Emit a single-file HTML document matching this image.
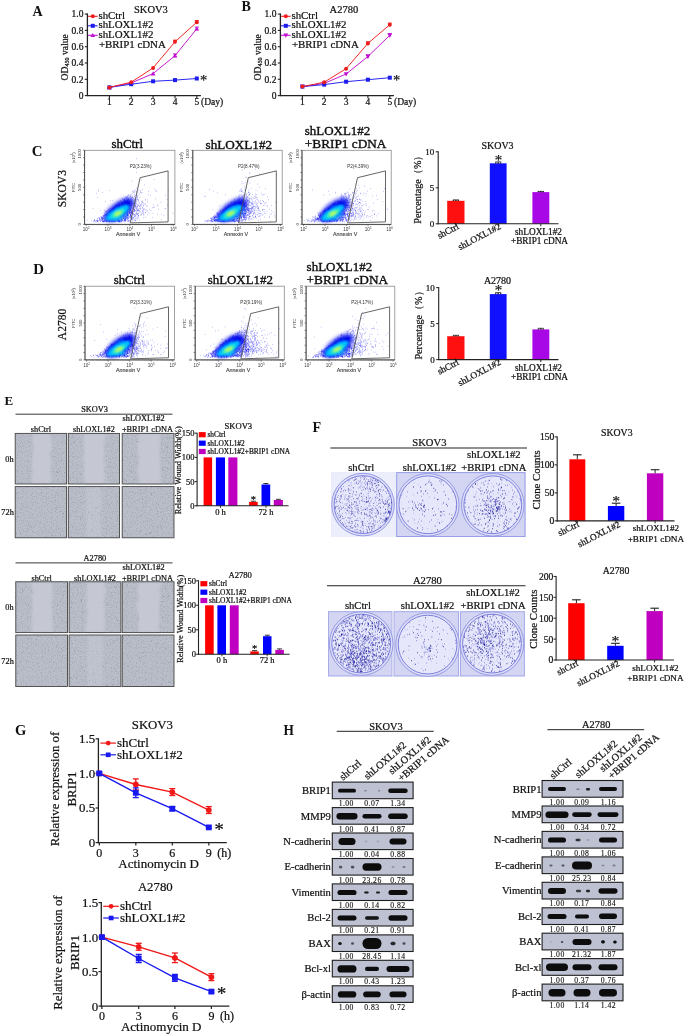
<!DOCTYPE html>
<html><head><meta charset="utf-8"><style>
html,body{margin:0;padding:0;background:#fff;}
svg{display:block;}
text{font-family:'Liberation Serif','Times New Roman',serif;}
</style></head><body>
<svg width="685" height="1035" viewBox="0 0 685 1035">
<defs><filter id="fblur" x="-50%" y="-50%" width="200%" height="200%"><feGaussianBlur stdDeviation="2"/></filter><filter id="fblur2" x="-50%" y="-50%" width="200%" height="200%"><feGaussianBlur stdDeviation="1.2"/></filter><filter id="bblur" x="-20%" y="-50%" width="140%" height="200%"><feGaussianBlur stdDeviation="0.7"/></filter><filter id="wnoise" x="0" y="0" width="100%" height="100%"><feTurbulence type="fractalNoise" baseFrequency="0.8" numOctaves="3" seed="7"/><feColorMatrix type="matrix" values="0 0 0 0 0.32  0 0 0 0 0.34  0 0 0 0 0.40  2.1 0 0 0 -0.98"/></filter><filter id="soft" x="-10%" y="-10%" width="120%" height="120%"><feGaussianBlur stdDeviation="1.1"/></filter></defs>
<text x="32.4" y="15.8" font-size="14" font-weight="bold" fill="#111">A</text>
<text x="150.9" y="12.8" font-size="10.5" text-anchor="middle" fill="#111" stroke="#111" stroke-width="0.22">SKOV3</text>
<line x1="87.4" y1="13.4" x2="87.4" y2="96.1" stroke="#222" stroke-width="1.3"/>
<line x1="86.8" y1="95.6" x2="200.9" y2="95.6" stroke="#222" stroke-width="1.3"/>
<line x1="84.8" y1="95.6" x2="87.4" y2="95.6" stroke="#222" stroke-width="1.1"/>
<text x="83.4" y="98.8" font-size="9.5" text-anchor="end" fill="#111" stroke="#111" stroke-width="0.22">0</text>
<line x1="84.8" y1="79.3" x2="87.4" y2="79.3" stroke="#222" stroke-width="1.1"/>
<text x="83.4" y="82.5" font-size="9.5" text-anchor="end" fill="#111" stroke="#111" stroke-width="0.22">0.2</text>
<line x1="84.8" y1="63" x2="87.4" y2="63" stroke="#222" stroke-width="1.1"/>
<text x="83.4" y="66.2" font-size="9.5" text-anchor="end" fill="#111" stroke="#111" stroke-width="0.22">0.4</text>
<line x1="84.8" y1="46.7" x2="87.4" y2="46.7" stroke="#222" stroke-width="1.1"/>
<text x="83.4" y="49.9" font-size="9.5" text-anchor="end" fill="#111" stroke="#111" stroke-width="0.22">0.6</text>
<line x1="84.8" y1="30.4" x2="87.4" y2="30.4" stroke="#222" stroke-width="1.1"/>
<text x="83.4" y="33.6" font-size="9.5" text-anchor="end" fill="#111" stroke="#111" stroke-width="0.22">0.8</text>
<line x1="84.8" y1="14.1" x2="87.4" y2="14.1" stroke="#222" stroke-width="1.1"/>
<text x="83.4" y="17.3" font-size="9.5" text-anchor="end" fill="#111" stroke="#111" stroke-width="0.22">1.0</text>
<line x1="109.4" y1="95.6" x2="109.4" y2="98.2" stroke="#222" stroke-width="1.1"/>
<text x="109.4" y="104.9" font-size="9.5" text-anchor="middle" fill="#111" stroke="#111" stroke-width="0.22">1</text>
<line x1="131.2" y1="95.6" x2="131.2" y2="98.2" stroke="#222" stroke-width="1.1"/>
<text x="131.2" y="104.9" font-size="9.5" text-anchor="middle" fill="#111" stroke="#111" stroke-width="0.22">2</text>
<line x1="153.1" y1="95.6" x2="153.1" y2="98.2" stroke="#222" stroke-width="1.1"/>
<text x="153.1" y="104.9" font-size="9.5" text-anchor="middle" fill="#111" stroke="#111" stroke-width="0.22">3</text>
<line x1="175" y1="95.6" x2="175" y2="98.2" stroke="#222" stroke-width="1.1"/>
<text x="175" y="104.9" font-size="9.5" text-anchor="middle" fill="#111" stroke="#111" stroke-width="0.22">4</text>
<line x1="196.8" y1="95.6" x2="196.8" y2="98.2" stroke="#222" stroke-width="1.1"/>
<text x="196.8" y="104.9" font-size="9.5" text-anchor="middle" fill="#111" stroke="#111" stroke-width="0.22">5</text>
<text x="201" y="104.9" font-size="9.5" fill="#111" stroke="#111" stroke-width="0.22">(Day)</text>
<text x="67.9" y="57.3" font-size="9.6" text-anchor="middle" fill="#111" stroke="#111" stroke-width="0.22" transform="rotate(-90 67.9 57.3)">OD<tspan font-size="6.2" dy="1.5">450</tspan><tspan dy="-1.5"> value</tspan></text>
<polyline points="109.4,87.4 131.2,83 153.1,73.6 175,55.7 196.8,28.8" fill="none" stroke="#c010d0" stroke-width="0.95"/>
<polygon points="109.4,85 107,89.2 111.8,89.2" fill="#c010d0"/>
<polygon points="131.2,80.6 128.8,84.8 133.7,84.8" fill="#c010d0"/>
<polygon points="153.1,71.2 150.7,75.4 155.5,75.4" fill="#c010d0"/>
<polygon points="175,53.3 172.6,57.5 177.4,57.5" fill="#c010d0"/>
<polygon points="196.8,26.4 194.4,30.6 199.2,30.6" fill="#c010d0"/>
<polyline points="109.4,87.4 131.2,84.2 153.1,81.3 175,80.1 196.8,78.5" fill="none" stroke="#1c1cee" stroke-width="0.95"/>
<rect x="107.4" y="85.4" width="4" height="4" fill="#1c1cee"/>
<rect x="129.2" y="82.2" width="4" height="4" fill="#1c1cee"/>
<rect x="151.1" y="79.3" width="4" height="4" fill="#1c1cee"/>
<rect x="173" y="78.1" width="4" height="4" fill="#1c1cee"/>
<rect x="194.8" y="76.5" width="4" height="4" fill="#1c1cee"/>
<polyline points="109.4,87.4 131.2,82.2 153.1,67.9 175,41.8 196.8,22.2" fill="none" stroke="#ee1c1c" stroke-width="0.95"/>
<circle cx="109.4" cy="87.4" r="2" fill="#ee1c1c"/>
<circle cx="131.2" cy="82.2" r="2" fill="#ee1c1c"/>
<circle cx="153.1" cy="67.9" r="2" fill="#ee1c1c"/>
<circle cx="175" cy="41.8" r="2" fill="#ee1c1c"/>
<circle cx="196.8" cy="22.2" r="2" fill="#ee1c1c"/>
<line x1="196.8" y1="20.6" x2="196.8" y2="23.9" stroke="#ee1c1c" stroke-width="1"/>
<line x1="194.8" y1="20.6" x2="198.8" y2="20.6" stroke="#ee1c1c" stroke-width="1"/>
<line x1="196.8" y1="27.1" x2="196.8" y2="30.4" stroke="#c010d0" stroke-width="1"/>
<line x1="194.8" y1="27.1" x2="198.8" y2="27.1" stroke="#c010d0" stroke-width="1"/>
<line x1="175" y1="40.2" x2="175" y2="43.4" stroke="#ee1c1c" stroke-width="1"/>
<line x1="173" y1="40.2" x2="177" y2="40.2" stroke="#ee1c1c" stroke-width="1"/>
<line x1="175" y1="54" x2="175" y2="57.3" stroke="#c010d0" stroke-width="1"/>
<line x1="173" y1="54" x2="177" y2="54" stroke="#c010d0" stroke-width="1"/>
<text x="203.5" y="84.8" font-size="14.5" text-anchor="middle" fill="#111" stroke="#111" stroke-width="0.22">*</text>
<line x1="88.1" y1="16.3" x2="97.6" y2="16.3" stroke="#ee1c1c" stroke-width="1.1"/>
<circle cx="92.8" cy="16.3" r="2" fill="#ee1c1c"/>
<line x1="88.1" y1="25.8" x2="97.6" y2="25.8" stroke="#1c1cee" stroke-width="1.1"/>
<rect x="90.8" y="23.8" width="4" height="4" fill="#1c1cee"/>
<line x1="88.1" y1="35.3" x2="97.6" y2="35.3" stroke="#c010d0" stroke-width="1.1"/>
<polygon points="92.8,32.9 90.4,37.1 95.2,37.1" fill="#c010d0"/>
<text x="98.4" y="18.8" font-size="10.9" fill="#111" stroke="#111" stroke-width="0.22">shCtrl</text>
<text x="98.4" y="28.3" font-size="10.9" fill="#111" stroke="#111" stroke-width="0.22">shLOXL1#2</text>
<text x="98.4" y="37.8" font-size="10.9" fill="#111" stroke="#111" stroke-width="0.22">shLOXL1#2</text>
<text x="98.9" y="48.2" font-size="10.9" fill="#111" stroke="#111" stroke-width="0.22">+BRIP1 cDNA</text>
<text x="241.4" y="11.4" font-size="14" font-weight="bold" fill="#111">B</text>
<text x="343.9" y="12.8" font-size="10.5" text-anchor="middle" fill="#111" stroke="#111" stroke-width="0.22">A2780</text>
<line x1="280.4" y1="13.4" x2="280.4" y2="96.1" stroke="#222" stroke-width="1.3"/>
<line x1="279.8" y1="95.6" x2="393.9" y2="95.6" stroke="#222" stroke-width="1.3"/>
<line x1="277.8" y1="95.6" x2="280.4" y2="95.6" stroke="#222" stroke-width="1.1"/>
<text x="276.4" y="98.8" font-size="9.5" text-anchor="end" fill="#111" stroke="#111" stroke-width="0.22">0</text>
<line x1="277.8" y1="79.3" x2="280.4" y2="79.3" stroke="#222" stroke-width="1.1"/>
<text x="276.4" y="82.5" font-size="9.5" text-anchor="end" fill="#111" stroke="#111" stroke-width="0.22">0.2</text>
<line x1="277.8" y1="63" x2="280.4" y2="63" stroke="#222" stroke-width="1.1"/>
<text x="276.4" y="66.2" font-size="9.5" text-anchor="end" fill="#111" stroke="#111" stroke-width="0.22">0.4</text>
<line x1="277.8" y1="46.7" x2="280.4" y2="46.7" stroke="#222" stroke-width="1.1"/>
<text x="276.4" y="49.9" font-size="9.5" text-anchor="end" fill="#111" stroke="#111" stroke-width="0.22">0.6</text>
<line x1="277.8" y1="30.4" x2="280.4" y2="30.4" stroke="#222" stroke-width="1.1"/>
<text x="276.4" y="33.6" font-size="9.5" text-anchor="end" fill="#111" stroke="#111" stroke-width="0.22">0.8</text>
<line x1="277.8" y1="14.1" x2="280.4" y2="14.1" stroke="#222" stroke-width="1.1"/>
<text x="276.4" y="17.3" font-size="9.5" text-anchor="end" fill="#111" stroke="#111" stroke-width="0.22">1.0</text>
<line x1="302.4" y1="95.6" x2="302.4" y2="98.2" stroke="#222" stroke-width="1.1"/>
<text x="302.4" y="104.9" font-size="9.5" text-anchor="middle" fill="#111" stroke="#111" stroke-width="0.22">1</text>
<line x1="324.2" y1="95.6" x2="324.2" y2="98.2" stroke="#222" stroke-width="1.1"/>
<text x="324.2" y="104.9" font-size="9.5" text-anchor="middle" fill="#111" stroke="#111" stroke-width="0.22">2</text>
<line x1="346.1" y1="95.6" x2="346.1" y2="98.2" stroke="#222" stroke-width="1.1"/>
<text x="346.1" y="104.9" font-size="9.5" text-anchor="middle" fill="#111" stroke="#111" stroke-width="0.22">3</text>
<line x1="367.9" y1="95.6" x2="367.9" y2="98.2" stroke="#222" stroke-width="1.1"/>
<text x="367.9" y="104.9" font-size="9.5" text-anchor="middle" fill="#111" stroke="#111" stroke-width="0.22">4</text>
<line x1="389.8" y1="95.6" x2="389.8" y2="98.2" stroke="#222" stroke-width="1.1"/>
<text x="389.8" y="104.9" font-size="9.5" text-anchor="middle" fill="#111" stroke="#111" stroke-width="0.22">5</text>
<text x="394" y="104.9" font-size="9.5" fill="#111" stroke="#111" stroke-width="0.22">(Day)</text>
<text x="260.9" y="57.3" font-size="9.6" text-anchor="middle" fill="#111" stroke="#111" stroke-width="0.22" transform="rotate(-90 260.9 57.3)">OD<tspan font-size="6.2" dy="1.5">450</tspan><tspan dy="-1.5"> value</tspan></text>
<polyline points="302.4,86.6 324.2,83.4 346.1,74 367.9,56.5 389.8,35.3" fill="none" stroke="#c010d0" stroke-width="0.95"/>
<polygon points="302.4,89 300,84.8 304.8,84.8" fill="#c010d0"/>
<polygon points="324.2,85.8 321.9,81.6 326.6,81.6" fill="#c010d0"/>
<polygon points="346.1,76.4 343.7,72.2 348.5,72.2" fill="#c010d0"/>
<polygon points="367.9,58.9 365.6,54.7 370.3,54.7" fill="#c010d0"/>
<polygon points="389.8,37.7 387.4,33.5 392.2,33.5" fill="#c010d0"/>
<polyline points="302.4,86.6 324.2,84.6 346.1,81.7 367.9,79.7 389.8,77.7" fill="none" stroke="#1c1cee" stroke-width="0.95"/>
<rect x="300.4" y="84.6" width="4" height="4" fill="#1c1cee"/>
<rect x="322.2" y="82.6" width="4" height="4" fill="#1c1cee"/>
<rect x="344.1" y="79.7" width="4" height="4" fill="#1c1cee"/>
<rect x="365.9" y="77.7" width="4" height="4" fill="#1c1cee"/>
<rect x="387.8" y="75.7" width="4" height="4" fill="#1c1cee"/>
<polyline points="302.4,86.6 324.2,82.2 346.1,68.7 367.9,43.4 389.8,24.7" fill="none" stroke="#ee1c1c" stroke-width="0.95"/>
<circle cx="302.4" cy="86.6" r="2" fill="#ee1c1c"/>
<circle cx="324.2" cy="82.2" r="2" fill="#ee1c1c"/>
<circle cx="346.1" cy="68.7" r="2" fill="#ee1c1c"/>
<circle cx="367.9" cy="43.4" r="2" fill="#ee1c1c"/>
<circle cx="389.8" cy="24.7" r="2" fill="#ee1c1c"/>
<line x1="389.8" y1="23.1" x2="389.8" y2="26.3" stroke="#ee1c1c" stroke-width="1"/>
<line x1="387.8" y1="23.1" x2="391.8" y2="23.1" stroke="#ee1c1c" stroke-width="1"/>
<line x1="389.8" y1="33.7" x2="389.8" y2="36.9" stroke="#c010d0" stroke-width="1"/>
<line x1="387.8" y1="33.7" x2="391.8" y2="33.7" stroke="#c010d0" stroke-width="1"/>
<line x1="367.9" y1="41.8" x2="367.9" y2="45.1" stroke="#ee1c1c" stroke-width="1"/>
<line x1="365.9" y1="41.8" x2="369.9" y2="41.8" stroke="#ee1c1c" stroke-width="1"/>
<line x1="367.9" y1="54.8" x2="367.9" y2="58.1" stroke="#c010d0" stroke-width="1"/>
<line x1="365.9" y1="54.8" x2="369.9" y2="54.8" stroke="#c010d0" stroke-width="1"/>
<text x="396.5" y="84.8" font-size="14.5" text-anchor="middle" fill="#111" stroke="#111" stroke-width="0.22">*</text>
<line x1="281.1" y1="16.3" x2="290.6" y2="16.3" stroke="#ee1c1c" stroke-width="1.1"/>
<circle cx="285.8" cy="16.3" r="2" fill="#ee1c1c"/>
<line x1="281.1" y1="25.8" x2="290.6" y2="25.8" stroke="#1c1cee" stroke-width="1.1"/>
<rect x="283.8" y="23.8" width="4" height="4" fill="#1c1cee"/>
<line x1="281.1" y1="35.3" x2="290.6" y2="35.3" stroke="#c010d0" stroke-width="1.1"/>
<polygon points="285.8,37.7 283.4,33.5 288.2,33.5" fill="#c010d0"/>
<text x="291.4" y="18.8" font-size="10.9" fill="#111" stroke="#111" stroke-width="0.22">shCtrl</text>
<text x="291.4" y="28.3" font-size="10.9" fill="#111" stroke="#111" stroke-width="0.22">shLOXL1#2</text>
<text x="291.4" y="37.8" font-size="10.9" fill="#111" stroke="#111" stroke-width="0.22">shLOXL1#2</text>
<text x="291.9" y="48.2" font-size="10.9" fill="#111" stroke="#111" stroke-width="0.22">+BRIP1 cDNA</text>
<text x="31.8" y="155.5" font-size="14.8" font-weight="bold" fill="#111">C</text>
<text x="66.4" y="188.6" font-size="11.5" text-anchor="middle" fill="#111" stroke="#111" stroke-width="0.22" transform="rotate(-90 66.4 188.6)">SKOV3</text>
<rect x="84.6" y="150.3" width="90.3" height="74.1" fill="#fff" stroke="#8a8a8a" stroke-width="0.8"/>
<g filter="url(#fblur)">
<ellipse cx="119.6" cy="209.8" rx="17" ry="7.5" fill="#0410e8" transform="rotate(-36 119.6 209.8)"/>
</g>
<path transform="translate(84.6 150.3) scale(0.2)" d="M259 42h2m-4 69h2m25 38h2m60-3h2m-112 7h2m60 20h2m-41 16h2m28 7h2m60-1h2m-283 4h2m53 2h2m124 2h2m-2-5h2m15 2h2m8 1h2m75 2h2m61-2h2m-353 3h2m168 5h2m1-5h2m0 1h2m6 0h2m5 2h2m-1 2h2m18-1h2m39-2h2m38-1h2m-301 10h2m27-5h2m151 2h2m4-1h2m16 3h2m12-4h2m1 2h2m3 1h2m-73 8h2m17-2h2m10 2h2m7-5h2m14 2h2m-56 8h2m6-2h2m26 1h2m1 1h2m1 0h2m4-1h2m47-3h2m9 5h2m74-2h2m-198 8h2m3-4h2m-1 3h2m11-4h2m1 5h2m-1-3h2m16 1h2m-1-1h2m9 3h2m-1-4h2m-201 7h2m133 3h2m4-2h2m-1-3h2m4 3h2m1-2h2m19 3h2m-1-2h2m1-2h2m0 2h2m20-1h2m-2 4h2m0-5h2m10 2h2m-88 6h2m-2 1h2m1 2h2m0 0h2m9-5h2m-1 2h2m-2 3h2m1-4h2m0 1h2m1 0h2m0-2h2m-1 5h2m-2-5h2m4 4h2m3-2h2m4-1h2m2 4h2m4-4h2m1 4h2m5 0h2m-1-4h2m-1 2h2m43 2h2m51-2h2m-229 7h2m69-4h2m-1 1h2m7 0h2m6 0h2m-2 1h2m7-1h2m1-1h2m0 4h2m2-2h2m0 2h2m8-1h2m-1 1h2m3-3h2m1 4h2m3-5h2m0 1h2m1 0h2m2 1h2m-2 2h2m30-1h2m8-1h2m97-2h2m-311 11h2m34-5h2m36 1h2m0 3h2m-1-3h2m-1 3h2m7-1h2m34-1h2m0 2h2m0 1h2m3-3h2m7 2h2m1-2h2m4 0h2m0 0h2m-2 0h2m3 2h2m8 1h2m13 0h2m0 0h2m-1-5h2m-123 6h2m-1 5h2m-1-4h2m0 4h2m9-4h2m-1 4h2m41-4h2m2 2h2m-1 1h2m-2-4h2m3 2h2m5 2h2m7 0h2m2-2h2m16 2h2m15-1h2m-1 2h2m21-4h2m65 0h2m-222 8h2m1-1h2m2-2h2m56 0h2m-1 0h2m-1 5h2m-2-5h2m4 3h2m5-2h2m-1 3h2m-2-3h2m0 1h2m0-1h2m5 0h2m0 1h2m3 1h2m9 1h2m11-2h2m5-2h2m8 3h2m-146 3h2m0 0h2m1 0h2m2 2h2m58 1h2m-1-3h2m-1 1h2m0 2h2m-2-3h2m1 2h2m1-2h2m-1 0h2m3 1h2m1 4h2m2-1h2m1-1h2m10-1h2m2 3h2m1 0h2m5-4h2m6 2h2m8-3h2m4 1h2m39 1h2m18 2h2m49 0h2m-192 6h2m3-2h2m0 1h2m1-1h2m-1 3h2m6-5h2m2 5h2m0-5h2m0 4h2m-1 1h2m-2-2h2m1-3h2m-2 1h2m0 4h2m4-3h2m-1 2h2m6-1h2m1 1h2m0-2h2m1-1h2m3 1h2m5-2h2m-2 2h2m15 2h2m2-2h2m51-1h2m-228 6h2m0 0h2m-1 4h2m85-4h2m2 2h2m0 2h2m3-4h2m7 1h2m1 3h2m4-1h2m1-4h2m12 2h2m10 2h2m49 1h2m2-1h2m3-3h2m-309 8h2m79 2h2m0-1h2m1 1h2m12-5h2m93 0h2m-1 4h2m-2-2h2m0 3h2m7 0h2m6-4h2m0 2h2m-2 2h2m2-5h2m11 3h2m0 1h2m1 1h2m4-4h2m-1-1h2m6 4h2m0 1h2m71 0h2m29 0h2m1-2h2m-288 6h2m0 0h2m111-3h2m7 2h2m4 2h2m-1 0h2m-2-2h2m-1 3h2m7-2h2m2-2h2m1 2h2m-1 2h2m1-4h2m21 1h2m6 2h2m3-2h2m16-1h2m-249 7h2m19-1h2m11 0h2m1 0h2m0 0h2m0 2h2m126 2h2m0-2h2m0-3h2m-2 3h2m-1 1h2m0-2h2m1 3h2m3-3h2m0 0h2m0-1h2m-2 1h2m1-2h2m0 3h2m2-2h2m10 3h2m1 1h2m0-5h2m-2 1h2m16 3h2m1-3h2m17 0h2m-229 9h2m138-4h2m12 3h2m15-2h2m-1 3h2m13 0h2m2-1h2m6 2h2m-208 3h2m-2 3h2m145-3h2m-1 2h2m10-3h2m1 3h2m-1-1h2m4-1h2m-1 3h2m13-3h2m6 2h2m3-1h2m5-3h2m16 1h2m18 3h2m98-1h2m-202 7h2m1 0h2m4 0h2m-2-1h2m3-3h2m-1 2h2m-1-1h2m3 1h2m-1 0h2m0-1h2m18 4h2m-2-3h2m7 2h2m16 1h2m50-3h2m17 1h2m-293 7h2m-1-2h2m-2 0h2m140 2h2m4-4h2m8 3h2m0 0h2m-1 1h2m5-4h2m4 5h2m0-4h2m-1 1h2m-2 2h2m6-4h2m16 0h2m98 3h2m-319 5h2m1-1h2m3 4h2m-2-1h2m146-3h2m-1 1h2m2 2h2m7-4h2m-1 0h2m-1 0h2m4 5h2m5-1h2m1 1h2m36 0h2m-237 2h2m-1 0h2m0 3h2m-2 0h2m0 0h2m150-2h2m0 0h2m0 1h2m-1 1h2m0 0h2m0-2h2m-1-1h2m0 2h2m2-1h2m0-2h2m-1 0h2m5 3h2m39-1h2m42-2h2m-291 10h2m-1-1h2m10-3h2m11 3h2m-2 0h2m-1-2h2m-1 3h2m135 1h2m-1-1h2m16-4h2m-1 4h2m-2 0h2m-2-1h2m1-2h2m0 2h2m1-2h2m4 3h2m6-3h2m5-1h2m1 0h2m115 4h2m-372 4h2m19 3h2m6-1h2m6 1h2m-2-1h2m-2 0h2m5-2h2m-2 2h2m3-1h2m-2-2h2m-2 4h2m0-4h2m3 3h2m4-1h2m-1-1h2m-2-1h2m0-1h2m125 4h2m4-3h2m3 3h2m0-1h2m0 2h2m2-3h2m0 3h2m2-3h2m7-1h2m8 1h2m1 1h2m-1 1h2m1-2h2m16-1h2m-232 8h2m8-3h2m-1 2h2m0 1h2m3-3h2m-1 1h2m-2 0h2m0 1h2m3 2h2m6-3h2m-1 1h2m7-2h2m109 3h2m4-2h2m8 1h2m1 0h2m2-2h2m16 4h2" stroke="#3434f4" stroke-width="3.5" fill="none"/>
<path transform="translate(84.6 150.3) scale(0.2)" d="M198 249h2m-1-1h2m-1 2h2m8-1h2m-1-1h2m0 2h2m3-1h2m-26 4h2m2 2h2m-2 0h2m0 0h2m0-2h2m-1 3h2m-2-4h2m0 4h2m-2-2h2m3 2h2m0-1h2m-1-2h2m0 0h2m-2 2h2m-1-1h2m4 1h2m-39 7h2m-1 0h2m0-2h2m3-2h2m1 2h2m-2 1h2m0-2h2m0 1h2m0 0h2m-2-1h2m-1-1h2m-1 2h2m-2 2h2m-2-1h2m0 2h2m-2 0h2m0-3h2m2 0h2m-1 3h2m2-5h2m0 2h2m2-2h2m-54 7h2m-2 0h2m2 0h2m-2 2h2m5 1h2m0 1h2m-2-2h2m7-2h2m-1 4h2m1 0h2m5-5h2m0 0h2m0 3h2m1 1h2m0-4h2m-1 5h2m1-5h2m-1 3h2m-67 5h2m0 2h2m2-1h2m1 1h2m-1 1h2m6-1h2m1 0h2m-2-2h2m-2 1h2m4-1h2m1-1h2m-1-1h2m0 0h2m-1 0h2m-2 1h2m2-1h2m3 0h2m14 0h2m3 3h2m0 1h2m-75 6h2m5-3h2m-1 0h2m3 3h2m0-2h2m6 0h2m0-1h2m0 2h2m-2-3h2m-1 4h2m-1-2h2m-1 2h2m31-4h2m-2 0h2m1 1h2m-2 0h2m-1 0h2m0 3h2m4-2h2m-1-2h2m-78 8h2m0 2h2m-1-3h2m0 1h2m66 0h2m-1-1h2m2 2h2m-91 7h2m1-2h2m-2 2h2m1 1h2m-1-4h2m-1 3h2m0-4h2m72 0h2m1 1h2m-2 2h2m5 0h2m-1 2h2m-109 4h2m2 2h2m3-3h2m2-1h2m81 0h2m2 1h2m-1-2h2m1 4h2m0-4h2m-2 3h2m-2 2h2m-107 5h2m0-1h2m-2-1h2m96-1h2m0 3h2m0-3h2m1 1h2m1 1h2m-2 0h2m2-1h2m0-1h2m-137 8h2m-1-3h2m-1 1h2m0 0h2m106 4h2m3-4h2m-2 4h2m-1-4h2m-1 4h2m-1 0h2m1 0h2m1-1h2m-2 0h2m-2-2h2m-2 0h2m-1 2h2m-1-1h2m-2-1h2m3 0h2m-1-1h2m-1-1h2m-134 8h2m-2 3h2m111-2h2m-1-3h2m-1 4h2m0 0h2m-2-2h2m4 0h2m1-1h2m-2 2h2m-1 2h2m1-2h2m-139 6h2m0 2h2m0-4h2m-1 0h2m2 0h2m106 2h2m7 2h2m-1-5h2m-1 4h2m-1-1h2m-1-3h2m0 0h2m2 1h2m-139 8h2m-2-2h2m-2-1h2m-1 2h2m0 1h2m112 1h2m-1 1h2m-2-5h2m6 0h2m0 5h2m-1-3h2m-1-1h2m-1-1h2m-2 2h2m-140 6h2m0-1h2m-2 4h2m121 0h2m3-3h2m-1 2h2m1-3h2m-1 2h2m-2 1h2m-148 5h2m-1-2h2m-2 0h2m0 4h2m-2-2h2m-1 0h2m-2 0h2m-1-1h2m-1-1h2m5 2h2m113 0h2m-1 2h2m-1-5h2m0 4h2m-2-1h2m4 0h2m-135 5h2m-1 2h2m-2-2h2m0-2h2m-1 1h2m-1 0h2m0-1h2m102 5h2m-1 0h2m-1-2h2m1 0h2m-1 0h2m-2-1h2m-1 1h2m10-3h2m-1 0h2m-137 9h2m-1-3h2m0 3h2m-2-3h2m1 1h2m1 3h2m2 1h2m3 0h2m18 0h2m2 0h2m-2 0h2m1-1h2m-1 1h2m2-1h2m47 1h2m12-2h2m-1 1h2m-2-3h2m-1 1h2m2-2h2m-2 4h2m-1-3h2m-1 3h2m0-3h2m-119 7h2m-1-2h2m-1 4h2m-2-3h2m-1 2h2m-1 0h2m-2-2h2m-1 1h2m2 0h2m-1 0h2m-2-1h2m1 0h2m-1 1h2m2-2h2m0 3h2m-2-2h2m-1 0h2m-1 0h2m0-1h2m-1 2h2m3-1h2m-1 0h2m1 2h2m-1-2h2m-1 1h2m6-1h2m-2 0h2m-2 0h2m41-1h2m0 4h2m-2-1h2m2-1h2m-2-1h2m-1 2h2m6-3h2m-2 1h2" stroke="#0c0cf0" stroke-width="3.5" fill="none"/>
<path transform="translate(84.6 150.3) scale(0.2)" d="M202 265h2m2 4h2m-26 6h2m3-1h2m-1 0h2m1-1h2m-1 0h2m-1 2h2m3-1h2m-1-1h2m-1 2h2m0 0h2m1-3h2m-1-1h2m-2 2h2m-1 0h2m-1-2h2m-53 10h2m0 0h2m16-5h2m-2 2h2m-1 3h2m0 0h2m-2 0h2m1-1h2m-2 1h2m-1 0h2m-2-1h2m-1-4h2m-2 1h2m-2 2h2m1 1h2m-1-2h2m1 2h2m1-2h2m-2 1h2m-1-3h2m-1 4h2m-2-4h2m-1 2h2m-1 0h2m-1 2h2m-1-1h2m-1-1h2m-2 1h2m-2-1h2m-2 1h2m-1-3h2m-1 5h2m1-4h2m-2 0h2m2 4h2m-61 4h2m-2 0h2m-1-1h2m0-2h2m1 5h2m-2-2h2m1 0h2m-2 0h2m0 2h2m0-3h2m0 2h2m1-4h2m0 4h2m2 1h2m1-1h2m1-2h2m1 0h2m-2-2h2m-2 4h2m0 0h2m-2 0h2m1-2h2m-1 3h2m-2-4h2m4-1h2m0 1h2m0-1h2m-1 0h2m-1 4h2m0-1h2m-2-3h2m-2 3h2m-1-3h2m-1 0h2m0 5h2m0-4h2m-2-1h2m-2 0h2m-1 1h2m2 4h2m-73 4h2m1 0h2m-2 1h2m-1 0h2m-2-2h2m0 2h2m4-4h2m8 0h2m12 0h2m3 0h2m12 0h2m9 0h2m-2 2h2m-2 0h2m1 0h2m-2 3h2m-2-2h2m-1-2h2m-78 9h2m8-4h2m-1 0h2m-1 1h2m56 1h2m-2 0h2m-1 1h2m-2-2h2m-2 1h2m-1 1h2m-2-3h2m-2 4h2m-1-1h2m0-2h2m-1 0h2m1 1h2m2 1h2m-96 8h2m0-4h2m-2 1h2m-1-1h2m0-1h2m-1 3h2m-2-3h2m-2 3h2m0-2h2m4 3h2m-2-3h2m-2 1h2m-1 1h2m-1 0h2m-2-2h2m62 4h2m2-3h2m-2-1h2m-1-1h2m0 1h2m-2 1h2m3 1h2m-2 1h2m0-1h2m-112 6h2m0 0h2m-2-1h2m0 3h2m1-2h2m-2-1h2m-2 1h2m1-1h2m-1 3h2m-1-4h2m-1 2h2m-1 2h2m-1-1h2m-1 0h2m80 1h2m0-2h2m-1 2h2m0 0h2m-2-3h2m-7 5h2m-1 2h2m-1-3h2m-1 4h2m-1-2h2m0 2h2m-112 6h2m2 0h2m-2-1h2m-1 1h2m98-1h2m-1 0h2m-1 1h2m-1-3h2m-1 3h2m-2-1h2m-112 5h2m-2-1h2m0 2h2m-2 0h2m-1-3h2m0 4h2m-1-3h2m-1 0h2m94 2h2m-1-3h2m1 1h2m-2 3h2m-2 0h2m-2-4h2m-1 5h2m-2-3h2m-2 2h2m0-3h2m-2 1h2m-1-2h2m-121 11h2m-1 0h2m0-4h2m-2 1h2m0 3h2m98-4h2m-2 1h2m-1 3h2m-1-1h2m-1-3h2m-2 1h2m0-2h2m0 5h2m-1-3h2m-2 2h2m0 0h2m-2 1h2m-117 5h2m-1-4h2m1 1h2m0 3h2m88-3h2m-2 1h2m-1 1h2m-1 1h2m-2-2h2m0-2h2m-2 4h2m0 0h2m-2-3h2m-1 0h2m1 3h2m0 0h2m-2-1h2m0 2h2m1-5h2m-116 7h2m-2 4h2m-1-3h2m-1 2h2m-2-2h2m1 1h2m-1-2h2m-1 1h2m3 0h2m-1 3h2m73-2h2m0 0h2m-1 1h2m5-3h2m4 1h2m1-1h2m1 0h2m-109 6h2m-2 2h2m-1-1h2m-1 1h2m0-3h2m-1 2h2m1-1h2m-2-1h2m0 3h2m-2 0h2m-2-1h2m-2 0h2m0-2h2m-2 3h2m24 2h2m-2 0h2m0 0h2m0 0h2m4 0h2m1 0h2m-1 0h2m-2 0h2m11 0h2m1 0h2m2-1h2m1 0h2m8-4h2m-1 1h2m-2-1h2m1 2h2m-1-2h2m-1 1h2m-1 0h2m-53 5h2m-1 3h2m2-2h2m-2 1h2m-2 0h2m-1 0h2m-1 0h2m1-2h2m-2 0h2m-1 1h2m0-1h2m-1 4h2m3-3h2m0 1h2m-1-1h2m-1-1h2m0 0h2m-1 0h2m-1 0h2m-1 3h2m-1-3h2m-2 0h2m-2 0h2m-2 0h2m0 3h2m0-1h2m-1-1h2m-2 0h2m-2 3h2m-2 0h2m-2 0h2m-2-4h2m-1 0h2" stroke="#0040ff" stroke-width="3.5" fill="none"/>
<path transform="translate(84.6 150.3) scale(0.2)" d="M153 291h2m-1-2h2m0 0h2m1 0h2m-1 4h2m-2-1h2m-2-3h2m-1 0h2m-1 2h2m-1-3h2m-2 4h2m-2 1h2m-1-4h2m0 3h2m-1 1h2m-1-1h2m-1-2h2m0-1h2m-1 1h2m0-2h2m-2 2h2m-1 1h2m0 2h2m-2 0h2m-1-1h2m-1-4h2m-1 4h2m-2-2h2m-2 1h2m-1 2h2m-2-2h2m-2-3h2m-2 4h2m-1 1h2m0-4h2m-1 2h2m0 1h2m-2 0h2m0 0h2m-2-2h2m3 0h2m0 2h2m-1-3h2m-1 4h2m-1-2h2m-2-3h2m-1 1h2m-1 1h2m0 3h2m2 0h2m-62 4h2m-1-1h2m-1 3h2m1-4h2m2 1h2m-2-1h2m4-1h2m3 1h2m1-1h2m-1 1h2m-2 1h2m1-2h2m1 2h2m-2-2h2m2 2h2m1 3h2m0-5h2m0 3h2m-2 2h2m0-4h2m1 3h2m-1 0h2m-2-4h2m0 1h2m0 2h2m-1-1h2m2 2h2m-1 1h2m-2-2h2m-1 2h2m-1-1h2m-2-2h2m-1 0h2m-2 2h2m-2-2h2m-1 2h2m-2 1h2m-77 6h2m10-3h2m-2-1h2m-1-1h2m-1 0h2m0 2h2m-1-1h2m-1 0h2m-1 2h2m30 0h2m-2 0h2m-1 1h2m1-4h2m-1 2h2m0-1h2m0 0h2m1 2h2m-1 0h2m-1-3h2m-1 2h2m0-1h2m1 0h2m-1 4h2m-2-5h2m1 4h2m-79 4h2m-1 1h2m-1 1h2m-1 1h2m0 0h2m63-4h2m-2 3h2m-2-2h2m-1-1h2m-2-1h2m-2 5h2m2-5h2m-2 1h2m-2 4h2m-1-2h2m-97 5h2m-1 1h2m-1 0h2m-2-1h2m-2 2h2m-1-2h2m-1 1h2m-2 2h2m1-2h2m-2 0h2m-1 0h2m-2-3h2m0 0h2m-2 4h2m-2-3h2m-1 2h2m2-2h2m-2 3h2m-2-2h2m2-2h2m60 3h2m-2 0h2m-2 0h2m0-3h2m-1 5h2m-1-4h2m-1 3h2m-1-1h2m-1-2h2m-1 3h2m-2-4h2m-2 5h2m-1-1h2m-1-4h2m-1 1h2m-2 4h2m2-2h2m-96 5h2m-2 1h2m0 0h2m-1-3h2m-1 4h2m0-3h2m0-1h2m0 1h2m1-1h2m64 5h2m-2 0h2m0-3h2m-1 2h2m-1 0h2m0 1h2m1 0h2m-1 0h2m1-5h2m-1 1h2m-2 4h2m-1-4h2m-2 4h2m-103 5h2m2 0h2m-1 1h2m0-1h2m-1-2h2m1-1h2m-1 1h2m-2-2h2m72 0h2m0 3h2m-2-1h2m0 3h2m-1-2h2m-1 0h2m-1 0h2m-2-3h2m0 1h2m4 2h2m-106 8h2m-1 0h2m-2-4h2m3 4h2m-2-4h2m-2 3h2m-1-3h2m79-1h2m-1 3h2m-2-2h2m-1 4h2m-2-1h2m-2-4h2m0 0h2m1 1h2m-97 10h2m2-2h2m-1-3h2m-2 1h2m1-1h2m71 3h2m-2 1h2m-1-3h2m2 2h2m-87 3h2m4 1h2m1 3h2m0-2h2m-1 2h2m-1-2h2m-1 3h2m-2-3h2m-2 0h2m-1 3h2m1 0h2m-2-2h2m-1-1h2m-1 2h2m-1 1h2m0-3h2m-2 1h2m0 0h2m-1 0h2m1-1h2m-1 1h2m-2 1h2m31 1h2m-2-2h2m0 2h2m-1-2h2m-2 2h2m-1-2h2m-1 0h2m4 0h2m0 2h2m0-1h2m-1-1h2m-1-3h2m1 1h2m-78 5h2m0 0h2m0 3h2m-2 0h2m-2 0h2m-1 0h2m-2-1h2m-1 2h2m0 0h2m0-2h2m4 1h2m-1-1h2m1 0h2m-1-2h2m0 0h2m-2 1h2m-2 0h2m31 0h2m-1 1h2m-2-1h2m-2 0h2m3 2h2m-1-1h2m-1 0h2m-1 1h2m0 0h2m-2-3h2m3 2h2" stroke="#006dff" stroke-width="3.5" fill="none"/>
<path transform="translate(84.6 150.3) scale(0.2)" d="M153 298h2m-1-1h2m-1 1h2m-2 1h2m-1 0h2m-2 0h2m-1-1h2m-1 1h2m-2-1h2m0 1h2m1-1h2m0 0h2m-2 1h2m0 0h2m1 0h2m1-3h2m-1 1h2m-2 0h2m0 2h2m-2 0h2m-1-2h2m2 1h2m-1-1h2m-1 0h2m-49 8h2m2 0h2m2 0h2m0 0h2m1 0h2m4-4h2m0 0h2m-1 0h2m-2-1h2m-1 1h2m-2 2h2m-2-3h2m-2 2h2m1-2h2m-1 3h2m-1-3h2m-1 3h2m1-2h2m0 1h2m-2-1h2m-1 0h2m-2 1h2m-1-1h2m-2-1h2m-1 3h2m-1-3h2m-2 3h2m-1 0h2m-1 0h2m-1 2h2m0-5h2m-2 1h2m-1 2h2m-2-3h2m-1 0h2m-2 4h2m0-4h2m-2 4h2m-1-2h2m-2 0h2m1 3h2m5 0h2m0-1h2m1 0h2m-63 6h2m-1-3h2m-1 4h2m-1-3h2m-2-2h2m-1 3h2m-2-1h2m-2 0h2m-1-1h2m-1 1h2m-2-1h2m-1 3h2m1 1h2m-1-5h2m-1 3h2m-1 0h2m-2-3h2m23 5h2m-1-1h2m-1 1h2m-1 0h2m2-3h2m-2 2h2m0-3h2m-2 2h2m-1 1h2m-2-4h2m-1 5h2m-2-2h2m0 1h2m-1 1h2m-1-1h2m0 1h2m-2-4h2m-1-1h2m-2 0h2m-1 0h2m-1 2h2m0-1h2m-2-1h2m-1 0h2m-2 5h2m-73 6h2m-1 0h2m-2 0h2m-1-2h2m-2-1h2m-1-2h2m-1 3h2m-2 2h2m-2-4h2m0 1h2m-2 2h2m-2 1h2m-2 0h2m-2-1h2m-1-2h2m0 0h2m0 0h2m0 1h2m-2 1h2m-1-2h2m-1-2h2m34 5h2m-2-4h2m-1-1h2m-2 3h2m-1 2h2m-2-2h2m1-3h2m-2 2h2m-2 3h2m-1-3h2m-1 0h2m-2-2h2m2 2h2m-1-1h2m-1 4h2m-69 5h2m3-1h2m-1-2h2m2 4h2m1-5h2m2 0h2m-2 0h2m-2 0h2m33 1h2m-2 0h2m-2 2h2m-1 1h2m-1 1h2m-2-2h2m-1-1h2m-2 1h2m-2-2h2m-1 4h2m0-2h2m-2-2h2m-2-1h2m-1 3h2m-2-3h2m-1 3h2m2-3h2m-1 2h2m-2 0h2m-2 2h2m-1 0h2m-1-2h2m-76 9h2m-1 0h2m0-3h2m-2 3h2m0-5h2m-1 5h2m0 0h2m-2-1h2m-2-1h2m-2-2h2m-2 0h2m-1 2h2m-2-2h2m-2 2h2m0 1h2m-1-1h2m0 0h2m-1-1h2m-2 1h2m-2-3h2m0 0h2m-2 1h2m39 4h2m-2 0h2m-1-1h2m-1 1h2m-1-1h2m-1 1h2m-2 0h2m-1 0h2m-1-1h2m-1-4h2m-1 4h2m-2 1h2m-1-3h2m-2-2h2m-1 2h2m-1-2h2m-2 1h2m-2 1h2m0 2h2m-2-2h2m-2 3h2m-2-2h2m-1 2h2m0-2h2m-82 4h2m2 0h2m-1 1h2m-2-1h2m-1 0h2m-2 2h2m1-3h2m-2 4h2m0 1h2m-1-4h2m-2 0h2m-1-1h2m-2 3h2m0 0h2m-2-1h2m-1 1h2m50 0h2m-2 0h2m-1-2h2m-2 1h2m0 2h2m-1 0h2m-1-3h2m-2 3h2m-1-2h2m0 1h2m-1 1h2m-1-4h2m-80 8h2m-1 3h2m-2-5h2m0 2h2m-1-2h2m-1 5h2m-1-5h2m-1 0h2m-1 0h2m-1 5h2m-2-4h2m-2 3h2m-1 0h2m-2 1h2m-1-4h2m-2 2h2m-1 0h2m-2 2h2m-2-3h2m-2 1h2m-1-2h2m-2 4h2m-2-3h2m-1-1h2m-1 4h2m48-4h2m-1-1h2m0 2h2m-2-2h2m-1 4h2m-1-4h2m-2 2h2m-1 1h2m-69 4h2m-1 1h2m-1-1h2m1-1h2m-2 1h2m0 0h2m0-1h2m10 4h2m2-1h2m-2 2h2m-1-1h2m-1 1h2m-2-1h2m-1 1h2m0-3h2m-2 1h2m1 0h2m-2 0h2m1 2h2m-2-1h2m0-1h2m0 0h2m0 0h2m-1 1h2m0-1h2m-1 1h2m0-2h2m-1 2h2m10-4h2m1 0h2m0 1h2m-1-1h2m-48 9h2m-1-2h2m2-1h2m-1 0h2m0 1h2m1-1h2m-2 2h2m-2-2h2m0 1h2m-2-1h2m-1 3h2m0 0h2m-2-2h2m0-1h2m0 0h2m-2 4h2m0 0h2m-2-2h2m-1 1h2m-2-2h2m-1 0h2m2 2h2" stroke="#009aff" stroke-width="3.5" fill="none"/>
<path transform="translate(84.6 150.3) scale(0.2)" d="M155 305h2m1 0h2m-2 0h2m-1 0h2m2 0h2m-1 0h2m1 0h2m-1 0h2m3 0h2m-1-1h2m-23 2h2m-1 0h2m1 3h2m-2-2h2m-2 4h2m-1 0h2m-1-1h2m-2-3h2m-1 0h2m-2 2h2m-1 2h2m-1-2h2m-2-2h2m2 3h2m-1-3h2m-1 0h2m-2 1h2m-2-2h2m-1 2h2m-2 2h2m-1-3h2m-2 3h2m-2-4h2m-1 1h2m-2 0h2m-1 4h2m-1-2h2m0 2h2m-31 3h2m-2 0h2m0 0h2m-2 3h2m-2-3h2m-1 0h2m-1 3h2m-1-3h2m-1-1h2m-2 1h2m0-1h2m-2 0h2m0 2h2m-1-2h2m-1 2h2m-2-3h2m-1 3h2m-1-2h2m-1 2h2m-1 2h2m-2-2h2m-1-2h2m-2-1h2m-1 0h2m-1 5h2m-1-3h2m-2 0h2m-2 2h2m-1-3h2m0 2h2m0 0h2m-1 2h2m-1-2h2m-2-1h2m-1 3h2m-2-3h2m0-1h2m-40 10h2m-2-3h2m-1 2h2m-2-1h2m-1 2h2m-1-2h2m-1 0h2m1 0h2m-1 0h2m-2-1h2m-2 2h2m-2-4h2m-1 2h2m-1 2h2m-1-1h2m-2-1h2m-1 0h2m-1 0h2m-2-2h2m-2 1h2m-1 1h2m-1 3h2m-1-4h2m-2 0h2m-2 3h2m-1 0h2m-1-2h2m-1 0h2m0 1h2m-1-3h2m2 1h2m-1 3h2m-2-3h2m-1 4h2m-2 0h2m-1-3h2m-1 2h2m-1-3h2m-1-1h2m-2 2h2m-2 3h2m-1 0h2m-1 0h2m-1-4h2m-2 4h2m-1-3h2m-2 3h2m-2-2h2m-1 0h2m-2-3h2m-2 0h2m-45 11h2m2-3h2m-1-2h2m0 3h2m-2-2h2m-2 4h2m-1-2h2m-2-2h2m-1 4h2m1-2h2m-2 0h2m-2-1h2m-2 0h2m0-2h2m-1 3h2m-2-1h2m1-1h2m-1 0h2m-2 4h2m-1-3h2m-1 1h2m0-2h2m-2 0h2m-2-1h2m-1 1h2m-1 3h2m-2 1h2m-2-4h2m-1 1h2m-2-1h2m-2 0h2m-1 1h2m0-2h2m-1 3h2m-1-3h2m-1 3h2m-2-1h2m-1 3h2m-2 0h2m-1-5h2m-2 0h2m-2 1h2m-1 3h2m0-4h2m0 3h2m-1 2h2m-2-1h2m-1-1h2m-2 2h2m-1-4h2m-46 5h2m-1 1h2m0 2h2m-2-2h2m1-1h2m-2 4h2m-1 1h2m-2-2h2m-2 2h2m-1 0h2m-1-3h2m-2 0h2m-1 0h2m-2 3h2m-1-4h2m2 1h2m-2-2h2m-1 5h2m-2-1h2m0-2h2m-2 3h2m-2-4h2m-1 3h2m-1-4h2m-2 4h2m-2-1h2m-1 0h2m1-2h2m-1 2h2m-2-1h2m-2 0h2m0 2h2m-2-2h2m-1-2h2m-1 5h2m0-2h2m-2-2h2m-1 2h2m-2-3h2m-2 5h2m-1-2h2m-2-3h2m-2 1h2m0 1h2m-2 0h2m-1 2h2m-2-4h2m-2 1h2m-1 0h2m-1-1h2m-2 4h2m-1-3h2m-2-1h2m-1 3h2m-1 0h2m-2 0h2m-1 2h2m-1-5h2m-2 2h2m0 3h2m-49 1h2m-1 4h2m-2-2h2m0-1h2m-1 4h2m-1-4h2m-1 2h2m-1 2h2m-2-4h2m-2 0h2m-2 3h2m-1-1h2m-1-1h2m-1 3h2m-2-5h2m-1 1h2m-1 3h2m0 0h2m-2 1h2m-2-2h2m-1 2h2m-2-5h2m-1 4h2m0-3h2m-2 1h2m-1 0h2m-2-2h2m-1 3h2m-1-3h2m-2 1h2m-1-1h2m-2 0h2m0 5h2m-2 0h2m0-4h2m-2 0h2m-1 3h2m-1-1h2m-2-2h2m-1 3h2m-2 0h2m-1-1h2m-2 2h2m-2-1h2m-1-2h2m-2 0h2m-2-2h2m-1 0h2m-2 2h2m-1-1h2m-2 0h2m-1 4h2m0-4h2m-2 2h2m-2 0h2m-1-1h2m-2 2h2m-2 0h2m-1-1h2m-1 2h2m1-2h2m0-2h2m-2 0h2m0 2h2m-1-3h2m-47 7h2m-1-1h2m-2 1h2m1 1h2m-2-1h2m-1-1h2m-2 2h2m-1-1h2m-1-1h2m-1 0h2m0 0h2m-1 2h2m2 0h2m0-1h2m-2-1h2m2 1h2m-2-1h2m-1 2h2m0-2h2m-2 1h2m0 0h2m-2 1h2m-2-1h2m1-1h2m0 0h2m-1 0h2m0 1h2m0 0h2m0 0h2m1 0h2m-2 1h2m-1-1h2m-1-1h2m-1 0h2m-2 0h2m0 0h2m-2 2h2" stroke="#00c6ff" stroke-width="3.5" fill="none"/>
<g filter="url(#fblur2)">
<ellipse cx="118.1" cy="212.6" rx="13" ry="4.3" fill="#00c0ff" transform="rotate(-31 118.1 212.6)"/>
<ellipse cx="118.1" cy="213.5" rx="7.5" ry="2.8" fill="#30f0b0" transform="rotate(-29 118.1 213.5)"/>
<ellipse cx="118.1" cy="213.5" rx="3.8" ry="1.6" fill="#b8ff40" transform="rotate(-26 118.1 213.5)"/>
</g>
<path d="M130.3 222.9 L140.1 177.7 L168.1 170.9 L168.1 221.9 L130.3 222.9" fill="none" stroke="#555" stroke-width="0.9"/>
<text x="140.6" y="168.3" font-size="4.6" text-anchor="middle" fill="#333" style="font-family:'Liberation Sans',Arial,sans-serif">P2(3.23%)</text>
<path d="M84.6 150.3V224.4H174.9" fill="none" stroke="#444" stroke-width="0.9"/>
<line x1="83" y1="224.4" x2="84.6" y2="224.4" stroke="#444" stroke-width="0.6"/>
<line x1="83" y1="217" x2="84.6" y2="217" stroke="#444" stroke-width="0.6"/>
<line x1="83" y1="209.6" x2="84.6" y2="209.6" stroke="#444" stroke-width="0.6"/>
<line x1="83" y1="202.2" x2="84.6" y2="202.2" stroke="#444" stroke-width="0.6"/>
<line x1="83" y1="194.8" x2="84.6" y2="194.8" stroke="#444" stroke-width="0.6"/>
<line x1="83" y1="187.4" x2="84.6" y2="187.4" stroke="#444" stroke-width="0.6"/>
<line x1="83" y1="179.9" x2="84.6" y2="179.9" stroke="#444" stroke-width="0.6"/>
<line x1="83" y1="172.5" x2="84.6" y2="172.5" stroke="#444" stroke-width="0.6"/>
<line x1="83" y1="165.1" x2="84.6" y2="165.1" stroke="#444" stroke-width="0.6"/>
<line x1="83" y1="157.7" x2="84.6" y2="157.7" stroke="#444" stroke-width="0.6"/>
<line x1="83" y1="150.3" x2="84.6" y2="150.3" stroke="#444" stroke-width="0.6"/>
<line x1="86.2" y1="224.4" x2="86.2" y2="226.2" stroke="#444" stroke-width="0.6"/>
<line x1="92.8" y1="224.4" x2="92.8" y2="225.4" stroke="#666" stroke-width="0.4"/>
<line x1="96.6" y1="224.4" x2="96.6" y2="225.4" stroke="#666" stroke-width="0.4"/>
<line x1="99.3" y1="224.4" x2="99.3" y2="225.4" stroke="#666" stroke-width="0.4"/>
<line x1="101.4" y1="224.4" x2="101.4" y2="225.4" stroke="#666" stroke-width="0.4"/>
<line x1="103.1" y1="224.4" x2="103.1" y2="225.4" stroke="#666" stroke-width="0.4"/>
<line x1="104.6" y1="224.4" x2="104.6" y2="225.4" stroke="#666" stroke-width="0.4"/>
<line x1="105.9" y1="224.4" x2="105.9" y2="225.4" stroke="#666" stroke-width="0.4"/>
<line x1="107" y1="224.4" x2="107" y2="225.4" stroke="#666" stroke-width="0.4"/>
<text x="86.2" y="231" font-size="4.6" text-anchor="middle" fill="#3a3a3a" style="font-family:'Liberation Sans',Arial,sans-serif">10<tspan font-size="3" dy="-1.8">2</tspan></text>
<line x1="108" y1="224.4" x2="108" y2="226.2" stroke="#444" stroke-width="0.6"/>
<line x1="114.5" y1="224.4" x2="114.5" y2="225.4" stroke="#666" stroke-width="0.4"/>
<line x1="118.4" y1="224.4" x2="118.4" y2="225.4" stroke="#666" stroke-width="0.4"/>
<line x1="121.1" y1="224.4" x2="121.1" y2="225.4" stroke="#666" stroke-width="0.4"/>
<line x1="123.2" y1="224.4" x2="123.2" y2="225.4" stroke="#666" stroke-width="0.4"/>
<line x1="124.9" y1="224.4" x2="124.9" y2="225.4" stroke="#666" stroke-width="0.4"/>
<line x1="126.4" y1="224.4" x2="126.4" y2="225.4" stroke="#666" stroke-width="0.4"/>
<line x1="127.6" y1="224.4" x2="127.6" y2="225.4" stroke="#666" stroke-width="0.4"/>
<line x1="128.8" y1="224.4" x2="128.8" y2="225.4" stroke="#666" stroke-width="0.4"/>
<text x="108" y="231" font-size="4.6" text-anchor="middle" fill="#3a3a3a" style="font-family:'Liberation Sans',Arial,sans-serif">10<tspan font-size="3" dy="-1.8">3</tspan></text>
<line x1="129.8" y1="224.4" x2="129.8" y2="226.2" stroke="#444" stroke-width="0.6"/>
<line x1="136.3" y1="224.4" x2="136.3" y2="225.4" stroke="#666" stroke-width="0.4"/>
<line x1="140.1" y1="224.4" x2="140.1" y2="225.4" stroke="#666" stroke-width="0.4"/>
<line x1="142.9" y1="224.4" x2="142.9" y2="225.4" stroke="#666" stroke-width="0.4"/>
<line x1="145" y1="224.4" x2="145" y2="225.4" stroke="#666" stroke-width="0.4"/>
<line x1="146.7" y1="224.4" x2="146.7" y2="225.4" stroke="#666" stroke-width="0.4"/>
<line x1="148.2" y1="224.4" x2="148.2" y2="225.4" stroke="#666" stroke-width="0.4"/>
<line x1="149.4" y1="224.4" x2="149.4" y2="225.4" stroke="#666" stroke-width="0.4"/>
<line x1="150.5" y1="224.4" x2="150.5" y2="225.4" stroke="#666" stroke-width="0.4"/>
<text x="129.8" y="231" font-size="4.6" text-anchor="middle" fill="#3a3a3a" style="font-family:'Liberation Sans',Arial,sans-serif">10<tspan font-size="3" dy="-1.8">4</tspan></text>
<line x1="151.5" y1="224.4" x2="151.5" y2="226.2" stroke="#444" stroke-width="0.6"/>
<line x1="158.1" y1="224.4" x2="158.1" y2="225.4" stroke="#666" stroke-width="0.4"/>
<line x1="161.9" y1="224.4" x2="161.9" y2="225.4" stroke="#666" stroke-width="0.4"/>
<line x1="164.6" y1="224.4" x2="164.6" y2="225.4" stroke="#666" stroke-width="0.4"/>
<line x1="166.7" y1="224.4" x2="166.7" y2="225.4" stroke="#666" stroke-width="0.4"/>
<line x1="168.5" y1="224.4" x2="168.5" y2="225.4" stroke="#666" stroke-width="0.4"/>
<line x1="169.9" y1="224.4" x2="169.9" y2="225.4" stroke="#666" stroke-width="0.4"/>
<line x1="171.2" y1="224.4" x2="171.2" y2="225.4" stroke="#666" stroke-width="0.4"/>
<line x1="172.3" y1="224.4" x2="172.3" y2="225.4" stroke="#666" stroke-width="0.4"/>
<text x="151.5" y="231" font-size="4.6" text-anchor="middle" fill="#3a3a3a" style="font-family:'Liberation Sans',Arial,sans-serif">10<tspan font-size="3" dy="-1.8">5</tspan></text>
<line x1="173.3" y1="224.4" x2="173.3" y2="226.2" stroke="#444" stroke-width="0.6"/>
<text x="173.3" y="231" font-size="4.6" text-anchor="middle" fill="#3a3a3a" style="font-family:'Liberation Sans',Arial,sans-serif">10<tspan font-size="3" dy="-1.8">6</tspan></text>
<text x="128.2" y="236.4" font-size="5" fill="#3a3a3a" stroke="#3a3a3a" stroke-width="0.1" text-anchor="middle" textLength="24.4" lengthAdjust="spacingAndGlyphs" style="font-family:'Liberation Sans',Arial,sans-serif">Annexin V</text>
<text x="81.2" y="153.8" font-size="4.2" text-anchor="middle" fill="#3a3a3a" style="font-family:'Liberation Sans',Arial,sans-serif" transform="rotate(-90 81.2 153.8)">1000</text>
<text x="81.2" y="187.4" font-size="4.2" text-anchor="middle" fill="#3a3a3a" style="font-family:'Liberation Sans',Arial,sans-serif" transform="rotate(-90 81.2 187.4)">500</text>
<text x="81.2" y="224.4" font-size="4.2" text-anchor="middle" fill="#3a3a3a" style="font-family:'Liberation Sans',Arial,sans-serif" transform="rotate(-90 81.2 224.4)">0</text>
<text x="75" y="157.8" font-size="4.2" text-anchor="middle" fill="#3a3a3a" style="font-family:'Liberation Sans',Arial,sans-serif" transform="rotate(-90 75 157.8)">(x10<tspan font-size="2.8" dy="-1.5">3</tspan><tspan dy="1.5">)</tspan></text>
<text x="75" y="187.4" font-size="4.2" text-anchor="middle" fill="#3a3a3a" style="font-family:'Liberation Sans',Arial,sans-serif" transform="rotate(-90 75 187.4)">FITC</text>
<rect x="192.8" y="150.3" width="89.4" height="74.1" fill="#fff" stroke="#8a8a8a" stroke-width="0.8"/>
<g filter="url(#fblur)">
<ellipse cx="232.3" cy="209.8" rx="17" ry="7.5" fill="#0410e8" transform="rotate(-36 232.3 209.8)"/>
</g>
<path transform="translate(192.8 150.3) scale(0.2)" d="M313 95h2m-68 4h2m32 13h2m-1 4h2m48 2h2m82 4h2m-157 13h2m3 1h2m-23 21h2m16 3h2m15-1h2m-37 6h2m8 0h2m28 2h2m34 2h2m-67 14h2m74 2h2m-90 6h2m20-3h2m-184 8h2m172 1h2m30-4h2m70-1h2m-128 6h2m2 5h2m-1-5h2m3 4h2m28-3h2m37 1h2m-213 4h2m127 0h2m6 3h2m-1-1h2m1 0h2m34 3h2m-159 4h2m124-2h2m25-1h2m0 1h2m7 4h2m-29 3h2m4 2h2m1-3h2m12 2h2m-2 2h2m12 0h2m12-3h2m30-1h2m-183 6h2m67 0h2m2 2h2m4-3h2m8 5h2m0-5h2m4 0h2m17 2h2m1-1h2m0 1h2m30-2h2m30 2h2m3-2h2m5 0h2m-304 8h2m1 1h2m163-1h2m-2 1h2m5 1h2m8 0h2m1 0h2m-2-4h2m1 1h2m5 0h2m1 4h2m-1-5h2m5 1h2m-1-1h2m3 2h2m34 0h2m1-2h2m59 5h2m-148 6h2m5-3h2m0 2h2m-2 0h2m6-1h2m0 1h2m-1-1h2m1-1h2m14 2h2m-2-2h2m3 0h2m2 2h2m-2-4h2m18 0h2m4 5h2m11-1h2m-1-3h2m3 4h2m-2-4h2m-114 9h2m2-3h2m7-1h2m-1 3h2m4-1h2m2 2h2m-1 0h2m-2 0h2m0-1h2m1 2h2m-1-1h2m3-2h2m2-1h2m2 4h2m12-4h2m-2 2h2m12-2h2m1 1h2m3-2h2m2 0h2m11 1h2m-100 8h2m0-1h2m7 2h2m0 0h2m1-2h2m0-2h2m1 0h2m-2 5h2m-2 0h2m-2-5h2m11 1h2m0 0h2m1-1h2m4 1h2m0-1h2m6 2h2m0 3h2m1-4h2m2-1h2m-2 4h2m6 0h2m-1 0h2m1-3h2m6 0h2m4 2h2m12 1h2m7-4h2m1 2h2m14 3h2m36-4h2m-179 10h2m3-1h2m6-1h2m0-2h2m-2 0h2m6-1h2m-1 0h2m1 0h2m3 3h2m26 0h2m0-2h2m0-1h2m1 5h2m2 0h2m-1-4h2m-1 0h2m-2-1h2m-1 0h2m0 0h2m1 5h2m0-2h2m2 0h2m13 2h2m27-3h2m18-2h2m2 5h2m-2-1h2m-168 6h2m3 1h2m-1-3h2m-1 0h2m-1-1h2m0 0h2m5 1h2m1 1h2m-1 0h2m56-2h2m0 0h2m-1 4h2m-2-1h2m8-1h2m1-1h2m-1 0h2m4 2h2m1 0h2m2-1h2m10-2h2m1-1h2m5 5h2m10-3h2m3 0h2m25 1h2m3 2h2m44-3h2m-253 9h2m15 0h2m1 0h2m2-5h2m2 5h2m73-5h2m8 5h2m1-1h2m0-3h2m9-1h2m1 2h2m0 0h2m1 3h2m1-4h2m9 3h2m9-2h2m12-2h2m0 2h2m-2 3h2m1-4h2m13 1h2m-176 5h2m5 0h2m83 3h2m-2-4h2m-2 5h2m12-3h2m3 0h2m1-2h2m2 3h2m12 0h2m-2 0h2m4 2h2m36 0h2m29 0h2m-261 3h2m36 2h2m0-3h2m2 1h2m96 2h2m0 1h2m4-5h2m2 0h2m13 3h2m1 2h2m1-2h2m42-3h2m17 0h2m-215 8h2m1 1h2m1-2h2m109 4h2m16-4h2m0 1h2m0 3h2m0-3h2m-1 0h2m-1 0h2m5-2h2m4 0h2m-1 3h2m2-1h2m1-2h2m-1 2h2m5-1h2m-2 3h2m41-4h2m-220 10h2m0 0h2m0 0h2m123 0h2m-2-2h2m1 2h2m0-1h2m0 1h2m1-1h2m-1-3h2m0 4h2m0-2h2m0 2h2m1-4h2m4 5h2m2 0h2m7-2h2m4 1h2m-2-1h2m-230 7h2m41-2h2m10 0h2m126-1h2m0 0h2m5 1h2m-1-2h2m0 5h2m7-2h2m23-3h2m15 2h2m-2 2h2m4-3h2m4 1h2m24-1h2m-254 9h2m1 1h2m0-5h2m0 0h2m145 5h2m6-4h2m1 4h2m-1-1h2m6-2h2m-2-1h2m7 0h2m3 2h2m7-1h2m1-1h2m15 0h2m19 3h2m19-3h2m-266 8h2m1-2h2m4 3h2m-2-3h2m143 3h2m1-4h2m2 1h2m1 3h2m-1-4h2m-2 2h2m8 0h2m5 0h2m27-2h2m15 0h2m43 3h2m-285 8h2m1-3h2m-2-2h2m10 0h2m143 1h2m1 4h2m0-2h2m2-3h2m-1 1h2m-1-1h2m-1 1h2m-2 4h2m0-3h2m7 0h2m0 1h2m2-2h2m0 0h2m3 4h2m10-5h2m1 5h2m4 0h2m-1 0h2m1-1h2m1 0h2m14-1h2m5 0h2m25 2h2m-121 5h2m5-4h2m0 2h2m-1-2h2m-1 3h2m18 1h2m-1-3h2m14 3h2m1 0h2m25-2h2m33-1h2m-279 6h2m-1-1h2m1 4h2m158-1h2m-1-2h2m3-1h2m-2 2h2m5 3h2m3 0h2m5-1h2m-2-2h2m14-2h2m18 4h2m2-1h2m10-1h2m56-2h2m-313 11h2m1-1h2m1-4h2m-2 2h2m-1 3h2m160-1h2m0-1h2m-2 0h2m12-1h2m-1-1h2m-2 1h2m0 1h2m2-2h2m14 2h2m4 2h2m-1-4h2m-1 0h2m-2 0h2m15 1h2m0-2h2m25 5h2m22 0h2m-1-5h2m25 3h2m-326 8h2m1-2h2m1 2h2m-2-2h2m162 1h2m4-4h2m1 3h2m0 0h2m1-2h2m7 0h2m-2 4h2m1-1h2m7 0h2m9-3h2m10-1h2m3 3h2m-228 3h2m-1 3h2m146 2h2m5 0h2m0 0h2m2-1h2m-1-2h2m-2 0h2m-1 1h2m5 2h2m-2-4h2m-1 2h2m-1 1h2m11 0h2m5-2h2m5-1h2m5 2h2m37-1h2m-276 8h2m5 0h2m0-1h2m2-2h2m-1 3h2m4 0h2m-2 0h2m-1-1h2m3-1h2m-2-2h2m0 1h2m-1 2h2m-2-2h2m126 4h2m1-1h2m-1 1h2m1 0h2m-2 0h2m3 0h2m3 0h2m2 0h2m-1-5h2m-2 2h2m0-2h2m1 3h2m2-1h2m8 0h2m-2 3h2m19-2h2m42-1h2m-274 4h2m3 3h2m6-3h2m2 3h2m0 0h2m8-3h2m3 3h2m-2 0h2m-1 0h2m1-1h2m0 0h2m-1-1h2m-2-1h2m0 0h2m119 1h2m2 2h2m-2-3h2m-1 2h2m3-1h2m1 1h2m0 0h2m8 0h2m2 2h2m9-1h2m127-1h2" stroke="#3434f4" stroke-width="3.5" fill="none"/>
<path transform="translate(192.8 150.3) scale(0.2)" d="M234 248h2m-2 1h2m8-1h2m2 1h2m-2-1h2m-2 2h2m-1-1h2m-1 0h2m-1-1h2m2 2h2m-27 7h2m7-4h2m0 1h2m-2-1h2m-1 3h2m2 1h2m-1-3h2m-2 2h2m2 1h2m-2-3h2m-1 0h2m-46 4h2m-1 2h2m-1 1h2m0 2h2m-2-1h2m6-3h2m0 4h2m3-2h2m1 2h2m-2-4h2m-1 3h2m0-4h2m7 2h2m0-1h2m0 0h2m-1 0h2m1 2h2m6-1h2m4 3h2m-2 0h2m-73 5h2m0-2h2m4 2h2m0 1h2m0-2h2m2 2h2m-2-1h2m-2-2h2m-2 3h2m-1-3h2m0-1h2m-1 3h2m-2-4h2m5 1h2m-2 3h2m4-1h2m1 2h2m2-5h2m0 0h2m0 3h2m0 0h2m-1-3h2m-2 3h2m1 0h2m-2-3h2m-2 2h2m1-2h2m-1 5h2m-2-2h2m1 1h2m-1-4h2m-1 2h2m-1 2h2m2-3h2m4 2h2m0-2h2m2 2h2m0 2h2m-95 6h2m0 0h2m5-3h2m0 1h2m-2 2h2m7-4h2m-1 1h2m2-2h2m-1 0h2m2 1h2m1 0h2m14 1h2m-1-1h2m-1 0h2m1 4h2m7 0h2m1-3h2m2-2h2m-1 4h2m-1-3h2m3 2h2m-1-3h2m-2 2h2m-1 2h2m2-2h2m-1-1h2m4 3h2m-1-3h2m-1 4h2m-1-4h2m-94 8h2m-2-2h2m4-1h2m-1 3h2m1-2h2m42 1h2m-2 2h2m0-1h2m-2-1h2m1 0h2m-1 1h2m0 0h2m0-3h2m-1 1h2m-1 2h2m2 0h2m0 0h2m-1 1h2m-2 0h2m1-3h2m-2-1h2m-1 0h2m1 3h2m2 0h2m-1 1h2m-2 0h2m-1-3h2m-2-1h2m-1 1h2m-2 3h2m2 1h2m-103 1h2m-1 1h2m1-1h2m-1 5h2m-1-3h2m-1 0h2m89-2h2m-2 1h2m-2 4h2m2 0h2m-110 4h2m-2 1h2m-1-3h2m1 2h2m-1-2h2m97 3h2m0 0h2m-1-3h2m-1 1h2m2-1h2m0 1h2m0 0h2m-1-1h2m-131 9h2m-2 1h2m-1-1h2m3-1h2m0-1h2m5-1h2m-2 0h2m97 2h2m-1 1h2m-1 0h2m1-3h2m-1 1h2m1-1h2m-2 4h2m-1-5h2m-1 5h2m-1 0h2m0-1h2m-2 1h2m-133 4h2m-2-1h2m-1-2h2m-1 4h2m1 0h2m1-3h2m107 3h2m2 1h2m0-5h2m2 0h2m-2 3h2m1-1h2m2 2h2m-1-4h2m0 2h2m-150 7h2m-1-1h2m4 0h2m0 3h2m-1-1h2m117 0h2m-1-2h2m-1 0h2m2 2h2m2-4h2m1 5h2m-160 1h2m-2 5h2m1-1h2m0-1h2m-1 1h2m2 1h2m-2-2h2m10-3h2m111 4h2m1 0h2m-2-2h2m-2 2h2m-1 1h2m-1-3h2m0 2h2m-2 0h2m-2 0h2m-1-2h2m3-1h2m-156 10h2m2 0h2m0-2h2m1-3h2m-1 5h2m-2 0h2m-1-2h2m1-2h2m4 1h2m120 3h2m2-5h2m0 1h2m-1 2h2m4-1h2m-1 0h2m-153 7h2m-1 0h2m-1-2h2m2 2h2m-2-1h2m119 2h2m3 1h2m3-1h2m-1-1h2m-1 2h2m2-4h2m-2 0h2m1 1h2m-2-2h2m-163 11h2m-1 0h2m0-4h2m-1 4h2m2-3h2m-2 2h2m-1-3h2m-2 2h2m-1 2h2m-1-1h2m-1 1h2m0-4h2m120 3h2m1 0h2m-2-4h2m-2 4h2m-2 1h2m2-5h2m1 0h2m0 3h2m-1 1h2m-1-4h2m-2 3h2m0 2h2m-1-1h2m1-1h2m0 1h2m-168 7h2m7-3h2m-2 0h2m-2 1h2m0-2h2m-2 1h2m-2 2h2m-1-3h2m1 0h2m5-1h2m112 1h2m0 0h2m3 2h2m-2 0h2m-1-1h2m-2 3h2m1-5h2m5 0h2m1 0h2m-1 2h2m-1-2h2m-160 11h2m0 0h2m-2-2h2m2-3h2m-2 5h2m-2-3h2m0-2h2m-1 5h2m0-1h2m0-2h2m-2 0h2m104 2h2m-1 0h2m0 0h2m0 0h2m3 1h2m3-2h2m0-2h2m3 0h2m14 0h2m-154 9h2m1-1h2m1-1h2m-2 2h2m-1-2h2m-2 1h2m-2 0h2m-1 1h2m-2-1h2m2 1h2m1 1h2m7 0h2m1 0h2m-1 0h2m9 0h2m3 0h2m1 0h2m25-1h2m-1 0h2m3 1h2m0 0h2m3-1h2m5 1h2m-2 0h2m0 0h2m5 0h2m8-1h2m-1 0h2m-1 0h2m4-1h2m3 0h2m2 0h2m-130 4h2m-2 0h2m3 0h2m-1 2h2m2-3h2m2 1h2m0-1h2m-1 2h2m-2 1h2m4 0h2m-1-1h2m-1 0h2m3-1h2m-1 2h2m0-1h2m0-2h2m-2 2h2m0-1h2m0 0h2m-1-1h2m-2 0h2m-2 1h2m1 1h2m1 1h2m-1-3h2m-1 0h2m-1 1h2m-2 0h2m-1-1h2m-1 0h2m-1 0h2m-1 0h2m16 3h2m-1-3h2m2 0h2m-1 1h2m1 2h2m1 1h2m1-4h2m0 0h2m-1 1h2m-1 2h2m2-3h2m0 0h2m-1 3h2m-2-2h2m2 3h2m-2-4h2m-1 2h2m-2 2h2m1-1h2m-1-1h2m0-1h2" stroke="#0c0cf0" stroke-width="3.5" fill="none"/>
<path transform="translate(192.8 150.3) scale(0.2)" d="M193 274h2m2 0h2m-1-2h2m-1 2h2m4 1h2m1-3h2m0 3h2m3-2h2m0-1h2m-2 2h2m0-2h2m-1 2h2m0-1h2m-1 2h2m0 0h2m0-2h2m1-1h2m0 1h2m-53 8h2m2 0h2m-1 0h2m2 0h2m0-3h2m0 1h2m-2 0h2m-1-2h2m-2 0h2m4 1h2m-1-1h2m1 1h2m0-1h2m-1-1h2m-1 3h2m0 0h2m-2 0h2m-2 0h2m-2 1h2m-1-1h2m-1-2h2m-2 1h2m-1 1h2m2 1h2m0-1h2m-2 2h2m-1-4h2m2-1h2m1 4h2m-2 0h2m-2-4h2m-1 2h2m-1 1h2m14 2h2m15-1h2m-87 7h2m-1-5h2m-2 0h2m0 4h2m-1-4h2m0 5h2m-2-5h2m-1 4h2m-1-3h2m-1 3h2m2 0h2m24-3h2m-1-1h2m4 5h2m-2-4h2m-2 1h2m0 2h2m-2 1h2m-2 0h2m-2-4h2m1 1h2m1 3h2m-2-5h2m0 5h2m-2-1h2m0 0h2m-1 0h2m-1-4h2m2 4h2m-1-4h2m-1 0h2m0 1h2m0-1h2m-1 4h2m-1-1h2m0-3h2m-2 0h2m0 2h2m-1 1h2m-2-1h2m-2-2h2m-1 0h2m-2 1h2m-2 2h2m-1 2h2m0-1h2m-1 1h2m-2-2h2m-2-1h2m1-2h2m-95 6h2m-2 1h2m-2 0h2m0 0h2m0 3h2m-1-3h2m-2 1h2m-2 3h2m-2 0h2m-2-1h2m-1-2h2m13-2h2m24 0h2m21 0h2m-1 2h2m1 1h2m1 0h2m-1 1h2m-1-1h2m0 1h2m-2 0h2m-1-1h2m0 0h2m2 2h2m-2 0h2m-1-4h2m3-1h2m-105 10h2m1 1h2m-2-2h2m10-3h2m64 4h2m-2 0h2m-1-1h2m-2 1h2m3 0h2m-1-1h2m-2-2h2m-2 3h2m-1 0h2m1-2h2m-2-2h2m0 2h2m-2 0h2m0-1h2m-2 0h2m1 1h2m-1 3h2m0-4h2m-1 0h2m-106 7h2m-1 1h2m-2-1h2m-2 0h2m3-1h2m-1 1h2m73 1h2m-2 1h2m-1-2h2m-2-2h2m-1 3h2m0-2h2m0 4h2m-1-4h2m0 4h2m0-4h2m-1 0h2m-1 1h2m-1-2h2m-1 3h2m-2 0h2m-2-1h2m-1 1h2m-2 1h2m0 1h2m-2-5h2m-2 0h2m-1 1h2m-1-1h2m-1 0h2m-112 7h2m0-1h2m-2 1h2m-1 0h2m-2-1h2m-2 4h2m-1-4h2m-2 1h2m0 3h2m-1 0h2m82-1h2m-2-1h2m-1 1h2m-1-3h2m0 5h2m-1-3h2m1 3h2m5 0h2m1-4h2m-1 4h2m-1-4h2m-129 8h2m2-3h2m-1 4h2m-1-1h2m0 0h2m-1 1h2m-1-3h2m-2 1h2m-2 0h2m-1 3h2m-2-1h2m-1 0h2m-2 1h2m-2-3h2m0 1h2m88 0h2m-1 1h2m1 0h2m-2 0h2m-1-2h2m-2 2h2m-2-3h2m-1 4h2m-2-3h2m0 3h2m-2 0h2m0-3h2m0 0h2m-2-1h2m1 4h2m-128 5h2m-1 1h2m-1-3h2m5-1h2m-2 1h2m2-1h2m-1-1h2m-1 1h2m3 1h2m81 1h2m-2 2h2m-1 0h2m4-2h2m0-1h2m0 0h2m-2-2h2m-1 0h2m0 4h2m0-3h2m-1-1h2m-1 4h2m-2-2h2m1-1h2m-2 2h2m-1 1h2m-2-4h2m-1 5h2m-134 6h2m0-1h2m1-1h2m0-2h2m1 4h2m-2-5h2m-2 4h2m-1-2h2m95 0h2m-1-1h2m-1-1h2m-1 0h2m-1 4h2m-2 0h2m-1-1h2m-1 2h2m0-4h2m1 0h2m4 2h2m1-1h2m-2 1h2m0-2h2m-1 1h2m-136 7h2m1 0h2m-1-2h2m-1 2h2m0 0h2m-2-3h2m-2 3h2m0 1h2m-1-3h2m-2 2h2m-1-3h2m0 0h2m-2 2h2m-1 2h2m-2-1h2m-1 1h2m96-4h2m-2 2h2m-1 0h2m0 0h2m0 0h2m-122 5h2m1 3h2m-2-4h2m0 0h2m1 2h2m-1 2h2m0-1h2m0 2h2m-2-2h2m-1-3h2m-1 3h2m83 2h2m-1-4h2m-1 4h2m-1-2h2m-1 2h2m-2-2h2m0 1h2m-2 1h2m-2-5h2m-2 4h2m0-2h2m0 2h2m-1 0h2m0-1h2m-2 2h2m4-5h2m-127 10h2m-1 0h2m0 1h2m-2-1h2m-1 1h2m-1-3h2m-1 3h2m1 0h2m-1-1h2m-1-1h2m-2 2h2m0-2h2m-1 1h2m-2-4h2m-1 1h2m0 4h2m-1 0h2m-1 0h2m0-1h2m-1 1h2m0 0h2m0 0h2m-1-1h2m1-2h2m-1 1h2m48 0h2m-1 0h2m0 2h2m1-1h2m-2 0h2m-1-1h2m-1 1h2m-1 1h2m-1 0h2m-1-1h2m2 1h2m-2-3h2m-2 1h2m1 0h2m4-3h2m0 1h2m2-1h2m0 0h2m3 1h2m-1 0h2m-120 8h2m2-3h2m-2 2h2m-1 1h2m-1-1h2m-1 1h2m-2-1h2m-1 1h2m-2 0h2m-2-2h2m0 0h2m3 3h2m-2-2h2m-1 0h2m-1 1h2m0-3h2m-1 3h2m-2-1h2m3 1h2m-1 0h2m0-2h2m-2 0h2m16 4h2m-1 0h2m-1 0h2m9 0h2m-1 0h2m16-4h2m-1 1h2m3-2h2m-1 2h2m-1 2h2m0-2h2m-2-1h2m-1 1h2m-2 1h2m-1 1h2m-2-4h2m2 1h2m-2 2h2m1-1h2m-2-1h2m0 0h2m-55 8h2m0-3h2m-1 2h2m-1 2h2m-1-3h2m-2 0h2m-1-1h2m0 2h2m1-1h2m-2 3h2m-2-4h2" stroke="#0040ff" stroke-width="3.5" fill="none"/>
<path transform="translate(192.8 150.3) scale(0.2)" d="M199 281h2m0-1h2m1 1h2m-1 0h2m1 0h2m-1 0h2m-2 0h2m5 0h2m-26 3h2m-2 2h2m-1 0h2m1 0h2m-2 0h2m-2 1h2m-1-4h2m1 4h2m-1-3h2m0 0h2m-2-2h2m0 2h2m-1 1h2m1 2h2m-2-2h2m5-3h2m-41 8h2m-1 3h2m0-3h2m0-2h2m-2 3h2m0 1h2m0-3h2m-2 0h2m0 3h2m-2-2h2m0 3h2m-1-4h2m-2 1h2m-1 1h2m-1 1h2m-2 0h2m0-2h2m-2-2h2m0 1h2m0 2h2m-1-3h2m-2 2h2m-1 1h2m-1 1h2m-2-1h2m-1 0h2m-2-3h2m-1 0h2m-1 2h2m-1 1h2m-1 1h2m-2-2h2m-2 3h2m-1-3h2m-1 3h2m-2-4h2m0 4h2m-1-3h2m-1 3h2m0-2h2m-2-3h2m-2 0h2m-2 2h2m-2-1h2m1 2h2m0-1h2m-1 0h2m-1 0h2m0-1h2m-2 1h2m-1 2h2m-2-3h2m-1 3h2m0 1h2m-2-2h2m-2 1h2m-2-4h2m0 1h2m-1 2h2m-2 1h2m0 1h2m-2-3h2m-2 0h2m-1 1h2m-1 2h2m-2-4h2m-2 1h2m-1 0h2m0 0h2m-1 1h2m-1 2h2m-73 6h2m-1-2h2m1 0h2m0-1h2m-1 0h2m-1 2h2m-1-1h2m-2-3h2m-1 1h2m-1 0h2m-1 2h2m0-1h2m1-2h2m0 1h2m-2 0h2m-1-1h2m3 0h2m-2 1h2m-1 0h2m1 0h2m-1 0h2m-1 0h2m-1-1h2m-2 2h2m-1-2h2m0 0h2m1 1h2m0 3h2m-2-2h2m-1 0h2m-1-1h2m-1 4h2m-2-3h2m-2 0h2m-1 0h2m0 2h2m2-3h2m0 3h2m-1-2h2m-1 2h2m2 0h2m-2 1h2m-2-1h2m-1 1h2m-1 0h2m-1-4h2m-2 1h2m-2-2h2m0 2h2m-1-2h2m-2 3h2m-1-3h2m0 5h2m-1 0h2m-2-1h2m-1-3h2m-78 9h2m5-2h2m0 1h2m0 0h2m-2 1h2m-1-4h2m-1 4h2m-2-2h2m-1-1h2m-1 3h2m1-4h2m1 2h2m25-2h2m1 2h2m-2 2h2m1-4h2m0 4h2m-2-2h2m0 0h2m-1 1h2m0-2h2m-2 2h2m-1 1h2m-1-3h2m-1-1h2m2 5h2m-2-2h2m0 0h2m-1 2h2m-2-3h2m-1 3h2m-2-1h2m-1 1h2m-2-5h2m-1 2h2m-2 0h2m0 1h2m-80 7h2m-1 1h2m-1-2h2m-2 1h2m-1-3h2m-2-1h2m-1 5h2m-2-1h2m-2 1h2m-1-4h2m-1-1h2m-2 1h2m-1 4h2m55-4h2m-2-1h2m0 5h2m-2-3h2m-2-1h2m-1 2h2m-1 2h2m-2-4h2m-2 1h2m-1 1h2m2-1h2m0 2h2m0-1h2m-2-2h2m0 3h2m-2-4h2m-87 11h2m-1-4h2m-2 3h2m0-2h2m0 3h2m-2-1h2m-2-3h2m5-1h2m58 3h2m1-2h2m-1 3h2m0-4h2m0 5h2m0-3h2m-1 1h2m-2-3h2m-1 2h2m-1-2h2m-104 9h2m-2-1h2m0 3h2m3-2h2m-2 2h2m6-3h2m6-1h2m63 0h2m-2 1h2m-1 3h2m-2-2h2m0-2h2m-1 2h2m-1 1h2m-2 1h2m-2-4h2m-1 0h2m1-1h2m-2 0h2m0 0h2m-2 1h2m-102 8h2m-1-3h2m0 0h2m-2 2h2m-2-2h2m-1 5h2m0 0h2m0-3h2m63 3h2m4 0h2m2-1h2m0 1h2m-2 0h2m0 0h2m1-2h2m-2-2h2m-1 2h2m-2-3h2m-1 4h2m-2-4h2m1 0h2m-97 6h2m-1 4h2m-2-4h2m0 4h2m-2-4h2m-2 4h2m-2-1h2m68 0h2m-2-1h2m1 3h2m-1 0h2m-2-4h2m-1 0h2m-2 2h2m0-3h2m-1 2h2m-2 1h2m-2 0h2m-2 2h2m-1-2h2m-2-2h2m-1 0h2m-1 1h2m-1-1h2m-2 1h2m-1-1h2m-1-1h2m1 5h2m-2-5h2m0 1h2m-1-1h2m-1 2h2m-2 2h2m-1 1h2m-97 2h2m-1 1h2m-2 3h2m-2-4h2m-1 2h2m1-2h2m58 1h2m0 1h2m-1-3h2m1 3h2m-2-2h2m-1 2h2m-2 1h2m2-2h2m-1 3h2m8-5h2m3 0h2m0 0h2m-95 6h2m0 1h2m4 2h2m2 1h2m-1-2h2m0 3h2m0-2h2m-1 2h2m-1-2h2m-2 0h2m-1 1h2m18 1h2m-1 0h2m1-1h2m1 1h2m3-1h2m1-1h2m7-1h2m4-1h2m-1-1h2m1 1h2m-68 7h2m0-1h2m-1 0h2m0 2h2m-1-2h2m-2-1h2m-2 1h2m1 3h2m0-4h2m-1 2h2m0 0h2m15-2h2m-1 3h2m-1 0h2m-2-1h2m-1-1h2m-2-1h2m-1 4h2m1-1h2m-1-2h2m-1 0h2m-2 1h2m0 2h2m1-2h2m0 2h2" stroke="#006dff" stroke-width="3.5" fill="none"/>
<path transform="translate(192.8 150.3) scale(0.2)" d="M184 298h2m2-1h2m3 0h2m-1 1h2m-2-1h2m1 2h2m-1 0h2m0-3h2m-1 2h2m-1-1h2m-2 1h2m-36 7h2m1-1h2m0 1h2m-1 0h2m10-3h2m-1 0h2m-1 1h2m0-1h2m0 0h2m2 1h2m-1 1h2m0-4h2m-2 0h2m0 4h2m2-3h2m-2 0h2m-1 1h2m-1 2h2m0 1h2m4-1h2m0 1h2m0-1h2m-1 1h2m0 0h2m0-1h2m-57 6h2m-1-4h2m-2 2h2m0 0h2m-2 2h2m1-2h2m-2 1h2m-2 2h2m-2-3h2m-2 3h2m23 0h2m-2-4h2m0 0h2m-1 3h2m-2-1h2m-1-1h2m-2-1h2m-2 0h2m-1 1h2m0 2h2m-2-1h2m0-1h2m0-2h2m-2 3h2m-1 2h2m-2-2h2m-1 1h2m0-1h2m-2-1h2m-1-1h2m-2 2h2m0-3h2m-2 0h2m-2 4h2m-2 0h2m-1 0h2m-2-3h2m-2 4h2m0-4h2m0 4h2m-64 6h2m-2-3h2m-1 1h2m1-3h2m6 0h2m31 0h2m2 3h2m-1-1h2m-2 0h2m-1 0h2m0-1h2m-1 1h2m-2 0h2m-2 2h2m-1-2h2m-1 2h2m-1-4h2m-2 2h2m-2 0h2m0 2h2m-2-3h2m-1 4h2m-2-1h2m-1-2h2m-78 8h2m3 0h2m8-4h2m2 1h2m-2 0h2m42-1h2m-1 4h2m-2 0h2m-1-3h2m-1 3h2m-2-1h2m-1 2h2m-2-2h2m1 0h2m-2-2h2m0-1h2m-1 2h2m-2 3h2m3-3h2m-82 9h2m-1-1h2m-1 0h2m0 1h2m0-2h2m-1-3h2m-2 2h2m57 1h2m-1 1h2m-1-1h2m-2 1h2m2 0h2m0-1h2m-2-3h2m-1 3h2m-2-1h2m-1 0h2m-77 4h2m-1 2h2m-1-1h2m-2-1h2m-1 3h2m-2-2h2m-2 1h2m0-2h2m-2 4h2m-2-3h2m-2 4h2m-2-5h2m-1 4h2m-2-4h2m47 2h2m-2 3h2m-1-2h2m-2-2h2m-2 4h2m-1 0h2m-2-4h2m-2-1h2m0 1h2m-1 4h2m0-1h2m-1-3h2m-66 9h2m-2-1h2m-2 1h2m0-4h2m-2 2h2m-1 3h2m-2-2h2m-1 1h2m-2-3h2m-2 2h2m0 0h2m0 2h2m30-4h2m-1 3h2m-1-2h2m-1 1h2m-1-1h2m-2 1h2m1-3h2m-1 4h2m0 1h2m-1-1h2m0 1h2m-2-3h2m-1 0h2m-1-2h2m-2 4h2m-2-3h2m-56 6h2m0-1h2m-1 0h2m1 0h2m7 5h2m0-2h2m-1 1h2m-2 0h2m-2 0h2m0-1h2m-1 1h2m-2 1h2m-1-2h2m-1 0h2m-2 0h2m-1-1h2m-1 3h2m-2-3h2m-2 1h2m1-1h2m-2 0h2m10 0h2m1-2h2m-1 1h2m-2-1h2m8 1h2m-2-1h2m-1 1h2m-2-1h2m-38 9h2m-1-1h2m-2 1h2m0 1h2m-2-4h2m-1 4h2m-1-4h2m-1 1h2m-1-1h2m-1 0h2m-1 4h2m-1-1h2m-1-1h2" stroke="#009aff" stroke-width="3.5" fill="none"/>
<path transform="translate(192.8 150.3) scale(0.2)" d="M185 305h2m-1 0h2m2 0h2m-2-1h2m-16 7h2m-1-5h2m-2 4h2m-2-1h2m-1 1h2m-1 0h2m-2 0h2m1 0h2m-2 0h2m-1-3h2m-2 1h2m-2 2h2m-1-1h2m-1 2h2m-2 0h2m-2-2h2m-1 0h2m-2 2h2m-2-1h2m-1-1h2m-2-3h2m-1 0h2m-2 4h2m0 1h2m-2-5h2m-1 4h2m-1-3h2m-2 1h2m0 2h2m-2 0h2m-1-1h2m-1 0h2m-2 2h2m-2-1h2m-1 1h2m-2-1h2m-1 0h2m-2-1h2m-2 1h2m-1-4h2m-2 2h2m-2-1h2m-1 4h2m-33 2h2m-1 4h2m1-3h2m-2 2h2m-2-3h2m-2 4h2m-1-3h2m-1 2h2m-2-3h2m-2 1h2m-1-1h2m-2 0h2m-1 0h2m-1 0h2m-2 4h2m-2-3h2m-1 2h2m-1 1h2m-1-1h2m-2 1h2m-2-2h2m-2-2h2m-1 1h2m-1-1h2m-1 4h2m-2-4h2m-2-1h2m0 4h2m-2 0h2m-2-3h2m-2 2h2m-1 0h2m1 2h2m-2-4h2m-2 3h2m-1-3h2m-1 0h2m-1 3h2m-1-4h2m-2 0h2m-1 4h2m0-4h2m-2 0h2m-1 0h2m-2 3h2m-1-2h2m-2 1h2m-1-1h2m-1 3h2m-2 0h2m0-1h2m-2-1h2m-1 2h2m-1-1h2m0 0h2m-2 1h2m-1-3h2m-57 9h2m-2-1h2m0 0h2m1 2h2m-2-3h2m-2 3h2m-1-3h2m0 1h2m-2 2h2m1-1h2m-1-2h2m-1 2h2m-1 0h2m-1 0h2m-2-1h2m1-3h2m-1 2h2m-2 0h2m-1 0h2m-1 2h2m-2-1h2m-1-3h2m-2 5h2m-2-2h2m-1 0h2m0 0h2m0 0h2m0-3h2m0 4h2m-2 1h2m-2-2h2m-1-3h2m-2 2h2m-2 0h2m-1-1h2m-1 2h2m-1-2h2m-1 3h2m-2 0h2m-1 0h2m-1-4h2m-1 2h2m-1-1h2m-2 2h2m0-1h2m-2 3h2m0-2h2m-1 1h2m0-4h2m0 2h2m-2 3h2m-2-4h2m-1 0h2m-1-1h2m-2 2h2m0 0h2m-1 3h2m-1 0h2m-2-5h2m-58 6h2m-1 2h2m-2 2h2m0 1h2m-2-2h2m0-2h2m-2 3h2m-2 1h2m-1-4h2m-1 3h2m-2-1h2m-2 1h2m-2 1h2m0-2h2m-1-2h2m-1 1h2m-1 2h2m-2-2h2m-2 3h2m-1-1h2m-2-2h2m-2 0h2m-1 3h2m-2-4h2m-2 2h2m0 2h2m-2-2h2m-2 0h2m-1-2h2m-2 0h2m0-1h2m-2 1h2m0 4h2m0-3h2m-2 1h2m-2 1h2m-1-2h2m-2 1h2m-1-3h2m-2 0h2m-1 1h2m-1 3h2m-2-2h2m-2 0h2m0 2h2m-2 0h2m-2 1h2m-1-1h2m-1-2h2m-2-1h2m-1 2h2m-1-2h2m-1 3h2m-1-1h2m-2 2h2m-2 0h2m-2-1h2m-1 0h2m-2-1h2m-2-3h2m-1 5h2m-2 0h2m-2-4h2m-1 0h2m0 1h2m-1 1h2m-1 2h2m-2-4h2m-2 0h2m-2 0h2m-1 0h2m-2 2h2m0-2h2m-1 4h2m-2-5h2m0 2h2m-2 2h2m-1-3h2m-2 1h2m-2-1h2m-2 1h2m-1-1h2m-2 0h2m-1-1h2m-2 0h2m-1 0h2m-2 2h2m-1-2h2m-2 3h2m0-1h2m-2 1h2m-2-1h2m-2 0h2m-1-1h2m-58 7h2m-1 2h2m-1-4h2m-2 2h2m-1 1h2m-2-1h2m-2 0h2m-2 2h2m-1 0h2m-1 1h2m-2 0h2m-2-1h2m-1-4h2m-1 0h2m-2 2h2m-1 1h2m-1-1h2m-2 1h2m-2-3h2m-2 1h2m-2 2h2m0-3h2m-2 3h2m-1-2h2m-1 1h2m-2 2h2m-1 0h2m-1-4h2m-1 0h2m0 4h2m-2 0h2m-1-4h2m-2 3h2m-1 2h2m-1-2h2m-2-2h2m-2 2h2m-1-2h2m-2-1h2m-2 1h2m-2 1h2m-2 1h2m-2-2h2m2 0h2m-1 4h2m0-1h2m-1 0h2m-1-4h2m-1 5h2m-2-3h2m-2 0h2m-1-2h2m-1 4h2m-2 1h2m-1-3h2m-2 2h2m1-3h2m-2 3h2m-1 1h2m-2 0h2m-1-3h2m-2 1h2m-1 2h2m-1-1h2m-2 0h2m0-2h2m-2-2h2m-2 2h2m-2 2h2m1 1h2m-47 5h2m-1-2h2m-2 0h2m-1 0h2m-2 1h2m2 0h2m-1-2h2m-2 3h2m-2 1h2m0-4h2m-2 4h2m-1 0h2m-1-2h2m-2 0h2m-1 0h2m-2-3h2m-1 2h2m-1 0h2m-2 2h2m-2-3h2m-2 1h2m0 0h2m-2-1h2m-2 1h2m0-1h2m-1 4h2m0-1h2m-2 1h2m-1-1h2m-2-1h2m-2-1h2m-2-1h2m-2 1h2m0 2h2m-1 0h2m-2-4h2m0 4h2m-2-4h2m-2 1h2m-1 2h2m-2-3h2m-1 3h2m-2 0h2m-1 1h2m2-4h2m-38 8h2m0-1h2m-2 0h2m-1 1h2m-1 0h2m-2 0h2m3 0h2m-1 0h2m5 0h2m-2-2h2m-2 0h2m5 0h2m-2 1h2m0 1h2m-2-1h2m0-1h2m-1 0h2m-1 1h2" stroke="#00c6ff" stroke-width="3.5" fill="none"/>
<g filter="url(#fblur2)">
<ellipse cx="230.8" cy="212.6" rx="13" ry="4.3" fill="#00c0ff" transform="rotate(-31 230.8 212.6)"/>
<ellipse cx="230.8" cy="213.5" rx="7.5" ry="2.8" fill="#30f0b0" transform="rotate(-29 230.8 213.5)"/>
<ellipse cx="230.8" cy="213.5" rx="3.8" ry="1.6" fill="#b8ff40" transform="rotate(-26 230.8 213.5)"/>
</g>
<path d="M238.5 222.9 L248.3 177.7 L276.3 170.9 L276.3 221.9 L238.5 222.9" fill="none" stroke="#555" stroke-width="0.9"/>
<text x="248.8" y="168.3" font-size="4.6" text-anchor="middle" fill="#333" style="font-family:'Liberation Sans',Arial,sans-serif">P2(8.47%)</text>
<path d="M192.8 150.3V224.4H282.2" fill="none" stroke="#444" stroke-width="0.9"/>
<line x1="191.2" y1="224.4" x2="192.8" y2="224.4" stroke="#444" stroke-width="0.6"/>
<line x1="191.2" y1="217" x2="192.8" y2="217" stroke="#444" stroke-width="0.6"/>
<line x1="191.2" y1="209.6" x2="192.8" y2="209.6" stroke="#444" stroke-width="0.6"/>
<line x1="191.2" y1="202.2" x2="192.8" y2="202.2" stroke="#444" stroke-width="0.6"/>
<line x1="191.2" y1="194.8" x2="192.8" y2="194.8" stroke="#444" stroke-width="0.6"/>
<line x1="191.2" y1="187.4" x2="192.8" y2="187.4" stroke="#444" stroke-width="0.6"/>
<line x1="191.2" y1="179.9" x2="192.8" y2="179.9" stroke="#444" stroke-width="0.6"/>
<line x1="191.2" y1="172.5" x2="192.8" y2="172.5" stroke="#444" stroke-width="0.6"/>
<line x1="191.2" y1="165.1" x2="192.8" y2="165.1" stroke="#444" stroke-width="0.6"/>
<line x1="191.2" y1="157.7" x2="192.8" y2="157.7" stroke="#444" stroke-width="0.6"/>
<line x1="191.2" y1="150.3" x2="192.8" y2="150.3" stroke="#444" stroke-width="0.6"/>
<line x1="194.4" y1="224.4" x2="194.4" y2="226.2" stroke="#444" stroke-width="0.6"/>
<line x1="200.9" y1="224.4" x2="200.9" y2="225.4" stroke="#666" stroke-width="0.4"/>
<line x1="204.7" y1="224.4" x2="204.7" y2="225.4" stroke="#666" stroke-width="0.4"/>
<line x1="207.4" y1="224.4" x2="207.4" y2="225.4" stroke="#666" stroke-width="0.4"/>
<line x1="209.5" y1="224.4" x2="209.5" y2="225.4" stroke="#666" stroke-width="0.4"/>
<line x1="211.2" y1="224.4" x2="211.2" y2="225.4" stroke="#666" stroke-width="0.4"/>
<line x1="212.6" y1="224.4" x2="212.6" y2="225.4" stroke="#666" stroke-width="0.4"/>
<line x1="213.9" y1="224.4" x2="213.9" y2="225.4" stroke="#666" stroke-width="0.4"/>
<line x1="215" y1="224.4" x2="215" y2="225.4" stroke="#666" stroke-width="0.4"/>
<text x="194.4" y="231" font-size="4.6" text-anchor="middle" fill="#3a3a3a" style="font-family:'Liberation Sans',Arial,sans-serif">10<tspan font-size="3" dy="-1.8">2</tspan></text>
<line x1="215.9" y1="224.4" x2="215.9" y2="226.2" stroke="#444" stroke-width="0.6"/>
<line x1="222.4" y1="224.4" x2="222.4" y2="225.4" stroke="#666" stroke-width="0.4"/>
<line x1="226.2" y1="224.4" x2="226.2" y2="225.4" stroke="#666" stroke-width="0.4"/>
<line x1="228.9" y1="224.4" x2="228.9" y2="225.4" stroke="#666" stroke-width="0.4"/>
<line x1="231" y1="224.4" x2="231" y2="225.4" stroke="#666" stroke-width="0.4"/>
<line x1="232.7" y1="224.4" x2="232.7" y2="225.4" stroke="#666" stroke-width="0.4"/>
<line x1="234.2" y1="224.4" x2="234.2" y2="225.4" stroke="#666" stroke-width="0.4"/>
<line x1="235.4" y1="224.4" x2="235.4" y2="225.4" stroke="#666" stroke-width="0.4"/>
<line x1="236.5" y1="224.4" x2="236.5" y2="225.4" stroke="#666" stroke-width="0.4"/>
<text x="215.9" y="231" font-size="4.6" text-anchor="middle" fill="#3a3a3a" style="font-family:'Liberation Sans',Arial,sans-serif">10<tspan font-size="3" dy="-1.8">3</tspan></text>
<line x1="237.5" y1="224.4" x2="237.5" y2="226.2" stroke="#444" stroke-width="0.6"/>
<line x1="244" y1="224.4" x2="244" y2="225.4" stroke="#666" stroke-width="0.4"/>
<line x1="247.8" y1="224.4" x2="247.8" y2="225.4" stroke="#666" stroke-width="0.4"/>
<line x1="250.5" y1="224.4" x2="250.5" y2="225.4" stroke="#666" stroke-width="0.4"/>
<line x1="252.6" y1="224.4" x2="252.6" y2="225.4" stroke="#666" stroke-width="0.4"/>
<line x1="254.3" y1="224.4" x2="254.3" y2="225.4" stroke="#666" stroke-width="0.4"/>
<line x1="255.7" y1="224.4" x2="255.7" y2="225.4" stroke="#666" stroke-width="0.4"/>
<line x1="257" y1="224.4" x2="257" y2="225.4" stroke="#666" stroke-width="0.4"/>
<line x1="258.1" y1="224.4" x2="258.1" y2="225.4" stroke="#666" stroke-width="0.4"/>
<text x="237.5" y="231" font-size="4.6" text-anchor="middle" fill="#3a3a3a" style="font-family:'Liberation Sans',Arial,sans-serif">10<tspan font-size="3" dy="-1.8">4</tspan></text>
<line x1="259" y1="224.4" x2="259" y2="226.2" stroke="#444" stroke-width="0.6"/>
<line x1="265.5" y1="224.4" x2="265.5" y2="225.4" stroke="#666" stroke-width="0.4"/>
<line x1="269.3" y1="224.4" x2="269.3" y2="225.4" stroke="#666" stroke-width="0.4"/>
<line x1="272" y1="224.4" x2="272" y2="225.4" stroke="#666" stroke-width="0.4"/>
<line x1="274.1" y1="224.4" x2="274.1" y2="225.4" stroke="#666" stroke-width="0.4"/>
<line x1="275.8" y1="224.4" x2="275.8" y2="225.4" stroke="#666" stroke-width="0.4"/>
<line x1="277.3" y1="224.4" x2="277.3" y2="225.4" stroke="#666" stroke-width="0.4"/>
<line x1="278.5" y1="224.4" x2="278.5" y2="225.4" stroke="#666" stroke-width="0.4"/>
<line x1="279.6" y1="224.4" x2="279.6" y2="225.4" stroke="#666" stroke-width="0.4"/>
<text x="259" y="231" font-size="4.6" text-anchor="middle" fill="#3a3a3a" style="font-family:'Liberation Sans',Arial,sans-serif">10<tspan font-size="3" dy="-1.8">5</tspan></text>
<line x1="280.6" y1="224.4" x2="280.6" y2="226.2" stroke="#444" stroke-width="0.6"/>
<text x="280.6" y="231" font-size="4.6" text-anchor="middle" fill="#3a3a3a" style="font-family:'Liberation Sans',Arial,sans-serif">10<tspan font-size="3" dy="-1.8">6</tspan></text>
<text x="236" y="236.4" font-size="5" fill="#3a3a3a" stroke="#3a3a3a" stroke-width="0.1" text-anchor="middle" textLength="24.4" lengthAdjust="spacingAndGlyphs" style="font-family:'Liberation Sans',Arial,sans-serif">Annexin V</text>
<text x="189.4" y="153.8" font-size="4.2" text-anchor="middle" fill="#3a3a3a" style="font-family:'Liberation Sans',Arial,sans-serif" transform="rotate(-90 189.4 153.8)">1000</text>
<text x="189.4" y="187.4" font-size="4.2" text-anchor="middle" fill="#3a3a3a" style="font-family:'Liberation Sans',Arial,sans-serif" transform="rotate(-90 189.4 187.4)">500</text>
<text x="189.4" y="224.4" font-size="4.2" text-anchor="middle" fill="#3a3a3a" style="font-family:'Liberation Sans',Arial,sans-serif" transform="rotate(-90 189.4 224.4)">0</text>
<text x="183.2" y="157.8" font-size="4.2" text-anchor="middle" fill="#3a3a3a" style="font-family:'Liberation Sans',Arial,sans-serif" transform="rotate(-90 183.2 157.8)">(x10<tspan font-size="2.8" dy="-1.5">3</tspan><tspan dy="1.5">)</tspan></text>
<text x="183.2" y="187.4" font-size="4.2" text-anchor="middle" fill="#3a3a3a" style="font-family:'Liberation Sans',Arial,sans-serif" transform="rotate(-90 183.2 187.4)">FITC</text>
<rect x="302" y="150.3" width="89.2" height="74.1" fill="#fff" stroke="#8a8a8a" stroke-width="0.8"/>
<g filter="url(#fblur)">
<ellipse cx="334.5" cy="209.8" rx="17" ry="7.5" fill="#0410e8" transform="rotate(-36 334.5 209.8)"/>
</g>
<path transform="translate(302 150.3) scale(0.2)" d="M310 132h2m-41 23h2m7 20h2m29 5h2m-26 7h2m54 4h2m68 0h2m-176 2h2m30-1h2m-220 7h2m222 1h2m-147 5h2m93 4h2m42-4h2m54-1h2m76 2h2m-241 8h2m-1-4h2m49 5h2m3 0h2m7-3h2m16 0h2m-1 2h2m4-2h2m4 0h2m1 2h2m2 0h2m19 1h2m20-1h2m-119 4h2m12-2h2m0 4h2m1-3h2m-2 4h2m16 0h2m-2-1h2m8 0h2m47-3h2m11 2h2m16-1h2m-217 7h2m27-2h2m57 4h2m1-2h2m18 2h2m10 0h2m2-2h2m-1 2h2m8-3h2m17-2h2m103 4h2m-182 7h2m6-4h2m2 3h2m2-4h2m-1 5h2m3-3h2m2 3h2m16 0h2m-2-4h2m1 3h2m24 0h2m11 0h2m2-3h2m37 0h2m29 1h2m-154 8h2m4-2h2m2-1h2m11 0h2m1-1h2m5 2h2m5 1h2m12-3h2m15 0h2m0 1h2m-80 5h2m0 1h2m0-1h2m-1 2h2m3-1h2m2 3h2m-1 1h2m3-3h2m2 3h2m2-5h2m4 4h2m-2-3h2m4 1h2m8 3h2m5-1h2m5-3h2m7 0h2m18 3h2m0 1h2m-102 6h2m1-3h2m3-1h2m5 2h2m-1-2h2m9 1h2m2-2h2m-1 4h2m0-4h2m-1 5h2m-2-2h2m3 1h2m-2 1h2m6-4h2m2-1h2m-1 1h2m6 0h2m21-1h2m1 1h2m0-1h2m14 2h2m-1 0h2m79-2h2m-213 6h2m4 5h2m1-2h2m1 0h2m-1 0h2m1-1h2m-2 1h2m2-3h2m4 3h2m2 0h2m0-3h2m-1 0h2m1 1h2m0 0h2m0 1h2m0 1h2m-1 0h2m-1-3h2m0 2h2m-2-1h2m-2-1h2m-1 5h2m13-3h2m-1-1h2m5 0h2m9 4h2m13-2h2m-1 0h2m4-1h2m-2-2h2m7 4h2m22-1h2m16 1h2m84 1h2m-247 4h2m1 1h2m0-1h2m-2-1h2m1 1h2m-2 2h2m-1-5h2m-2 0h2m33 1h2m3-1h2m-2 1h2m4 2h2m3 2h2m0-2h2m-1 0h2m0-1h2m3 0h2m-1 1h2m1 2h2m-2 0h2m-1-2h2m-1-3h2m-1 3h2m4-2h2m5 4h2m0-4h2m-1 2h2m26-3h2m4 4h2m0 0h2m-1 0h2m-2 0h2m-125 2h2m42 1h2m2 4h2m-1-5h2m1 1h2m-1 1h2m-1-1h2m2 4h2m5-4h2m14 2h2m0-3h2m1 4h2m0 0h2m-1-2h2m-1 1h2m0-2h2m9 2h2m11-3h2m7 2h2m26 0h2m37-2h2m-216 8h2m0-1h2m3-1h2m-1 0h2m60 1h2m8 1h2m9 3h2m3-3h2m0 3h2m10-5h2m9 4h2m6-4h2m1 1h2m28 1h2m11 0h2m-186 8h2m5-4h2m-2 1h2m89 0h2m-1 2h2m0 1h2m-2-3h2m0 3h2m1-3h2m-1 1h2m5 1h2m-2 1h2m1-3h2m3 0h2m20 0h2m6 0h2m7 0h2m4 0h2m19 0h2m-206 10h2m6 0h2m3-2h2m1 1h2m97-1h2m-1 2h2m-1 0h2m1-3h2m4 0h2m1 0h2m14 3h2m2 0h2m1-2h2m2 2h2m12-1h2m43-2h2m-226 9h2m104-4h2m-1 0h2m-1 2h2m2 2h2m0 0h2m2-1h2m2 0h2m3-2h2m-1-1h2m0 2h2m1-1h2m2-2h2m1 1h2m-2 2h2m-2 0h2m-1-1h2m3 2h2m13-2h2m14 0h2m9-2h2m124 1h2m-315 8h2m2-3h2m3 1h2m89 1h2m4 3h2m1-2h2m-1 2h2m1 0h2m3-2h2m-1-1h2m-1 2h2m0-3h2m1 4h2m-2 0h2m2-3h2m0 1h2m0 2h2m3-1h2m-1 0h2m4 0h2m3-4h2m-1 5h2m4-2h2m10 0h2m5 1h2m0-4h2m0 1h2m7 0h2m26 1h2m1 0h2m93 0h2m-325 6h2m-1 3h2m1-1h2m-1-4h2m0 3h2m-1 0h2m104 2h2m-2-2h2m3 0h2m-1 2h2m-2-4h2m8 1h2m-1 0h2m0 1h2m2 0h2m-1 2h2m2-5h2m0 0h2m5 3h2m11 0h2m-2-1h2m-1-1h2m6 1h2m6 3h2m6-1h2m0 1h2m-1-1h2m8-3h2m10 2h2m33 1h2m5-3h2m-267 9h2m-2-1h2m7-1h2m120-2h2m4 1h2m17 4h2m-1-2h2m5 1h2m5-2h2m2 1h2m2 2h2m18-5h2m-217 7h2m1 4h2m4-5h2m135 5h2m0-3h2m-1 2h2m-2-4h2m4 3h2m-1-3h2m4 2h2m-1 2h2m-1-3h2m1 2h2m0 2h2m-1 0h2m-1-1h2m4-1h2m-1-1h2m9 3h2m2-1h2m4-1h2m7 0h2m10-1h2m1-1h2m8 0h2m70 4h2m-305 5h2m143-3h2m-1 4h2m-1-4h2m-2 3h2m0 1h2m0-5h2m0 0h2m8 0h2m4 0h2m1 3h2m1 0h2m1 1h2m-2-4h2m-1 5h2m6-4h2m10-1h2m2 3h2m-2-3h2m18 3h2m5 2h2m-1-5h2m49 3h2m-1-2h2m-2 1h2m-299 7h2m157-3h2m-1 1h2m-2-1h2m0 4h2m0-2h2m2 2h2m2 1h2m0-3h2m4 0h2m-2 2h2m-2 1h2m0-1h2m0-2h2m-1 1h2m4 0h2m9 0h2m17-2h2m1 0h2m7-1h2m-2 1h2m3-1h2m14 5h2m6-2h2m19-2h2m21 3h2m-323 5h2m4 1h2m4-1h2m3-2h2m-2 3h2m147-3h2m8 0h2m-1-1h2m0 3h2m0-1h2m-1-2h2m-1 3h2m2-1h2m1 0h2m1-2h2m7 2h2m0-2h2m6 5h2m1-5h2m-1 3h2m-1 0h2m9 1h2m0 1h2m4-2h2m5-1h2m-1-1h2m9 3h2m26-3h2m4-1h2m-288 9h2m8-1h2m1 3h2m148-2h2m1-2h2m0 1h2m5 0h2m6 2h2m-1-2h2m8 0h2m44-2h2m24 1h2m28 0h2m-330 8h2m8-1h2m18 3h2m3-1h2m2-1h2m1-3h2m0 0h2m-2 5h2m0-2h2m-1 0h2m0 1h2m-2-4h2m135 2h2m5 1h2m1-1h2m0 2h2m1-1h2m-1 0h2m3 0h2m0 0h2m-2-2h2m0 1h2m0-2h2m0 4h2m-1-4h2m9 5h2m9-5h2m2 3h2m-2-3h2m5 1h2m11 4h2m6-5h2m-284 10h2m13-3h2m2 2h2m2 1h2m10-4h2m-1 2h2m3 1h2m-1 2h2m3-5h2m0 3h2m2-1h2m0 1h2m1 1h2m10 1h2m109 0h2m0 0h2m6 0h2m2 0h2m11-3h2m0-2h2m-2 3h2m-1 2h2m0-2h2m0-2h2m17 1h2m10 0h2m46-2h2m37 3h2m-319 6h2m8-3h2m4 3h2m1-2h2m1 2h2m6-2h2m2-1h2m0 0h2m-2 3h2m-1 1h2m3-3h2m3-1h2m2 3h2m4-2h2m2-1h2m0 1h2m4 0h2m-2-1h2m89 3h2m3 0h2m9 0h2m-1-1h2m7 1h2m8-3h2m0 1h2m9 0h2m6-1h2" stroke="#3434f4" stroke-width="3.5" fill="none"/>
<path transform="translate(302 150.3) scale(0.2)" d="M176 257h2m2-1h2m-5 2h2m4 2h2m0-2h2m-2 5h2m2-4h2m2 3h2m-2-4h2m-1 2h2m-1 0h2m0 2h2m-46 4h2m1-1h2m0 4h2m-1-1h2m1 1h2m0 0h2m-1-3h2m-1 0h2m7 0h2m1 0h2m0 3h2m0-4h2m-1 1h2m0 0h2m-1-2h2m-2 0h2m1 4h2m-1-1h2m-2-2h2m0-1h2m-2 4h2m0-1h2m-1 2h2m-1-5h2m-1 2h2m7 0h2m-1 0h2m-55 6h2m-1-1h2m-2 0h2m0-1h2m-2 1h2m2 0h2m-2-1h2m3 1h2m-1 0h2m0-1h2m3 1h2m2 0h2m-1-1h2m-2 2h2m0-2h2m-1 0h2m3 0h2m5 2h2m1-1h2m-2 0h2m-1 1h2m2-2h2m0 1h2m3 2h2m1-1h2m3 3h2m2-2h2m1 2h2m-1-2h2m2 1h2m1 0h2m-83 2h2m41 4h2m0 1h2m3-2h2m0-1h2m0 3h2m3-5h2m7 2h2m-1-2h2m0 4h2m-2 0h2m-1 0h2m1-3h2m-1-1h2m-1 0h2m-92 8h2m0 1h2m-2 0h2m-1-2h2m51 0h2m-1 0h2m2 0h2m-1 4h2m-2-1h2m0-2h2m-2 2h2m4-4h2m-1 1h2m-2 3h2m-2-1h2m-2 0h2m0-2h2m-1 0h2m2 4h2m-2-3h2m4 2h2m1-4h2m0 4h2m0 1h2m-1-2h2m0-1h2m-112 7h2m2-2h2m2 0h2m-2 3h2m-2-1h2m0-2h2m-1 1h2m-2-2h2m-1 5h2m66-5h2m1 4h2m-2 1h2m9-5h2m-102 9h2m0 0h2m-2 1h2m7-4h2m3 1h2m-1-1h2m-1 0h2m-2 2h2m66 1h2m3 2h2m4 0h2m-2-1h2m-108 6h2m-2 0h2m3 0h2m-1-2h2m-1-2h2m1 3h2m82-1h2m-1-1h2m4-1h2m6 0h2m-113 6h2m-2 3h2m-1-2h2m3 1h2m-1 1h2m-2-2h2m94 2h2m0 1h2m1-4h2m-2 3h2m-126 6h2m-2 0h2m0 0h2m0 2h2m4-4h2m-1 0h2m-2 3h2m0-2h2m106-2h2m-1 4h2m-1 0h2m-1 1h2m-1-2h2m-2-1h2m3 3h2m-139 4h2m5 0h2m2 2h2m-1-4h2m-1 0h2m-2 4h2m3-4h2m106 1h2m1-1h2m-1 1h2m-2-2h2m-1 3h2m0 2h2m0-3h2m2 2h2m0-1h2m-144 5h2m0-1h2m1 0h2m-2 0h2m1 3h2m-2 0h2m0-2h2m-2 1h2m-1-3h2m-2 4h2m-2-2h2m118 2h2m-1-3h2m-1 1h2m-1 2h2m1-4h2m-136 10h2m-1-3h2m-2 3h2m-1-2h2m-2 3h2m-1-4h2m120 1h2m2 3h2m-1 0h2m-1-1h2m-144 4h2m-1 0h2m1 2h2m-1-1h2m-2 1h2m3 1h2m-1-3h2m-1 0h2m1 0h2m111 1h2m-1-2h2m-1 3h2m-1-3h2m-1 0h2m0 0h2m-1 1h2m-1-1h2m0 1h2m2 2h2m-1-1h2m-145 7h2m-1 0h2m-1-2h2m-2 0h2m-2 1h2m1 2h2m-2-2h2m-1-2h2m-2 1h2m-1-1h2m0 2h2m-1-3h2m-1 0h2m-1 1h2m1 2h2m1-1h2m-2 0h2m2 0h2m87 3h2m-1-1h2m3 1h2m1 0h2m-1 0h2m2-1h2m0-1h2m-2-1h2m2 3h2m0 0h2m-1-1h2m-137 2h2m8 0h2m-1 3h2m-1-3h2m6 0h2m-2 3h2m-1-2h2m-1 1h2m0-1h2m-1 4h2m7 0h2m1 0h2m-2 0h2m4 0h2m0 0h2m-2-1h2m9 1h2m5 0h2m-2-1h2m2 1h2m4 0h2m3-1h2m3 1h2m1 0h2m10-1h2m1 0h2m1 0h2m-1 0h2m2 1h2m2-2h2m2-2h2m0 2h2m3-2h2m-1 1h2m0-2h2m0 2h2m-2 2h2m-106 4h2m2 2h2m-1-4h2m-1 3h2m0-3h2m-1 1h2m-1 2h2m-1-2h2m0-1h2m-2 1h2m0 0h2m-1 1h2m-1-2h2m4 1h2m0 1h2m-1 1h2m0 1h2m-1-3h2m0 1h2m3-2h2m-2 4h2m2-4h2m-2 2h2m-1 1h2m-2-1h2m-1 0h2m-2-2h2m-2 0h2m0 3h2m-2-3h2m0 0h2m2 2h2m-1-1h2m1 3h2m-1-3h2m-2 0h2m1 0h2m2 0h2m-1-1h2m-2 0h2m-1 1h2m0-1h2m2 3h2m0 0h2m0-1h2m0 2h2m1-4h2m-2 0h2" stroke="#0c0cf0" stroke-width="3.5" fill="none"/>
<path transform="translate(302 150.3) scale(0.2)" d="M153 275h2m0 0h2m-1-2h2m1-1h2m-1 1h2m5-1h2m1 1h2m2 1h2m4 1h2m-1-1h2m-1 1h2m0-3h2m-1 2h2m-2 0h2m-1 1h2m-1-2h2m-2-1h2m5 1h2m-1 1h2m-1-1h2m-2 1h2m-1 1h2m0-2h2m-54 8h2m0 0h2m4-3h2m-2-2h2m-2 5h2m1-1h2m-2 1h2m-2-2h2m0-3h2m-2 1h2m-2 3h2m-1-4h2m-1 2h2m-1-1h2m1 3h2m-2-2h2m-1 2h2m0-4h2m-2 2h2m0-1h2m-1 3h2m2-4h2m1 0h2m-1 3h2m0 2h2m-1-4h2m0 0h2m-1 3h2m-1 1h2m-1-1h2m0-4h2m-2 1h2m0 2h2m-2 1h2m-1-3h2m0 0h2m-1 0h2m-2-1h2m-1 1h2m1 1h2m-57 4h2m-1 1h2m-2 1h2m0 3h2m-2-3h2m-1 0h2m-1 1h2m-1 1h2m1-4h2m-2 0h2m-2 0h2m0 0h2m-2 4h2m0-4h2m0 2h2m1 3h2m0-5h2m-2 1h2m-2 3h2m0-4h2m0 2h2m-2-1h2m-1-1h2m-2 0h2m-2 3h2m0 0h2m-1-2h2m-2 2h2m-2 2h2m-1 0h2m-2-4h2m4 0h2m-1 2h2m-1 1h2m-1 0h2m-1-3h2m-2 0h2m4 4h2m-50 5h2m-1-1h2m-2-2h2m-2-1h2m-1 0h2m-1 1h2m-1 3h2m1-2h2m-1 2h2m-1-4h2m-2 3h2m-1 2h2m6-5h2m3 0h2m5 0h2m1 0h2m2 0h2m0 5h2m-2-1h2m-2 1h2m-1-4h2m0 1h2m-1-1h2m-2 3h2m-1-2h2m-2 2h2m-2 1h2m0 0h2m1-3h2m-1 0h2m0-2h2m-2 4h2m-1 1h2m-1-1h2m-1 0h2m1-3h2m-77 9h2m-2 1h2m0-1h2m-1-2h2m4 1h2m0-1h2m0-1h2m-1-1h2m0 1h2m3 0h2m2-1h2m27 2h2m-2-1h2m2-1h2m-1 5h2m-1-3h2m0 1h2m-2 1h2m-2 1h2m4 0h2m-1-4h2m-1 1h2m0-2h2m-1 3h2m-2 2h2m-84 5h2m4-2h2m2 0h2m-2-1h2m-1 0h2m-1 1h2m1 0h2m1-2h2m-2 1h2m-1 0h2m-2 2h2m-1-3h2m46 0h2m-1 2h2m-1-1h2m-2 1h2m1 0h2m-1 0h2m0 0h2m-1 1h2m-1 2h2m-1 0h2m-2-2h2m1 0h2m-2-3h2m-1 0h2m1 5h2m0 0h2m-92 6h2m0 0h2m-2-1h2m-2 1h2m0-2h2m-2 0h2m-2-3h2m0 0h2m-2 2h2m70 0h2m-1-2h2m0 0h2m-2 3h2m-1-1h2m-2 2h2m0 1h2m-1-2h2m4-1h2m0-1h2m-1 2h2m-105 5h2m1 3h2m-2-1h2m1-2h2m-2 3h2m87-2h2m-1-2h2m0 2h2m1 2h2m-2-1h2m-2-3h2m-1 2h2m-1-3h2m-112 10h2m9-4h2m90 5h2m-1-3h2m-1-1h2m-1 3h2m-2 1h2m-1-4h2m-1 2h2m-2 0h2m-2 2h2m-111 5h2m-2-1h2m1-2h2m-2 4h2m1-1h2m-2 0h2m89 1h2m-2 0h2m5 0h2m-1-3h2m-2-1h2m3 1h2m-2-2h2m-120 9h2m-1-2h2m-2 1h2m-2-1h2m-1 4h2m-1 0h2m-2-3h2m-1-2h2m-2 3h2m-1-3h2m0 1h2m-1 2h2m-1-2h2m0 3h2m0 0h2m88 1h2m0-2h2m1 0h2m-2-1h2m-2 2h2m0 1h2m-1-1h2m-1-2h2m-1 0h2m1-1h2m-116 8h2m-1-1h2m-2 2h2m3 1h2m-1-5h2m0 2h2m-1 2h2m-2 1h2m-2-5h2m-1 0h2m0 3h2m78 1h2m-1-3h2m-2 3h2m-1 0h2m-2-3h2m0 0h2m0 4h2m0-1h2m-1-3h2m-2-1h2m-1 1h2m1 3h2m-1-4h2m-2 4h2m2-4h2m-110 8h2m1 0h2m1 3h2m-1-2h2m-1-3h2m64 5h2m-1-1h2m-2-1h2m-2 1h2m-1 1h2m-2 0h2m2-2h2m3-1h2m-2 1h2m-1 2h2m4-5h2m4 1h2m-1 1h2m4-1h2m-105 7h2m-2 0h2m1-2h2m-2 3h2m-2-1h2m1 1h2m65 0h2m-2 1h2m1-2h2m-2 0h2m3-2h2m-2 3h2m-2-3h2m-1 0h2m-1 4h2" stroke="#0040ff" stroke-width="3.5" fill="none"/>
<path transform="translate(302 150.3) scale(0.2)" d="M153 293h2m-2-3h2m0 1h2m-1-2h2m0 4h2m-1-2h2m-2-2h2m-2 1h2m0 0h2m-2-1h2m-1 2h2m0 1h2m0-1h2m-1 0h2m-2 2h2m-1-2h2m-1 2h2m-1-4h2m1 0h2m-2 2h2m-38 6h2m7 0h2m-1-1h2m4 1h2m-1 1h2m-2-1h2m1 0h2m-1-1h2m-1-2h2m-1 5h2m-1-5h2m-1 2h2m-2 0h2m-2 1h2m-1 0h2m-2 1h2m0-2h2m-1 3h2m-2-4h2m-1 4h2m-1 0h2m-1 0h2m0-2h2m-2 1h2m-2 0h2m1 0h2m-1-1h2m-1-3h2m-1 3h2m-2 2h2m0-2h2m3 0h2m-2 1h2m-66 7h2m0-1h2m-1 1h2m1 0h2m1-1h2m1 1h2m2 0h2m-1-5h2m-1 3h2m0 0h2m-1-1h2m1-1h2m-2 0h2m8 0h2m-1-1h2m0 3h2m0-3h2m-1 4h2m-1-1h2m-1-2h2m-2 1h2m1-2h2m-2 2h2m0-1h2m-1-1h2m0 2h2m-2 1h2m-2-1h2m0 1h2m0-3h2m-2 2h2m0-1h2m0 1h2m-1 0h2m-1 2h2m-2 1h2m-1-2h2m1 2h2m-2-5h2m0 5h2m-68 3h2m-1 2h2m-2-2h2m0 3h2m0 0h2m-2-3h2m-2 2h2m-1-1h2m0 0h2m-2 1h2m-1-4h2m0 5h2m-2-3h2m-1-1h2m-1 4h2m-2-1h2m-1 1h2m-1-4h2m-2 1h2m-1 2h2m-2-2h2m43 1h2m-1-2h2m-2 2h2m-1 0h2m-1-3h2m-1 4h2m0-1h2m-2 2h2m-1-1h2m-1 0h2m-2 1h2m-1-2h2m-2 2h2m-79 1h2m0 5h2m-2-4h2m0 3h2m-2-3h2m0 4h2m3-5h2m58 0h2m-1 3h2m-2 0h2m-1 1h2m-2-1h2m-1-2h2m-1-1h2m-1 5h2m-2-5h2m1 0h2m-2 5h2m-2-2h2m-1 2h2m-2-4h2m-2 3h2m-1-3h2m-2 1h2m-1 3h2m-91 3h2m-2 3h2m-1 0h2m2-1h2m0-3h2m-1 1h2m-2-1h2m0 0h2m0-1h2m65 0h2m4 0h2m-1 2h2m-2 0h2m-2-1h2m0 4h2m-2-5h2m-2 5h2m-2-3h2m-1 3h2m-2-4h2m-1 1h2m0 3h2m-1 0h2m-1-1h2m-98 3h2m-1 3h2m0-2h2m-1 2h2m-1 1h2m0 0h2m80-4h2m-1-1h2m-2 3h2m-1 0h2m-1-3h2m1 3h2m-97 7h2m-2-4h2m-1 2h2m-2 0h2m2 0h2m-2 2h2m-2 0h2m-1 1h2m-2-5h2m-2 5h2m-1-3h2m-1-1h2m71 4h2m-1 0h2m-2-3h2m-2-2h2m-1 5h2m0-5h2m-1 4h2m-80 2h2m64 1h2m0 4h2m-2-3h2m0 2h2m-2 1h2m-74 6h2m-1-3h2m-1 2h2m-2-2h2m-1 2h2m1-1h2m-2 0h2m-1 0h2m-1 2h2m-1-2h2m0-1h2m-1 2h2m-1-1h2m-1 2h2m-2 0h2m-2 0h2m-1-1h2m-1-1h2m-1 0h2m0 2h2m-1-2h2m5 2h2m-1-2h2m1 2h2m-1-2h2m-1-1h2m0 2h2m-2-1h2m0-1h2m-1 1h2m-1 0h2m-1 2h2m0-1h2m-1-1h2m0-1h2m-1 3h2m-1-2h2m0-1h2m1 2h2m-1 0h2m1 0h2m-2 0h2m-1 1h2m-1-1h2m7-3h2m-1 0h2m2 1h2m0-2h2m-82 9h2m-1-1h2m-2-2h2m-1 2h2m-1 1h2m-2-1h2m-2-1h2m2-1h2m5 3h2m0-2h2m-2 0h2m-2 1h2m-1 2h2m2 0h2m2-2h2m-1 0h2m-1 1h2m1 0h2m-2-3h2m-1 3h2m0-2h2m-1 2h2m-2 0h2m-2 1h2m-1-3h2m0 3h2m-1-2h2m1 1h2m-2-3h2m-1 4h2m2-1h2m-1-2h2m-1 1h2m1-1h2m1 2h2m-1-1h2m-2-1h2m-2 0h2m-2 1h2m0 1h2m-2-3h2m-1 0h2m0 0h2m0 2h2m-2-2h2m-1 2h2m-1-2h2" stroke="#006dff" stroke-width="3.5" fill="none"/>
<path transform="translate(302 150.3) scale(0.2)" d="M136 305h2m2 0h2m3 0h2m0 0h2m-1 0h2m1 0h2m1-1h2m1 0h2m-1 1h2m0-1h2m2 0h2m3 0h2m-2 1h2m0 0h2m-1 0h2m-1 0h2m-2 0h2m-39 2h2m-1 0h2m-2 1h2m-1 2h2m-2 1h2m-2-1h2m-2 1h2m0-5h2m-2 4h2m-2 1h2m-2-3h2m-2-2h2m0 5h2m-2 0h2m1-3h2m-1 3h2m-2 0h2m-1-4h2m-1 0h2m-2 3h2m-2-4h2m-1 4h2m-2-3h2m-1 3h2m-2-4h2m-1 2h2m0 0h2m0 3h2m-2 0h2m-1-5h2m-2 0h2m-2 4h2m-2-4h2m-1 3h2m2 2h2m-1-3h2m-2-2h2m-1 1h2m-1-1h2m-2 1h2m-1 2h2m1-1h2m-2 3h2m-2-5h2m0 3h2m4 2h2m-54 6h2m-1-4h2m1 4h2m-1-1h2m0-1h2m-1 0h2m-2-2h2m0 4h2m-2-4h2m-1 2h2m-1-2h2m-2-1h2m0 2h2m-1 1h2m-1-2h2m0 1h2m-2 3h2m4-5h2m11 5h2m-2-5h2m-2 5h2m-1-5h2m-2 2h2m-1 2h2m-1 0h2m-2 0h2m-2-2h2m1 0h2m-1 2h2m-2 1h2m-2-5h2m-2 4h2m-2 1h2m-1-2h2m-1-3h2m-1 0h2m-1 2h2m-2 3h2m-1 0h2m1-5h2m-2 4h2m-1 1h2m0-2h2m-2-2h2m1-1h2m0 3h2m-73 8h2m-2 0h2m0-2h2m0-1h2m-2 1h2m1 2h2m-2-2h2m-1 1h2m-1-3h2m0 4h2m-2-1h2m-1-3h2m-2 3h2m-1-1h2m-2-2h2m-1 0h2m-2-1h2m-1 0h2m6 0h2m-2 1h2m1-1h2m-1 0h2m-1 2h2m19-2h2m-1 1h2m2-1h2m-2 0h2m0 2h2m-2 1h2m4-1h2m-2 0h2m0-1h2m-2-1h2m-2 3h2m-1 0h2m-2-2h2m-2 1h2m-1-1h2m-2 4h2m-1-3h2m-1 1h2m-1 0h2m-1 0h2m-1 0h2m-2 1h2m-1 1h2m-1-2h2m-1 1h2m-2 1h2m0-2h2m-78 4h2m-1 2h2m0-1h2m0-2h2m-1 3h2m1-3h2m0 1h2m-1-1h2m-2 3h2m-1 0h2m0-1h2m39-1h2m-2 0h2m-1 1h2m-2 0h2m-2-2h2m-1 5h2m-1-3h2m-1-1h2m-1 0h2m-2 3h2m-1-3h2m-2 1h2m-2 0h2m-1 1h2m-2 0h2m-2-2h2m-1 2h2m-1-3h2m-1 1h2m-1 4h2m-2-5h2m-1 3h2m-2-1h2m0 3h2m-1-2h2m-2-2h2m1 0h2m-2 0h2m-1 0h2m-1 0h2m-2-1h2m-1 0h2m-1 1h2m-24 6h2m-2 4h2m0-1h2m-2 1h2m-2-4h2m0 4h2m-2-2h2m-2-1h2m-1-2h2m-2 4h2m-2-3h2m2 3h2m0-3h2m-2 1h2m-2-1h2m-2 2h2m0-2h2m0 0h2m-2 1h2m-2 1h2m-82 4h2m0 4h2m0-3h2m-1 3h2m-1 0h2m-2-3h2m-1 2h2m-2-4h2m-2 2h2m-1 3h2m-2 0h2m25-3h2m-2 3h2m-1-3h2m-2 2h2m-2-1h2m-2 1h2m0-4h2m-1 0h2m-1 3h2m-1-2h2m-2 3h2m-1 0h2m-2-2h2m0 0h2m0 1h2m-2 0h2m-1-1h2m-2 1h2m-1 0h2m0-2h2m0 0h2m-2-1h2m0 2h2m0 3h2m-2-4h2m0 1h2m-2 3h2m-1-4h2m-1 2h2m-2-1h2m-2 0h2m0-2h2m-2 3h2m-2 2h2m-1-1h2m-1-3h2m0 3h2m-2-4h2m-1 0h2m-2 5h2m-1-4h2m1 3h2m-1 1h2m-2-3h2m-73 5h2m1-1h2m1 0h2m-2 2h2m23-2h2m3 2h2m-2 0h2m0-2h2m1 0h2m-1 1h2m-1 0h2m-2-1h2m1 0h2m3 0h2m-1 0h2m-2 0h2m0 0h2m-1 0h2m-1 2h2m3 0h2m-2 0h2m-2-2h2m-1 0h2m-1 2h2m-1 0h2m-1-1h2m1 0h2" stroke="#009aff" stroke-width="3.5" fill="none"/>
<path transform="translate(302 150.3) scale(0.2)" d="M145 315h2m-1 0h2m-2 0h2m1 1h2m-2-3h2m0 0h2m-2 3h2m0-3h2m0 1h2m-1 1h2m-2-3h2m-1 5h2m-2-1h2m-1-2h2m-1 0h2m-2 3h2m-2-2h2m-31 8h2m-2-3h2m0 1h2m-1 1h2m1 0h2m-1-2h2m-2 0h2m3 2h2m-2 0h2m0 1h2m-1-4h2m-2 4h2m-1-5h2m0 3h2m-2-3h2m-1 1h2m-2 2h2m0-2h2m-1 1h2m-1 2h2m-2-1h2m-2-2h2m-1 3h2m-2-3h2m-1 4h2m-2-2h2m-1-1h2m-1 0h2m-1 2h2m-2-4h2m-1 2h2m-2-1h2m-1 4h2m-1 0h2m1 0h2m-1-2h2m-1-1h2m0 1h2m-52 8h2m2-1h2m-1 1h2m0 0h2m0 0h2m-1-1h2m-2 0h2m-1-1h2m-1 1h2m-2 0h2m-2 0h2m-1-3h2m-2 1h2m-1-1h2m-2 1h2m-2 1h2m-2 2h2m-1-2h2m-2-2h2m-1-1h2m-1 0h2m0 0h2m0 2h2m-2 0h2m1-1h2m-2 0h2m-2 2h2m0-1h2m-2 0h2m0-2h2m-2 3h2m-1 1h2m-1-3h2m-2-1h2m-2 0h2m-1 2h2m-1 0h2m-2-2h2m-1 3h2m-1 0h2m-2-1h2m0 0h2m-2-2h2m-1 2h2m-1 3h2m-1-2h2m-2 0h2m-1-3h2m-2 1h2m-1-1h2m-2 1h2m-1-1h2m1 1h2m-1-1h2m0 4h2m-1-3h2m-1 1h2m-57 9h2m-2 0h2m-2 0h2m-2 0h2m-2-3h2m-1-2h2m-2 3h2m-2-1h2m3 0h2m-2 0h2m-1 3h2m-2-2h2m-2-3h2m-1 2h2m-2 0h2m0 1h2m-2-2h2m-1 0h2m-2 1h2m-2 3h2m-1-4h2m0 2h2m-2-2h2m-2 4h2m-2-2h2m-1 2h2m-2 0h2m-2-5h2m-2 1h2m-2 3h2m-1 0h2m-2 1h2m-2-4h2m-1 0h2m-2 1h2m0-2h2m-1 2h2m1 3h2m-1-3h2m-1 2h2m-2-2h2m-2 2h2m-1 0h2m0-4h2m-1 4h2m-1 1h2m-1-3h2m-2 2h2m-2 0h2m-2-3h2m-1 0h2m0 3h2m-1-4h2m-1 3h2m-2-3h2m-1 1h2m-1-1h2m-1 5h2m-1-4h2m-2 4h2m-2-2h2m-2 1h2m-2 1h2m-2-2h2m-2 0h2m-1-2h2m-2 3h2m-1-4h2m-2 1h2m-2 2h2m-2-2h2m-1 2h2m-1-2h2m-2 3h2m-1 0h2m-2-3h2m-2-1h2m0 4h2m-2 0h2m-1-1h2m-2-2h2m-1 3h2m-2-1h2m-1-1h2m-2 3h2m-1 0h2m-1-3h2m0 2h2m-2 0h2m-1 0h2m-57 6h2m-2-1h2m-1-1h2m-2 3h2m-2 0h2m-1-1h2m-2-1h2m0 1h2m-1-1h2m-2-1h2m0 1h2m-2-2h2m-2 0h2m-1-1h2m-2 2h2m-2 0h2m-2-2h2m-1 0h2m-1 4h2m-2-4h2m-2 1h2m-1 0h2m-2-1h2m-2 5h2m-1 0h2m-2-1h2m-2-1h2m-2 0h2m-1 2h2m-1-3h2m-1 3h2m-1-3h2m-2 1h2m-2 2h2m-1-2h2m-1 2h2m-2-1h2m2 0h2m-2-2h2m-1-2h2m-2 5h2m-2-2h2m-1-3h2m5 0h2m-1 0h2m20 0h2m-53 7h2m-2 1h2m-1-2h2m-1 1h2m2-1h2m0 2h2m-2 0h2m0 0h2m2-2h2m-1 0h2m-2 0h2m0 0h2m0 0h2" stroke="#00c6ff" stroke-width="3.5" fill="none"/>
<g filter="url(#fblur2)">
<ellipse cx="333" cy="212.6" rx="13" ry="4.3" fill="#00c0ff" transform="rotate(-31 333 212.6)"/>
<ellipse cx="333" cy="213.5" rx="7.5" ry="2.8" fill="#30f0b0" transform="rotate(-29 333 213.5)"/>
<ellipse cx="333" cy="213.5" rx="3.8" ry="1.6" fill="#b8ff40" transform="rotate(-26 333 213.5)"/>
</g>
<path d="M347.7 222.9 L357.5 177.7 L385.5 170.9 L385.5 221.9 L347.7 222.9" fill="none" stroke="#555" stroke-width="0.9"/>
<text x="358" y="168.3" font-size="4.6" text-anchor="middle" fill="#333" style="font-family:'Liberation Sans',Arial,sans-serif">P2(4.39%)</text>
<path d="M302 150.3V224.4H391.2" fill="none" stroke="#444" stroke-width="0.9"/>
<line x1="300.4" y1="224.4" x2="302" y2="224.4" stroke="#444" stroke-width="0.6"/>
<line x1="300.4" y1="217" x2="302" y2="217" stroke="#444" stroke-width="0.6"/>
<line x1="300.4" y1="209.6" x2="302" y2="209.6" stroke="#444" stroke-width="0.6"/>
<line x1="300.4" y1="202.2" x2="302" y2="202.2" stroke="#444" stroke-width="0.6"/>
<line x1="300.4" y1="194.8" x2="302" y2="194.8" stroke="#444" stroke-width="0.6"/>
<line x1="300.4" y1="187.4" x2="302" y2="187.4" stroke="#444" stroke-width="0.6"/>
<line x1="300.4" y1="179.9" x2="302" y2="179.9" stroke="#444" stroke-width="0.6"/>
<line x1="300.4" y1="172.5" x2="302" y2="172.5" stroke="#444" stroke-width="0.6"/>
<line x1="300.4" y1="165.1" x2="302" y2="165.1" stroke="#444" stroke-width="0.6"/>
<line x1="300.4" y1="157.7" x2="302" y2="157.7" stroke="#444" stroke-width="0.6"/>
<line x1="300.4" y1="150.3" x2="302" y2="150.3" stroke="#444" stroke-width="0.6"/>
<line x1="303.6" y1="224.4" x2="303.6" y2="226.2" stroke="#444" stroke-width="0.6"/>
<line x1="310.1" y1="224.4" x2="310.1" y2="225.4" stroke="#666" stroke-width="0.4"/>
<line x1="313.9" y1="224.4" x2="313.9" y2="225.4" stroke="#666" stroke-width="0.4"/>
<line x1="316.5" y1="224.4" x2="316.5" y2="225.4" stroke="#666" stroke-width="0.4"/>
<line x1="318.6" y1="224.4" x2="318.6" y2="225.4" stroke="#666" stroke-width="0.4"/>
<line x1="320.3" y1="224.4" x2="320.3" y2="225.4" stroke="#666" stroke-width="0.4"/>
<line x1="321.8" y1="224.4" x2="321.8" y2="225.4" stroke="#666" stroke-width="0.4"/>
<line x1="323" y1="224.4" x2="323" y2="225.4" stroke="#666" stroke-width="0.4"/>
<line x1="324.1" y1="224.4" x2="324.1" y2="225.4" stroke="#666" stroke-width="0.4"/>
<text x="303.6" y="231" font-size="4.6" text-anchor="middle" fill="#3a3a3a" style="font-family:'Liberation Sans',Arial,sans-serif">10<tspan font-size="3" dy="-1.8">2</tspan></text>
<line x1="325.1" y1="224.4" x2="325.1" y2="226.2" stroke="#444" stroke-width="0.6"/>
<line x1="331.6" y1="224.4" x2="331.6" y2="225.4" stroke="#666" stroke-width="0.4"/>
<line x1="335.4" y1="224.4" x2="335.4" y2="225.4" stroke="#666" stroke-width="0.4"/>
<line x1="338" y1="224.4" x2="338" y2="225.4" stroke="#666" stroke-width="0.4"/>
<line x1="340.1" y1="224.4" x2="340.1" y2="225.4" stroke="#666" stroke-width="0.4"/>
<line x1="341.8" y1="224.4" x2="341.8" y2="225.4" stroke="#666" stroke-width="0.4"/>
<line x1="343.3" y1="224.4" x2="343.3" y2="225.4" stroke="#666" stroke-width="0.4"/>
<line x1="344.5" y1="224.4" x2="344.5" y2="225.4" stroke="#666" stroke-width="0.4"/>
<line x1="345.6" y1="224.4" x2="345.6" y2="225.4" stroke="#666" stroke-width="0.4"/>
<text x="325.1" y="231" font-size="4.6" text-anchor="middle" fill="#3a3a3a" style="font-family:'Liberation Sans',Arial,sans-serif">10<tspan font-size="3" dy="-1.8">3</tspan></text>
<line x1="346.6" y1="224.4" x2="346.6" y2="226.2" stroke="#444" stroke-width="0.6"/>
<line x1="353.1" y1="224.4" x2="353.1" y2="225.4" stroke="#666" stroke-width="0.4"/>
<line x1="356.9" y1="224.4" x2="356.9" y2="225.4" stroke="#666" stroke-width="0.4"/>
<line x1="359.5" y1="224.4" x2="359.5" y2="225.4" stroke="#666" stroke-width="0.4"/>
<line x1="361.6" y1="224.4" x2="361.6" y2="225.4" stroke="#666" stroke-width="0.4"/>
<line x1="363.3" y1="224.4" x2="363.3" y2="225.4" stroke="#666" stroke-width="0.4"/>
<line x1="364.8" y1="224.4" x2="364.8" y2="225.4" stroke="#666" stroke-width="0.4"/>
<line x1="366" y1="224.4" x2="366" y2="225.4" stroke="#666" stroke-width="0.4"/>
<line x1="367.1" y1="224.4" x2="367.1" y2="225.4" stroke="#666" stroke-width="0.4"/>
<text x="346.6" y="231" font-size="4.6" text-anchor="middle" fill="#3a3a3a" style="font-family:'Liberation Sans',Arial,sans-serif">10<tspan font-size="3" dy="-1.8">4</tspan></text>
<line x1="368.1" y1="224.4" x2="368.1" y2="226.2" stroke="#444" stroke-width="0.6"/>
<line x1="374.6" y1="224.4" x2="374.6" y2="225.4" stroke="#666" stroke-width="0.4"/>
<line x1="378.4" y1="224.4" x2="378.4" y2="225.4" stroke="#666" stroke-width="0.4"/>
<line x1="381" y1="224.4" x2="381" y2="225.4" stroke="#666" stroke-width="0.4"/>
<line x1="383.1" y1="224.4" x2="383.1" y2="225.4" stroke="#666" stroke-width="0.4"/>
<line x1="384.8" y1="224.4" x2="384.8" y2="225.4" stroke="#666" stroke-width="0.4"/>
<line x1="386.3" y1="224.4" x2="386.3" y2="225.4" stroke="#666" stroke-width="0.4"/>
<line x1="387.5" y1="224.4" x2="387.5" y2="225.4" stroke="#666" stroke-width="0.4"/>
<line x1="388.6" y1="224.4" x2="388.6" y2="225.4" stroke="#666" stroke-width="0.4"/>
<text x="368.1" y="231" font-size="4.6" text-anchor="middle" fill="#3a3a3a" style="font-family:'Liberation Sans',Arial,sans-serif">10<tspan font-size="3" dy="-1.8">5</tspan></text>
<line x1="389.6" y1="224.4" x2="389.6" y2="226.2" stroke="#444" stroke-width="0.6"/>
<text x="389.6" y="231" font-size="4.6" text-anchor="middle" fill="#3a3a3a" style="font-family:'Liberation Sans',Arial,sans-serif">10<tspan font-size="3" dy="-1.8">6</tspan></text>
<text x="345.1" y="236.4" font-size="5" fill="#3a3a3a" stroke="#3a3a3a" stroke-width="0.1" text-anchor="middle" textLength="24.4" lengthAdjust="spacingAndGlyphs" style="font-family:'Liberation Sans',Arial,sans-serif">Annexin V</text>
<text x="298.6" y="153.8" font-size="4.2" text-anchor="middle" fill="#3a3a3a" style="font-family:'Liberation Sans',Arial,sans-serif" transform="rotate(-90 298.6 153.8)">1000</text>
<text x="298.6" y="187.4" font-size="4.2" text-anchor="middle" fill="#3a3a3a" style="font-family:'Liberation Sans',Arial,sans-serif" transform="rotate(-90 298.6 187.4)">500</text>
<text x="298.6" y="224.4" font-size="4.2" text-anchor="middle" fill="#3a3a3a" style="font-family:'Liberation Sans',Arial,sans-serif" transform="rotate(-90 298.6 224.4)">0</text>
<text x="292.4" y="157.8" font-size="4.2" text-anchor="middle" fill="#3a3a3a" style="font-family:'Liberation Sans',Arial,sans-serif" transform="rotate(-90 292.4 157.8)">(x10<tspan font-size="2.8" dy="-1.5">3</tspan><tspan dy="1.5">)</tspan></text>
<text x="292.4" y="187.4" font-size="4.2" text-anchor="middle" fill="#3a3a3a" style="font-family:'Liberation Sans',Arial,sans-serif" transform="rotate(-90 292.4 187.4)">FITC</text>
<text x="111.5" y="148.4" font-size="12.6" fill="#111" stroke="#111" stroke-width="0.38" textLength="31.5" lengthAdjust="spacingAndGlyphs">shCtrl</text>
<text x="205.6" y="148.5" font-size="12.6" fill="#111" stroke="#111" stroke-width="0.38" textLength="66.5" lengthAdjust="spacingAndGlyphs">shLOXL1#2</text>
<text x="304.8" y="134.8" font-size="12.6" fill="#111" stroke="#111" stroke-width="0.38" textLength="65.5" lengthAdjust="spacingAndGlyphs">shLOXL1#2</text>
<text x="304.8" y="148.4" font-size="12.6" fill="#111" stroke="#111" stroke-width="0.38" textLength="81.6" lengthAdjust="spacingAndGlyphs">+BRIP1 cDNA</text>
<text x="33.3" y="273.5" font-size="14.8" font-weight="bold" fill="#111">D</text>
<text x="66.4" y="324.5" font-size="11.5" text-anchor="middle" fill="#111" stroke="#111" stroke-width="0.22" transform="rotate(-90 66.4 324.5)">A2780</text>
<rect x="85" y="286.2" width="89.4" height="73.7" fill="#fff" stroke="#8a8a8a" stroke-width="0.8"/>
<g filter="url(#fblur)">
<ellipse cx="120.5" cy="345.7" rx="17" ry="7.5" fill="#0410e8" transform="rotate(-36 120.5 345.7)"/>
</g>
<path transform="translate(85 286.2) scale(0.2)" d="M249 110h2m28 44h2m28 6h2m-65 25h2m47-5h2m-6 8h2m-215 4h2m173 0h2m-2 1h2m22 0h2m14 0h2m5 2h2m-63 3h2m10 5h2m1-2h2m11 1h2m2-4h2m1 3h2m17 2h2m-12 5h2m76-1h2m-144 4h2m20 2h2m1-3h2m12 2h2m79 2h2m-181 3h2m75-1h2m5 4h2m1-2h2m60 2h2m-91 2h2m14 2h2m0 3h2m10-3h2m5-1h2m5-1h2m7 3h2m7 2h2m8-1h2m106-1h2m-309 3h2m85 2h2m30 1h2m11 0h2m4-1h2m-1 2h2m2 1h2m-2-1h2m9 0h2m2 0h2m1 1h2m14-4h2m-112 8h2m39-1h2m7 0h2m7 3h2m-1-1h2m2 1h2m21-3h2m5 0h2m9 3h2m6-5h2m2 4h2m-127 7h2m37-2h2m8 1h2m1-1h2m3 1h2m0-1h2m0-1h2m1 2h2m5-3h2m2 0h2m0 3h2m0 1h2m1-3h2m12 3h2m5-5h2m2 4h2m8 1h2m9 0h2m19-2h2m11-1h2m-127 9h2m-2-1h2m-2-3h2m3-1h2m1 4h2m1-2h2m3-1h2m0 2h2m4 2h2m2-4h2m10 1h2m-2 0h2m0 1h2m-1-3h2m1 1h2m10 3h2m17-2h2m-92 7h2m1 2h2m0-1h2m-1-1h2m7 1h2m10-4h2m-1 3h2m4 1h2m-1-4h2m0 3h2m11-3h2m-2 2h2m5 1h2m-1-1h2m-1 0h2m0 2h2m6-2h2m-1-2h2m-2 3h2m2-1h2m5-2h2m1 4h2m5-2h2m-1 0h2m1 3h2m-1-4h2m10 0h2m7 1h2m-2 0h2m104-1h2m-235 9h2m8-4h2m1 5h2m-1 0h2m-1-2h2m51-1h2m-1 1h2m4 2h2m0-3h2m0 0h2m-2-1h2m1 4h2m2 0h2m5-2h2m-1 0h2m7-3h2m-165 8h2m56 0h2m-1 1h2m0 0h2m7-3h2m59 2h2m6-2h2m-2 3h2m1-1h2m-1 1h2m-2-2h2m3-1h2m-1 2h2m8 2h2m0-4h2m-1 0h2m14 4h2m39 1h2m8 0h2m-291 2h2m117 1h2m68-1h2m10 3h2m-1-1h2m1 0h2m2-3h2m1 4h2m3 0h2m14-2h2m3 2h2m1-1h2m8 1h2m12-1h2m-172 5h2m6-1h2m-1 2h2m-1-1h2m89 1h2m2-3h2m2 4h2m0-3h2m-2 3h2m1 1h2m1-1h2m2-4h2m8 1h2m13-1h2m0 1h2m3 3h2m11-1h2m7 1h2m-184 7h2m6 0h2m105-3h2m-1 3h2m0-4h2m1 3h2m2 1h2m1 0h2m1 0h2m7-4h2m0 1h2m8 0h2m1 2h2m4-1h2m19 2h2m26-5h2m-98 7h2m3 3h2m13 1h2m6-3h2m-1 0h2m8 1h2m3-1h2m4 3h2m3-2h2m5-3h2m3 4h2m44-2h2m48-1h2m-160 9h2m-1 1h2m3-2h2m5 2h2m3-1h2m5 0h2m11 1h2m2-5h2m5 5h2m5-1h2m19-2h2m-1-1h2m42 0h2m38 4h2m-309 5h2m2 1h2m141-1h2m-2 0h2m0-2h2m7 1h2m4-2h2m2 4h2m13-5h2m11 1h2m41 0h2m-243 7h2m-1 3h2m2-3h2m136 1h2m-1-2h2m-2 3h2m3-4h2m1 5h2m-1 0h2m0-1h2m-2-1h2m0-1h2m-2 1h2m6 0h2m3 2h2m16-5h2m12 3h2m20 0h2m3-2h2m38 4h2m25-1h2m1 0h2m6-2h2m-319 7h2m0 2h2m2 0h2m135-3h2m-1 0h2m2 3h2m0-4h2m0 3h2m0 0h2m0 1h2m0-4h2m0 4h2m-2-5h2m-2 2h2m-1 2h2m0-2h2m-1 2h2m5-3h2m0 0h2m10 3h2m47-1h2m-1 2h2m-234 1h2m134 5h2m10-5h2m-1 3h2m-1 0h2m0 1h2m6-3h2m0 3h2m3 0h2m12-1h2m11-2h2m22 4h2m12-2h2m18-2h2m8 4h2m-277 1h2m1 4h2m0 0h2m1 0h2m-1 1h2m131 0h2m3-5h2m1 1h2m9 1h2m0 3h2m-1-4h2m0 4h2m0-4h2m1 2h2m5 2h2m2-5h2m2 1h2m3-1h2m0 3h2m5 1h2m1-1h2m77 2h2m26-2h2m-323 6h2m-2 0h2m2-2h2m0 1h2m4 2h2m2 0h2m0-3h2m132 3h2m0-2h2m4 0h2m-2 3h2m-2-4h2m-1 1h2m0-2h2m-2 3h2m-1 2h2m-1-3h2m-2 3h2m6 0h2m-1-1h2m3 1h2m0-5h2m3 5h2m-1-1h2m19-4h2m8 0h2m22 4h2m49-2h2m23 0h2m-322 9h2m-1-2h2m-1-1h2m1 3h2m-2-1h2m-1 1h2m6-5h2m131 4h2m2-2h2m-1-2h2m12 4h2m-2-4h2m1 1h2m1 0h2m11 2h2m-2-3h2m1 1h2m4-1h2m0 0h2m17 4h2m24-2h2m65 2h2m-355 7h2m11-2h2m-2 2h2m0-1h2m6-3h2m3 3h2m0 1h2m1 0h2m1-4h2m6-1h2m0 3h2m-1 0h2m-2-3h2m0 5h2m-1-1h2m0-1h2m-2 1h2m2-3h2m-1 4h2m-2-4h2m-1-1h2m-1 0h2m5 5h2m-1-1h2m123 1h2m2-1h2m0-4h2m8 5h2m2-5h2m0 1h2m-1 1h2m2-2h2m6 3h2m2-1h2m-1 1h2m26-2h2m10 2h2m36-3h2m0 0h2m36 1h2m-347 9h2m25-3h2m-1-1h2m0 0h2m0 3h2m0 0h2m1-2h2m-2 2h2m9 1h2m-2 0h2m0-3h2m-2 0h2m4 0h2m2 3h2m-2-3h2m0 2h2m-1 1h2m4 1h2m11 0h2m5 0h2m10-1h2m3 1h2m4 0h2m3-1h2m36 0h2m4 1h2m1 0h2m-1-1h2m3 1h2m-1 0h2m-2-1h2m5 0h2m4-1h2m0-2h2m10 0h2m0 4h2m-1-2h2m-1 0h2m3-1h2m2 2h2m-199 3h2m18-1h2m-2 0h2m9 1h2m5-1h2m0 1h2m1 0h2m8-1h2m0 0h2m6 0h2m1 0h2m1 1h2m-1 1h2m0-1h2m2-1h2m5 0h2m1 0h2m-1 2h2m14-1h2m31-1h2m-2 0h2m5 2h2m2-2h2m5 1h2m2-1h2m-2 2h2m22-1h2m4-1h2m7 1h2m15 1h2" stroke="#3434f4" stroke-width="3.5" fill="none"/>
<path transform="translate(85 286.2) scale(0.2)" d="M222 250h2m-2-1h2m-2 1h2m-1-1h2m-2 0h2m-2 1h2m-38 7h2m6-1h2m0 1h2m-2 0h2m2-1h2m15-3h2m-1 0h2m1 0h2m-1 2h2m-1 2h2m1 0h2m2-1h2m-43 6h2m-1-3h2m2 1h2m1-1h2m-2 4h2m-1 0h2m-1-4h2m-1 0h2m3 4h2m-1 0h2m2 0h2m-1-4h2m2 0h2m-2 1h2m4 1h2m1-1h2m-1 0h2m0-1h2m-61 5h2m1 3h2m-2 0h2m-1 0h2m-1 2h2m0-4h2m14 4h2m2-3h2m0 2h2m-1-1h2m2-1h2m-2 1h2m-1 2h2m0-1h2m1-3h2m-1 1h2m-2 3h2m-2-5h2m-1 5h2m1-1h2m-2-4h2m-1 1h2m-1 1h2m-1-2h2m2 3h2m3 1h2m1-2h2m-1 0h2m-61 4h2m24 1h2m2 0h2m-2-1h2m-1 0h2m0 0h2m3 3h2m-2-3h2m-1 2h2m-1-2h2m-1 3h2m-2 0h2m-1-2h2m-2 2h2m-2 0h2m6-1h2m-2-1h2m-1 1h2m-1-2h2m0 0h2m-1 4h2m-1-3h2m0 2h2m-2 1h2m1 0h2m0 0h2m-2-2h2m3 2h2m-87 3h2m0-1h2m52 3h2m-1 1h2m-1-1h2m1 1h2m-1 0h2m-2-2h2m1 3h2m4-3h2m0-2h2m0 5h2m0-5h2m0 3h2m-2 0h2m-1-2h2m9 4h2m-2 0h2m-2-1h2m-101 4h2m-2 3h2m60-1h2m-1 0h2m1 1h2m-2-1h2m-1-3h2m-1 3h2m2-1h2m-2 1h2m0 1h2m-1 0h2m0-3h2m4 2h2m0-4h2m0 5h2m0-1h2m3-4h2m0 2h2m0 3h2m-1-5h2m-118 7h2m-1 4h2m-2-1h2m-2 0h2m3-2h2m-2 1h2m-1-2h2m1 0h2m0 3h2m0-1h2m5-3h2m65 0h2m-1 3h2m1 1h2m0-1h2m-1 2h2m2-1h2m0-3h2m-1 0h2m1 4h2m-2-1h2m-1-3h2m-1 4h2m-1-1h2m-1 1h2m-1-5h2m3 5h2m2-2h2m-126 8h2m0 0h2m-1-1h2m3-4h2m-2 0h2m0 0h2m1 1h2m2 1h2m81-1h2m-1 4h2m3-4h2m-2 0h2m1-1h2m-1 1h2m-1 1h2m-1 0h2m-1-1h2m-2 0h2m2 0h2m-1 3h2m-2-1h2m1-3h2m-1 4h2m-2-2h2m-134 9h2m2-1h2m0-1h2m2 1h2m-2-4h2m0 1h2m96 3h2m0-3h2m-2 1h2m-2 0h2m-1-1h2m4 0h2m-2 1h2m-1 1h2m1 0h2m-2-1h2m-1 0h2m-1 1h2m-2-2h2m-1 3h2m1-3h2m-1 2h2m-132 5h2m-1 3h2m1-5h2m0 2h2m104 2h2m4-1h2m0-3h2m-1 3h2m2-3h2m-2 5h2m1 0h2m0-3h2m0 1h2m-1 0h2m-142 5h2m107-1h2m-2 0h2m-2 3h2m-1-1h2m-2 2h2m3-1h2m2-4h2m-1 4h2m1-2h2m-2 2h2m-1-3h2m6-1h2m-140 10h2m-2 0h2m0 0h2m2 1h2m-1-5h2m-1 1h2m-2 4h2m-1-4h2m-2-1h2m0 1h2m96 4h2m0-2h2m2-1h2m0 0h2m3-1h2m-2-1h2m-2 0h2m-1 5h2m-1-1h2m0 1h2m1-3h2m-1 2h2m-137 7h2m2-5h2m-1 4h2m-1-4h2m-2 2h2m-1 2h2m1-2h2m1 0h2m-2-2h2m98 2h2m0 0h2m-2 1h2m1 0h2m1 2h2m-1 0h2m2-5h2m-1 4h2m-2-4h2m-1 3h2m4 0h2m-136 5h2m3 2h2m-1-3h2m-2 2h2m-2 1h2m0-2h2m102 1h2m-1-3h2m-1 5h2m-2-2h2m-1 0h2m0 2h2m-2-1h2m-1 0h2m5-2h2m0 1h2m-136 6h2m1 0h2m-2 0h2m2 0h2m-1-1h2m-1-1h2m-2 3h2m3-3h2m105-1h2m0 2h2m0-1h2m-2 0h2m-1 1h2m-128 4h2m1 0h2m10 0h2m1 2h2m0 2h2m2-1h2m-1 2h2m-2-2h2m1 1h2m-2 1h2m-1-1h2m2 0h2m-1 0h2m3-1h2m0-1h2m-1 1h2m-1 2h2m-2-1h2m1 0h2m55 0h2m-1-1h2m0 1h2m-2-1h2m-2 1h2m0 0h2m-2 1h2m-1-1h2m12 1h2m-1-1h2m-115 3h2m5 1h2m-1-2h2m-2 3h2m-2 1h2m-1-2h2m-2 0h2m0 1h2m-1 0h2m5 0h2m-2-1h2m-1-1h2m-2 1h2m0-2h2m1 0h2m0 1h2m5 2h2m23 2h2m2 0h2m4 0h2m-1 0h2m-2 0h2m-1 0h2m-1 0h2m20-2h2m1-1h2m2 0h2m-1-2h2m1 1h2m0-1h2m-2 3h2m0-2h2m-1 1h2m-1 0h2m1-1h2m-2 2h2m-1-2h2m-58 7h2m13-2h2" stroke="#0c0cf0" stroke-width="3.5" fill="none"/>
<path transform="translate(85 286.2) scale(0.2)" d="M176 265h2m-1 4h2m-1-4h2m1 2h2m-2-2h2m0 3h2m0-4h2m3 1h2m-1 1h2m-2-2h2m-2 1h2m-30 9h2m-1 0h2m17-3h2m3-1h2m-2 1h2m5 2h2m-1 2h2m-2 0h2m2-1h2m-2 0h2m1 0h2m0 1h2m0 0h2m-50 6h2m-2 0h2m0-3h2m-2 2h2m-1-2h2m2 0h2m-2-2h2m-2 3h2m26-2h2m-2 0h2m-1-1h2m1 2h2m2 3h2m-2 0h2m-1-3h2m-2 1h2m-1 0h2m-1 0h2m0-2h2m-1 2h2m-55 8h2m0-3h2m0 3h2m-1 0h2m42-1h2m-2-3h2m-1-1h2m0 1h2m-64 8h2m-2-2h2m-1 3h2m-2 1h2m0-4h2m0 4h2m-1-4h2m-2 1h2m47-2h2m0 3h2m0 1h2m-2 0h2m-1-2h2m-2 0h2m-1-1h2m3 3h2m-84 5h2m0-1h2m-2 1h2m-1 1h2m-1 1h2m0-1h2m8-4h2m-1 2h2m-1-2h2m0 1h2m-1-1h2m33 2h2m-1 0h2m1 3h2m-2 0h2m-1-2h2m8-2h2m-2-1h2m3 1h2m-1-1h2m-2 2h2m-1-2h2m2 0h2m0 0h2m-1 1h2m-1 2h2m0 1h2m-2 0h2m0-1h2m-2 2h2m-1-1h2m0-1h2m-1 1h2m-1 0h2m-99 7h2m0-3h2m-1 2h2m-2-3h2m0-1h2m1 2h2m48 3h2m-1-4h2m-1 4h2m-1-1h2m-2-3h2m-1-1h2m1 1h2m-2 0h2m2 3h2m12-3h2m-1 4h2m-2 0h2m-2-2h2m2 0h2m-2 2h2m-1-3h2m-1 2h2m-2 1h2m-1-3h2m-2-2h2m0 2h2m-1-1h2m-1 1h2m-2-2h2m-104 11h2m0-5h2m-2 1h2m-2-1h2m-2 5h2m-1-5h2m1 2h2m-1 1h2m-1 1h2m55-4h2m-2 0h2m3 3h2m0 0h2m-1-2h2m-1 1h2m-1 0h2m0 3h2m-1-5h2m0 4h2m7-2h2m-2 2h2m-1 0h2m-2-3h2m1 2h2m-2 2h2m-2-3h2m-1 1h2m-2 1h2m2-1h2m-2 2h2m-106 6h2m0-1h2m-2-2h2m-1-1h2m-1 1h2m-2 1h2m-1 2h2m-1-1h2m72-1h2m-2 0h2m1-2h2m0 2h2m-2 1h2m-2 1h2m1 0h2m-1-4h2m1-1h2m-1 1h2m0 0h2m-1 0h2m-1 1h2m-2 1h2m-1 1h2m0-2h2m-1-2h2m-2 2h2m-105 6h2m-1 3h2m-1-4h2m0 2h2m-1 1h2m-1-3h2m0-1h2m71 0h2m0 4h2m-2 1h2m0-3h2m3 3h2m-2-5h2m-1 4h2m-2-3h2m-2 1h2m-1 0h2m-2 0h2m5-1h2m-102 9h2m-1 1h2m-1-1h2m0-1h2m0-1h2m-1 0h2m74-1h2m0 1h2m-1 1h2m-1 0h2m-1 1h2m1 1h2m-1 0h2m-1-1h2m0 0h2m-1-3h2m-1 1h2m-105 6h2m-1 2h2m-1-2h2m0 2h2m-1-1h2m1 0h2m1-2h2m-1 3h2m-2-4h2m-1 5h2m0-2h2m-2 0h2m0-1h2m-2-1h2m-1 1h2m-2 2h2m-1-3h2m-1 4h2m-1-4h2m-2 4h2m-1-5h2m-2 0h2m-1 0h2m71 5h2m0-1h2m1 0h2m-102 4h2m-1 2h2m-1 1h2m-2-5h2m-2 1h2m-2 0h2m-1 1h2m0-2h2m1 4h2m-2 0h2m0-1h2m-2 1h2m-1-4h2m0 0h2m-2 3h2m0 1h2m-1-4h2m4 0h2m-1 1h2m1 4h2m-2-2h2m-1 0h2m-1 2h2m-2-4h2m-2 2h2m-1 0h2m55 2h2m-1-4h2m-1 4h2m-1 0h2m0 0h2m-2-5h2m-2 2h2m0 3h2m2-2h2m-1-3h2m-1 4h2m-1 1h2m-1-2h2m-1 1h2m-2-3h2m-105 7h2m-2 0h2m0-1h2m-1-1h2m-2 2h2m7-1h2m0 0h2m5-1h2m3 1h2m4 4h2m2 0h2m-2-1h2m0 1h2m-1-2h2m-1-1h2m-1 3h2m3-2h2m-1 0h2m-2-1h2m-1 1h2m0 2h2m-2-2h2m0-1h2m0 1h2m8 0h2m-1 2h2m-1-2h2m-1 2h2m0-1h2m-2 0h2m-2-2h2m-1 2h2m-1 0h2m0 0h2m-1-2h2m-1 1h2m5 1h2m3-2h2m-1-1h2m1-1h2m-1 2h2m-1-1h2m0 1h2m0 0h2m-68 6h2m-1-2h2m-2 4h2m-1-3h2m0 0h2m0 1h2m-1 0h2m-2 1h2m0-1h2m-2 1h2m3-3h2m-1 4h2m-1-4h2m-1 0h2m1 3h2m0-1h2m-2-1h2m9 2h2m-2 0h2m-2 0h2m-1-1h2m-2-1h2m5-1h2m4 2h2m0-1h2m-1 2h2m0-2h2m-1 0h2" stroke="#0040ff" stroke-width="3.5" fill="none"/>
<path transform="translate(85 286.2) scale(0.2)" d="M169 273h2m-2-1h2m-2 3h2m2-1h2m-2 1h2m3 0h2m-2-3h2m0 2h2m0-1h2m-2 0h2m-1 2h2m-1-3h2m-2 0h2m-1 2h2m2 0h2m0-2h2m-1 2h2m-2-1h2m-34 8h2m5 0h2m0-5h2m-1 3h2m-1 2h2m-2-2h2m-2-1h2m-1 2h2m-2-3h2m-1 1h2m0 3h2m-2-2h2m0-1h2m2 0h2m-1 2h2m-2-4h2m0 1h2m-2 3h2m-1 0h2m1 0h2m-2 0h2m-1 1h2m-1-5h2m-1 3h2m-2-3h2m-1 4h2m-34 6h2m-1-2h2m-1 3h2m-1 0h2m-2 0h2m-1-4h2m-2 4h2m1-5h2m-1 3h2m-2-3h2m-1 0h2m-1 3h2m-2-3h2m-2 4h2m-1 1h2m-1 0h2m-2-3h2m-2 3h2m-1 0h2m-2-2h2m-1-3h2m-2 3h2m-1-3h2m-2 5h2m-1-4h2m-2 1h2m-2 1h2m-1-1h2m0 3h2m-2-4h2m-1 0h2m-2 1h2m1 2h2m-2-4h2m-2 5h2m-1-3h2m-1 3h2m-2-2h2m-1 0h2m-2 2h2m-2-1h2m-2 1h2m-2-1h2m-1 0h2m-1-2h2m-1 3h2m0-4h2m-2 4h2m-2-4h2m-1 3h2m-2-3h2m-1-1h2m-2 5h2m1-3h2m-1 3h2m-1-1h2m-47 3h2m-2-1h2m-1 5h2m-1-4h2m-2 2h2m-1 2h2m-1-4h2m1 1h2m-1 3h2m0 0h2m-1-3h2m0 3h2m0-3h2m-2-1h2m0 4h2m-2-1h2m2-4h2m-1 0h2m1 4h2m-2-4h2m0 0h2m0 4h2m-2 1h2m-1-5h2m-2 5h2m0-2h2m-1 2h2m1 0h2m-1-4h2m0 4h2m-1 0h2m1 0h2m-1-4h2m-2 3h2m-1-3h2m0 1h2m-62 9h2m1-2h2m-1-1h2m-2 2h2m-2 0h2m-1 0h2m1-1h2m-1 1h2m-2 0h2m-2-2h2m0 0h2m-1 3h2m-1-5h2m0 0h2m-2 1h2m0 1h2m-2-1h2m-1-1h2m-2 1h2m0 1h2m-1-1h2m-2 0h2m0 0h2m-2 1h2m-2-1h2m-2-1h2m-2 2h2m1-2h2m-2 1h2m1 4h2m-2-3h2m0 0h2m-2 3h2m0 0h2m-2-1h2m-2-1h2m1-1h2m-1 3h2m0-1h2m-1 0h2m-1-4h2m-1 5h2m-2 0h2m-1-2h2m0-3h2m-1 1h2m6 0h2m-1-1h2m-2 0h2m0 0h2m-1 4h2m-1-2h2m-1 1h2m-2 0h2m0-1h2m-2 0h2m-2 1h2m0 2h2m-1-2h2m-2-1h2m-1 1h2m-80 7h2m6-4h2m1 3h2m0-3h2m-2 5h2m-1-2h2m0 0h2m-1-1h2m2-1h2m0 2h2m20-1h2m-1 0h2m-2 1h2m-2 0h2m-2-3h2m-2 2h2m-1 1h2m-1-1h2m1 0h2m-1 3h2m-1-2h2m-2-3h2m-1 0h2m-2 4h2m9-4h2m-1 1h2m-2 0h2m3 2h2m0 1h2m-1 1h2m1-1h2m-1-3h2m-2 0h2m0-1h2m-2 3h2m-81 7h2m-1-3h2m-1 4h2m-2-1h2m-2 1h2m-1 0h2m0 0h2m-1-4h2m-2 3h2m-1-1h2m-2 2h2m1-4h2m0 2h2m-2 0h2m-2 2h2m-1-1h2m-1-2h2m37-1h2m-2 2h2m-2 0h2m0-3h2m-2 2h2m-2 3h2m15-2h2m-2-1h2m0 3h2m-2-2h2m-1-2h2m-2 1h2m-2 2h2m-1-3h2m-1 0h2m-2 1h2m-1 0h2m-2 1h2m-2 2h2m-2-4h2m-1-1h2m-2 3h2m-2 1h2m-90 3h2m0 1h2m0 3h2m-1-1h2m-2 1h2m-1 0h2m0-3h2m-1 0h2m-1 2h2m-2-3h2m-2-1h2m-1 2h2m-2-2h2m-1 5h2m-2-3h2m2 1h2m1-3h2m-1 0h2m43 0h2m-2 2h2m1 0h2m1-1h2m-73 5h2m-1 4h2m-2 0h2m-1-4h2m1 5h2m-1-2h2m-1-3h2m-2 3h2m-1 0h2m-1 0h2m-2 1h2m1-2h2m-1 0h2m-2-2h2m51 1h2m-67 7h2m-1 2h2m-2-4h2m0 1h2m-2 2h2m-2 0h2m-1-3h2m-2 0h2m-2 1h2m1 3h2m0-2h2m-1 2h2m-1-3h2m0 3h2m-1-1h2m56 2h2m0-1h2m-68 5h2m-2 1h2m-2-3h2m-1 1h2m-2 0h2m-1-2h2m-2 1h2m-1-1h2m-1 1h2m0 4h2m56-3h2m-1 0h2m0 1h2m1-2h2m-1 4h2m-2-4h2m-72 5h2m4 4h2m-1-3h2m-2 4h2m-1-4h2m-2 4h2m-2-5h2m-2 5h2m-1-5h2m-1 0h2m0 4h2m41 1h2m-1-3h2m-1 2h2m-2 1h2m-1-5h2m-1 1h2m7-1h2m-63 8h2m1-1h2m1 1h2m17 3h2m-2-3h2m-1 0h2m-1 1h2m0 1h2m-1 0h2m-1 1h2m16-3h2m-2-1h2m3-1h2m-31 8h2m-1-1h2m1 0h2m-1-1h2" stroke="#006dff" stroke-width="3.5" fill="none"/>
<path transform="translate(85 286.2) scale(0.2)" d="M153 296h2m-2 3h2m-1-1h2m-1-1h2m-1 2h2m-1-2h2m-2 0h2m-1 2h2m0-3h2m0 1h2m3-1h2m-17 6h2m-1 0h2m0 1h2m-2-1h2m-1-2h2m-2 2h2m-1 2h2m-2 1h2m0 0h2m-2-5h2m-1 2h2m-1-1h2m-1-1h2m0 0h2m-2 3h2m-1 2h2m-1-4h2m-1 0h2m3 3h2m-2 0h2m0 0h2m-32 7h2m0-1h2m-2 1h2m-2-2h2m-1 0h2m-1-3h2m-1 3h2m-1-2h2m1 3h2m-2 0h2m-2-4h2m0 0h2m-2 3h2m-1-1h2m2 3h2m0-4h2m-2 0h2m-2 1h2m-1 0h2m-1-2h2m-2 1h2m-2 3h2m-1 1h2m-1-5h2m-2 4h2m-1-4h2m-1 3h2m-2 2h2m-2-2h2m-1-2h2m-2 1h2m0 0h2m0-1h2m-1 0h2m-2 3h2m-1-1h2m-2 0h2m-40 8h2m-1-3h2m-2 0h2m-2 2h2m-1 0h2m-2-2h2m0 0h2m-2 1h2m-1-2h2m-1 0h2m-2 4h2m-1-5h2m-2 4h2m0-4h2m-1 3h2m-1-1h2m-2 1h2m-2 1h2m-1-3h2m-2 0h2m-1 1h2m-1-1h2m-2 4h2m-2 0h2m2-5h2m-2 3h2m-2 0h2m-2-3h2m-1 5h2m-2 0h2m1-5h2m7 0h2m7 5h2m-1-4h2m-1 4h2m-1-1h2m-1-1h2m-2-1h2m-1 1h2m-2 2h2m-1-1h2m-2-1h2m-2-1h2m-49 4h2m1 0h2m-2 4h2m-2-2h2m-1-2h2m-2 5h2m0-4h2m-1 2h2m-2-2h2m-1 4h2m-1-5h2m1 0h2m-2 0h2m-1 2h2m1-2h2m-1 1h2m-1 0h2m-1 1h2m0-1h2m-1-1h2m20 1h2m-2 0h2m2-1h2m-1 4h2m-1 0h2m-2 0h2m-2-1h2m1-1h2m-2 0h2m-1 1h2m-2 2h2m-2 0h2m-1 0h2m-57 3h2m1 2h2m-2 1h2m-1 0h2m-2-2h2m0 2h2m-2-4h2m-2-1h2m-2 3h2m-1-2h2m-2 4h2m39-2h2m-1 2h2m-2 0h2m-2 0h2m-1 0h2m-1-5h2m-2 3h2m1-2h2m-2 3h2m-1-3h2m-56 5h2m-1 2h2m-1 0h2m-1-1h2m-2 4h2m-2-3h2m-1-2h2m41 0h2m-2 5h2m-2-3h2m0 3h2m-1 0h2m-1-4h2m-1 2h2m-2-3h2m-2 1h2m-1 1h2m0 2h2m-56 2h2m4 1h2m-1 4h2m-2-3h2m-1-1h2m-2 3h2m-2-3h2m-1 2h2m0 1h2m-2-1h2m-2-3h2m-1 1h2m-1 0h2m-1 1h2m14-1h2m-1 4h2m-1-2h2m-1-1h2m-2 1h2m0 0h2m0 2h2m-2-2h2m-1 1h2m1-3h2m-2 4h2m-2-3h2m-1-1h2m-1-1h2m-1 2h2m-2-1h2m-1 4h2m-2-1h2m-1 1h2m-1-5h2m2 0h2m1 0h2m-2 0h2m-49 6h2m0 0h2m-1 1h2m18 0h2m0 0h2m2-1h2m2 2h2m-1-2h2m-2 1h2m-2 1h2m1-2h2m-1 1h2" stroke="#009aff" stroke-width="3.5" fill="none"/>
<path transform="translate(85 286.2) scale(0.2)" d="M161 313h2m-2 1h2m1 1h2m-2-1h2m-2-1h2m-1 0h2m-2 1h2m-1 2h2m-1-3h2m-1 3h2m-1-2h2m-1 0h2m-2 0h2m-2 3h2m-2-3h2m-1 1h2m-2 2h2m0-2h2m-2 1h2m-1 1h2m-2-5h2m-2 0h2m-2 2h2m-2 3h2m-1-4h2m-2 0h2m-2 4h2m-2 0h2m-32 3h2m-1 3h2m-2 0h2m1-1h2m-1-1h2m2 1h2m-2-1h2m-1 1h2m-2 0h2m-1-2h2m-1 2h2m-1 1h2m-2 0h2m-1-1h2m-1-1h2m-1 0h2m1 1h2m-1 0h2m-1-1h2m-2 2h2m-2-5h2m-1 5h2m-2-5h2m-2 3h2m-2 1h2m-1-3h2m-2-1h2m-1 5h2m-1-3h2m0-1h2m-2 4h2m0-1h2m-2-3h2m-1 2h2m-2 1h2m-1-1h2m1 1h2m-1-2h2m-2 0h2m-1 2h2m0-1h2m-40 4h2m-1 3h2m-2 1h2m-2-3h2m-1 0h2m-2-1h2m-1-1h2m0 2h2m-2-2h2m-1 1h2m-1 4h2m-2-4h2m-2 2h2m0-1h2m0-1h2m-2-1h2m-2 4h2m-1 0h2m-1-4h2m1 1h2m-2 3h2m-1-1h2m-2 1h2m-1-2h2m-1 3h2m-1-5h2m-2 4h2m-1-4h2m-1 5h2m-1-2h2m-2-1h2m-2 2h2m-2-1h2m-1-2h2m-2 0h2m0-1h2m-2 5h2m-1-3h2m-2-1h2m-1 2h2m-2-1h2m-1 3h2m-2-3h2m-1 3h2m-1-4h2m-2-1h2m-1 1h2m-2 1h2m-2-1h2m-1 1h2m0-1h2m-2 2h2m-1 0h2m-2 0h2m-1 0h2m-1 1h2m-40 2h2m-2 4h2m-1-3h2m-2-1h2m-2 1h2m-2-1h2m-1 3h2m0 0h2m-2-3h2m0 1h2m-1 1h2m-2-1h2m-2-1h2m-1 2h2m-2 1h2m-1 2h2m-2-1h2m-1 1h2m-2 0h2m-2-4h2m-1 1h2m-2 2h2m-1-4h2m-1 1h2m-2 1h2m-2 1h2m-2 2h2m-2-5h2m-1 0h2m-1 1h2m-2 3h2m-2-1h2m-2-1h2m-1 0h2m-1-2h2m-2 2h2m-1-1h2m-1 4h2m0-1h2m-2-2h2m0 1h2m-1-1h2m-2 3h2m1-4h2m-2 1h2m-1-1h2m-2 2h2m-2-1h2m-1 2h2m-2-4h2m-1 3h2m-1 2h2m-2-2h2m-1-2h2m-1 2h2m-1-1h2m-1 1h2m-2 2h2m-1-2h2m-1-2h2m-1 2h2m-2 1h2m-2-1h2m-2 2h2m-2 0h2m-2-2h2m-37 3h2m3 5h2m0 0h2m-2-5h2m-2 4h2m0-1h2m-1 2h2m-1-3h2m-1 3h2m-2-1h2m-1-2h2m-2 2h2m-2-2h2m-1 0h2m-2 0h2m-2-2h2m-1 3h2m-2 0h2m-1-3h2m-1 4h2m-1 0h2m-2-1h2m-2 2h2m-1-4h2m-1 2h2m-2-3h2m-1 0h2m7 0h2m-2 0h2m-27 7h2m0 1h2m-2-1h2m1 1h2m-1-2h2m1 0h2m0 0h2m1 2h2m-1-2h2" stroke="#00c6ff" stroke-width="3.5" fill="none"/>
<g filter="url(#fblur2)">
<ellipse cx="119" cy="348.5" rx="13" ry="4.3" fill="#00c0ff" transform="rotate(-31 119 348.5)"/>
<ellipse cx="119" cy="349.4" rx="7.5" ry="2.8" fill="#30f0b0" transform="rotate(-29 119 349.4)"/>
<ellipse cx="119" cy="349.4" rx="3.8" ry="1.6" fill="#b8ff40" transform="rotate(-26 119 349.4)"/>
</g>
<path d="M130.7 358.8 L140.5 313.6 L168.5 306.8 L168.5 357.8 L130.7 358.8" fill="none" stroke="#555" stroke-width="0.9"/>
<text x="141" y="304.2" font-size="4.6" text-anchor="middle" fill="#333" style="font-family:'Liberation Sans',Arial,sans-serif">P2(3.31%)</text>
<path d="M85 286.2V359.9H174.4" fill="none" stroke="#444" stroke-width="0.9"/>
<line x1="83.4" y1="359.9" x2="85" y2="359.9" stroke="#444" stroke-width="0.6"/>
<line x1="83.4" y1="352.5" x2="85" y2="352.5" stroke="#444" stroke-width="0.6"/>
<line x1="83.4" y1="345.2" x2="85" y2="345.2" stroke="#444" stroke-width="0.6"/>
<line x1="83.4" y1="337.8" x2="85" y2="337.8" stroke="#444" stroke-width="0.6"/>
<line x1="83.4" y1="330.4" x2="85" y2="330.4" stroke="#444" stroke-width="0.6"/>
<line x1="83.4" y1="323" x2="85" y2="323" stroke="#444" stroke-width="0.6"/>
<line x1="83.4" y1="315.7" x2="85" y2="315.7" stroke="#444" stroke-width="0.6"/>
<line x1="83.4" y1="308.3" x2="85" y2="308.3" stroke="#444" stroke-width="0.6"/>
<line x1="83.4" y1="300.9" x2="85" y2="300.9" stroke="#444" stroke-width="0.6"/>
<line x1="83.4" y1="293.6" x2="85" y2="293.6" stroke="#444" stroke-width="0.6"/>
<line x1="83.4" y1="286.2" x2="85" y2="286.2" stroke="#444" stroke-width="0.6"/>
<line x1="86.6" y1="359.9" x2="86.6" y2="361.7" stroke="#444" stroke-width="0.6"/>
<line x1="93.1" y1="359.9" x2="93.1" y2="360.9" stroke="#666" stroke-width="0.4"/>
<line x1="96.9" y1="359.9" x2="96.9" y2="360.9" stroke="#666" stroke-width="0.4"/>
<line x1="99.6" y1="359.9" x2="99.6" y2="360.9" stroke="#666" stroke-width="0.4"/>
<line x1="101.7" y1="359.9" x2="101.7" y2="360.9" stroke="#666" stroke-width="0.4"/>
<line x1="103.4" y1="359.9" x2="103.4" y2="360.9" stroke="#666" stroke-width="0.4"/>
<line x1="104.8" y1="359.9" x2="104.8" y2="360.9" stroke="#666" stroke-width="0.4"/>
<line x1="106.1" y1="359.9" x2="106.1" y2="360.9" stroke="#666" stroke-width="0.4"/>
<line x1="107.2" y1="359.9" x2="107.2" y2="360.9" stroke="#666" stroke-width="0.4"/>
<text x="86.6" y="366.5" font-size="4.6" text-anchor="middle" fill="#3a3a3a" style="font-family:'Liberation Sans',Arial,sans-serif">10<tspan font-size="3" dy="-1.8">2</tspan></text>
<line x1="108.1" y1="359.9" x2="108.1" y2="361.7" stroke="#444" stroke-width="0.6"/>
<line x1="114.6" y1="359.9" x2="114.6" y2="360.9" stroke="#666" stroke-width="0.4"/>
<line x1="118.4" y1="359.9" x2="118.4" y2="360.9" stroke="#666" stroke-width="0.4"/>
<line x1="121.1" y1="359.9" x2="121.1" y2="360.9" stroke="#666" stroke-width="0.4"/>
<line x1="123.2" y1="359.9" x2="123.2" y2="360.9" stroke="#666" stroke-width="0.4"/>
<line x1="124.9" y1="359.9" x2="124.9" y2="360.9" stroke="#666" stroke-width="0.4"/>
<line x1="126.4" y1="359.9" x2="126.4" y2="360.9" stroke="#666" stroke-width="0.4"/>
<line x1="127.6" y1="359.9" x2="127.6" y2="360.9" stroke="#666" stroke-width="0.4"/>
<line x1="128.7" y1="359.9" x2="128.7" y2="360.9" stroke="#666" stroke-width="0.4"/>
<text x="108.1" y="366.5" font-size="4.6" text-anchor="middle" fill="#3a3a3a" style="font-family:'Liberation Sans',Arial,sans-serif">10<tspan font-size="3" dy="-1.8">3</tspan></text>
<line x1="129.7" y1="359.9" x2="129.7" y2="361.7" stroke="#444" stroke-width="0.6"/>
<line x1="136.2" y1="359.9" x2="136.2" y2="360.9" stroke="#666" stroke-width="0.4"/>
<line x1="140" y1="359.9" x2="140" y2="360.9" stroke="#666" stroke-width="0.4"/>
<line x1="142.7" y1="359.9" x2="142.7" y2="360.9" stroke="#666" stroke-width="0.4"/>
<line x1="144.8" y1="359.9" x2="144.8" y2="360.9" stroke="#666" stroke-width="0.4"/>
<line x1="146.5" y1="359.9" x2="146.5" y2="360.9" stroke="#666" stroke-width="0.4"/>
<line x1="147.9" y1="359.9" x2="147.9" y2="360.9" stroke="#666" stroke-width="0.4"/>
<line x1="149.2" y1="359.9" x2="149.2" y2="360.9" stroke="#666" stroke-width="0.4"/>
<line x1="150.3" y1="359.9" x2="150.3" y2="360.9" stroke="#666" stroke-width="0.4"/>
<text x="129.7" y="366.5" font-size="4.6" text-anchor="middle" fill="#3a3a3a" style="font-family:'Liberation Sans',Arial,sans-serif">10<tspan font-size="3" dy="-1.8">4</tspan></text>
<line x1="151.2" y1="359.9" x2="151.2" y2="361.7" stroke="#444" stroke-width="0.6"/>
<line x1="157.7" y1="359.9" x2="157.7" y2="360.9" stroke="#666" stroke-width="0.4"/>
<line x1="161.5" y1="359.9" x2="161.5" y2="360.9" stroke="#666" stroke-width="0.4"/>
<line x1="164.2" y1="359.9" x2="164.2" y2="360.9" stroke="#666" stroke-width="0.4"/>
<line x1="166.3" y1="359.9" x2="166.3" y2="360.9" stroke="#666" stroke-width="0.4"/>
<line x1="168" y1="359.9" x2="168" y2="360.9" stroke="#666" stroke-width="0.4"/>
<line x1="169.5" y1="359.9" x2="169.5" y2="360.9" stroke="#666" stroke-width="0.4"/>
<line x1="170.7" y1="359.9" x2="170.7" y2="360.9" stroke="#666" stroke-width="0.4"/>
<line x1="171.8" y1="359.9" x2="171.8" y2="360.9" stroke="#666" stroke-width="0.4"/>
<text x="151.2" y="366.5" font-size="4.6" text-anchor="middle" fill="#3a3a3a" style="font-family:'Liberation Sans',Arial,sans-serif">10<tspan font-size="3" dy="-1.8">5</tspan></text>
<line x1="172.8" y1="359.9" x2="172.8" y2="361.7" stroke="#444" stroke-width="0.6"/>
<text x="172.8" y="366.5" font-size="4.6" text-anchor="middle" fill="#3a3a3a" style="font-family:'Liberation Sans',Arial,sans-serif">10<tspan font-size="3" dy="-1.8">6</tspan></text>
<text x="128.2" y="371.9" font-size="5" fill="#3a3a3a" stroke="#3a3a3a" stroke-width="0.1" text-anchor="middle" textLength="24.4" lengthAdjust="spacingAndGlyphs" style="font-family:'Liberation Sans',Arial,sans-serif">Annexin V</text>
<text x="81.6" y="289.7" font-size="4.2" text-anchor="middle" fill="#3a3a3a" style="font-family:'Liberation Sans',Arial,sans-serif" transform="rotate(-90 81.6 289.7)">1000</text>
<text x="81.6" y="323.1" font-size="4.2" text-anchor="middle" fill="#3a3a3a" style="font-family:'Liberation Sans',Arial,sans-serif" transform="rotate(-90 81.6 323.1)">500</text>
<text x="81.6" y="359.9" font-size="4.2" text-anchor="middle" fill="#3a3a3a" style="font-family:'Liberation Sans',Arial,sans-serif" transform="rotate(-90 81.6 359.9)">0</text>
<text x="75.4" y="293.7" font-size="4.2" text-anchor="middle" fill="#3a3a3a" style="font-family:'Liberation Sans',Arial,sans-serif" transform="rotate(-90 75.4 293.7)">(x10<tspan font-size="2.8" dy="-1.5">3</tspan><tspan dy="1.5">)</tspan></text>
<text x="75.4" y="323.1" font-size="4.2" text-anchor="middle" fill="#3a3a3a" style="font-family:'Liberation Sans',Arial,sans-serif" transform="rotate(-90 75.4 323.1)">FITC</text>
<rect x="195.2" y="286.2" width="89.1" height="73.7" fill="#fff" stroke="#8a8a8a" stroke-width="0.8"/>
<g filter="url(#fblur)">
<ellipse cx="230.2" cy="345.7" rx="17" ry="7.5" fill="#0410e8" transform="rotate(-36 230.2 345.7)"/>
</g>
<path transform="translate(195.2 286.2) scale(0.2)" d="M246 110h2m2 6h2m-11 39h2m74 3h2m-37 11h2m-53 6h2m5 5h2m21 5h2m-11 1h2m33 5h2m9-5h2m-52 10h2m13-1h2m0-3h2m38 3h2m-53 4h2m6-1h2m6 4h2m-186 3h2m60-1h2m79 1h2m-1 2h2m13-1h2m9 2h2m2 0h2m-23 4h2m-2 2h2m48-3h2m36 0h2m93 1h2m-195 7h2m13 2h2m2-5h2m2 3h2m2-2h2m11-1h2m19 2h2m8 3h2m36-2h2m8 0h2m-249 5h2m14-2h2m100 0h2m-1 2h2m0 3h2m0 0h2m5-1h2m4-3h2m-1 1h2m6-2h2m1 2h2m-1 1h2m0 2h2m-1-4h2m0-1h2m0 4h2m4-1h2m12 2h2m2 0h2m0-1h2m-2-3h2m-1 1h2m45 2h2m-124 3h2m5 1h2m3 1h2m-1 0h2m-1 0h2m-2 2h2m7-1h2m-1 1h2m-2-2h2m0 1h2m5-3h2m2 1h2m-1 2h2m-1-1h2m0 1h2m2-3h2m7 3h2m9 0h2m7-4h2m10 4h2m14-1h2m67 1h2m-181 5h2m-2 1h2m2-3h2m2-1h2m0 3h2m-2 1h2m-1 1h2m-1-1h2m-2-4h2m2 5h2m-2-5h2m21 1h2m3 4h2m-2-2h2m2-3h2m7 1h2m3-1h2m12 2h2m4 2h2m4-2h2m5-2h2m9 1h2m2 0h2m58 1h2m-325 5h2m149-1h2m0 5h2m6-5h2m4 4h2m2-1h2m-1 2h2m-2 0h2m4-2h2m0-3h2m-1 4h2m-1-1h2m7 2h2m-1-1h2m4-2h2m34-2h2m12 4h2m0 1h2m-2-2h2m6 2h2m40-2h2m10 0h2m36 2h2m-218 3h2m2 0h2m2 0h2m4 0h2m8 0h2m0-2h2m0 1h2m9 0h2m9 1h2m1 2h2m3-1h2m4 0h2m-2 2h2m-2-5h2m1 1h2m0 1h2m0-2h2m-2 2h2m2 3h2m-1-5h2m0 4h2m-2-2h2m-1-1h2m4 3h2m-2 1h2m9-2h2m5-1h2m2 2h2m-1 0h2m5-1h2m-2 2h2m1-4h2m30 0h2m0 0h2m-168 8h2m4 0h2m1-3h2m2 3h2m-1-3h2m37 3h2m-1-3h2m2 3h2m5-2h2m16 3h2m-1-1h2m-2-2h2m1 3h2m27-4h2m15 5h2m7-5h2m-144 6h2m71 3h2m-1 1h2m6-4h2m5 4h2m-1-2h2m5 0h2m6 3h2m2-1h2m5-3h2m1 0h2m5-1h2m0 5h2m0-2h2m2-3h2m35 0h2m15 3h2m-228 5h2m2 0h2m24 3h2m80-5h2m-1 0h2m0 0h2m-1 0h2m11 0h2m0 1h2m-2 2h2m0 2h2m0-3h2m10 2h2m-2-1h2m17-1h2m4 0h2m-2 0h2m34-2h2m-188 7h2m-2-1h2m0 1h2m98-1h2m-1 1h2m-1-1h2m6 5h2m0-4h2m-1 3h2m10 1h2m-1-4h2m12 3h2m-2-1h2m5-2h2m9 0h2m-2 1h2m13 2h2m3-1h2m-190 3h2m114 4h2m2-3h2m-1 4h2m3-3h2m3-2h2m3 3h2m-1 2h2m0-5h2m-1 4h2m0 0h2m1-2h2m-1 1h2m12-3h2m11 3h2m26-1h2m-2 0h2m3-2h2m-220 6h2m-1 5h2m125 0h2m0-2h2m5-1h2m1-2h2m-1 0h2m0 0h2m6 5h2m0-1h2m-1 1h2m5-4h2m8 3h2m-1 0h2m-1-4h2m-2 0h2m6 4h2m-1-3h2m2-1h2m2 2h2m12-2h2m24 2h2m54-2h2m-331 7h2m32 2h2m2 2h2m134-5h2m0 0h2m0 3h2m3 2h2m14 0h2m0-1h2m-1-2h2m2-1h2m9 4h2m2-1h2m-1 0h2m13-3h2m58 3h2m-314 6h2m45-2h2m2-2h2m-1 2h2m-2-2h2m137 1h2m-1 2h2m-1 0h2m-1-2h2m4 4h2m4-1h2m0 1h2m1-5h2m5 5h2m-1-5h2m8 1h2m-1 1h2m-1-1h2m12 4h2m32-2h2m-1-3h2m5 0h2m5 2h2m-262 8h2m10 0h2m144-1h2m3-1h2m-2 0h2m-2 2h2m-2-2h2m2 3h2m7 0h2m-2-4h2m5 1h2m-2 0h2m-1 1h2m0 0h2m14 1h2m14 1h2m2 0h2m15 0h2m4-4h2m3 3h2m-259 4h2m1 3h2m2-2h2m1-1h2m-1 2h2m158-2h2m0-2h2m5 4h2m3-1h2m9 0h2m1 2h2m-1-5h2m-2 5h2m1-3h2m6 0h2m1 3h2m2 0h2m11-3h2m17-1h2m6 3h2m16-1h2m-1 1h2m-279 7h2m170-2h2m-1 0h2m-2-2h2m3 1h2m-2-1h2m2 3h2m-1-2h2m-1-1h2m1 4h2m3 0h2m2 0h2m-1-3h2m16 0h2m4 1h2m2-2h2m7-1h2m10 5h2m5 0h2m25-3h2m31 0h2m-359 5h2m29 4h2m3-1h2m0 1h2m6-5h2m-2 0h2m168 5h2m3-1h2m1-2h2m7 0h2m-2 2h2m0 1h2m-2-5h2m6 4h2m2-1h2m-1-1h2m6 3h2m-2 0h2m-1 0h2m3-4h2m9-1h2m-1 5h2m1-2h2m5-3h2m13 3h2m29 1h2m-305 4h2m3 2h2m169 0h2m4 1h2m6 0h2m-2-3h2m8-1h2m-1 2h2m-1 2h2m-1-5h2m1 4h2m1-3h2m-1 3h2m2-4h2m4 3h2m18-3h2m3 1h2m0 3h2m15-1h2m6-2h2m50 3h2m-339 7h2m0-1h2m3-1h2m176 2h2m0-5h2m5 3h2m-2-2h2m-1-1h2m17 1h2m19 0h2m-2-1h2m0 2h2m29 0h2m-2 2h2m14-3h2m2 2h2m19-1h2m24 2h2m-343 5h2m0-3h2m5 2h2m-2 3h2m-1-4h2m1 2h2m153 0h2m0-2h2m-1 3h2m-1-2h2m8 0h2m1-1h2m6 4h2m0-1h2m-2-3h2m2 3h2m2-1h2m0 1h2m-1-4h2m7 4h2m3-1h2m0-3h2m1 0h2m32 3h2m10-1h2m26 1h2m24 0h2m-367 7h2m13 0h2m11 0h2m-1-4h2m-1 2h2m3-1h2m3 3h2m-1-3h2m157 2h2m-1-1h2m0 0h2m0 0h2m3-2h2m7 0h2m3 3h2m-2 2h2m0-4h2m1-1h2m-2 4h2m2-1h2m0 2h2m1-5h2m0 1h2m48 0h2m-272 9h2m2-2h2m0 3h2m4-5h2m5 2h2m0-1h2m-2-1h2m12 0h2m0 4h2m0 0h2m3 0h2m4 0h2m0 1h2m11-1h2m-2 0h2m-1 1h2m2 0h2m-2 0h2m-1 0h2m67-1h2m2 1h2m30-1h2m3 0h2m0-2h2m-2 1h2m4-3h2m4 0h2m0 0h2m6 4h2m3-1h2m3-2h2m4-1h2m2 5h2m10-3h2m114 3h2m8-4h2m-350 6h2m-1 0h2m5-1h2m4 2h2m-1-1h2m6 0h2m2 0h2m6 0h2m6-1h2m9 1h2m92-1h2m3 0h2m2 0h2m7 0h2m22 1h2m8-1h2m46 4h2" stroke="#3434f4" stroke-width="3.5" fill="none"/>
<path transform="translate(195.2 286.2) scale(0.2)" d="M187 250h2m0 0h2m0-2h2m-1 0h2m2 2h2m4 1h2m1-1h2m-2 1h2m2-3h2m5 2h2m-45 6h2m9 0h2m-2 1h2m-1-3h2m-2 0h2m0 1h2m4-3h2m0 2h2m-1 1h2m-1 1h2m1-4h2m0 4h2m-1 1h2m-1-2h2m-2 1h2m0 1h2m1-5h2m0 2h2m-1 1h2m-1 0h2m-2-2h2m-1 4h2m0-3h2m4 3h2m0-1h2m-1 1h2m1 0h2m-2-1h2m3 0h2m-65 7h2m-1 0h2m-1 0h2m-1-1h2m-1 0h2m3 0h2m-1 0h2m-2-1h2m-1-2h2m-2 4h2m0 0h2m-1-4h2m-2 1h2m-1-1h2m-2 1h2m1-2h2m0 0h2m-1 0h2m-1 2h2m-2 0h2m-1 3h2m-1-2h2m0 1h2m0-3h2m-1 0h2m4 2h2m1 1h2m0 1h2m-1 0h2m2-3h2m-1 2h2m2-2h2m-1 3h2m3-2h2m-2-3h2m0 0h2m-1 4h2m-2-2h2m2 0h2m1 1h2m2 0h2m-79 5h2m-2 3h2m-1 0h2m-1 0h2m-1-1h2m2-1h2m-1 1h2m2 1h2m-1-3h2m0-2h2m14 0h2m-1 1h2m-1-1h2m-2 3h2m-1 1h2m-2 1h2m-1-4h2m-1 4h2m-1-5h2m-1 2h2m0 1h2m0-2h2m-1 0h2m-2 4h2m-1-1h2m-1-1h2m-1 1h2m0-4h2m-1 5h2m1 0h2m0-4h2m0 2h2m0 0h2m-2 2h2m2-1h2m-1 1h2m4-3h2m2 1h2m-1 1h2m-2 0h2m-1-2h2m2 1h2m1-3h2m-2 3h2m-97 6h2m-1 1h2m0 0h2m0 0h2m0 0h2m-1 0h2m4-3h2m3 0h2m26 4h2m0-2h2m0 1h2m-1-4h2m0 2h2m-1 0h2m2-1h2m-1 4h2m-2-3h2m-1 1h2m0 2h2m0-5h2m1 1h2m-2 3h2m3-3h2m-1 3h2m-1 0h2m-1-3h2m5 2h2m-1 2h2m0-4h2m0 2h2m-1 1h2m-1-2h2m-2-2h2m-1 1h2m-2 3h2m1 1h2m5-1h2m-2-1h2m-1 1h2m-1 0h2m-115 7h2m4-1h2m2-1h2m-1-3h2m3 1h2m37 0h2m5-1h2m1 2h2m3 3h2m0-1h2m0-1h2m6 0h2m-2 0h2m1-2h2m-1-1h2m-2 5h2m-1-5h2m1 3h2m0 1h2m-1-3h2m-1 4h2m-1-3h2m0 1h2m-2-2h2m-2 3h2m3-2h2m-2-1h2m-1 1h2m1 3h2m-2-1h2m0-4h2m1 2h2m-1 1h2m-115 4h2m-1 2h2m1 1h2m-2 0h2m-2 1h2m63-4h2m-2 3h2m3 0h2m1-2h2m-2 1h2m-1 0h2m0-2h2m-1 3h2m-1-2h2m1 3h2m2-4h2m-1 4h2m-1-4h2m-2 3h2m-2-2h2m1 2h2m-2-2h2m-1 1h2m-1 2h2m-2-4h2m1-1h2m-1 0h2m6 2h2m3 3h2m-1-5h2m-2 2h2m-2-1h2m-2 2h2m-1-1h2m-126 8h2m-2 0h2m2 1h2m-1-2h2m-2 1h2m-1-4h2m-2 0h2m71 0h2m10 3h2m-1 0h2m0 0h2m-2-2h2m-1 3h2m-2 0h2m3 1h2m0-2h2m5-1h2m1 1h2m0 1h2m-1 0h2m-2-4h2m0 5h2m-1-1h2m0-3h2m-1 2h2m2-2h2m-1 4h2m-1 0h2m2-4h2m0 0h2m-142 10h2m1-3h2m0 0h2m87-2h2m-1 2h2m0-2h2m2 2h2m4 1h2m1 0h2m3-2h2m-1 0h2m-1 0h2m-2 0h2m6-1h2m-1 1h2m-1 0h2m0-1h2m2 5h2m-2-1h2m0-3h2m-2 3h2m-136 2h2m-1 4h2m0-1h2m89-3h2m1 3h2m-2-3h2m-2 1h2m5 1h2m-2 1h2m-2-3h2m0 2h2m3 3h2m3-1h2m1 1h2m-1-2h2m0 1h2m-1 0h2m-1-2h2m0-1h2m-1 0h2m-2 4h2m-1-5h2m-1 3h2m2 1h2m-2 1h2m1-5h2m7 4h2m-159 5h2m0 1h2m-1-3h2m0-1h2m98 3h2m0 2h2m-1-4h2m2 2h2m0-1h2m-2 3h2m-2-3h2m3 1h2m0-3h2m-2 4h2m2-4h2m-2 3h2m0-3h2m-2 3h2m2 0h2m6-3h2m2 0h2m-1 2h2m-1 0h2m3 3h2m-1 0h2m1 0h2m-163 5h2m-1 0h2m0-2h2m108-1h2m-2 1h2m0 3h2m-2-1h2m-2 1h2m-1-4h2m6 3h2m-2 0h2m-1-1h2m0-2h2m0-1h2m2 2h2m-2 1h2m0 2h2m-2-4h2m-1 2h2m3 0h2m1 0h2m0-2h2m-2 3h2m-2 0h2m-1-4h2m-1 5h2m5 0h2m-1-2h2m0 2h2m-2-3h2m0 2h2m-1 0h2m-1-1h2m-2 1h2m-1 0h2m-2 1h2m-172 4h2m2 0h2m-2 0h2m-1-1h2m2-1h2m110-1h2m-2 1h2m2 0h2m0 1h2m-1 3h2m-1-5h2m-1 4h2m0 0h2m-2 0h2m-1 1h2m0-5h2m-1 4h2m-1-4h2m0 1h2m4 0h2m-1 2h2m5-3h2m-1 0h2m-1 2h2m-2 3h2m-2-4h2m-1 0h2m-1 2h2m-1 1h2m-2-1h2m0-3h2m-2 2h2m-2-1h2m4 0h2m2 0h2m-2 1h2m-184 8h2m1 0h2m0 1h2m-1 0h2m0 0h2m0-3h2m-1 0h2m-2 2h2m0-2h2m1 2h2m-2-4h2m112 5h2m2 0h2m1 0h2m-2 0h2m1 0h2m-2-1h2m0 0h2m-2-2h2m1-1h2m-1 1h2m-2 3h2m-1-5h2m0 4h2m-1-4h2m2 3h2m-1-2h2m3 2h2m-2-1h2m1 2h2m-1 0h2m1-3h2m-1 1h2m-1-1h2m-1 0h2m1 1h2m3 0h2m-2-2h2m-1 0h2m-2 1h2m-184 9h2m-2 0h2m-1 0h2m1-4h2m0 5h2m-2-4h2m1-1h2m-2 3h2m4 1h2m2-4h2m-2 0h2m0 5h2m113 0h2m-1-1h2m-1-4h2m-2 3h2m0 0h2m1 2h2m-1-5h2m2 5h2m-1-4h2m-2 4h2m1-3h2m1-1h2m6 0h2m-2-1h2m1 4h2m1-2h2m-1 0h2m0 3h2m-176 5h2m0-2h2m-2 2h2m-2-1h2m0-1h2m-1-1h2m2 1h2m-2 2h2m1-3h2m0 3h2m-2-4h2m2 0h2m109 5h2m-2-1h2m0 1h2m-2-4h2m1 4h2m5-2h2m5-2h2m0 2h2m-152 3h2m3 4h2m0-2h2m3-1h2m0 4h2m1-1h2m-1-2h2m2 1h2m0 0h2m2 0h2m2 2h2m4-1h2m-2 1h2m-2 0h2m-2-2h2m-1 0h2m71 1h2m-2-1h2m-2 0h2m1-1h2m-1 3h2m1-2h2m-1 0h2m-2 0h2m4 0h2m1-2h2m-2 4h2m1-4h2m-1 0h2m-2 1h2m-1 0h2m2 2h2m-1-2h2m-1 2h2m0-1h2m-1-2h2m-2 1h2m2-2h2m-149 6h2m1 1h2m-2 0h2m-1 1h2m-1-2h2m0 2h2m-1-2h2m-2 0h2m3 0h2m2 4h2m0-4h2m-2 4h2m0-1h2m-1-1h2m1 0h2m1-1h2m-1 2h2m1-2h2m-1 3h2m-2-1h2m0-2h2m0 1h2m-1-2h2m6 5h2m1 0h2m7-1h2m0 1h2m12-1h2m-1 1h2m0 0h2m12 0h2m4 0h2m-1 0h2m2 0h2m8-2h2m-2 0h2m4 0h2m1-3h2m-1 1h2m-1 0h2m-1-1h2m-2 0h2m-1 1h2m2 1h2m-2-2h2m-2 3h2m1-3h2m-2 1h2m-1 2h2m3-3h2m3 2h2m-106 4h2m2 0h2m3 0h2m0 1h2m-1 0h2m-2-1h2m6 0h2m3 2h2m0 0h2m-1-2h2m4 2h2m-2-2h2m-1 0h2m0 1h2m-1-1h2m0 0h2m5 0h2m7 0h2m-2 0h2m2 1h2" stroke="#0c0cf0" stroke-width="3.5" fill="none"/>
<path transform="translate(195.2 286.2) scale(0.2)" d="M177 268h2m3-1h2m-2 1h2m-2-1h2m-2 2h2m-2-1h2m-2 0h2m-1-3h2m0 1h2m-2 0h2m3 1h2m-1-1h2m-32 7h2m-1 0h2m1 1h2m1-1h2m0 1h2m7 0h2m-1 1h2m-1-4h2m1 0h2m0 3h2m-1-1h2m1 1h2m-1-2h2m-48 9h2m1 0h2m0 0h2m4 0h2m0 0h2m0-3h2m-2-1h2m0 3h2m-2-3h2m0 4h2m0-4h2m4 2h2m-1 1h2m-1-2h2m-1-1h2m0 2h2m-2-2h2m1 3h2m-2-1h2m-1-3h2m-1 2h2m4-1h2m-1 3h2m-2-2h2m2 2h2m0 1h2m3-1h2m2 1h2m-61 3h2m-1 0h2m0 2h2m-1-1h2m-2-1h2m0-2h2m-1 5h2m-1-2h2m-2 0h2m0 1h2m-2-4h2m0 1h2m-2 2h2m1-3h2m-2 4h2m-2 0h2m0 1h2m-2-2h2m1 2h2m-2-5h2m-1 4h2m-1 0h2m24-3h2m-1-1h2m-1 0h2m-1 1h2m0 1h2m2 2h2m-1-2h2m2 1h2m-2-1h2m-2 2h2m-71 7h2m-1-1h2m0-1h2m1 2h2m-1-2h2m-2 1h2m-2-2h2m-2-1h2m-2 4h2m-1-3h2m1 1h2m-1-3h2m-1 5h2m47-1h2m2 1h2m-1-1h2m-1-1h2m-2 0h2m-1 2h2m-1-5h2m0 2h2m-1 0h2m-1 1h2m-1-2h2m-1 0h2m-1 1h2m-2-2h2m-87 11h2m-1 0h2m-1-2h2m0 2h2m-1 0h2m0-2h2m-1 2h2m-1-2h2m0 1h2m-2-2h2m-2 2h2m0-4h2m-2 1h2m3 0h2m0 1h2m50 0h2m-1 0h2m-1 0h2m-1 3h2m-2-1h2m-2 1h2m-2-2h2m-1 0h2m-1-2h2m-1 3h2m-1-1h2m2-3h2m-2 4h2m-1 0h2m0-1h2m-95 8h2m-2 0h2m0 0h2m3-1h2m1-4h2m0 0h2m-2 1h2m0 0h2m3 0h2m0 2h2m58-1h2m-2 0h2m1-2h2m-1 1h2m-1 1h2m1-2h2m0 3h2m-1-2h2m-96 7h2m-1-1h2m1 2h2m-2-1h2m-2-1h2m74-1h2m-2 4h2m-1-2h2m-1 1h2m-1 2h2m-2-5h2m-1 4h2m0 0h2m1-1h2m3-2h2m-1 2h2m-106 8h2m-1-3h2m0 0h2m-2 3h2m1-5h2m0 1h2m0 1h2m-1 2h2m-2-4h2m-2 2h2m0-2h2m-2 5h2m76-5h2m-2 2h2m-2 1h2m-1 0h2m-1 2h2m-1 0h2m-2-2h2m-1-3h2m-1 2h2m-1 1h2m1-1h2m-2 1h2m-1-3h2m-2 0h2m-1 1h2m-1 1h2m-1 3h2m-112 4h2m0 0h2m3 2h2m-2-2h2m-2 2h2m-1 0h2m-2-1h2m-2-2h2m0-2h2m1 1h2m2 1h2m-1-1h2m74 2h2m-1-2h2m0 0h2m-2 4h2m0-4h2m-1 4h2m-2-4h2m1 4h2m2-1h2m-2 0h2m-1 0h2m-1 1h2m-1 0h2m-1 0h2m-1 0h2m-114 5h2m-2 0h2m-1-2h2m-2 3h2m-1-1h2m-2-1h2m1 0h2m0 0h2m-2-2h2m2-1h2m82 5h2m-2-2h2m-2-1h2m-1-2h2m-1 3h2m-1 1h2m0 1h2m1-3h2m-1-1h2m-1 2h2m-2-1h2m-1 0h2m-1-2h2m-1 2h2m3-1h2m-116 5h2m0 0h2m0 0h2m-1 2h2m0-1h2m87 0h2m-1-1h2m-1 4h2m0-1h2m-2-3h2m0 0h2m-2 3h2m1-1h2m-114 6h2m-2 2h2m0 0h2m-2-1h2m-2 2h2m-1-2h2m-2 0h2m1 1h2m1 0h2m-1-3h2m2-1h2m2 2h2m1 2h2m-1 0h2m71 0h2m-2-2h2m0 2h2m0-3h2m3 1h2m-2 1h2m0-3h2m5 0h2m-116 7h2m0 0h2m1 1h2m-1-1h2m2 1h2m0-1h2m2-1h2m-1 0h2m2 0h2m-1 0h2m-2 0h2m1 4h2m-1 1h2m-1 0h2m-1-1h2m1 1h2m0-1h2m-1 0h2m-1-1h2m-2-1h2m1 3h2m-1-1h2m0-1h2m-2 0h2m-1 1h2m-1 1h2m2-3h2m33 1h2m1 1h2m-2 0h2m-1-2h2m-2 1h2m-1 2h2m0-3h2m-2 2h2m-2 0h2m-1 0h2m-1-1h2m4-1h2m0 0h2m0-2h2m1 2h2m3-2h2m-1 1h2m-2-1h2m-84 9h2m3-2h2m0 0h2m-1-1h2m0 2h2m0 1h2m1-1h2m-2 1h2m-1 0h2m-2-3h2m33 1h2m-1 1h2m4 1h2m3-3h2m0 0h2m-2 3h2m0 0h2" stroke="#0040ff" stroke-width="3.5" fill="none"/>
<path transform="translate(195.2 286.2) scale(0.2)" d="M169 280h2m2 1h2m2 0h2m1-1h2m-2 1h2m-1 0h2m-2 0h2m-1 0h2m-15 6h2m0 0h2m-1-4h2m1 4h2m-2-1h2m-1 0h2m0-1h2m-1-1h2m-1-1h2m-2 3h2m0-1h2m0 2h2m-1-4h2m-2 2h2m-1 0h2m-1 1h2m-1-3h2m-1-1h2m0 2h2m-2-2h2m-2 4h2m-1-2h2m-40 5h2m-1 3h2m4-4h2m-2 5h2m-1-3h2m0 3h2m0 0h2m-2 0h2m0-1h2m12-4h2m1 3h2m-2 2h2m-2-2h2m-2 1h2m-2-3h2m-2 4h2m0 0h2m-2-1h2m-1-3h2m-1 1h2m0-1h2m0 4h2m-2-3h2m0 3h2m-1 0h2m-2-4h2m0 2h2m0 0h2m-56 6h2m-2 1h2m-1-2h2m-1 1h2m-1 1h2m-2-2h2m1 0h2m-1 2h2m0-4h2m-1 4h2m0-3h2m-2 2h2m1-3h2m1 2h2m-2 0h2m1-1h2m-1-1h2m19 0h2m5 5h2m-1-3h2m-2-1h2m1-1h2m-2 0h2m-68 11h2m-1-1h2m0 1h2m5-3h2m-2 2h2m1-4h2m-1 1h2m0 1h2m-1 2h2m-1-2h2m-2-2h2m-1 0h2m0 1h2m-1 2h2m0-1h2m-1-2h2m-2 0h2m31 0h2m-2 0h2m-1 3h2m-2 2h2m1-1h2m0-4h2m0 3h2m-74 7h2m-1-1h2m-2-2h2m-1 4h2m-2-5h2m-2 5h2m-2-4h2m0 4h2m-1-4h2m-2 0h2m0 4h2m0-4h2m0 3h2m-1-3h2m-1 1h2m-2 3h2m-1-2h2m0 2h2m0-2h2m-2-2h2m0 3h2m-2 1h2m0-5h2m-2 5h2m-1-1h2m-1-4h2m39 1h2m-2 2h2m-1-2h2m-2 0h2m-2 4h2m3-4h2m-72 8h2m-1-2h2m-1 4h2m-2-3h2m-1 3h2m-1-4h2m-2-1h2m-1 2h2m-2-1h2m1-1h2m-1 3h2m2 2h2m-2-4h2m0-1h2m48 3h2m-1 1h2m-2-3h2m-2 1h2m-1-1h2m-2 0h2m1-1h2m-81 8h2m-1 3h2m-2-2h2m4 2h2m0-1h2m-2-1h2m1 2h2m0-4h2m1-1h2m0 0h2m-1 0h2m-1 0h2m-1 1h2m-2 0h2m-1-1h2m-1 1h2m46-1h2m-1 5h2m-1-2h2m-1-3h2m0 0h2m-87 11h2m-1-1h2m3 1h2m0 0h2m-1-3h2m-2 2h2m-2-2h2m-2 0h2m-1 0h2m-2-2h2m-2 5h2m-1-3h2m0 0h2m1 2h2m0-2h2m-1 0h2m0-2h2m1 1h2m-2 2h2m57-1h2m-1-2h2m-1 0h2m-1 4h2m-1-2h2m-1 3h2m-90 3h2m-1-2h2m0 5h2m-1-1h2m-1-2h2m3 3h2m-2-3h2m1 0h2m-2-2h2m-2 1h2m-2 2h2m-2-3h2m-2 3h2m-1 0h2m-2-3h2m-2 4h2m-1-3h2m-2 4h2m-2-1h2m-1 0h2m62 0h2m0-1h2m-1 0h2m-1 1h2m-1-3h2m-2 4h2m-2-5h2m-1 4h2m-1-3h2m-2 1h2m-1-2h2m-90 6h2m1 0h2m4 1h2m-2 1h2m-1 0h2m0 2h2m0-1h2m-2-1h2m-1-1h2m-2 4h2m0 0h2m0-4h2m-2 4h2m-1-1h2m-1-1h2m-1 1h2m-2-2h2m-1 1h2m-1 0h2m-1-3h2m1 5h2m-1-5h2m-2 3h2m-2-3h2m-2 4h2m41 0h2m-2-4h2m0 0h2m-1 1h2m-2 3h2m-1-1h2m-2 1h2m-2-3h2m0 2h2m0-2h2m-73 5h2m-1 2h2m0-1h2m1-1h2m-1 2h2m-1-2h2m1 1h2m3-1h2m1 2h2m2-1h2m-1 2h2m2 1h2m-2 0h2m-2 1h2m2-3h2m-1 3h2m0-1h2m-1 0h2m0-2h2m-2 1h2m1 0h2m0 0h2m3 0h2m-1 0h2m-2 0h2m1 1h2m-2 0h2m-1 1h2m-1-3h2m8 0h2m-1 0h2m3-1h2m-49 7h2m-1-1h2m-1 2h2m-1-1h2m-1-2h2m-2 3h2m-1-1h2m0-2h2m-1 1h2m1-1h2m-1 4h2m-2-3h2m0 0h2m-1 1h2m-1 0h2m1 0h2m-2 0h2m-1-2h2m-2 2h2m-1 1h2m-1-1h2m0-2h2m0 0h2m-1 1h2m3 0h2" stroke="#006dff" stroke-width="3.5" fill="none"/>
<path transform="translate(195.2 286.2) scale(0.2)" d="M169 289h2m-1-1h2m-2 3h2m-1 0h2m-1-1h2m-1 0h2m-2-2h2m-2 4h2m-1-3h2m-1 0h2m-1-1h2m-1 4h2m0-3h2m-1 3h2m-2 1h2m-2-3h2m-1 0h2m-2 2h2m-1-1h2m-1 2h2m-24 5h2m-1 1h2m-2 0h2m3 0h2m0-1h2m-2 0h2m0-4h2m-2 0h2m2 1h2m0 2h2m-2-3h2m-1 4h2m0 1h2m-2-2h2m-1 2h2m-2-5h2m0 2h2m-2-1h2m-2 3h2m-2-1h2m-1 2h2m-2-3h2m-1 1h2m1-1h2m-1 1h2m0 2h2m-2 0h2m-39 5h2m0 1h2m2-4h2m-1 0h2m-2 1h2m-1-1h2m-2 4h2m-2 0h2m-1-3h2m-1 0h2m-1 3h2m-2-3h2m-2 1h2m-1 1h2m-1 1h2m-1-1h2m-2-1h2m-1-2h2m-2 0h2m-2 2h2m0 0h2m-1-3h2m-2 2h2m-1-2h2m-1 3h2m2 1h2m-2-1h2m-2 1h2m-1-4h2m-1 0h2m-1 2h2m-1 0h2m-2 0h2m-2 0h2m-1 2h2m-1-1h2m-2 2h2m-1-4h2m0 0h2m-1 0h2m0 0h2m-2 0h2m-1 1h2m-1 1h2m-41 3h2m-2 1h2m-2 2h2m0-2h2m-1-1h2m-2 5h2m-1-3h2m-2-2h2m-2 2h2m-2-2h2m-1 4h2m-1-4h2m-1 1h2m-1 1h2m-1 2h2m-1 1h2m-2-3h2m-2 1h2m0 1h2m-2-4h2m0 0h2m-1 4h2m-2-1h2m16-3h2m0 4h2m0-2h2m-2-1h2m0 1h2m-49 7h2m0 2h2m-1-2h2m-2 1h2m-1 0h2m4 1h2m-2-1h2m-1-1h2m-1-2h2m-2 2h2m-2 1h2m0-1h2m23 0h2m-1 1h2m-2-2h2m-2-1h2m1 2h2m-1-3h2m-1 3h2m-2-1h2m-2 3h2m0-1h2m-56 5h2m-1-1h2m-1 2h2m-2-1h2m-1 1h2m0-1h2m-1 2h2m-1 0h2m1-3h2m-2-1h2m-2 4h2m-1-3h2m-2 3h2m-1 0h2m0-3h2m-1-2h2m-2 1h2m0 0h2m-1-1h2m-2 1h2m0 0h2m25 0h2m-1-1h2m-2 0h2m-1 4h2m-1-1h2m-2 1h2m-2-2h2m-2 1h2m-2 2h2m-1-5h2m-2 3h2m-1-3h2m-2 0h2m-60 11h2m-1-1h2m1-4h2m-1 2h2m2-2h2m-1 5h2m-1-2h2m-1-3h2m-1 3h2m-2 2h2m-2-3h2m-1 0h2m1 1h2m-2 0h2m-1 2h2m-2-3h2m35 1h2m-2 0h2m2 0h2m-2-2h2m-1 0h2m-65 10h2m-1-1h2m-2-4h2m-2 0h2m1 1h2m-2 1h2m1-1h2m-1-1h2m-2 4h2m-2-4h2m0 3h2m-2-1h2m-1 1h2m0 1h2m-1-2h2m-1-1h2m-2 4h2m-2-3h2m-1 0h2m-2 0h2m-2 1h2m-1-2h2m-2 0h2m-2 4h2m1-4h2m-2-1h2m-1 3h2m-2 1h2m-1-1h2m-1-2h2m30 4h2m-1 0h2m-1-2h2m-1 0h2m0-1h2m-2 3h2m0-4h2m-2 1h2m-2-1h2m-64 5h2m2 0h2m9 1h2m-1 2h2m-2-1h2m-2 3h2m-1-1h2m-1-2h2m-2-1h2m-2 2h2m3 0h2m22 2h2m-1-1h2m0-2h2m-1 0h2m-2-1h2m-2 4h2m-2-2h2m-1 0h2m-1-2h2m0 4h2m4-5h2m-44 6h2m-1 1h2m-1 0h2m-1-1h2m25 1h2m-2-1h2m2 2h2m-2 0h2" stroke="#009aff" stroke-width="3.5" fill="none"/>
<path transform="translate(195.2 286.2) scale(0.2)" d="M178 304h2m2 1h2m0-1h2m-16 5h2m-1-3h2m-1 1h2m-1 4h2m-2-4h2m-2 1h2m-2 1h2m0 2h2m-2-4h2m-1-1h2m-1 1h2m-2 2h2m-1 0h2m-2-3h2m-2 5h2m-1-4h2m-2 1h2m-1 3h2m0-4h2m-2 4h2m-2-2h2m-2-3h2m-1 1h2m-2 3h2m-24 7h2m-2 0h2m-1 0h2m-1-2h2m1 1h2m-2-1h2m-2 1h2m-2-3h2m-1-1h2m-2 1h2m-2 2h2m1-1h2m0 0h2m-1 0h2m-2 2h2m0 0h2m-1-2h2m-2 2h2m-1 0h2m-2-3h2m-2 2h2m-1-2h2m-2 2h2m-1 2h2m-1-1h2m-2-3h2m0 4h2m-2-5h2m-1 3h2m-31 7h2m-2-2h2m1 1h2m-1 2h2m-2-2h2m-2 2h2m0-1h2m-2 1h2m-1 0h2m-2-2h2m-2-3h2m-1 2h2m0 1h2m0-1h2m-2-2h2m-1 2h2m-1 1h2m-2 2h2m0-4h2m-1 0h2m-2 0h2m-1 4h2m-2-3h2m-1 2h2m0-3h2m0 1h2m-2-1h2m-2 2h2m-2 0h2m-2 2h2m-1-2h2m-2 2h2m-2-2h2m-1-2h2m-1 2h2m-2 1h2m1-1h2m-2 1h2m-1 1h2m-33 1h2m-1 5h2m-1 0h2m-2-4h2m-2 2h2m-2-2h2m1 3h2m-2 1h2m-2-3h2m-2 2h2m-1-2h2m-2-2h2m-2 0h2m-2 2h2m-1 1h2m-1-3h2m-2 5h2m-1-5h2m-2 3h2m0-1h2m0-1h2m-1 3h2m-1-3h2m-1 2h2m-2 1h2m-1 0h2m-2-4h2m-2 5h2m-1-5h2m-2 0h2m-1 3h2m-1 2h2m-2-2h2m-1-3h2m-1 5h2m-2-3h2m-1-2h2m-1 4h2m-1-4h2m0 1h2m-2 2h2m-1-2h2m1 3h2m-2 1h2m-34 2h2m-2 1h2m-2 0h2m-1 3h2m-2-5h2m-2 1h2m-1 2h2m-1-3h2m0 2h2m-2 1h2m-2-3h2m-2 4h2m-1-4h2m-1 2h2m0-2h2m-1 2h2m-1 3h2m-1-3h2m-2 0h2m-1 2h2m-1-4h2m-1 1h2m0-1h2m-1 4h2m-2-1h2m-2-2h2m-2 1h2m-1 1h2m-2-3h2m-2 1h2m-2 0h2m0 0h2m-2 4h2m-2 0h2m-1-5h2m-2 5h2m-1-2h2m0 1h2m-2 1h2m-2-2h2m-2 0h2m0 0h2m-1 0h2m-2-2h2m-1 1h2m-2-2h2m-1 3h2m-2-2h2m0 2h2m-32 4h2m-1 1h2m-1 0h2m-2 1h2m-2 1h2m-2-3h2m-1-1h2m-2 3h2m0-1h2m-2 0h2m-1-1h2m-2 4h2m-1-3h2m-2-2h2m1 3h2m-2-2h2m-1 1h2m-2 1h2m0-2h2m-1-1h2m-2 4h2m-2-3h2m-2 1h2m-1 0h2m-2 0h2m0 3h2m-1-2h2m0 0h2m-1-2h2m-2 3h2m-2 0h2m-2-1h2m-2-1h2m-1-2h2m-19 6h2m-1 0h2m-1 2h2m-1-1h2m-2 1h2m-1 0h2m0-1h2m-1-1h2m-1 1h2m-2 1h2m-1-1h2m0 1h2m-2-1h2m-2 1h2m-1 0h2m2 0h2" stroke="#00c6ff" stroke-width="3.5" fill="none"/>
<g filter="url(#fblur2)">
<ellipse cx="228.7" cy="348.5" rx="13" ry="4.3" fill="#00c0ff" transform="rotate(-31 228.7 348.5)"/>
<ellipse cx="228.7" cy="349.4" rx="7.5" ry="2.8" fill="#30f0b0" transform="rotate(-29 228.7 349.4)"/>
<ellipse cx="228.7" cy="349.4" rx="3.8" ry="1.6" fill="#b8ff40" transform="rotate(-26 228.7 349.4)"/>
</g>
<path d="M240.9 358.8 L250.7 313.6 L278.7 306.8 L278.7 357.8 L240.9 358.8" fill="none" stroke="#555" stroke-width="0.9"/>
<text x="251.2" y="304.2" font-size="4.6" text-anchor="middle" fill="#333" style="font-family:'Liberation Sans',Arial,sans-serif">P2(9.19%)</text>
<path d="M195.2 286.2V359.9H284.3" fill="none" stroke="#444" stroke-width="0.9"/>
<line x1="193.6" y1="359.9" x2="195.2" y2="359.9" stroke="#444" stroke-width="0.6"/>
<line x1="193.6" y1="352.5" x2="195.2" y2="352.5" stroke="#444" stroke-width="0.6"/>
<line x1="193.6" y1="345.2" x2="195.2" y2="345.2" stroke="#444" stroke-width="0.6"/>
<line x1="193.6" y1="337.8" x2="195.2" y2="337.8" stroke="#444" stroke-width="0.6"/>
<line x1="193.6" y1="330.4" x2="195.2" y2="330.4" stroke="#444" stroke-width="0.6"/>
<line x1="193.6" y1="323" x2="195.2" y2="323" stroke="#444" stroke-width="0.6"/>
<line x1="193.6" y1="315.7" x2="195.2" y2="315.7" stroke="#444" stroke-width="0.6"/>
<line x1="193.6" y1="308.3" x2="195.2" y2="308.3" stroke="#444" stroke-width="0.6"/>
<line x1="193.6" y1="300.9" x2="195.2" y2="300.9" stroke="#444" stroke-width="0.6"/>
<line x1="193.6" y1="293.6" x2="195.2" y2="293.6" stroke="#444" stroke-width="0.6"/>
<line x1="193.6" y1="286.2" x2="195.2" y2="286.2" stroke="#444" stroke-width="0.6"/>
<line x1="196.8" y1="359.9" x2="196.8" y2="361.7" stroke="#444" stroke-width="0.6"/>
<line x1="203.3" y1="359.9" x2="203.3" y2="360.9" stroke="#666" stroke-width="0.4"/>
<line x1="207" y1="359.9" x2="207" y2="360.9" stroke="#666" stroke-width="0.4"/>
<line x1="209.7" y1="359.9" x2="209.7" y2="360.9" stroke="#666" stroke-width="0.4"/>
<line x1="211.8" y1="359.9" x2="211.8" y2="360.9" stroke="#666" stroke-width="0.4"/>
<line x1="213.5" y1="359.9" x2="213.5" y2="360.9" stroke="#666" stroke-width="0.4"/>
<line x1="214.9" y1="359.9" x2="214.9" y2="360.9" stroke="#666" stroke-width="0.4"/>
<line x1="216.2" y1="359.9" x2="216.2" y2="360.9" stroke="#666" stroke-width="0.4"/>
<line x1="217.3" y1="359.9" x2="217.3" y2="360.9" stroke="#666" stroke-width="0.4"/>
<text x="196.8" y="366.5" font-size="4.6" text-anchor="middle" fill="#3a3a3a" style="font-family:'Liberation Sans',Arial,sans-serif">10<tspan font-size="3" dy="-1.8">2</tspan></text>
<line x1="218.3" y1="359.9" x2="218.3" y2="361.7" stroke="#444" stroke-width="0.6"/>
<line x1="224.7" y1="359.9" x2="224.7" y2="360.9" stroke="#666" stroke-width="0.4"/>
<line x1="228.5" y1="359.9" x2="228.5" y2="360.9" stroke="#666" stroke-width="0.4"/>
<line x1="231.2" y1="359.9" x2="231.2" y2="360.9" stroke="#666" stroke-width="0.4"/>
<line x1="233.3" y1="359.9" x2="233.3" y2="360.9" stroke="#666" stroke-width="0.4"/>
<line x1="235" y1="359.9" x2="235" y2="360.9" stroke="#666" stroke-width="0.4"/>
<line x1="236.4" y1="359.9" x2="236.4" y2="360.9" stroke="#666" stroke-width="0.4"/>
<line x1="237.7" y1="359.9" x2="237.7" y2="360.9" stroke="#666" stroke-width="0.4"/>
<line x1="238.8" y1="359.9" x2="238.8" y2="360.9" stroke="#666" stroke-width="0.4"/>
<text x="218.3" y="366.5" font-size="4.6" text-anchor="middle" fill="#3a3a3a" style="font-family:'Liberation Sans',Arial,sans-serif">10<tspan font-size="3" dy="-1.8">3</tspan></text>
<line x1="239.8" y1="359.9" x2="239.8" y2="361.7" stroke="#444" stroke-width="0.6"/>
<line x1="246.2" y1="359.9" x2="246.2" y2="360.9" stroke="#666" stroke-width="0.4"/>
<line x1="250" y1="359.9" x2="250" y2="360.9" stroke="#666" stroke-width="0.4"/>
<line x1="252.7" y1="359.9" x2="252.7" y2="360.9" stroke="#666" stroke-width="0.4"/>
<line x1="254.8" y1="359.9" x2="254.8" y2="360.9" stroke="#666" stroke-width="0.4"/>
<line x1="256.5" y1="359.9" x2="256.5" y2="360.9" stroke="#666" stroke-width="0.4"/>
<line x1="257.9" y1="359.9" x2="257.9" y2="360.9" stroke="#666" stroke-width="0.4"/>
<line x1="259.1" y1="359.9" x2="259.1" y2="360.9" stroke="#666" stroke-width="0.4"/>
<line x1="260.2" y1="359.9" x2="260.2" y2="360.9" stroke="#666" stroke-width="0.4"/>
<text x="239.8" y="366.5" font-size="4.6" text-anchor="middle" fill="#3a3a3a" style="font-family:'Liberation Sans',Arial,sans-serif">10<tspan font-size="3" dy="-1.8">4</tspan></text>
<line x1="261.2" y1="359.9" x2="261.2" y2="361.7" stroke="#444" stroke-width="0.6"/>
<line x1="267.7" y1="359.9" x2="267.7" y2="360.9" stroke="#666" stroke-width="0.4"/>
<line x1="271.5" y1="359.9" x2="271.5" y2="360.9" stroke="#666" stroke-width="0.4"/>
<line x1="274.2" y1="359.9" x2="274.2" y2="360.9" stroke="#666" stroke-width="0.4"/>
<line x1="276.2" y1="359.9" x2="276.2" y2="360.9" stroke="#666" stroke-width="0.4"/>
<line x1="277.9" y1="359.9" x2="277.9" y2="360.9" stroke="#666" stroke-width="0.4"/>
<line x1="279.4" y1="359.9" x2="279.4" y2="360.9" stroke="#666" stroke-width="0.4"/>
<line x1="280.6" y1="359.9" x2="280.6" y2="360.9" stroke="#666" stroke-width="0.4"/>
<line x1="281.7" y1="359.9" x2="281.7" y2="360.9" stroke="#666" stroke-width="0.4"/>
<text x="261.2" y="366.5" font-size="4.6" text-anchor="middle" fill="#3a3a3a" style="font-family:'Liberation Sans',Arial,sans-serif">10<tspan font-size="3" dy="-1.8">5</tspan></text>
<line x1="282.7" y1="359.9" x2="282.7" y2="361.7" stroke="#444" stroke-width="0.6"/>
<text x="282.7" y="366.5" font-size="4.6" text-anchor="middle" fill="#3a3a3a" style="font-family:'Liberation Sans',Arial,sans-serif">10<tspan font-size="3" dy="-1.8">6</tspan></text>
<text x="238.2" y="371.9" font-size="5" fill="#3a3a3a" stroke="#3a3a3a" stroke-width="0.1" text-anchor="middle" textLength="24.4" lengthAdjust="spacingAndGlyphs" style="font-family:'Liberation Sans',Arial,sans-serif">Annexin V</text>
<text x="191.8" y="289.7" font-size="4.2" text-anchor="middle" fill="#3a3a3a" style="font-family:'Liberation Sans',Arial,sans-serif" transform="rotate(-90 191.8 289.7)">1000</text>
<text x="191.8" y="323.1" font-size="4.2" text-anchor="middle" fill="#3a3a3a" style="font-family:'Liberation Sans',Arial,sans-serif" transform="rotate(-90 191.8 323.1)">500</text>
<text x="191.8" y="359.9" font-size="4.2" text-anchor="middle" fill="#3a3a3a" style="font-family:'Liberation Sans',Arial,sans-serif" transform="rotate(-90 191.8 359.9)">0</text>
<text x="185.6" y="293.7" font-size="4.2" text-anchor="middle" fill="#3a3a3a" style="font-family:'Liberation Sans',Arial,sans-serif" transform="rotate(-90 185.6 293.7)">(x10<tspan font-size="2.8" dy="-1.5">3</tspan><tspan dy="1.5">)</tspan></text>
<text x="185.6" y="323.1" font-size="4.2" text-anchor="middle" fill="#3a3a3a" style="font-family:'Liberation Sans',Arial,sans-serif" transform="rotate(-90 185.6 323.1)">FITC</text>
<rect x="306.1" y="286.2" width="88.7" height="73.7" fill="#fff" stroke="#8a8a8a" stroke-width="0.8"/>
<g filter="url(#fblur)">
<ellipse cx="338.6" cy="345.7" rx="17" ry="7.5" fill="#0410e8" transform="rotate(-36 338.6 345.7)"/>
</g>
<path transform="translate(306.1 286.2) scale(0.2)" d="M298 113h2m-19 18h2m-50 20h2m58-1h2m-8 11h2m-42 4h2m26-3h2m-18 10h2m1 13h2m88-3h2m-68 8h2m-27 2h2m-31 7h2m40 4h2m-202 2h2m154 3h2m9-3h2m7 2h2m3 0h2m4 1h2m75-4h2m-118 11h2m12-3h2m27 3h2m15-4h2m0 3h2m12-4h2m25 2h2m4 0h2m3 0h2m3 0h2m-132 8h2m2-2h2m6-2h2m5 4h2m14 1h2m-2-2h2m8-2h2m16-1h2m11 2h2m15-2h2m51 1h2m-160 9h2m6-2h2m0 1h2m14 1h2m3-4h2m0 3h2m0-1h2m-1-1h2m-1 3h2m-33 2h2m1 3h2m10 2h2m2-5h2m8 4h2m3 0h2m27 0h2m25-3h2m-97 8h2m5-1h2m10-1h2m0 0h2m-2 4h2m-1 0h2m9-1h2m1-3h2m16 3h2m0-2h2m10 2h2m0-3h2m7 2h2m8 0h2m3-3h2m112 2h2m-238 9h2m1 0h2m-1-4h2m-1 2h2m-2-1h2m0 0h2m10 3h2m10-3h2m0 1h2m7 2h2m7-3h2m0 3h2m-2-3h2m5 0h2m6 3h2m-2-1h2m1 1h2m7-2h2m16-1h2m7 0h2m37 0h2m8-2h2m29 2h2m37 3h2m-227 4h2m3-1h2m5-1h2m-1-1h2m-1 5h2m12-4h2m-2 3h2m4-4h2m2 5h2m-1 0h2m0-3h2m7 0h2m4-1h2m-1 1h2m10-1h2m4 1h2m13 0h2m9 3h2m2-1h2m-2-4h2m35 5h2m-277 3h2m115 1h2m15 1h2m6-1h2m0-1h2m-2 0h2m0-2h2m3 1h2m9 1h2m0 1h2m2 1h2m-2-3h2m-1 0h2m-1 2h2m-2-1h2m-1-2h2m7 4h2m0-2h2m0 2h2m-1-3h2m2 4h2m4-3h2m-2 0h2m-2-2h2m4 2h2m4 3h2m-1-1h2m5-3h2m8 3h2m10-1h2m-124 3h2m0 2h2m-1-1h2m1 3h2m-1 1h2m-1-1h2m53-1h2m-1-3h2m6 0h2m-2 0h2m3 0h2m1 0h2m9 4h2m-1-2h2m-1 0h2m0-2h2m1 0h2m5 1h2m13 1h2m3 0h2m32 3h2m31 0h2m-205 3h2m-1 3h2m0-4h2m0 3h2m0 0h2m6-3h2m77 0h2m-1-1h2m2 4h2m0-4h2m7 1h2m5 4h2m5-1h2m1-2h2m21-1h2m2 3h2m13-2h2m-173 4h2m-2 2h2m0-2h2m7 0h2m-1 0h2m60 1h2m6 1h2m3 0h2m0-2h2m1 1h2m-2 1h2m9 1h2m-1-3h2m13 5h2m10-4h2m13-1h2m2 3h2m3 0h2m9-3h2m13 5h2m18 0h2m-1-1h2m36-1h2m-249 7h2m3-1h2m67-3h2m0 0h2m-2 2h2m1 0h2m4 0h2m2-2h2m5 5h2m0-3h2m1-2h2m-1 5h2m0 0h2m3-1h2m1-4h2m20 4h2m1-2h2m2 1h2m-1-3h2m5 2h2m-1-2h2m14 3h2m49 0h2m34 2h2m28-5h2m-294 11h2m6-3h2m-1-1h2m80 4h2m-1-4h2m4 4h2m10-2h2m2 2h2m-2-3h2m-2-1h2m-2 3h2m-1 1h2m1 0h2m2-2h2m-2-1h2m5 0h2m1-2h2m4 0h2m2 0h2m-2 5h2m3 0h2m3-5h2m14 3h2m11 0h2m55 0h2m-237 3h2m3 0h2m81 4h2m0-4h2m2 5h2m8-5h2m0 4h2m7-4h2m3 4h2m-2-3h2m2 3h2m2-3h2m1 0h2m-1-1h2m0 2h2m5-2h2m0 4h2m20-2h2m8-2h2m-2 0h2m13 1h2m3 0h2m20 2h2m-128 4h2m1 1h2m3 0h2m1-2h2m0 2h2m2 0h2m-1 2h2m0 1h2m-1-4h2m-1 1h2m-2 1h2m-2-3h2m15 2h2m4 1h2m1-1h2m-2 0h2m1 0h2m-1 1h2m0-1h2m3-2h2m-2 4h2m18-1h2m0-1h2m42-1h2m68 2h2m-191 5h2m1 1h2m3-1h2m-2-1h2m3 2h2m2 0h2m-1 2h2m2-1h2m2-2h2m1-2h2m0 1h2m11 0h2m-2 0h2m2 0h2m2 3h2m3-3h2m3 2h2m2-3h2m-1 1h2m-1 3h2m0-2h2m27-1h2m2 2h2m1 1h2m-1-2h2m12 0h2m-1-2h2m32 2h2m25-1h2m-316 9h2m137-1h2m-1 0h2m7-2h2m-1 2h2m4-2h2m1 2h2m7-2h2m0 2h2m7-2h2m5 2h2m14-3h2m35 2h2m1-2h2m-296 7h2m38 4h2m150-3h2m1-2h2m-2 2h2m0 0h2m7 2h2m0-3h2m4 4h2m-1-2h2m-2-2h2m4 2h2m14 0h2m0 2h2m12-2h2m-1 1h2m88-1h2m-311 3h2m-2 0h2m-2 5h2m-1-3h2m150 2h2m0-1h2m-1-2h2m0 3h2m-1-4h2m6 4h2m-1 1h2m0-3h2m-1 3h2m14 0h2m1-4h2m2 4h2m17-1h2m0-1h2m0-2h2m9-1h2m17 2h2m-264 8h2m1-2h2m2 3h2m-2-3h2m3-2h2m-2 1h2m-1 3h2m1-3h2m146 3h2m-1-3h2m3 4h2m-1-4h2m-1 4h2m-1-2h2m0-1h2m5 1h2m15-3h2m-2 2h2m2 0h2m1 2h2m3-4h2m5 1h2m2 1h2m-228 6h2m3 1h2m-2 2h2m161-4h2m-1 1h2m-1 2h2m-1-1h2m2-3h2m2 0h2m0 1h2m12 1h2m0-1h2m4 2h2m3-2h2m0 0h2m-1 0h2m6 2h2m1 0h2m53-3h2m7 0h2m-287 10h2m1 0h2m1-3h2m-2 3h2m157-3h2m2-1h2m0 3h2m9-3h2m1 4h2m0-1h2m2 2h2m12-4h2m1 3h2m4 1h2m6-2h2m28 1h2m2-3h2m36 3h2m-316 5h2m-1 1h2m2-1h2m1-2h2m-1 2h2m0-3h2m1 0h2m-2 2h2m2 0h2m4 0h2m5-2h2m-1 4h2m1 1h2m-2 0h2m2-3h2m145 1h2m-2 0h2m-2-1h2m1-1h2m-1 1h2m4-2h2m-2 4h2m35-2h2m76-2h2m-343 8h2m25 3h2m-1 0h2m5-3h2m1 1h2m-2 0h2m-1 1h2m-1 0h2m4-3h2m-1 4h2m-1 0h2m-1-4h2m-1-1h2m1 2h2m6 0h2m0 0h2m2-1h2m4 4h2m5 0h2m12-1h2m58 1h2m8 0h2m0-1h2m3 0h2m22 1h2m0 0h2m0-1h2m5-4h2m-1 1h2m4 3h2m-2-2h2m7 0h2m36-1h2m-240 7h2m0 0h2m-2-1h2m9-1h2m-2 0h2m13 1h2m0-1h2m-1 0h2m17 2h2m4-2h2m6 1h2m-2 0h2m-1 1h2m3-1h2m56 0h2m18 0h2m-1 0h2m-2 1h2m-2-1h2m0-1h2m-2 0h2m4 2h2m21-1h2m2 0h2" stroke="#3434f4" stroke-width="3.5" fill="none"/>
<path transform="translate(306.1 286.2) scale(0.2)" d="M204 257h2m0 0h2m4 0h2m-1 0h2m-45 6h2m-2 0h2m-1-3h2m-1 3h2m-1-1h2m-1 0h2m-1 1h2m0-5h2m0 0h2m-1 2h2m3 1h2m-1 1h2m0 0h2m0 1h2m0-1h2m-2 1h2m-1 0h2m-2 0h2m-2-1h2m1 1h2m1 0h2m4-2h2m-1 0h2m-1-3h2m-2 3h2m-1 1h2m-1-1h2m-1-3h2m-1 1h2m2 4h2m-1-3h2m-2-2h2m-52 11h2m0 0h2m-2-1h2m-2-2h2m0 0h2m-2 0h2m1 2h2m0-3h2m-1 2h2m9-3h2m4 2h2m-1 3h2m1 0h2m-1-5h2m3 0h2m-1 2h2m0 1h2m-1 1h2m-2-3h2m-1 4h2m0-5h2m-1 2h2m-69 9h2m5-1h2m5 0h2m3-4h2m7 1h2m0 0h2m18-1h2m-2 2h2m-2 3h2m-2-4h2m-1 2h2m-1-3h2m1 1h2m1 0h2m-1 4h2m0-3h2m-54 7h2m0-2h2m2 0h2m-1-1h2m32 3h2m2 0h2m-2 0h2m-1 0h2m-1 2h2m1-1h2m-1 0h2m-67 6h2m1 1h2m-1-5h2m-2 0h2m-1 3h2m-1-1h2m-1-2h2m-2 2h2m-1 1h2m-1 1h2m2-2h2m46-1h2m-1 3h2m-2-3h2m-1 1h2m0 3h2m-1-1h2m0 0h2m-1-1h2m-1-2h2m5-1h2m-94 8h2m0 2h2m1-1h2m3-2h2m2-1h2m63 2h2m-2 0h2m4 3h2m3-1h2m-107 7h2m5 0h2m-1-1h2m0 1h2m-2-2h2m80-3h2m3 0h2m2 5h2m-1 0h2m0-4h2m-1-1h2m-1 1h2m-2-1h2m-1 4h2m-1 1h2m2-1h2m-110 3h2m-2-1h2m0 1h2m0 1h2m-2-1h2m0 2h2m-1-3h2m85 5h2m-1-1h2m0 0h2m-1-3h2m1 1h2m-1 1h2m-1 0h2m1 1h2m0-4h2m-1 1h2m2 4h2m-128 2h2m-1-1h2m0 0h2m96 2h2m1 2h2m2-2h2m0-2h2m0 5h2m0-4h2m-2-1h2m-1 2h2m0-1h2m-1 0h2m-1 1h2m-1 1h2m2 2h2m-2 0h2m-1-5h2m0 3h2m-1 0h2m1 0h2m-1-1h2m-144 9h2m-2-1h2m0-1h2m0-1h2m0-2h2m4 0h2m99 1h2m-1 0h2m-2 3h2m2-4h2m1 3h2m0 2h2m1-3h2m-1-1h2m5 4h2m-2-1h2m-1-3h2m0 1h2m-146 9h2m2-3h2m0-1h2m109 0h2m5 0h2m-1-1h2m0 2h2m1 3h2m0 0h2m0-5h2m-2 5h2m-1-3h2m10 0h2m-157 9h2m-1 0h2m4-2h2m-2 0h2m-1-1h2m-1 1h2m-2-3h2m0 1h2m0 2h2m120 1h2m2-2h2m1 0h2m-1 0h2m-143 5h2m-1 2h2m1 2h2m0 0h2m-2-3h2m1 3h2m0-4h2m119 4h2m-1-4h2m-2 4h2m4 0h2m1 0h2m1-1h2m-151 5h2m-2-1h2m-1-1h2m-1 1h2m-2 3h2m8-1h2m0-3h2m103 1h2m-1 2h2m1-1h2m0 0h2m-1 0h2m0 2h2m-2-3h2m2-2h2m0 5h2m0-4h2m-2 3h2m-1-1h2m-2 2h2m2-2h2m-2-2h2m-2 0h2m-2 0h2m-1 1h2m-2 0h2m-1 2h2m-1-1h2m-1 1h2m-1-2h2m2-1h2m-144 6h2m-2 2h2m-2 2h2m0-2h2m0 0h2m-1-2h2m-1 4h2m-2-1h2m-1 0h2m2-1h2m0-1h2m81 1h2m-1 2h2m8-3h2m2-1h2m-1 3h2m2-3h2m-1 4h2m-1-3h2m-1 1h2m-1 2h2m-1-2h2m6-1h2m-2-2h2m7 1h2m-141 8h2m3 1h2m1-1h2m-2-1h2m-2-2h2m1 3h2m-2-3h2m-1 1h2m-1 2h2m-1-1h2m10 2h2m1 1h2m3 0h2m9 0h2m-2-1h2m-1 1h2m-1 0h2m1 0h2m2 0h2m-1-1h2m-1 0h2m-2 1h2m2-1h2m7 1h2m0 0h2m3-1h2m2 1h2m14-5h2m0 2h2m-1-1h2m-1 2h2m-2-2h2m3 0h2m5 3h2m0-1h2m2-2h2m3-1h2m0 4h2m-1-2h2m3 1h2m0-3h2m-1 4h2m-1-4h2m-2 2h2m-2-1h2m-103 6h2m-1 2h2m0-3h2m-1 1h2m1 0h2m0 1h2m-1-1h2m4 0h2m4-1h2m0 0h2m-1 0h2m2 0h2m-2 2h2m4-2h2m1 2h2m3 0h2m1-2h2" stroke="#0c0cf0" stroke-width="3.5" fill="none"/>
<path transform="translate(306.1 286.2) scale(0.2)" d="M177 264h2m-2 3h2m-1-1h2m0-2h2m-1 3h2m2 0h2m-1-3h2m-2 4h2m-2 1h2m2 0h2m-1-3h2m-32 8h2m3-2h2m-1 0h2m-2 2h2m-1 1h2m1-1h2m-2-2h2m0 1h2m-2 2h2m-2-1h2m-1 1h2m0-1h2m0-2h2m1 3h2m2-1h2m0-1h2m-2-2h2m0 4h2m-2-5h2m-1 5h2m-29 4h2m-1 0h2m-1 1h2m-1-3h2m-2 1h2m-2 2h2m-1-3h2m-1 2h2m0-1h2m2 1h2m-1-2h2m2 2h2m-1 0h2m0 0h2m0 1h2m-1-4h2m-1 3h2m-2 0h2m-1 0h2m1-2h2m-2 2h2m-1 0h2m4 2h2m-46 2h2m-2 1h2m-1 1h2m-1-1h2m0-2h2m-1 3h2m-2-2h2m-1 2h2m-2-1h2m-2 0h2m24-1h2m-2 2h2m0 0h2m0-1h2m0 2h2m-1-4h2m0 2h2m0-1h2m0 4h2m-63 2h2m2-1h2m-2 1h2m-1 3h2m1-1h2m-1-2h2m-2 0h2m0 4h2m-1-3h2m-1 3h2m-2 0h2m-1-4h2m-2 4h2m7-5h2m23 0h2m-1 4h2m-2 0h2m-1-3h2m-1 4h2m-2-4h2m-1-1h2m-1 4h2m0 1h2m0-5h2m-2 2h2m-1 2h2m-2-2h2m-2 2h2m-1-2h2m0 3h2m-76 5h2m1 0h2m-1 1h2m-1-2h2m0-1h2m2 1h2m10-2h2m3 0h2m30 1h2m-1 1h2m-2-3h2m0 5h2m-1-1h2m2-3h2m-2 4h2m-1-5h2m0 4h2m-1-2h2m-2 0h2m4 1h2m-2 2h2m0-2h2m0 1h2m0 0h2m-2-2h2m-105 8h2m4 0h2m8-1h2m-2 1h2m1-1h2m-1 0h2m-1 0h2m-2-2h2m0-1h2m-1 3h2m0 0h2m-1 0h2m-2-2h2m-1 2h2m-2-3h2m-1 3h2m48-1h2m-1-1h2m-1 0h2m0 1h2m-1 1h2m0 0h2m0-2h2m2-1h2m-1 0h2m-2 3h2m0-2h2m-2 3h2m4-2h2m-2-2h2m-2 0h2m-1 3h2m-2-3h2m-105 9h2m1-2h2m-2-1h2m-2 1h2m-1 2h2m-2-1h2m0 0h2m-1-1h2m-2 3h2m80-1h2m-2-1h2m-1 0h2m-2 1h2m0 1h2m-1 0h2m-103 2h2m0 0h2m-1 4h2m3-3h2m-2 0h2m86 4h2m0 0h2m0-4h2m0 4h2m-1-4h2m-2 3h2m-113 7h2m2-2h2m-1 2h2m0-2h2m0-1h2m2 0h2m-1-1h2m88 3h2m-1 1h2m0-3h2m-1 3h2m-2-1h2m1-4h2m-1 4h2m0-2h2m-2 2h2m-1-2h2m-1 1h2m-1 0h2m-2 0h2m-1 0h2m-2 2h2m-1 0h2m-120 5h2m-2-1h2m-2 2h2m-1-3h2m-1-2h2m0 0h2m97 0h2m3 0h2m0 1h2m-2 1h2m1 3h2m-1-1h2m-2-3h2m-1 3h2m0-2h2m-120 6h2m-1 0h2m-2 1h2m-1 0h2m-1 0h2m-1 2h2m0-1h2m0-1h2m-2 2h2m95-5h2m0 0h2m-2 2h2m-1 3h2m-2-5h2m0 4h2m-1-3h2m-2 0h2m-1-1h2m-1 4h2m-1 0h2m0 1h2m1-1h2m-118 4h2m-1 0h2m-1-1h2m1 4h2m-2-2h2m1-2h2m0 3h2m-2 0h2m0-2h2m-2-1h2m-2-1h2m-1 4h2m-2-3h2m79 3h2m-2-4h2m2 4h2m-2-3h2m8-1h2m6 0h2m-116 7h2m0 1h2m-2-2h2m1 3h2m-1-3h2m-1 4h2m-1-2h2m0 3h2m-2-2h2m2 1h2m0 0h2m-1 1h2m0-1h2m2-1h2m-1 2h2m-1-1h2m1-2h2m1 1h2m-2 0h2m-2 2h2m0-2h2m24 1h2m0 1h2m0 0h2m-2 0h2m1-1h2m-1-1h2m-1 2h2m-1-1h2m-2 1h2m1-1h2m-2 0h2m-1-1h2m3 0h2m-2-1h2m12-2h2m-91 9h2m2-3h2m3 3h2m1 0h2m-1 0h2m-1-1h2m-2-2h2m-2 2h2m0 0h2m-2-2h2m0 3h2m0 0h2m1-3h2m-2 1h2m-2-1h2m0 4h2m1-3h2m0 2h2m-1-2h2m26-1h2m1 3h2m-2-3h2m-1 3h2m0 0h2m3-1h2m0-2h2m-1 3h2m0 0h2m-1 0h2m0-1h2m-1 1h2m-1-1h2" stroke="#0040ff" stroke-width="3.5" fill="none"/>
<path transform="translate(306.1 286.2) scale(0.2)" d="M164 281h2m-2 0h2m4-1h2m-1 1h2m-1 0h2m-1 0h2m3 0h2m-20 6h2m0-5h2m-1 0h2m-2 4h2m-2 0h2m-1-1h2m-1 1h2m0-4h2m0 3h2m-1-1h2m0 1h2m-1 1h2m-2 0h2m-2-1h2m-1-1h2m1 0h2m1-2h2m-2 2h2m-2 2h2m-2-3h2m-1 1h2m0-1h2m-29 8h2m2-1h2m-2 3h2m0-5h2m6 0h2m2 0h2m0 2h2m0 0h2m-1 3h2m-2-5h2m1 5h2m-1-4h2m-1 2h2m-50 8h2m3-1h2m-2-1h2m4-1h2m-2 1h2m-1 2h2m0 0h2m0-4h2m3-1h2m-2 1h2m-2 0h2m17-1h2m0 2h2m-2 0h2m-1-2h2m0 3h2m-2 2h2m-1-5h2m-68 11h2m-2 0h2m10-1h2m-2 1h2m6-2h2m-1-1h2m-2 2h2m-1 1h2m-1-1h2m-2-2h2m-1 1h2m-1-3h2m-2 3h2m-1-3h2m-2 2h2m-1-1h2m0-1h2m0 3h2m1-2h2m-1-1h2m25 4h2m1-4h2m-2 3h2m0-3h2m0 5h2m-1 0h2m-75 1h2m0 3h2m-1-1h2m-1 2h2m-1-1h2m-2-3h2m-2 4h2m-2 0h2m-1-1h2m-2 0h2m-2-3h2m8 5h2m-2 0h2m-2-5h2m-2 3h2m-1 0h2m-2-3h2m-2 3h2m-1-1h2m3 3h2m1-2h2m-1 2h2m-1-3h2m34-1h2m-2 3h2m-2 1h2m-1 0h2m-2-5h2m-1 1h2m-2 1h2m0 1h2m-1-2h2m-2 4h2m-1-1h2m-1 0h2m-1-1h2m-1-2h2m-2 2h2m-1-1h2m-2 3h2m3-1h2m-90 4h2m-2 3h2m-1-3h2m-1 3h2m-1 0h2m-1 0h2m2 0h2m16-5h2m0 0h2m2 0h2m38 0h2m5 0h2m0 2h2m-1-2h2m0 3h2m-1 1h2m0 0h2m-2-2h2m-95 7h2m-2 0h2m-2 2h2m2 0h2m-2 0h2m-1-1h2m-2 1h2m-1-2h2m-1-3h2m1 2h2m-1-2h2m-1 2h2m0-2h2m71 2h2m-1-2h2m-2 3h2m-1 1h2m-1-4h2m-2 5h2m-1-1h2m-1-4h2m-2 3h2m-1 1h2m-2-4h2m-2 4h2m-1 0h2m-97 4h2m-2-1h2m-1 3h2m-2 0h2m-1-1h2m-1-3h2m-1 2h2m0-1h2m-2 4h2m81-3h2m1 0h2m0-1h2m-97 6h2m0 0h2m-1 1h2m1-2h2m81 5h2m0 0h2m-1-1h2m-2 0h2m-1-1h2m-1 0h2m-88 3h2m0 1h2m-2 1h2m-2 1h2m-1 1h2m3-1h2m-2 2h2m-1-3h2m-1 0h2m-1 3h2m-2-1h2m-1 1h2m-1-3h2m-1 1h2m-1-2h2m1 1h2m-1-1h2m1 3h2m-1 1h2m-2-1h2m40 1h2m-1 0h2m0 0h2m0-3h2m-2 2h2m-1-2h2m-2-1h2m-1 3h2m-1-4h2m-1 0h2m-2 5h2m0-4h2m-1 2h2m-2-2h2m-1 3h2m-1-4h2m-2 1h2m-2 3h2m-78 2h2m2 2h2m-1-1h2m0 1h2m0-2h2m-2 2h2m0-2h2m0 1h2m-1-1h2m1 0h2m-2 2h2m4 1h2m-1 2h2m-2 0h2m-2-3h2m-2 1h2m-1 1h2m-2-1h2m0 0h2m1 0h2m-2 2h2m1-3h2m-1 3h2m0 0h2m5-1h2m18-4h2m0 1h2m-2-1h2m-1 2h2m3 0h2m0-2h2m-2 1h2m1-1h2m-2 2h2m-56 7h2m-1-1h2m0 2h2m-2-2h2m-2 1h2m-1-1h2m-2 0h2m2 1h2m-2-1h2m-2-2h2m-2 0h2m0 2h2m-1 1h2m-2-3h2m-1 0h2m-1 3h2m-2-3h2m-1 3h2m-2-3h2m3 3h2m-2 0h2m0-2h2m-2 3h2" stroke="#006dff" stroke-width="3.5" fill="none"/>
<path transform="translate(306.1 286.2) scale(0.2)" d="M161 291h2m-2 0h2m0-2h2m3 3h2m-1-3h2m0 0h2m-2 1h2m-2-1h2m-2 1h2m0 3h2m-1 0h2m-2 0h2m-1-3h2m-25 8h2m2 0h2m-2-1h2m0 2h2m-2-1h2m0-4h2m-1 3h2m-2 2h2m-2-1h2m-1-3h2m-2 1h2m-1 3h2m-2-3h2m0 3h2m-2-3h2m-1 3h2m-2-3h2m-1 1h2m-2-2h2m-2 1h2m-2-2h2m0 3h2m-1-3h2m-2 0h2m-1 3h2m-2-3h2m0 1h2m-2 3h2m0-4h2m-56 11h2m-2 0h2m-1 0h2m-2 0h2m22 0h2m-1 0h2m0-1h2m1-1h2m-1-1h2m-1-2h2m-1 1h2m-1 0h2m-2 1h2m-1-1h2m-1 0h2m2 1h2m0 1h2m-2 0h2m-2-2h2m0 2h2m-2 0h2m-2-1h2m-1 0h2m-2 0h2m-2 2h2m-2-3h2m-1 2h2m1-2h2m-1 2h2m1-3h2m-2 1h2m-2 1h2m-57 9h2m0-3h2m0-1h2m-1 4h2m-1-2h2m0-2h2m14-1h2m-2 2h2m-2 0h2m0 1h2m-2-3h2m0 5h2m-2-1h2m-1-4h2m0 0h2m-2 5h2m15-5h2m-1 4h2m-2-3h2m0 0h2m1 4h2m-2-1h2m-1-4h2m-65 11h2m1-3h2m-2-1h2m-1 3h2m-1 1h2m-1-5h2m-2 3h2m-1 2h2m-1-5h2m-1 0h2m7 0h2m-2 4h2m0 0h2m-1-4h2m-1 3h2m0 1h2m-2-3h2m0 0h2m0 1h2m-1 3h2m-2-1h2m-2 1h2m-1-4h2m-2 1h2m-1 0h2m-1 2h2m28-4h2m0 4h2m-1-3h2m-1 2h2m-1-2h2m-2 0h2m-2 2h2m-2-1h2m-1 0h2m-2 2h2m-2-3h2m-1-1h2m-1 2h2m-1 3h2m-1 0h2m-81 5h2m0 0h2m-1-1h2m0 0h2m-2 1h2m-2 0h2m0-3h2m1-1h2m-2 2h2m0-1h2m-2-1h2m9 0h2m-1 2h2m5-1h2m1-1h2m0 2h2m-1-2h2m0 1h2m30 2h2m-1-3h2m-2 0h2m0 3h2m-2-1h2m-1 2h2m0-1h2m-1 1h2m-81 2h2m-2 0h2m-1 3h2m-1-2h2m-1 4h2m-1-4h2m-1-1h2m-1 0h2m-2 3h2m-1-2h2m-2 2h2m-1-1h2m-2 2h2m5 1h2m-2-1h2m2 0h2m-1 0h2m5 1h2m-1 0h2m-1 0h2m35 0h2m4-3h2m-1 3h2m-2-2h2m-1-3h2m-1 1h2m-2 0h2m-1 4h2m0-5h2m-2 5h2m-1-3h2m-2 3h2m-2-1h2m-81 7h2m-2-3h2m-1 0h2m0 3h2m-2-1h2m-1 1h2m-2-4h2m-2 0h2m-1 4h2m-1-5h2m-2 5h2m-2-1h2m-1-1h2m-1-3h2m0 2h2m-2 2h2m-2-2h2m-1 2h2m0 1h2m-1-3h2m0 2h2m-2-1h2m-1 2h2m-2-1h2m-2-1h2m-1 1h2m0-4h2m-1 0h2m0 0h2m-2 1h2m-1 4h2m-1 0h2m-2-4h2m-1 0h2m-2 0h2m0 4h2m-2-1h2m-1-3h2m-2 3h2m-2 1h2m-1 0h2m-2-4h2m-2 3h2m35-4h2m-2 1h2m-1 2h2m-2 2h2m-1-3h2m-2 1h2m0 2h2m0 0h2m-1-4h2m-1 2h2m-1 1h2m-1-1h2m-2 1h2m-2 1h2m-2-5h2m0 4h2m-80 2h2m1 0h2m18 0h2m-1 1h2m-2 4h2m-1-4h2m-2-1h2m-2 1h2m-1 3h2m-2 0h2m0-4h2m0 5h2m-1-3h2m-2 2h2m-2-2h2m-1 1h2m0-2h2m0 4h2m0-5h2m-1 1h2m-1 0h2m-2 3h2m-1-2h2m-2 0h2m-1-2h2m-2 5h2m-2-2h2m-2-1h2m0 2h2m-2-1h2m-1 0h2m-2 2h2m-1-1h2m-1-4h2m-2 0h2m-2 3h2m-1-1h2m-1 2h2m-1-1h2m-2 1h2m2 0h2m-2-2h2m-1 0h2m0 1h2m-1 0h2m0-1h2m0-1h2m-2 1h2m0-2h2m1 0h2m-2 0h2m8 0h2m-50 8h2m2-2h2m-2 0h2m3 0h2m0 0h2m0 1h2m-1-1h2m1 0h2m-2 1h2m0-1h2m-2 0h2m0 0h2m0 0h2m0 1h2m2-1h2m0 0h2m-1 2h2" stroke="#009aff" stroke-width="3.5" fill="none"/>
<path transform="translate(306.1 286.2) scale(0.2)" d="M153 305h2m6-1h2m-1 0h2m-1 0h2m0 1h2m1 0h2m-18 1h2m-2 5h2m-1-3h2m-2 3h2m1-1h2m-2 1h2m0-2h2m-2-3h2m-2 1h2m-2 2h2m-1 1h2m-1 1h2m-2-3h2m-1-2h2m-2 3h2m-1-2h2m-2 3h2m-2-2h2m0 1h2m-2-3h2m-2 5h2m-2-1h2m-45 4h2m-1 3h2m-1 0h2m-1-5h2m-2 2h2m-2-2h2m0 1h2m-2 1h2m-2 2h2m-2-2h2m-1 2h2m-2-1h2m-2 1h2m-1 1h2m14-5h2m-2 2h2m-1 1h2m0-1h2m-1-1h2m-1-1h2m-2 3h2m1 2h2m-2-5h2m-2 5h2m-2-2h2m-2 2h2m-1 0h2m-1-2h2m-2 0h2m-1 2h2m-2-3h2m-1-1h2m-2 3h2m-1 1h2m-1-5h2m-2 5h2m-1-5h2m-2 2h2m-1 3h2m-2-3h2m1 0h2m-1-2h2m-2 4h2m-1 0h2m-1-2h2m-1-1h2m-1 3h2m1-1h2m-2 1h2m-2-3h2m-2 3h2m0-3h2m-2 3h2m-1-4h2m-1 0h2m-2 2h2m-2-1h2m-64 9h2m0 0h2m-1 0h2m1 1h2m-2 0h2m-1-5h2m-1 3h2m-1-1h2m-2-1h2m0 0h2m-2 0h2m-2 2h2m-1-3h2m-2 4h2m-2 0h2m-1 0h2m-2 1h2m0-2h2m-2-1h2m-1 2h2m-2 0h2m-1-2h2m-1 1h2m-1 0h2m0 0h2m2 0h2m-2 0h2m-2 2h2m-1-1h2m0 1h2m0 0h2m-2-1h2m-1-1h2m-2 1h2m-1 1h2m-2 0h2m-1-1h2m-1-1h2m-2-1h2m-1-1h2m0 3h2m-1 0h2m-1-1h2m-1-3h2m-2 0h2m-2 3h2m-1-1h2m-1 0h2m0 2h2m-2-2h2m-2 0h2m-1-2h2m-1 3h2m-1 2h2m-1-5h2m-2 0h2m-2 1h2m1 0h2m-2 4h2m-2-4h2m-2 4h2m1-2h2m-2 1h2m0 0h2m-1 0h2m-2-3h2m-1 2h2m-1 0h2m-1-2h2m-1 4h2m-1-1h2m-2-4h2m-2 2h2m-2-1h2m-1 3h2m-2 1h2m-65 4h2m0-1h2m-2 2h2m-1-1h2m2 1h2m-2-1h2m-1-3h2m-1 0h2m-2 0h2m-1 2h2m-2 2h2m-1 0h2m-1-1h2m-2-1h2m0 0h2m0-2h2m-2 2h2m-2 2h2m-1-2h2m2 1h2m1-1h2m-2-2h2m-2 0h2m-2 4h2m0 1h2m-1-3h2m-2 3h2m-2-1h2m-1 0h2m-2 0h2m-1-2h2m-1 2h2m-1-4h2m-1 1h2m-2 2h2m-1-1h2m-1-1h2m-2 3h2m1-4h2m-1 4h2m-2-1h2m-1 0h2m-2-3h2m-1 0h2m-2 4h2m-2-1h2m0 2h2m-1-1h2m-2 1h2m0-5h2m-2 1h2m-1 3h2m-1 0h2m-2-2h2m-1-1h2m-2-1h2m-1 3h2m-1-1h2m-2 0h2m-1 0h2m-2 2h2m-1-1h2m-1 1h2m-2-3h2m-2 2h2m-1 2h2m-1-1h2m-2 0h2m-2-1h2m-1-3h2m-1 3h2m0-1h2m-1-1h2m-39 6h2m0 3h2m-2-2h2m-2 0h2m0 2h2m0-4h2m-2 3h2m0 2h2m-2-4h2m-2-1h2m-1 2h2m-2 2h2m-1 0h2m-2 1h2m-2 0h2m1 0h2m2-5h2m-2 5h2m-2-2h2m0 0h2m-1-1h2m-2-2h2m-1 1h2m0 2h2m-2-2h2m-2-1h2m-2 1h2m-1 3h2m-2-1h2m-2-2h2m-2 3h2m-1-4h2m-2 4h2m-1 0h2m-1-4h2m-2 1h2m1 1h2m-2 1h2m-2 0h2m-1 1h2m-2-4h2m-2 5h2m-2 0h2m-2-5h2m-1 5h2m-29 1h2m2 0h2m-2 0h2m1 0h2m3 0h2m2 0h2m1 0h2" stroke="#00c6ff" stroke-width="3.5" fill="none"/>
<g filter="url(#fblur2)">
<ellipse cx="337.1" cy="348.5" rx="13" ry="4.3" fill="#00c0ff" transform="rotate(-31 337.1 348.5)"/>
<ellipse cx="337.1" cy="349.4" rx="7.5" ry="2.8" fill="#30f0b0" transform="rotate(-29 337.1 349.4)"/>
<ellipse cx="337.1" cy="349.4" rx="3.8" ry="1.6" fill="#b8ff40" transform="rotate(-26 337.1 349.4)"/>
</g>
<path d="M351.8 358.8 L361.6 313.6 L389.6 306.8 L389.6 357.8 L351.8 358.8" fill="none" stroke="#555" stroke-width="0.9"/>
<text x="362.1" y="304.2" font-size="4.6" text-anchor="middle" fill="#333" style="font-family:'Liberation Sans',Arial,sans-serif">P2(4.17%)</text>
<path d="M306.1 286.2V359.9H394.8" fill="none" stroke="#444" stroke-width="0.9"/>
<line x1="304.5" y1="359.9" x2="306.1" y2="359.9" stroke="#444" stroke-width="0.6"/>
<line x1="304.5" y1="352.5" x2="306.1" y2="352.5" stroke="#444" stroke-width="0.6"/>
<line x1="304.5" y1="345.2" x2="306.1" y2="345.2" stroke="#444" stroke-width="0.6"/>
<line x1="304.5" y1="337.8" x2="306.1" y2="337.8" stroke="#444" stroke-width="0.6"/>
<line x1="304.5" y1="330.4" x2="306.1" y2="330.4" stroke="#444" stroke-width="0.6"/>
<line x1="304.5" y1="323" x2="306.1" y2="323" stroke="#444" stroke-width="0.6"/>
<line x1="304.5" y1="315.7" x2="306.1" y2="315.7" stroke="#444" stroke-width="0.6"/>
<line x1="304.5" y1="308.3" x2="306.1" y2="308.3" stroke="#444" stroke-width="0.6"/>
<line x1="304.5" y1="300.9" x2="306.1" y2="300.9" stroke="#444" stroke-width="0.6"/>
<line x1="304.5" y1="293.6" x2="306.1" y2="293.6" stroke="#444" stroke-width="0.6"/>
<line x1="304.5" y1="286.2" x2="306.1" y2="286.2" stroke="#444" stroke-width="0.6"/>
<line x1="307.7" y1="359.9" x2="307.7" y2="361.7" stroke="#444" stroke-width="0.6"/>
<line x1="314.1" y1="359.9" x2="314.1" y2="360.9" stroke="#666" stroke-width="0.4"/>
<line x1="317.9" y1="359.9" x2="317.9" y2="360.9" stroke="#666" stroke-width="0.4"/>
<line x1="320.6" y1="359.9" x2="320.6" y2="360.9" stroke="#666" stroke-width="0.4"/>
<line x1="322.6" y1="359.9" x2="322.6" y2="360.9" stroke="#666" stroke-width="0.4"/>
<line x1="324.3" y1="359.9" x2="324.3" y2="360.9" stroke="#666" stroke-width="0.4"/>
<line x1="325.8" y1="359.9" x2="325.8" y2="360.9" stroke="#666" stroke-width="0.4"/>
<line x1="327" y1="359.9" x2="327" y2="360.9" stroke="#666" stroke-width="0.4"/>
<line x1="328.1" y1="359.9" x2="328.1" y2="360.9" stroke="#666" stroke-width="0.4"/>
<text x="307.7" y="366.5" font-size="4.6" text-anchor="middle" fill="#3a3a3a" style="font-family:'Liberation Sans',Arial,sans-serif">10<tspan font-size="3" dy="-1.8">2</tspan></text>
<line x1="329.1" y1="359.9" x2="329.1" y2="361.7" stroke="#444" stroke-width="0.6"/>
<line x1="335.5" y1="359.9" x2="335.5" y2="360.9" stroke="#666" stroke-width="0.4"/>
<line x1="339.3" y1="359.9" x2="339.3" y2="360.9" stroke="#666" stroke-width="0.4"/>
<line x1="341.9" y1="359.9" x2="341.9" y2="360.9" stroke="#666" stroke-width="0.4"/>
<line x1="344" y1="359.9" x2="344" y2="360.9" stroke="#666" stroke-width="0.4"/>
<line x1="345.7" y1="359.9" x2="345.7" y2="360.9" stroke="#666" stroke-width="0.4"/>
<line x1="347.1" y1="359.9" x2="347.1" y2="360.9" stroke="#666" stroke-width="0.4"/>
<line x1="348.4" y1="359.9" x2="348.4" y2="360.9" stroke="#666" stroke-width="0.4"/>
<line x1="349.5" y1="359.9" x2="349.5" y2="360.9" stroke="#666" stroke-width="0.4"/>
<text x="329.1" y="366.5" font-size="4.6" text-anchor="middle" fill="#3a3a3a" style="font-family:'Liberation Sans',Arial,sans-serif">10<tspan font-size="3" dy="-1.8">3</tspan></text>
<line x1="350.5" y1="359.9" x2="350.5" y2="361.7" stroke="#444" stroke-width="0.6"/>
<line x1="356.9" y1="359.9" x2="356.9" y2="360.9" stroke="#666" stroke-width="0.4"/>
<line x1="360.6" y1="359.9" x2="360.6" y2="360.9" stroke="#666" stroke-width="0.4"/>
<line x1="363.3" y1="359.9" x2="363.3" y2="360.9" stroke="#666" stroke-width="0.4"/>
<line x1="365.4" y1="359.9" x2="365.4" y2="360.9" stroke="#666" stroke-width="0.4"/>
<line x1="367.1" y1="359.9" x2="367.1" y2="360.9" stroke="#666" stroke-width="0.4"/>
<line x1="368.5" y1="359.9" x2="368.5" y2="360.9" stroke="#666" stroke-width="0.4"/>
<line x1="369.8" y1="359.9" x2="369.8" y2="360.9" stroke="#666" stroke-width="0.4"/>
<line x1="370.8" y1="359.9" x2="370.8" y2="360.9" stroke="#666" stroke-width="0.4"/>
<text x="350.5" y="366.5" font-size="4.6" text-anchor="middle" fill="#3a3a3a" style="font-family:'Liberation Sans',Arial,sans-serif">10<tspan font-size="3" dy="-1.8">4</tspan></text>
<line x1="371.8" y1="359.9" x2="371.8" y2="361.7" stroke="#444" stroke-width="0.6"/>
<line x1="378.3" y1="359.9" x2="378.3" y2="360.9" stroke="#666" stroke-width="0.4"/>
<line x1="382" y1="359.9" x2="382" y2="360.9" stroke="#666" stroke-width="0.4"/>
<line x1="384.7" y1="359.9" x2="384.7" y2="360.9" stroke="#666" stroke-width="0.4"/>
<line x1="386.8" y1="359.9" x2="386.8" y2="360.9" stroke="#666" stroke-width="0.4"/>
<line x1="388.5" y1="359.9" x2="388.5" y2="360.9" stroke="#666" stroke-width="0.4"/>
<line x1="389.9" y1="359.9" x2="389.9" y2="360.9" stroke="#666" stroke-width="0.4"/>
<line x1="391.1" y1="359.9" x2="391.1" y2="360.9" stroke="#666" stroke-width="0.4"/>
<line x1="392.2" y1="359.9" x2="392.2" y2="360.9" stroke="#666" stroke-width="0.4"/>
<text x="371.8" y="366.5" font-size="4.6" text-anchor="middle" fill="#3a3a3a" style="font-family:'Liberation Sans',Arial,sans-serif">10<tspan font-size="3" dy="-1.8">5</tspan></text>
<line x1="393.2" y1="359.9" x2="393.2" y2="361.7" stroke="#444" stroke-width="0.6"/>
<text x="393.2" y="366.5" font-size="4.6" text-anchor="middle" fill="#3a3a3a" style="font-family:'Liberation Sans',Arial,sans-serif">10<tspan font-size="3" dy="-1.8">6</tspan></text>
<text x="349" y="371.9" font-size="5" fill="#3a3a3a" stroke="#3a3a3a" stroke-width="0.1" text-anchor="middle" textLength="24.4" lengthAdjust="spacingAndGlyphs" style="font-family:'Liberation Sans',Arial,sans-serif">Annexin V</text>
<text x="302.7" y="289.7" font-size="4.2" text-anchor="middle" fill="#3a3a3a" style="font-family:'Liberation Sans',Arial,sans-serif" transform="rotate(-90 302.7 289.7)">1000</text>
<text x="302.7" y="323.1" font-size="4.2" text-anchor="middle" fill="#3a3a3a" style="font-family:'Liberation Sans',Arial,sans-serif" transform="rotate(-90 302.7 323.1)">500</text>
<text x="302.7" y="359.9" font-size="4.2" text-anchor="middle" fill="#3a3a3a" style="font-family:'Liberation Sans',Arial,sans-serif" transform="rotate(-90 302.7 359.9)">0</text>
<text x="296.5" y="293.7" font-size="4.2" text-anchor="middle" fill="#3a3a3a" style="font-family:'Liberation Sans',Arial,sans-serif" transform="rotate(-90 296.5 293.7)">(x10<tspan font-size="2.8" dy="-1.5">3</tspan><tspan dy="1.5">)</tspan></text>
<text x="296.5" y="323.1" font-size="4.2" text-anchor="middle" fill="#3a3a3a" style="font-family:'Liberation Sans',Arial,sans-serif" transform="rotate(-90 296.5 323.1)">FITC</text>
<text x="113.7" y="284.3" font-size="12.6" fill="#111" stroke="#111" stroke-width="0.38" textLength="31.3" lengthAdjust="spacingAndGlyphs">shCtrl</text>
<text x="207.7" y="284.2" font-size="12.6" fill="#111" stroke="#111" stroke-width="0.38" textLength="65.2" lengthAdjust="spacingAndGlyphs">shLOXL1#2</text>
<text x="306.6" y="271" font-size="12.6" fill="#111" stroke="#111" stroke-width="0.38" textLength="65.7" lengthAdjust="spacingAndGlyphs">shLOXL1#2</text>
<text x="306.6" y="284.2" font-size="12.6" fill="#111" stroke="#111" stroke-width="0.38" textLength="81.5" lengthAdjust="spacingAndGlyphs">+BRIP1 cDNA</text>
<rect x="447.2" y="200.8" width="17.3" height="23" fill="#ff1010"/>
<line x1="455.9" y1="199.9" x2="455.9" y2="200.8" stroke="#222" stroke-width="0.8"/>
<line x1="452.9" y1="199.9" x2="458.9" y2="199.9" stroke="#222" stroke-width="0.8"/>
<circle cx="453.4" cy="200.5" r="0.7" fill="#222"/>
<circle cx="455.9" cy="200.5" r="0.7" fill="#222"/>
<circle cx="458.4" cy="200.5" r="0.7" fill="#222"/>
<rect x="489.8" y="163.3" width="16.8" height="60.5" fill="#1010ff"/>
<line x1="498.2" y1="161.9" x2="498.2" y2="163.3" stroke="#222" stroke-width="0.8"/>
<line x1="495.2" y1="161.9" x2="501.2" y2="161.9" stroke="#222" stroke-width="0.8"/>
<circle cx="495.7" cy="163" r="0.7" fill="#222"/>
<circle cx="498.2" cy="163" r="0.7" fill="#222"/>
<circle cx="500.7" cy="163" r="0.7" fill="#222"/>
<rect x="532.4" y="192.1" width="16.9" height="31.7" fill="#a808e6"/>
<line x1="540.8" y1="191.4" x2="540.8" y2="192.1" stroke="#222" stroke-width="0.8"/>
<line x1="537.8" y1="191.4" x2="543.8" y2="191.4" stroke="#222" stroke-width="0.8"/>
<circle cx="538.3" cy="191.8" r="0.7" fill="#222"/>
<circle cx="540.8" cy="191.8" r="0.7" fill="#222"/>
<circle cx="543.3" cy="191.8" r="0.7" fill="#222"/>
<line x1="438.2" y1="151.3" x2="438.2" y2="224.3" stroke="#222" stroke-width="1.1"/>
<line x1="437.7" y1="223.8" x2="558.5" y2="223.8" stroke="#222" stroke-width="1.1"/>
<line x1="435.7" y1="223.8" x2="438.2" y2="223.8" stroke="#222" stroke-width="1"/>
<text x="434.2" y="227" font-size="9" text-anchor="end" fill="#111" stroke="#111" stroke-width="0.22">0</text>
<line x1="435.7" y1="187.8" x2="438.2" y2="187.8" stroke="#222" stroke-width="1"/>
<text x="434.2" y="191" font-size="9" text-anchor="end" fill="#111" stroke="#111" stroke-width="0.22">5</text>
<line x1="435.7" y1="151.8" x2="438.2" y2="151.8" stroke="#222" stroke-width="1"/>
<text x="434.2" y="155" font-size="9" text-anchor="end" fill="#111" stroke="#111" stroke-width="0.22">10</text>
<line x1="455.9" y1="223.8" x2="455.9" y2="226.3" stroke="#222" stroke-width="1"/>
<line x1="498.2" y1="223.8" x2="498.2" y2="226.3" stroke="#222" stroke-width="1"/>
<line x1="540.8" y1="223.8" x2="540.8" y2="226.3" stroke="#222" stroke-width="1"/>
<text x="497.5" y="149.2" font-size="10" text-anchor="middle" fill="#111" stroke="#111" stroke-width="0.22">SKOV3</text>
<text x="498.5" y="164.6" font-size="15" text-anchor="middle" fill="#111" stroke="#111" stroke-width="0.22">*</text>
<text x="421.2" y="187.2" font-size="10.2" text-anchor="middle" fill="#111" stroke="#111" stroke-width="0.22" transform="rotate(-90 421.2 187.2)">Percentage（%）</text>
<text x="459.5" y="228.3" font-size="9.3" text-anchor="end" fill="#111" stroke="#111" stroke-width="0.22" transform="rotate(-28 459.5 228.3)">shCtrl</text>
<text x="501.5" y="228.3" font-size="9.3" text-anchor="end" fill="#111" stroke="#111" stroke-width="0.22" transform="rotate(-28 501.5 228.3)">shLOXL1#2</text>
<text x="538.5" y="234.8" font-size="9.3" text-anchor="middle" fill="#111" stroke="#111" stroke-width="0.22">shLOXL1#2</text>
<text x="539.5" y="244.2" font-size="9.3" text-anchor="middle" fill="#111" stroke="#111" stroke-width="0.22">+BRIP1 cDNA</text>
<rect x="447.2" y="336.2" width="17.3" height="23.4" fill="#ff1010"/>
<line x1="455.9" y1="335.3" x2="455.9" y2="336.2" stroke="#222" stroke-width="0.8"/>
<line x1="452.9" y1="335.3" x2="458.9" y2="335.3" stroke="#222" stroke-width="0.8"/>
<circle cx="453.4" cy="335.9" r="0.7" fill="#222"/>
<circle cx="455.9" cy="335.9" r="0.7" fill="#222"/>
<circle cx="458.4" cy="335.9" r="0.7" fill="#222"/>
<rect x="489.8" y="294.1" width="16.8" height="65.5" fill="#1010ff"/>
<line x1="498.2" y1="292.6" x2="498.2" y2="294.1" stroke="#222" stroke-width="0.8"/>
<line x1="495.2" y1="292.6" x2="501.2" y2="292.6" stroke="#222" stroke-width="0.8"/>
<circle cx="495.7" cy="293.8" r="0.7" fill="#222"/>
<circle cx="498.2" cy="293.8" r="0.7" fill="#222"/>
<circle cx="500.7" cy="293.8" r="0.7" fill="#222"/>
<rect x="532.4" y="329.4" width="16.9" height="30.2" fill="#a808e6"/>
<line x1="540.8" y1="328.3" x2="540.8" y2="329.4" stroke="#222" stroke-width="0.8"/>
<line x1="537.8" y1="328.3" x2="543.8" y2="328.3" stroke="#222" stroke-width="0.8"/>
<circle cx="538.3" cy="329.1" r="0.7" fill="#222"/>
<circle cx="540.8" cy="329.1" r="0.7" fill="#222"/>
<circle cx="543.3" cy="329.1" r="0.7" fill="#222"/>
<line x1="438.7" y1="287.1" x2="438.7" y2="360.1" stroke="#222" stroke-width="1.1"/>
<line x1="438.2" y1="359.6" x2="558.5" y2="359.6" stroke="#222" stroke-width="1.1"/>
<line x1="436.2" y1="359.6" x2="438.7" y2="359.6" stroke="#222" stroke-width="1"/>
<text x="434.7" y="362.8" font-size="9" text-anchor="end" fill="#111" stroke="#111" stroke-width="0.22">0</text>
<line x1="436.2" y1="323.6" x2="438.7" y2="323.6" stroke="#222" stroke-width="1"/>
<text x="434.7" y="326.8" font-size="9" text-anchor="end" fill="#111" stroke="#111" stroke-width="0.22">5</text>
<line x1="436.2" y1="287.6" x2="438.7" y2="287.6" stroke="#222" stroke-width="1"/>
<text x="434.7" y="290.8" font-size="9" text-anchor="end" fill="#111" stroke="#111" stroke-width="0.22">10</text>
<line x1="455.9" y1="359.6" x2="455.9" y2="362.1" stroke="#222" stroke-width="1"/>
<line x1="498.2" y1="359.6" x2="498.2" y2="362.1" stroke="#222" stroke-width="1"/>
<line x1="540.8" y1="359.6" x2="540.8" y2="362.1" stroke="#222" stroke-width="1"/>
<text x="497.5" y="284.2" font-size="10" text-anchor="middle" fill="#111" stroke="#111" stroke-width="0.22">A2780</text>
<text x="498.5" y="295.2" font-size="15" text-anchor="middle" fill="#111" stroke="#111" stroke-width="0.22">*</text>
<text x="421.7" y="323" font-size="10.2" text-anchor="middle" fill="#111" stroke="#111" stroke-width="0.22" transform="rotate(-90 421.7 323)">Percentage（%）</text>
<text x="459.5" y="364.1" font-size="9.3" text-anchor="end" fill="#111" stroke="#111" stroke-width="0.22" transform="rotate(-28 459.5 364.1)">shCtrl</text>
<text x="501.5" y="364.1" font-size="9.3" text-anchor="end" fill="#111" stroke="#111" stroke-width="0.22" transform="rotate(-28 501.5 364.1)">shLOXL1#2</text>
<text x="538.5" y="370.6" font-size="9.3" text-anchor="middle" fill="#111" stroke="#111" stroke-width="0.22">shLOXL1#2</text>
<text x="539.5" y="380" font-size="9.3" text-anchor="middle" fill="#111" stroke="#111" stroke-width="0.22">+BRIP1 cDNA</text>
<text x="4.4" y="405.2" font-size="13" font-weight="bold" fill="#111">E</text>
<text x="94.6" y="412.4" font-size="8.3" text-anchor="middle" fill="#111" stroke="#111" stroke-width="0.22">SKOV3</text>
<line x1="15.5" y1="414.2" x2="172.5" y2="414.2" stroke="#222" stroke-width="0.9"/>
<text x="40.9" y="431.8" font-size="8.3" text-anchor="middle" fill="#111" stroke="#111" stroke-width="0.22">shCtrl</text>
<text x="93.9" y="431.8" font-size="8.3" text-anchor="middle" fill="#111" stroke="#111" stroke-width="0.22">shLOXL1#2</text>
<text x="143.6" y="421.1" font-size="8.3" text-anchor="middle" fill="#111" stroke="#111" stroke-width="0.22">shLOXL1#2</text>
<text x="147.4" y="431.8" font-size="8.3" text-anchor="middle" fill="#111" stroke="#111" stroke-width="0.22">+BRIP1 cDNA</text>
<rect x="15.2" y="433.4" width="51.4" height="50.6" fill="#babfca"/>
<rect x="15.2" y="433.4" width="51.4" height="50.6" fill="#000" filter="url(#wnoise)"/>
<path d="M32.0 433.4 L32.8 437.0 L32.4 440.6 L32.7 444.2 L33.3 447.9 L33.3 451.5 L33.0 455.1 L32.2 458.7 L32.0 462.3 L31.9 465.9 L32.3 469.5 L32.5 473.2 L31.8 476.8 L31.7 480.4 L32.8 484.0 L49.7 484.0 L51.1 480.4 L51.5 476.8 L50.4 473.2 L50.3 469.5 L50.6 465.9 L51.7 462.3 L51.1 458.7 L49.7 455.1 L50.9 451.5 L52.0 447.9 L52.0 444.2 L51.7 440.6 L51.0 437.0 L49.7 433.4Z" fill="#c6cad4" fill-opacity="0.9" filter="url(#soft)"/>
<path transform="translate(15.2 433.4) scale(0.2)" d="M68 41h2m-32 23h2m21 124h2m145 2h2m-1 4h2m33 3h2m-175 14h2" stroke="#5d6373" stroke-width="4.5" fill="none"/>
<rect x="15.2" y="433.4" width="51.4" height="50.6" fill="none" stroke="#454545" stroke-width="0.9"/>
<rect x="68.3" y="433.4" width="51.2" height="50.6" fill="#babfca"/>
<rect x="68.3" y="433.4" width="51.2" height="50.6" fill="#000" filter="url(#wnoise)"/>
<path d="M84.9 433.4 L83.5 437.0 L83.7 440.6 L83.5 444.2 L84.4 447.9 L83.9 451.5 L84.5 455.1 L82.4 458.7 L85.2 462.3 L83.8 465.9 L84.5 469.5 L83.8 473.2 L83.6 476.8 L84.3 480.4 L84.6 484.0 L104.7 484.0 L104.8 480.4 L105.5 476.8 L104.2 473.2 L103.7 469.5 L105.2 465.9 L104.4 462.3 L103.4 458.7 L104.3 455.1 L104.5 451.5 L104.0 447.9 L103.7 444.2 L104.9 440.6 L105.6 437.0 L104.7 433.4Z" fill="#c6cad4" fill-opacity="0.9" filter="url(#soft)"/>
<path transform="translate(68.3 433.4) scale(0.2)" d="M18 13h2m7 33h2m-16 7h2m207 4h2m-15 88h2m12 26h2m-200 47h2m17 24h2" stroke="#5d6373" stroke-width="4.5" fill="none"/>
<rect x="68.3" y="433.4" width="51.2" height="50.6" fill="none" stroke="#454545" stroke-width="0.9"/>
<rect x="122.2" y="433.4" width="51.8" height="50.6" fill="#babfca"/>
<rect x="122.2" y="433.4" width="51.8" height="50.6" fill="#000" filter="url(#wnoise)"/>
<path d="M138.9 433.4 L138.8 437.0 L139.6 440.6 L137.3 444.2 L137.8 447.9 L137.2 451.5 L138.2 455.1 L139.1 458.7 L138.2 462.3 L138.7 465.9 L136.7 469.5 L138.4 473.2 L137.5 476.8 L139.7 480.4 L139.0 484.0 L161.2 484.0 L160.3 480.4 L160.9 476.8 L160.9 473.2 L160.1 469.5 L160.0 465.9 L160.3 462.3 L159.9 458.7 L159.9 455.1 L160.2 451.5 L159.8 447.9 L161.0 444.2 L159.1 440.6 L161.1 437.0 L159.9 433.4Z" fill="#c6cad4" fill-opacity="0.9" filter="url(#soft)"/>
<path transform="translate(122.2 433.4) scale(0.2)" d="M237 24h2m-44 29h2m29 19h2m7 46h2m-199 30h2m188 30h2m-30 4h2m-164 5h2m7 4h2m-39 39h2m47 0h2" stroke="#5d6373" stroke-width="4.5" fill="none"/>
<rect x="122.2" y="433.4" width="51.8" height="50.6" fill="none" stroke="#454545" stroke-width="0.9"/>
<rect x="15.2" y="486.6" width="51.4" height="51.2" fill="#babfca"/>
<rect x="15.2" y="486.6" width="51.4" height="51.2" fill="#000" filter="url(#wnoise)"/>
<path transform="translate(15.2 486.6) scale(0.2)" d="M154 6h2m-26 27h2m69 35h2m0 36h2m-180 7h2m175 14h2m38 10h2m-232 14h2m51 43h2m7 9h2m138 10h2m-192 22h2m157 11h2m40-2h2" stroke="#5d6373" stroke-width="4.5" fill="none"/>
<rect x="15.2" y="486.6" width="51.4" height="51.2" fill="none" stroke="#454545" stroke-width="0.9"/>
<rect x="68.3" y="486.6" width="51.2" height="51.2" fill="#babfca"/>
<rect x="68.3" y="486.6" width="51.2" height="51.2" fill="#000" filter="url(#wnoise)"/>
<rect x="86.2" y="486.6" width="15.4" height="51.2" fill="#c8ccd6" fill-opacity="0.45" filter="url(#soft)"/>
<path transform="translate(68.3 486.6) scale(0.2)" d="M166 12h2m17 8h2m52 57h2m-36 15h2m-69 15h2m-39 20h2m57 10h2m-44 6h2m-60 19h2m127 16h2m-30 4h2m-121 33h2m130-3h2m-59 8h2" stroke="#5d6373" stroke-width="4.5" fill="none"/>
<rect x="68.3" y="486.6" width="51.2" height="51.2" fill="none" stroke="#454545" stroke-width="0.9"/>
<rect x="122.2" y="486.6" width="51.8" height="51.2" fill="#babfca"/>
<rect x="122.2" y="486.6" width="51.8" height="51.2" fill="#000" filter="url(#wnoise)"/>
<path transform="translate(122.2 486.6) scale(0.2)" d="M89 16h2m53 24h2m-46 21h2m78 27h2m-89 59h2m96 47h2m-19 8h2m20 6h2m-189 11h2m75 5h2m47 9h2m3-1h2m-23 6h2m-4 2h2" stroke="#5d6373" stroke-width="4.5" fill="none"/>
<rect x="122.2" y="486.6" width="51.8" height="51.2" fill="none" stroke="#454545" stroke-width="0.9"/>
<text x="13.6" y="461.7" font-size="8.3" text-anchor="end" fill="#111" stroke="#111" stroke-width="0.22">0h</text>
<text x="13.8" y="515.2" font-size="8.3" text-anchor="end" fill="#111" stroke="#111" stroke-width="0.22">72h</text>
<text x="94.9" y="560.9" font-size="8.3" text-anchor="middle" fill="#111" stroke="#111" stroke-width="0.22">A2780</text>
<line x1="15.5" y1="562.9" x2="172.5" y2="562.9" stroke="#222" stroke-width="0.9"/>
<text x="41.6" y="580.8" font-size="8.3" text-anchor="middle" fill="#111" stroke="#111" stroke-width="0.22">shCtrl</text>
<text x="95" y="580.8" font-size="8.3" text-anchor="middle" fill="#111" stroke="#111" stroke-width="0.22">shLOXL1#2</text>
<text x="143.6" y="570.1" font-size="8.3" text-anchor="middle" fill="#111" stroke="#111" stroke-width="0.22">shLOXL1#2</text>
<text x="147.4" y="580.8" font-size="8.3" text-anchor="middle" fill="#111" stroke="#111" stroke-width="0.22">+BRIP1 cDNA</text>
<rect x="15.8" y="581.8" width="51.7" height="50.8" fill="#babfca"/>
<rect x="15.8" y="581.8" width="51.7" height="50.8" fill="#000" filter="url(#wnoise)"/>
<path d="M31.0 581.8 L31.6 585.4 L31.6 589.1 L33.7 592.7 L31.0 596.3 L32.9 599.9 L31.9 603.6 L32.6 607.2 L31.8 610.8 L32.1 614.5 L32.2 618.1 L31.9 621.7 L32.3 625.3 L32.1 629.0 L32.8 632.6 L54.0 632.6 L52.5 629.0 L52.4 625.3 L52.9 621.7 L51.3 618.1 L52.8 614.5 L52.2 610.8 L51.9 607.2 L51.3 603.6 L52.4 599.9 L53.0 596.3 L52.2 592.7 L51.9 589.1 L52.1 585.4 L52.5 581.8Z" fill="#c6cad4" fill-opacity="0.9" filter="url(#soft)"/>
<path transform="translate(15.8 581.8) scale(0.2)" d="M33 41h2m43 3h2m164 3h2m-9 20h2m-16 31h2m-178 11h2m14 5h2m-31 44h2m198 38h2m-30 25h2" stroke="#5d6373" stroke-width="4.5" fill="none"/>
<rect x="15.8" y="581.8" width="51.7" height="50.8" fill="none" stroke="#454545" stroke-width="0.9"/>
<rect x="69.1" y="581.8" width="51.8" height="50.8" fill="#babfca"/>
<rect x="69.1" y="581.8" width="51.8" height="50.8" fill="#000" filter="url(#wnoise)"/>
<path d="M87.0 581.8 L85.7 585.4 L87.1 589.1 L86.7 592.7 L87.1 596.3 L86.7 599.9 L87.4 603.6 L85.8 607.2 L87.9 610.8 L87.5 614.5 L86.0 618.1 L87.0 621.7 L86.9 625.3 L85.1 629.0 L87.0 632.6 L104.5 632.6 L104.8 629.0 L104.5 625.3 L104.7 621.7 L105.1 618.1 L105.1 614.5 L103.8 610.8 L104.8 607.2 L103.9 603.6 L104.0 599.9 L104.7 596.3 L105.7 592.7 L105.5 589.1 L104.5 585.4 L104.4 581.8Z" fill="#c6cad4" fill-opacity="0.9" filter="url(#soft)"/>
<path transform="translate(69.1 581.8) scale(0.2)" d="M84 15h2m151 10h2m-180 67h2m1 7h2m-51 8h2m174 7h2m-126 39h2m117 12h2m56 29h2" stroke="#5d6373" stroke-width="4.5" fill="none"/>
<rect x="69.1" y="581.8" width="51.8" height="50.8" fill="none" stroke="#454545" stroke-width="0.9"/>
<rect x="122.2" y="581.8" width="51.8" height="50.8" fill="#babfca"/>
<rect x="122.2" y="581.8" width="51.8" height="50.8" fill="#000" filter="url(#wnoise)"/>
<path d="M138.1 581.8 L138.6 585.4 L137.6 589.1 L136.6 592.7 L139.4 596.3 L138.5 599.9 L136.4 603.6 L137.2 607.2 L137.6 610.8 L138.3 614.5 L139.1 618.1 L138.3 621.7 L137.7 625.3 L138.4 629.0 L137.9 632.6 L159.6 632.6 L158.9 629.0 L158.5 625.3 L160.5 621.7 L159.2 618.1 L159.5 614.5 L158.9 610.8 L159.0 607.2 L159.1 603.6 L160.0 599.9 L160.4 596.3 L159.9 592.7 L159.0 589.1 L161.7 585.4 L160.1 581.8Z" fill="#c6cad4" fill-opacity="0.9" filter="url(#soft)"/>
<path transform="translate(122.2 581.8) scale(0.2)" d="M216 33h2m14 37h2m-31 3h2m-1 0h2m40 35h2m-46 68h2m-126 8h2m-64 42h2" stroke="#5d6373" stroke-width="4.5" fill="none"/>
<rect x="122.2" y="581.8" width="51.8" height="50.8" fill="none" stroke="#454545" stroke-width="0.9"/>
<rect x="15.8" y="635" width="51.7" height="51.5" fill="#babfca"/>
<rect x="15.8" y="635" width="51.7" height="51.5" fill="#000" filter="url(#wnoise)"/>
<path transform="translate(15.8 635) scale(0.2)" d="M201 10h2m-139 7h2m37 5h2m-49 44h2m168 1h2m6 10h2m-204 11h2m114 4h2m82 11h2m-101 7h2m-81 20h2m133 7h2m-78 6h2m-106 49h2" stroke="#5d6373" stroke-width="4.5" fill="none"/>
<rect x="15.8" y="635" width="51.7" height="51.5" fill="none" stroke="#454545" stroke-width="0.9"/>
<rect x="69.1" y="635" width="51.8" height="51.5" fill="#babfca"/>
<rect x="69.1" y="635" width="51.8" height="51.5" fill="#000" filter="url(#wnoise)"/>
<rect x="87.2" y="635" width="15.5" height="51.5" fill="#c8ccd6" fill-opacity="0.45" filter="url(#soft)"/>
<path transform="translate(69.1 635) scale(0.2)" d="M227 33h2m-38 15h2m-166 33h2m140 76h2m-107 6h2m161 6h2m-154 11h2m46 16h2m-118 16h2m-3 5h2m212 6h2m-122 6h2m30 10h2m83 8h2" stroke="#5d6373" stroke-width="4.5" fill="none"/>
<rect x="69.1" y="635" width="51.8" height="51.5" fill="none" stroke="#454545" stroke-width="0.9"/>
<rect x="122.2" y="635" width="51.8" height="51.5" fill="#babfca"/>
<rect x="122.2" y="635" width="51.8" height="51.5" fill="#000" filter="url(#wnoise)"/>
<path transform="translate(122.2 635) scale(0.2)" d="M29 5h2m-26 11h2m138 14h2m24 14h2m30 0h2m9 24h2m-111 18h2m137 6h2m-159 24h2m-77 30h2m102 79h2m85-1h2m28 11h2m6 3h2" stroke="#5d6373" stroke-width="4.5" fill="none"/>
<rect x="122.2" y="635" width="51.8" height="51.5" fill="none" stroke="#454545" stroke-width="0.9"/>
<text x="13.6" y="610.2" font-size="8.3" text-anchor="end" fill="#111" stroke="#111" stroke-width="0.22">0h</text>
<text x="13.8" y="663.8" font-size="8.3" text-anchor="end" fill="#111" stroke="#111" stroke-width="0.22">72h</text>
<rect x="203.6" y="457.4" width="8.5" height="48.4" fill="#ff0000"/>
<rect x="215.9" y="457.4" width="9.1" height="48.4" fill="#0000ff"/>
<rect x="228.3" y="457.4" width="9.1" height="48.4" fill="#c000c0"/>
<rect x="249.1" y="501.9" width="8.6" height="3.9" fill="#ff0000"/>
<line x1="253.4" y1="501.2" x2="253.4" y2="501.9" stroke="#222" stroke-width="0.8"/>
<line x1="250.9" y1="501.2" x2="255.9" y2="501.2" stroke="#222" stroke-width="0.9"/>
<rect x="261.5" y="484.5" width="8.7" height="21.3" fill="#0000ff"/>
<line x1="265.9" y1="483.5" x2="265.9" y2="484.5" stroke="#222" stroke-width="0.8"/>
<line x1="263.4" y1="483.5" x2="268.4" y2="483.5" stroke="#222" stroke-width="0.9"/>
<rect x="273.8" y="500" width="9.1" height="5.8" fill="#c000c0"/>
<line x1="278.4" y1="499.3" x2="278.4" y2="500" stroke="#222" stroke-width="0.8"/>
<line x1="275.9" y1="499.3" x2="280.9" y2="499.3" stroke="#222" stroke-width="0.9"/>
<line x1="197.1" y1="432.7" x2="197.1" y2="506.3" stroke="#222" stroke-width="1.1"/>
<line x1="196.6" y1="505.8" x2="288.6" y2="505.8" stroke="#222" stroke-width="1.1"/>
<line x1="194.7" y1="505.8" x2="197.1" y2="505.8" stroke="#222" stroke-width="1"/>
<text x="194.5" y="508.8" font-size="8.5" text-anchor="end" fill="#111" stroke="#111" stroke-width="0.22">0</text>
<line x1="194.7" y1="481.6" x2="197.1" y2="481.6" stroke="#222" stroke-width="1"/>
<text x="194.5" y="484.6" font-size="8.5" text-anchor="end" fill="#111" stroke="#111" stroke-width="0.22">50</text>
<line x1="194.7" y1="457.4" x2="197.1" y2="457.4" stroke="#222" stroke-width="1"/>
<text x="194.5" y="460.4" font-size="8.5" text-anchor="end" fill="#111" stroke="#111" stroke-width="0.22">100</text>
<line x1="194.7" y1="433.2" x2="197.1" y2="433.2" stroke="#222" stroke-width="1"/>
<text x="194.5" y="436.2" font-size="8.5" text-anchor="end" fill="#111" stroke="#111" stroke-width="0.22">150</text>
<text x="238.3" y="429.3" font-size="8.6" text-anchor="middle" fill="#111" stroke="#111" stroke-width="0.22">SKOV3</text>
<rect x="198.8" y="432.1" width="6.9" height="5.2" fill="#ff0000"/>
<text x="207.4" y="437.3" font-size="7.4" fill="#111" stroke="#111" stroke-width="0.22">shCtrl</text>
<rect x="198.8" y="440.6" width="6.9" height="5.2" fill="#0000ff"/>
<text x="207.4" y="445.8" font-size="7.4" fill="#111" stroke="#111" stroke-width="0.22">shLOXL1#2</text>
<rect x="198.8" y="448.9" width="6.9" height="5.2" fill="#c000c0"/>
<text x="207.4" y="454.1" font-size="7.4" fill="#111" stroke="#111" stroke-width="0.22">shLOXL1#2+BRIP1 cDNA</text>
<line x1="220.5" y1="505.8" x2="220.5" y2="507.8" stroke="#222" stroke-width="0.9"/>
<line x1="266" y1="505.8" x2="266" y2="507.8" stroke="#222" stroke-width="0.9"/>
<text x="220.5" y="515" font-size="8.5" text-anchor="middle" fill="#111" stroke="#111" stroke-width="0.22">0 h</text>
<text x="266" y="515" font-size="8.5" text-anchor="middle" fill="#111" stroke="#111" stroke-width="0.22">72 h</text>
<text x="181.2" y="470.3" font-size="8.3" text-anchor="middle" fill="#111" stroke="#111" stroke-width="0.22" transform="rotate(-90 181.2 470.3)">Relative Wound Width(%)</text>
<text x="253.4" y="502.7" font-size="10.5" text-anchor="middle" fill="#111" stroke="#111" stroke-width="0.22">*</text>
<rect x="205.1" y="605.3" width="8.6" height="49" fill="#ff0000"/>
<rect x="217.4" y="605.3" width="8.6" height="49" fill="#0000ff"/>
<rect x="229.8" y="605.3" width="8.9" height="49" fill="#c000c0"/>
<rect x="250.3" y="651.4" width="8.5" height="2.9" fill="#ff0000"/>
<line x1="254.6" y1="650.6" x2="254.6" y2="651.4" stroke="#222" stroke-width="0.8"/>
<line x1="252.1" y1="650.6" x2="257.1" y2="650.6" stroke="#222" stroke-width="0.9"/>
<rect x="263" y="636.2" width="8.5" height="18.1" fill="#0000ff"/>
<line x1="267.2" y1="635.2" x2="267.2" y2="636.2" stroke="#222" stroke-width="0.8"/>
<line x1="264.8" y1="635.2" x2="269.8" y2="635.2" stroke="#222" stroke-width="0.9"/>
<rect x="275.3" y="649.9" width="8.6" height="4.4" fill="#c000c0"/>
<line x1="279.6" y1="648.9" x2="279.6" y2="649.9" stroke="#222" stroke-width="0.8"/>
<line x1="277.1" y1="648.9" x2="282.1" y2="648.9" stroke="#222" stroke-width="0.9"/>
<line x1="198.5" y1="580.3" x2="198.5" y2="654.8" stroke="#222" stroke-width="1.1"/>
<line x1="198" y1="654.3" x2="289.6" y2="654.3" stroke="#222" stroke-width="1.1"/>
<line x1="196.1" y1="654.3" x2="198.5" y2="654.3" stroke="#222" stroke-width="1"/>
<text x="195.9" y="657.3" font-size="8.5" text-anchor="end" fill="#111" stroke="#111" stroke-width="0.22">0</text>
<line x1="196.1" y1="629.8" x2="198.5" y2="629.8" stroke="#222" stroke-width="1"/>
<text x="195.9" y="632.8" font-size="8.5" text-anchor="end" fill="#111" stroke="#111" stroke-width="0.22">50</text>
<line x1="196.1" y1="605.3" x2="198.5" y2="605.3" stroke="#222" stroke-width="1"/>
<text x="195.9" y="608.3" font-size="8.5" text-anchor="end" fill="#111" stroke="#111" stroke-width="0.22">100</text>
<line x1="196.1" y1="580.8" x2="198.5" y2="580.8" stroke="#222" stroke-width="1"/>
<text x="195.9" y="583.8" font-size="8.5" text-anchor="end" fill="#111" stroke="#111" stroke-width="0.22">150</text>
<text x="240.2" y="578" font-size="8.6" text-anchor="middle" fill="#111" stroke="#111" stroke-width="0.22">A2780</text>
<rect x="200.4" y="581.1" width="6.9" height="5.2" fill="#ff0000"/>
<text x="209" y="586.3" font-size="7.4" fill="#111" stroke="#111" stroke-width="0.22">shCtrl</text>
<rect x="200.4" y="589.6" width="6.9" height="5.2" fill="#0000ff"/>
<text x="209" y="594.8" font-size="7.4" fill="#111" stroke="#111" stroke-width="0.22">shLOXL1#2</text>
<rect x="200.4" y="597.9" width="6.9" height="5.2" fill="#c000c0"/>
<text x="209" y="603.1" font-size="7.4" fill="#111" stroke="#111" stroke-width="0.22">shLOXL1#2+BRIP1 cDNA</text>
<line x1="221.9" y1="654.3" x2="221.9" y2="656.3" stroke="#222" stroke-width="0.9"/>
<line x1="267.1" y1="654.3" x2="267.1" y2="656.3" stroke="#222" stroke-width="0.9"/>
<text x="221.9" y="662.8" font-size="8.5" text-anchor="middle" fill="#111" stroke="#111" stroke-width="0.22">0 h</text>
<text x="267.1" y="662.8" font-size="8.5" text-anchor="middle" fill="#111" stroke="#111" stroke-width="0.22">72 h</text>
<text x="182.6" y="618.8" font-size="8.3" text-anchor="middle" fill="#111" stroke="#111" stroke-width="0.22" transform="rotate(-90 182.6 618.8)">Relative Wound Width(%)</text>
<text x="254.6" y="652.1" font-size="10.5" text-anchor="middle" fill="#111" stroke="#111" stroke-width="0.22">*</text>
<text x="312.6" y="431.7" font-size="14.2" font-weight="bold" fill="#111">F</text>
<rect x="331.2" y="472.1" width="194.3" height="64.9" fill="#d3d5f3"/>
<rect x="331.2" y="472.1" width="65" height="64.9" fill="#eceefb"/>
<rect x="396.7" y="472.6" width="128.3" height="63.9" fill="none" stroke="#9a9ee8" stroke-width="1"/>
<circle cx="363" cy="504.6" r="31.3" fill="#dcdef7" stroke="#8e92e0" stroke-width="0.9"/>
<circle cx="363" cy="504.6" r="28.9" fill="#e6e7fa" stroke="#7074d8" stroke-width="0.9"/>
<path transform="scale(0.2)" d="M1807 2390h2m8-2h2m-56 6h2m35 1h2m32 1h2m5 2h2m13-3h2m-116 7h2m1 0h2m20 2h2m4-3h2m16 1h2m32 2h2m38-3h2m10 0h2m8 1h2m-149 6h2m57-2h2m99 4h2m-149 4h2m1 0h2m54-2h2m25 5h2m21-3h2m9 2h2m9-1h2m-99 7h2m20 1h2m34-3h2m5-2h2m-1 1h2m-27 5h2m-115 9h2m-1 0h2m195 1h2m7-2h2m-220 7h2m-1 2h2m52-2h2m7 0h2m33 1h2m27-3h2m11 4h2m-1-5h2m-142 10h2m14 1h2m105-3h2m4-2h2m2 5h2m24-4h2m12 3h2m-174 3h2m43 3h2m2-3h2m56 2h2m-108 7h2m57-3h2m104 2h2m37-2h2m24 1h2m-94 6h2m43-2h2m-179 11h2m92-5h2m25 4h2m93-4h2m-156 10h2m37-2h2m69-1h2m16 1h2m2 2h2m-188 5h2m37-1h2m34 1h2m20 0h2m21-3h2m37 4h2m25 0h2m-185 4h2m15 3h2m68-3h2m26-2h2m55 0h2m37 5h2m5-3h2m-268 9h2m28-4h2m24 1h2m0 3h2m79-1h2m11-4h2m31 2h2m18 0h2m5-2h2m4 4h2m34 1h2m-200 6h2m0-4h2m9 4h2m8-2h2m-60 5h2m143 3h2m-156 1h2m82 1h2m20 2h2m43-1h2m12 0h2m15 3h2m8-1h2m-200 2h2m44 5h2m28-3h2m161 2h2m1 0h2m-206 3h2m38 2h2m13 0h2m44 1h2m117-2h2m2-1h2m2-1h2m-236 11h2m30-5h2m32 2h2m8-1h2m53 4h2m98-5h2m-272 9h2m80 0h2m70 0h2m59 2h2m56-1h2m-256 5h2m0-1h2m11 2h2m107-3h2m17-1h2m18 2h2m23 2h2m-184 7h2m83-5h2m35 3h2m8-2h2m16 2h2m3 2h2m11-1h2m67 1h2m-260 6h2m15-3h2m34 0h2m0-2h2m1 3h2m15-2h2m28-1h2m48 3h2m63 0h2m40 0h2m2 2h2m-2 0h2m2 0h2m-254 3h2m96-1h2m135 4h2m11-2h2m-252 6h2m92 1h2m79-3h2m10 1h2m32 2h2m-2 1h2m19-1h2m-2 1h2m-1-5h2m0 3h2m-1-2h2m0 0h2m0 0h2m1 1h2m-185 9h2m23-4h2m38-1h2m30 3h2m80-2h2m-197 8h2m124 1h2m26-3h2m27 4h2m-97 4h2m0-2h2m2 3h2m75-3h2m-181 7h2m13 0h2m4-1h2m33 2h2m125 1h2m1-3h2m-224 9h2m95-3h2m39 3h2m55 1h2m28-5h2m1 4h2m-164 7h2m35-2h2m36 1h2m62-4h2m3 2h2m1 3h2m0-5h2m4 4h2m-138 2h2m11 4h2m49-2h2m-137 4h2m56 4h2m98-2h2m-56 5h2m17 3h2m8-2h2m-63 8h2m17-1h2m0-2h2m31 3h2m30-3h2m10 3h2m-154 7h2m0-1h2m31 1h2m13-5h2m58 5h2m3-1h2m3 1h2m40-4h2m-147 9h2m9 0h2m32-1h2m-56 4h2m11 0h2m49 3h2m6-2h2m41 1h2m-83 6h2m63-2h2m12 3h2m11-4h2m-112 7h2m14 1h2m54 0h2" stroke="#5c5cd4" stroke-width="4" fill="none"/>
<path transform="scale(0.2)" d="M1801 2387h2m17-5h2m6 5h2m-55 2h2m40 7h2m3 1h2m6-1h2m46 3h2m-77 3h2m37-2h2m17 0h2m0 3h2m10 2h2m-83 4h2m3 1h2m23-1h2m9 1h2m9-1h2m-2-2h2m11 2h2m27 2h2m-86 4h2m16 1h2m7-2h2m23-2h2m35 0h2m-121 7h2m51 2h2m30 0h2m-1 1h2m2-3h2m-124 10h2m2-1h2m7-2h2m106 3h2m29-4h2m-77 8h2m15-3h2m68 5h2m-118 5h2m3-4h2m16 2h2m7-2h2m13 4h2m19-3h2m2 0h2m22 0h2m39 2h2m1 2h2m-116 6h2m7-2h2m39 1h2m-61 6h2m51 0h2m-122 5h2m101-1h2m55 1h2m25 1h2m7-4h2m-185 14h2m46-1h2m37 1h2m56 3h2m30-5h2m11 1h2m-216 9h2m151-4h2m-192 6h2m8 0h2m-1 5h2m41-4h2m11 4h2m136-4h2m-108 8h2m38-2h2m19 3h2m22 0h2m0-3h2m6 4h2m25-5h2m-238 9h2m104 0h2m-1 2h2m5 0h2m55-1h2m24-3h2m71 4h2m-211 3h2m73-2h2m40 5h2m-81 6h2m44-1h2m16-3h2m1 3h2m30-4h2m33 0h2m7 5h2m4-2h2m-1-3h2m7 2h2m-190 7h2m25 1h2m4-2h2m40-2h2m1 3h2m24-3h2m56 1h2m0 0h2m18 1h2m-258 4h2m33 2h2m86 2h2m133 1h2m13-2h2m5-1h2m-211 9h2m142-5h2m50 1h2m-1 2h2m-253 6h2m8 2h2m49 0h2m27-4h2m56 2h2m9 0h2m12-1h2m75 1h2m-257 5h2m18 3h2m27-3h2m138 1h2m-200 4h2m14 1h2m53-2h2m4 0h2m30 0h2m4 1h2m5 2h2m59-1h2m12 2h2m24 0h2m-213 3h2m42 0h2m45 2h2m34 2h2m6-1h2m-1-2h2m17 2h2m0 0h2m4-1h2m27 0h2m4 2h2m-141 6h2m6 0h2m103-3h2m-122 4h2m41 3h2m2 1h2m71 1h2m24-5h2m1 2h2m37 2h2m21-4h2m-245 11h2m16-4h2m31 2h2m25 0h2m14 0h2m15-2h2m69 1h2m30 0h2m0 3h2m22-4h2m-222 6h2m24 1h2m68 2h2m50-4h2m20 3h2m21-2h2m21 2h2m-256 3h2m1 2h2m4 0h2m5-1h2m56 0h2m3 1h2m74-1h2m69 4h2m-229 1h2m10 3h2m22 4h2m130-1h2m22 1h2m14 0h2m32 3h2m-1-3h2m-225 6h2m74-1h2m77 2h2m39-2h2m29 0h2m-210 10h2m46 0h2m4-1h2m3 1h2m77-2h2m44-2h2m-171 6h2m8 3h2m0 0h2m57 1h2m17-1h2m29-2h2m3 0h2m5 0h2m-73 6h2m42 3h2m61-2h2m-199 9h2m7-4h2m16 2h2m8-1h2m22 1h2m33-2h2m51-1h2m-2 4h2m33-4h2m-147 11h2m57-1h2m11 0h2m34 0h2m-137 3h2m20 4h2m36 0h2m27-3h2m49 1h2m-108 8h2m10-5h2m29 0h2m52 1h2m28 0h2m-131 5h2m85 2h2m5-2h2m7 2h2m-96 7h2m23 5h2m18 0h2m33 6h2" stroke="#3030b8" stroke-width="4.5" fill="none"/>
<path transform="scale(0.2)" d="M1813 2383h3m5 8h3m43 1h3m-94 6h3m3-4h3m68 1h3m-84 5h3m76 5h3m20-4h3m8 1h3m-108 9h3m57-4h3m37-1h3m9 5h3m-115 5h3m9 1h3m42-1h3m15-3h3m14 4h3m-39 4h3m37-3h3m-44 6h3m21 2h3m20 1h3m4-1h3m-1-1h3m-91 5h3m72 1h3m-114 8h3m112 2h3m-179 3h3m33-1h3m80 1h3m19 0h3m0 3h3m-2-1h3m49 1h3m-179 6h3m9-4h3m2 1h3m121 3h3m21-1h3m-3-1h3m1-3h3m18 2h3m-219 9h3m12-5h3m46 5h3m82-3h3m25 1h3m8 2h3m-110 1h3m88 1h3m-131 6h3m15 3h3m41-3h3m86 0h3m-2 4h3m-194 5h3m70-2h3m15 1h3m-93 8h3m31-2h3m62 1h3m138-2h3m-265 6h3m60-1h3m79 3h3m-134 3h3m18 4h3m17 0h3m24-1h3m15-1h3m56-2h3m-165 8h3m14-1h3m129-1h3m61 1h3m1 3h3m7-5h3m30 3h3m-250 8h3m44-1h3m49 0h3m8-3h3m5 3h3m77-3h3m39 3h3m-257 2h3m17 5h3m67-4h3m56 2h3m-3-2h3m-2 0h3m1 0h3m0 0h3m96 3h3m16 0h3m-225 7h3m18-5h3m23 1h3m62 4h3m17-2h3m25-1h3m4 0h3m11-2h3m-3 3h3m8 0h3m-172 7h3m6-3h3m153 2h3m3-2h3m7-1h3m-212 7h3m14 0h3m38 0h3m94 0h3m54 4h3m1-3h3m-271 7h3m3-3h3m54 3h3m30-2h3m31 0h3m88 1h3m14 1h3m21 0h3m-227 3h3m25 0h3m1 3h3m28-1h3m82 3h3m34-5h3m46 4h3m-276 2h3m27 1h3m15-1h3m32 0h3m27 4h3m34-1h3m5-3h3m89 4h3m-2-2h3m8 0h3m-246 9h3m38-2h3m52 1h3m15-3h3m45 0h3m24 4h3m-1-3h3m-135 5h3m6 1h3m8 2h3m71-2h3m76 3h3m10-3h3m-2-1h3m-3 1h3m0-1h3m-260 9h3m54 0h3m8-2h3m5 3h3m39-4h3m40 1h3m4 2h3m31-3h3m11 3h3m36-4h3m0 2h3m0-2h3m-196 9h3m49 0h3m10-2h3m-1 2h3m63-1h3m-1-1h3m53 1h3m-117 4h3m-1 2h3m9 2h3m-148 7h3m8-2h3m59-1h3m75-2h3m19 2h3m4-2h3m-187 9h3m39 0h3m6 1h3m69 1h3m29-1h3m4-3h3m76 1h3m-223 5h3m28 1h3m151-2h3m22 1h3m-2-1h3m-1 3h3m-3 0h3m-2 1h3m-233 6h3m74 0h3m144-3h3m-3 1h3m2 0h3m-172 9h3m45-1h3m84-4h3m21 0h3m-1 2h3m-1 0h3m-217 8h3m25-2h3m5-1h3m60 0h3m74-1h3m19 0h3m-153 7h3m50 2h3m29-2h3m14 2h3m-146 5h3m66-2h3m21 4h3m56 0h3m-141 5h3m14 1h3m20-4h3m58 5h3m20 0h3m-81 1h3m59 5h3m-2-5h3m25 1h3m27 1h3m-149 4h3m28 8h3m46-1h3m9 2h3m8 2h3m-58 1h3m31 3h3m-54 5h3m13 0h3m5-1h3m5 1h3m17 2h3" stroke="#20209a" stroke-width="4.5" fill="none"/>
<circle cx="427.8" cy="504.8" r="31.3" fill="#dcdef7" stroke="#8e92e0" stroke-width="0.9"/>
<circle cx="427.8" cy="504.8" r="28.9" fill="#e6e7fa" stroke="#7074d8" stroke-width="0.9"/>
<path transform="scale(0.2)" d="M2069 2415h2m18 9h2m43 27h2m31 6h2m5-2h2m46 2h2m-124 3h2m-95 17h2m5-5h2m52 2h2m-38 8h2m112 3h2m-145 6h2m239 6h2m-192 9h2m31 4h2m20 5h2m-46 9h2m35 1h2m105-4h2m-167 16h2m17-1h2m27 1h2m71 0h2m111-3h2m-178 6h2m-65 5h2m45 1h2m74 0h2m-55 6h2m-85 9h2m144-3h2m-105 8h2m140 4h2m-100 5h2m-55 17h2m34 3h2m91 3h2m23 9h2m-143 8h2m113-4h2m18-1h2m-124 9h2m13 7h2m33 17h2m21 8h2" stroke="#5c5cd4" stroke-width="4" fill="none"/>
<path transform="scale(0.2)" d="M2146 2401h2m48 3h2m-64 13h2m68-1h2m9 9h2m-180 34h2m180 0h2m43 0h2m-80 4h2m-70 6h2m16-2h2m-33 15h2m65 9h2m68 2h2m-133 8h2m-50 6h2m49-4h2m-75 6h2m19 1h2m9 5h2m23 3h2m8 0h2m-20 7h2m10-3h2m16 5h2m-42 11h2m38 0h2m-18 6h2m35 4h2m49-4h2m-80 11h2m-99 16h2m92-1h2m134 0h2m-29 4h2m37 0h2m-138 6h2m79 1h2m-134 18h2m81 1h2m-67 9h2m14-3h2m38 3h2m87 19h2m-124 10h2m-3 10h2" stroke="#3030b8" stroke-width="6.5" fill="none"/>
<path transform="scale(0.2)" d="M2143 2409h3m58-3h3m-54 7h3m-31 10h3m30-1h3m-5 5h3m-93 8h3m32 1h3m64 6h3m5 9h3m-75 4h3m18 0h3m-43 9h3m137 12h3m-42 22h3m0-1h3m23 17h3m13 8h3m-157 4h3m27 1h3m6 4h3m2-4h3m112 2h3m-161 6h3m36 0h3m-2-3h3m-107 11h3m45-1h3m21 1h3m18 0h3m50 0h3m-37 6h3m-61 2h3m24 1h3m-70 5h3m91 1h3m75 1h3m4 0h3m8-2h3m-55 20h3m6-3h3m25 3h3m50 15h3m-220 14h3m155 9h3m-26 16h3m-92 9h3m99 9h3" stroke="#20209a" stroke-width="6.5" fill="none"/>
<circle cx="492.8" cy="504.8" r="31.3" fill="#dcdef7" stroke="#8e92e0" stroke-width="0.9"/>
<circle cx="492.8" cy="504.8" r="28.9" fill="#e6e7fa" stroke="#7074d8" stroke-width="0.9"/>
<path transform="scale(0.2)" d="M2455 2390h2m-15 11h2m-5 6h2m-54 8h2m52 0h2m64 1h2m-73 3h2m3 1h2m16 0h2m84 2h2m-159 4h2m-30 4h2m194 6h2m-215 19h2m38 4h2m202 0h2m-158 1h2m4 5h2m103-5h2m-165 8h2m50-2h2m34 4h2m-92 5h2m38-2h2m26 1h2m79 0h2m6 3h2m43 2h2m-202 6h2m183 1h2m14-1h2m-168 7h2m83-2h2m96 3h2m-157 4h2m15 0h2m16 1h2m-56 8h2m72-4h2m-46 8h2m0 1h2m29-1h2m31-1h2m32 0h2m12 2h2m7 1h2m-175 6h2m71-2h2m4 1h2m12-1h2m101 3h2m-171 3h2m37 1h2m1 1h2m3-2h2m22 0h2m17-2h2m58 5h2m-238 6h2m28-4h2m124 4h2m-124 1h2m70 4h2m15-1h2m1-3h2m14 2h2m-2 0h2m38 1h2m44-2h2m20 3h2m-2 1h2m-127 6h2m22-3h2m4 3h2m10-1h2m-148 4h2m58 0h2m52 0h2m7 2h2m1-4h2m10 4h2m7 0h2m7 1h2m-1-2h2m-159 6h2m106-3h2m19 1h2m2 2h2m54-2h2m-208 5h2m65 3h2m18-3h2m-1 1h2m45 1h2m-1 1h2m8-1h2m38 1h2m21 2h2m-173 2h2m91 3h2m11-1h2m24 0h2m-134 6h2m37-3h2m-2 4h2m7-2h2m15 2h2m0-3h2m65 2h2m-187 5h2m36 9h2m90-2h2m10 2h2m97 0h2m-189 5h2m149 1h2m-195 6h2m202-1h2m-173 7h2m5-4h2m169 4h2m-115 1h2m-88 10h2m126-3h2m59 0h2m-104 6h2m12 3h2m106-2h2m-134 18h2m51-2h2m45 4h2m-2 7h2m-91 3h2" stroke="#5c5cd4" stroke-width="4" fill="none"/>
<path transform="scale(0.2)" d="M2427 2405h2m104-2h2m-129 11h2m8-1h2m64 5h2m6 9h2m35 0h2m8 0h2m-103 8h2m30-2h2m-67 6h2m-13 4h2m98 2h2m-97 3h2m68 5h2m31-2h2m19 2h2m38-3h2m-122 4h2m18 1h2m-25 6h2m49 4h2m82-5h2m-129 8h2m117 2h2m-65 7h2m-50 5h2m49 1h2m-26 6h2m6 0h2m-165 9h2m68-1h2m15 1h2m37 3h2m8-3h2m13 3h2m123-4h2m-223 5h2m38 4h2m16-2h2m8 3h2m39-2h2m108-1h2m-177 8h2m42-4h2m6 3h2m17 1h2m2-2h2m11 3h2m29-5h2m-55 11h2m-73 3h2m61-1h2m10-1h2m63 0h2m-176 7h2m31 0h2m7 1h2m35 3h2m61 0h2m-202 5h2m35-2h2m75-1h2m13 2h2m0-3h2m21 3h2m8 1h2m13-3h2m6 0h2m79 1h2m-151 4h2m1 3h2m4-3h2m32 5h2m10-1h2m21-1h2m-139 7h2m54 1h2m44-1h2m56-3h2m-224 8h2m48-3h2m53 1h2m19 3h2m5-2h2m18 3h2m47-2h2m-160 7h2m78 0h2m7-1h2m-1 0h2m0 1h2m85-2h2m37 0h2m-91 6h2m71 3h2m-200 2h2m84 2h2m5-2h2m16 1h2m-51 7h2m35 2h2m29-5h2m-163 10h2m95-2h2m7 1h2m0-1h2m20-1h2m15-1h2m41 3h2m38-3h2m-124 11h2m-53 5h2m57 1h2m-70 4h2m137 1h2m4 0h2m-16 5h2m20 1h2m-151 7h2m-19 5h2m142 0h2m17 1h2m-138 4h2m91 0h2m-14 4h2m28 4h2m13 0h2m-15 10h2m17 0h2m-16 8h2m-110 1h2m23 0h2" stroke="#3030b8" stroke-width="6.5" fill="none"/>
<path transform="scale(0.2)" d="M2500 2395h3m-58 7h3m60-2h3m-136 22h3m-1-4h3m116 3h3m-80 3h3m-59 11h3m138 4h3m0-3h3m-78 14h3m57 1h3m18 2h3m-114 3h3m4-2h3m9 9h3m29-3h3m-52 9h3m103 1h3m12-3h3m-93 14h3m-69 4h3m81-1h3m36 4h3m68-4h3m-130 6h3m5 2h3m20 1h3m45 0h3m4-3h3m-51 10h3m5-2h3m73 0h3m-147 7h3m13-2h3m20 2h3m-3-1h3m29 2h3m-15 2h3m-2 3h3m2-3h3m-158 6h3m101 5h3m44 0h3m-39 3h3m54 0h3m19-1h3m60 0h3m-200 10h3m16-3h3m25-1h3m4 0h3m13 0h3m20 0h3m-3-1h3m25 2h3m-77 9h3m8-3h3m47 1h3m2 0h3m-157 3h3m134 0h3m0 2h3m2 1h3m34-1h3m62 0h3m-171 6h3m35-2h3m2 3h3m18-2h3m-2 4h3m6-3h3m86-2h3m-186 7h3m4 3h3m-1 1h3m10-5h3m5 1h3m6 1h3m7 0h3m-3 1h3m27 1h3m46-4h3m-70 7h3m18-1h3m-152 8h3m15-1h3m86 1h3m-1 3h3m19-2h3m56-1h3m46 1h3m-182 3h3m11 4h3m1-4h3m8 3h3m6-2h3m11-1h3m14 0h3m36 11h3m6 0h3m-147 2h3m104-1h3m-40 6h3m11 3h3m-81 4h3m45-1h3m47 1h3m15-1h3m35 5h3m22-2h3m24 2h3m-190 1h3m49 4h3m-2-2h3m-10 11h3m90 4h3m-107 2h3m36 3h3m48-4h3m-152 6h3m17 3h3m35-3h3m96 5h3m-90 3h3m22-1h3m55 5h3m-106 8h3m38 1h3m77-2h3m-63 12h3m4 4h3m-53 1h3m16 2h3" stroke="#20209a" stroke-width="6.5" fill="none"/>
<text x="429.4" y="445.6" font-size="10.6" text-anchor="middle" fill="#111" stroke="#111" stroke-width="0.22">SKOV3</text>
<line x1="330.4" y1="448" x2="527" y2="448" stroke="#222" stroke-width="1.1"/>
<text x="361.2" y="471.2" font-size="10.6" text-anchor="middle" fill="#111" stroke="#111" stroke-width="0.22">shCtrl</text>
<text x="429.6" y="471.2" font-size="10.6" text-anchor="middle" fill="#111" stroke="#111" stroke-width="0.22">shLOXL1#2</text>
<text x="493.8" y="458.4" font-size="10.6" text-anchor="middle" fill="#111" stroke="#111" stroke-width="0.22">shLOXL1#2</text>
<text x="493.8" y="471.2" font-size="10.6" text-anchor="middle" fill="#111" stroke="#111" stroke-width="0.22">+BRIP1 cDNA</text>
<rect x="328" y="611.2" width="196.9" height="65.2" fill="#d3d5f3"/>
<rect x="328.5" y="611.7" width="63.5" height="64.2" fill="none" stroke="#a8ace8" stroke-width="1"/>
<rect x="394" y="611.7" width="64.5" height="64.2" fill="none" stroke="#a8ace8" stroke-width="1"/>
<rect x="460.5" y="611.7" width="63.9" height="64.2" fill="none" stroke="#a8ace8" stroke-width="1"/>
<line x1="393" y1="611.2" x2="393" y2="676.4" stroke="#f4f4fc" stroke-width="1"/>
<line x1="459.5" y1="611.2" x2="459.5" y2="676.4" stroke="#f4f4fc" stroke-width="1"/>
<circle cx="361.2" cy="643.6" r="31.8" fill="#dcdef7" stroke="#8e92e0" stroke-width="0.9"/>
<circle cx="361.2" cy="643.6" r="29.4" fill="#e6e7fa" stroke="#7074d8" stroke-width="0.9"/>
<path transform="scale(0.2)" d="M1796 3076h2m-30 4h2m46 3h2m17-5h2m-83 7h2m7-1h2m22 1h2m22 2h2m24 1h2m-62 2h2m18 1h2m6 0h2m19 3h2m14-2h2m0-1h2m30 2h2m-93 6h2m27-3h2m53 4h2m-139 5h2m2 2h2m45-4h2m9 4h2m-80 1h2m3 3h2m-2-2h2m7 2h2m17-2h2m36 2h2m3 2h2m43-2h2m16 0h2m31-2h2m-146 6h2m1 1h2m3 0h2m38 1h2m77 2h2m20-1h2m-1-3h2m-196 6h2m21 0h2m144 1h2m2 2h2m4-3h2m7-1h2m0 1h2m16 4h2m-171 5h2m17-1h2m61-1h2m13 2h2m8-3h2m-152 7h2m33-2h2m72 1h2m55 1h2m26-1h2m2 3h2m-179 7h2m47-2h2m16 0h2m138 1h2m-135 3h2m34 1h2m-2 0h2m33-1h2m-2-1h2m26 2h2m21 3h2m-198 1h2m5 2h2m52-1h2m34 3h2m47-4h2m38 2h2m4 1h2m9 2h2m-239 2h2m26 0h2m8 0h2m14 4h2m35-3h2m34-1h2m30 2h2m25 2h2m41-5h2m-230 8h2m76 0h2m23-1h2m-1 1h2m40 0h2m45-2h2m19 1h2m6 0h2m20 4h2m-222 2h2m5 0h2m60 3h2m11 0h2m26-2h2m37-2h2m3 4h2m50-2h2m2 2h2m-234 6h2m49-3h2m1 2h2m10 1h2m50-4h2m12 0h2m6 3h2m15 0h2m21-1h2m10 0h2m-179 5h2m-1 1h2m37 3h2m52-1h2m25 1h2m0-4h2m5 3h2m27 0h2m45-1h2m16 1h2m11-2h2m-268 4h2m8 5h2m8-4h2m20 3h2m-1 1h2m20-1h2m39 0h2m3-3h2m-1 1h2m4 2h2m16-4h2m4 5h2m7-2h2m95-3h2m5 0h2m2 5h2m-250 5h2m9 1h2m12 0h2m111 0h2m4 0h2m24-1h2m3-1h2m4-2h2m1-1h2m29 3h2m11-1h2m14-1h2m18 4h2m-208 1h2m1 0h2m11 3h2m44 2h2m16-2h2m33 2h2m20-2h2m51-2h2m-255 7h2m30 3h2m2-4h2m28 4h2m70-2h2m5 1h2m7 0h2m19-3h2m54 1h2m-197 7h2m43 2h2m16-4h2m46 4h2m20-5h2m33 4h2m1 0h2m56 0h2m-267 6h2m-1 0h2m2-3h2m18 3h2m21-3h2m39 2h2m24 0h2m9-2h2m13 0h2m3 0h2m24 4h2m36 0h2m36-2h2m-235 8h2m-2 0h2m4-4h2m50 4h2m10-5h2m47 4h2m25-2h2m21 0h2m12 3h2m48-3h2m11 3h2m-226 3h2m-1 0h2m2-1h2m45-1h2m1 1h2m18 2h2m149 0h2m-271 6h2m3 0h2m20-1h2m101 3h2m4 0h2m91-2h2m13 2h2m-1-3h2m6 1h2m-261 7h2m71-3h2m2 0h2m22 4h2m22-1h2m4-2h2m3-2h2m9 4h2m9-1h2m0-2h2m-2 4h2m7-4h2m4-1h2m11 5h2m12 0h2m7-4h2m20-1h2m39 3h2m-274 8h2m9-3h2m0 1h2m8-3h2m6 1h2m17 3h2m34 1h2m46-5h2m47 1h2m4-1h2m28 5h2m-180 4h2m92 1h2m0-4h2m4 0h2m16 2h2m0 0h2m12 2h2m32 1h2m38 0h2m-227 6h2m38-4h2m-1 1h2m50-2h2m-1 4h2m21-2h2m32 2h2m13 1h2m-2 0h2m41-2h2m21 1h2m4-1h2m-261 6h2m12 2h2m21-4h2m13 1h2m1-1h2m28 0h2m-1-1h2m1 1h2m1 2h2m1 1h2m10 1h2m0-4h2m13 4h2m23-4h2m2 2h2m6-2h2m5 1h2m15 2h2m3-1h2m3 1h2m13-1h2m9-2h2m-215 9h2m53-3h2m19 2h2m2-1h2m2 0h2m7 3h2m28-4h2m4 0h2m-1 3h2m92-2h2m-2 2h2m8-3h2m-241 6h2m57 0h2m12 0h2m1 1h2m29 3h2m3 0h2m46-3h2m26 3h2m12-1h2m11 1h2m-125 5h2m10 1h2m2-1h2m2 0h2m4 0h2m-2-1h2m12-3h2m-2 5h2m4-4h2m7 3h2m5-1h2m10-1h2m50-2h2m32 1h2m1 4h2m-236 6h2m37-4h2m24 3h2m5-3h2m1 4h2m0-2h2m30-3h2m56 3h2m0 1h2m60-2h2m-243 5h2m37 2h2m6 0h2m45-1h2m41-1h2m55 0h2m-1 3h2m36 1h2m-212 5h2m14-1h2m3-3h2m28 5h2m4-2h2m25 1h2m4 0h2m8-2h2m4 1h2m21-3h2m6 2h2m0-2h2m8 1h2m23-1h2m12 3h2m13 2h2m-190 6h2m63-1h2m1-3h2m26 3h2m19 0h2m0-2h2m14-1h2m1 0h2m9 0h2m-166 8h2m71-3h2m0 1h2m20 1h2m1 0h2m14-2h2m27 4h2m13-1h2m21-3h2m-182 9h2m38 0h2m2-2h2m53 0h2m18-1h2m3 4h2m50 1h2m-175 2h2m15-1h2m14 4h2m29 0h2m7 0h2m0 0h2m7-3h2m16 3h2m5-2h2m24 2h2m20-2h2m5 1h2m2-1h2m-152 8h2m15-2h2m12 2h2m-1-1h2m45-2h2m42 0h2m34-1h2m-157 7h2m3-1h2m8 1h2m52 4h2m23-5h2m-89 7h2m30 0h2m4 1h2m4 2h2m2-4h2m7 4h2m15-3h2m8 1h2m-1-1h2m13 3h2m23-1h2m-48 6h2m1 2h2m23-5h2m2 0h2m-65 13h2m5 1h2" stroke="#5c5cd4" stroke-width="4" fill="none"/>
<path transform="scale(0.2)" d="M1812 3074h2m-7 6h2m4 0h2m7-1h2m4 2h2m-55 4h2m8 2h2m59-1h2m-70 6h2m14-1h2m23 2h2m-88 8h2m8-5h2m23 4h2m11-2h2m9 0h2m26 3h2m8-3h2m12 0h2m-128 8h2m8 1h2m13-2h2m24-1h2m12 0h2m31 1h2m-99 7h2m28-2h2m106-2h2m13 4h2m8-2h2m-178 7h2m18-2h2m8 1h2m43 3h2m12-1h2m3 1h2m5-1h2m18-3h2m12 0h2m26 1h2m13 1h2m6-1h2m-168 6h2m26 1h2m1 0h2m25 1h2m35-2h2m74-1h2m-193 8h2m17 0h2m22-3h2m24 0h2m-1 2h2m59-1h2m16 2h2m47-3h2m8 0h2m-198 11h2m49 0h2m71-5h2m45 0h2m-130 10h2m48 1h2m104 0h2m-213 6h2m54-4h2m96-1h2m0 0h2m10 0h2m23 2h2m0 3h2m1 0h2m2-4h2m-197 9h2m42-1h2m3 0h2m3-1h2m46 0h2m8 3h2m20-4h2m27 4h2m11-3h2m32 1h2m-235 6h2m27 0h2m44-3h2m5 0h2m21 3h2m89-3h2m42 2h2m-194 6h2m53 1h2m48-3h2m-104 6h2m26 2h2m77 0h2m2 0h2m32 2h2m45-2h2m4 1h2m0-2h2m-212 8h2m2 1h2m25-4h2m39 0h2m69 2h2m40 1h2m-214 3h2m57 0h2m21 1h2m14 0h2m5 0h2m1 1h2m13-2h2m10 0h2m20 3h2m34 2h2m36-2h2m-162 7h2m22-3h2m40 4h2m8-5h2m23 2h2m10-2h2m3 2h2m-175 4h2m20 0h2m43 2h2m25 0h2m31-2h2m28 0h2m-1 2h2m2-2h2m2 4h2m30-4h2m-2 1h2m1 4h2m16-4h2m-269 7h2m3 1h2m9-2h2m19 4h2m7-4h2m42 1h2m2 2h2m17-1h2m49 2h2m3-5h2m6 3h2m18-3h2m1 3h2m10-3h2m18 2h2m-166 4h2m9 3h2m17-1h2m17 3h2m24-2h2m80 2h2m16-4h2m-212 10h2m41-3h2m36-1h2m3 1h2m-1 2h2m30-3h2m33 3h2m2-3h2m10 4h2m28-4h2m3 3h2m10-3h2m3 4h2m-229 3h2m42-2h2m8 1h2m40 4h2m22-1h2m121-2h2m1 3h2m-206 3h2m10 2h2m1 0h2m3-3h2m19 1h2m21 1h2m51 1h2m63 0h2m-2-2h2m2 2h2m-250 2h2m11 2h2m19 0h2m5 0h2m1 3h2m14-3h2m18 2h2m5-1h2m46-2h2m69 3h2m-215 3h2m18 1h2m48-2h2m2 5h2m8-1h2m8 1h2m2-1h2m4-3h2m1 1h2m6-2h2m35 3h2m13-1h2m58 0h2m-231 9h2m4-5h2m45 1h2m15 4h2m20-5h2m13 3h2m2-1h2m43-1h2m18 0h2m38 0h2m8-1h2m-233 6h2m24 3h2m18-2h2m28 4h2m52-2h2m3 1h2m40-1h2m20-3h2m11 4h2m1-4h2m20 5h2m8-4h2m7 0h2m3 4h2m4-1h2m-227 6h2m63-3h2m39 4h2m8-5h2m4 5h2m1-3h2m-161 9h2m30-3h2m5-1h2m38 3h2m-2 0h2m6-2h2m64-2h2m20 1h2m40 1h2m-156 6h2m15-2h2m-1 1h2m-1-1h2m-1 3h2m14-1h2m0-1h2m24 1h2m14 2h2m3 1h2m17-5h2m39 2h2m21 3h2m21-4h2m-229 9h2m22 1h2m1-2h2m3 1h2m15-2h2m3-2h2m3 1h2m6 3h2m26-3h2m1 1h2m37 3h2m24-2h2m2 2h2m0 0h2m37-4h2m14 0h2m-177 8h2m4-1h2m23 1h2m31 0h2m27 0h2m11 1h2m11 1h2m0-5h2m1 1h2m35 1h2m-206 5h2m3 0h2m19-1h2m8 4h2m3 0h2m4-3h2m-1 4h2m1-1h2m30-1h2m0 2h2m17-4h2m-2-1h2m4 0h2m2 3h2m-1 1h2m-1 0h2m7-3h2m93 0h2m-202 10h2m19-4h2m13 4h2m0-2h2m0 1h2m16 0h2m-1-3h2m-1 1h2m12 3h2m1-2h2m-1-1h2m5 2h2m11 0h2m36-3h2m29 1h2m5 3h2m4-5h2m8 3h2m-197 3h2m21 4h2m7-4h2m6 5h2m36-1h2m8 1h2m9-3h2m0 1h2m5 2h2m14-5h2m68 3h2m2-2h2m3-1h2m-207 11h2m13-1h2m29-1h2m15-2h2m20 2h2m14 0h2m25 2h2m1 0h2m6-1h2m-1 1h2m18-4h2m12 2h2m-1 2h2m-182 6h2m11 0h2m41 0h2m-1-3h2m15 0h2m12 2h2m0-1h2m35 0h2m10 2h2m7-1h2m33-1h2m12 2h2m-208 2h2m35 4h2m21-1h2m0 0h2m-1-4h2m-1 4h2m11 1h2m5-3h2m-2 2h2m13-1h2m10-1h2m6 2h2m3 0h2m14-4h2m1 2h2m-103 8h2m17-2h2m0 0h2m40 1h2m1 1h2m7 0h2m14-4h2m50 3h2m-123 8h2m8-5h2m27 5h2m12-3h2m10 0h2m5 2h2m21-2h2m2 3h2m-128 2h2m-1 4h2m2-1h2m11-2h2m15 2h2m15-4h2m44 3h2m7 0h2m22-3h2m9 1h2m-137 10h2m66-3h2m2-1h2m3 4h2m14 0h2m-87 5h2m1-1h2m18-1h2m2 3h2m5-2h2m-1-3h2m12 1h2m42 3h2m-1-1h2m-87 3h2m58 0h2m14 1h2m9 2h2m-51 3h2m5 3h2m21-3h2" stroke="#3030b8" stroke-width="6.25" fill="none"/>
<path transform="scale(0.2)" d="M1817 3076h3m-38 3h3m9 1h3m41 3h3m-66 3h3m20 3h3m-54 5h3m-2-4h3m26 1h3m19 0h3m2-1h3m3 0h3m16 3h3m17-2h3m13-1h3m-110 7h3m-42 10h3m12-4h3m22 0h3m19-1h3m43 0h3m22 1h3m-68 8h3m71 1h3m18 1h3m8-3h3m-3-2h3m-183 8h3m16-2h3m10 3h3m40 0h3m21-2h3m23 0h3m1 4h3m13-1h3m1 0h3m-111 3h3m37 1h3m13-1h3m26-1h3m-1 3h3m62-2h3m-201 6h3m43 3h3m22 1h3m6-1h3m5-2h3m-2-2h3m50 4h3m8 1h3m9-3h3m-1 2h3m9 0h3m2-4h3m-167 8h3m5-2h3m48 5h3m-1-4h3m70 0h3m9 3h3m0-1h3m38-1h3m-233 7h3m22-2h3m73 4h3m87-4h3m9 3h3m-1-1h3m23-2h3m-1 2h3m-181 6h3m6 2h3m33-3h3m33-1h3m3-1h3m-2 5h3m19-5h3m33 1h3m9 1h3m-223 5h3m28 1h3m5 0h3m24 0h3m12 0h3m-1-1h3m24 4h3m106-1h3m17 1h3m-247 6h3m18-1h3m-2-3h3m47-1h3m26 2h3m28 0h3m-29 4h3m62 2h3m9 1h3m33-3h3m12 4h3m22-1h3m-233 7h3m-1 0h3m0-2h3m12 0h3m35 3h3m9-3h3m4 2h3m10-4h3m48 1h3m3 3h3m55 1h3m18-1h3m-237 7h3m6-2h3m5-1h3m4-1h3m34 4h3m50-4h3m14 4h3m79-5h3m17 0h3m-167 10h3m15-2h3m67 0h3m7-1h3m39 1h3m5 2h3m19 0h3m-263 2h3m35 4h3m-2-1h3m63-1h3m13 2h3m20-2h3m0-2h3m0 5h3m8-3h3m0-2h3m27 3h3m-187 8h3m41-2h3m51 2h3m2-1h3m26-4h3m17 4h3m64 0h3m8 0h3m2 0h3m22 1h3m-284 6h3m8 0h3m72 0h3m7-1h3m55-3h3m4-1h3m2 3h3m33-1h3m36 0h3m4 1h3m1 1h3m-2-1h3m23-2h3m-218 7h3m6-2h3m-1 5h3m15-3h3m17 1h3m9-1h3m15-1h3m98 4h3m-3 0h3m31-5h3m-267 8h3m66 0h3m92 2h3m0-3h3m6 4h3m5 0h3m12-1h3m11-1h3m1 1h3m29-3h3m-256 10h3m4-1h3m24-3h3m79 4h3m19-2h3m-3-3h3m95 5h3m32 0h3m-259 1h3m4 5h3m7-3h3m15 2h3m34-2h3m6 2h3m35-2h3m40 2h3m6-1h3m0-2h3m0 3h3m-1 0h3m5 0h3m44 1h3m7 0h3m-243 1h3m58 2h3m18 2h3m13-2h3m5 1h3m19 2h3m61-1h3m7 1h3m7-4h3m-195 5h3m48 4h3m62 0h3m5-2h3m18 0h3m56 2h3m13 0h3m-249 5h3m29-3h3m2 3h3m9-3h3m39 1h3m8 0h3m21 0h3m24 1h3m42 3h3m27 0h3m8-1h3m-245 7h3m37-1h3m23 0h3m-2-1h3m4-2h3m31 4h3m18-5h3m3 4h3m-3-4h3m38 2h3m0 3h3m19-3h3m14 2h3m-188 6h3m16 0h3m-1-1h3m11 1h3m3 1h3m2 0h3m-2-2h3m12 2h3m36-2h3m8 2h3m-1-3h3m5 2h3m1 1h3m12-3h3m6 1h3m67 2h3m-201 6h3m27 0h3m29 0h3m2-5h3m5 4h3m31-4h3m42 4h3m-153 5h3m7 0h3m14-2h3m13 3h3m8-3h3m5 4h3m7-3h3m4-1h3m6 2h3m14-2h3m58-1h3m4 5h3m-235 2h3m27 4h3m31-3h3m33 2h3m6 1h3m2 0h3m-1-5h3m60 0h3m2 3h3m7 0h3m34-1h3m20-1h3m-252 8h3m16-3h3m54 0h3m3 4h3m9-1h3m21 2h3m25-3h3m7 0h3m30 3h3m-1-2h3m10 2h3m2-1h3m0 1h3m-173 4h3m1 2h3m5-3h3m1 1h3m24 2h3m15-3h3m15 2h3m8-2h3m9-1h3m25 0h3m-2 1h3m36 0h3m-219 4h3m10 1h3m2 0h3m18 4h3m7-2h3m3 0h3m-1-2h3m2 0h3m24 4h3m3-3h3m46-1h3m54 0h3m8 2h3m13 1h3m-215 7h3m1-1h3m0-1h3m8 0h3m8-3h3m17 4h3m7-4h3m0 5h3m16-1h3m14-4h3m11 4h3m7-1h3m-2-3h3m5 1h3m36 3h3m33-2h3m-168 5h3m12 2h3m9 2h3m26-3h3m5-1h3m-2-1h3m27 2h3m0-2h3m10 5h3m9-4h3m-2-1h3m4 2h3m34-2h3m-213 9h3m-1 1h3m12-4h3m29 5h3m10 0h3m-1 0h3m-1-2h3m0 2h3m30-2h3m16-3h3m-1 4h3m0 1h3m-2-2h3m85-3h3m-181 7h3m7-1h3m2 2h3m25 0h3m12-1h3m13 1h3m8-2h3m7 0h3m33 1h3m7 3h3m-168 3h3m27 3h3m16 1h3m21 0h3m9-3h3m16 1h3m26 2h3m-1-3h3m-121 7h3m0-1h3m4-2h3m22 2h3m5 3h3m2-1h3m6-2h3m14 0h3m-3 3h3m2-5h3m17 1h3m59 2h3m-118 3h3m5 3h3m33 1h3m0-3h3m22 4h3m0-5h3m26 0h3m-146 10h3m32-4h3m17 4h3m62-3h3m14-1h3m-115 8h3m33 0h3m-3-1h3m7 3h3m37-3h3m11 4h3m-67 2h3m-34 5h3m13 0h3m0 1h3m1-1h3m5 4h3m0-2h3m0 3h3m-1-4h3" stroke="#20209a" stroke-width="6.25" fill="none"/>
<circle cx="427.6" cy="644.6" r="31.8" fill="#dcdef7" stroke="#8e92e0" stroke-width="0.9"/>
<circle cx="427.6" cy="644.6" r="29.4" fill="#e6e7fa" stroke="#7074d8" stroke-width="0.9"/>
<path transform="scale(0.2)" d="M2125 3096h2m-32 10h2m31 5h2m-82 22h2m74 3h2m-104 3h2m154 2h2m-153 8h2m6-2h2m117 1h2m54-3h2m-152 11h2m126 2h2m-111 15h2m-67 14h2m8 1h2m151 21h2m34 10h2m-96 8h2m0-4h2m21 15h2m-14 7h2m9-2h2m6-1h2m108 0h2m-222 9h2m85-5h2m141 4h2m-132 7h2m4 0h2m-27 10h2m-3 8h2m21-4h2m-48 6h2m59 3h2m-120 11h2m96-2h2m12 2h2m85 2h2m13-4h2m-12 14h2m-92 3h2m-66 9h2m90 1h2m-116 4h2m36 23h2" stroke="#5c5cd4" stroke-width="4" fill="none"/>
<path transform="scale(0.2)" d="M2045 3114h2m19 20h2m99 5h2m-87 8h2m133 5h2m-117 10h2m133 7h2m-204 5h2m-15 6h2m54 7h2m41 9h2m70 1h2m-112 6h2m38-3h2m16-2h2m134 4h2m-93 19h2m34-1h2m-118 10h2m42 1h2m6 0h2m20 1h2m29-3h2m-84 7h2m16 2h2m-1 6h2m-1-2h2m8 0h2m-26 9h2m44-3h2m44-2h2m-82 9h2m-23 5h2m6 2h2m-125 4h2m157 10h2m-59 9h2m27 0h2m78-3h2m-63 11h2m-91 1h2m66 4h2m118-3h2m-129 20h2m88 15h2m-107 24h2" stroke="#3030b8" stroke-width="5.5" fill="none"/>
<path transform="scale(0.2)" d="M2125 3088h3m34 18h3m-71 18h3m21 2h3m11 8h3m53 2h3m58 5h3m-163 8h3m163-1h3m-132 3h3m33 5h3m-98 7h3m-23 8h3m36-2h3m108 1h3m-109 7h3m14 3h3m47 5h3m-77 3h3m120 10h3m-91 11h3m-7 6h3m160 0h3m-130 12h3m-110 3h3m102 1h3m63 2h3m-97 2h3m-15 5h3m32 0h3m2 1h3m-14 6h3m7 3h3m-133 5h3m129 2h3m-2-4h3m-137 6h3m66 4h3m30-2h3m64 0h3m-45 19h3m-43 5h3m37-3h3m33 3h3m-32 10h3m-98 8h3m18 19h3m47 27h3" stroke="#20209a" stroke-width="5.5" fill="none"/>
<circle cx="492" cy="643.6" r="31.8" fill="#dcdef7" stroke="#8e92e0" stroke-width="0.9"/>
<circle cx="492" cy="643.6" r="29.4" fill="#e6e7fa" stroke="#7074d8" stroke-width="0.9"/>
<path transform="scale(0.2)" d="M2478 3082h2m-68 7h2m2 0h2m35 0h2m-64 6h2m3-4h2m25 3h2m94 1h2m5-4h2m-71 5h2m77 3h2m2 2h2m-52 6h2m58-1h2m-160 4h2m26-2h2m4 3h2m-1-2h2m123 1h2m-130 6h2m27 1h2m11-1h2m46 2h2m-157 5h2m77-1h2m24 1h2m11-3h2m53 2h2m-148 7h2m19 0h2m21 0h2m9 2h2m114-1h2m-174 7h2m38-2h2m9 2h2m12-1h2m120-4h2m-232 7h2m97 1h2m32 1h2m4-2h2m70 4h2m4-5h2m-209 9h2m70 0h2m44-2h2m26 2h2m39-3h2m-197 10h2m16-3h2m93 1h2m47 3h2m-133 4h2m44 1h2m25-1h2m49-3h2m37 4h2m18 0h2m7-4h2m-228 11h2m39-5h2m-1 0h2m39 5h2m33 0h2m59-1h2m-132 5h2m17-2h2m1 0h2m46 4h2m18-2h2m-135 3h2m24 1h2m72 1h2m5 0h2m21 3h2m1-5h2m68 4h2m-189 3h2m0 2h2m50-1h2m35-1h2m14 2h2m117-2h2m-250 10h2m42 0h2m26-2h2m20 1h2m17-3h2m10 3h2m4-1h2m31-2h2m64 2h2m16 1h2m4-3h2m-235 6h2m36 0h2m81-1h2m16 2h2m7-1h2m-174 6h2m9 2h2m54-2h2m2 2h2m-1-1h2m7 2h2m-2-1h2m125-1h2m3-2h2m-150 7h2m18 4h2m8-4h2m19 1h2m56 0h2m1 3h2m32-4h2m48 0h2m-1 3h2m0-3h2m-159 5h2m16 4h2m10-3h2m70 1h2m-187 8h2m0-2h2m55 3h2m30-4h2m3 2h2m29 1h2m39-3h2m29 2h2m18-3h2m-226 10h2m8 1h2m16-2h2m0-3h2m56 4h2m17-4h2m2 1h2m90 0h2m-184 8h2m0 1h2m11 1h2m32-5h2m12 5h2m16-2h2m35 2h2m46 0h2m21-3h2m-213 8h2m28-3h2m6 1h2m4 2h2m59 1h2m10-4h2m45 4h2m43-3h2m12-1h2m-189 9h2m63-4h2m3 4h2m1 1h2m97-4h2m-123 6h2m32-1h2m-73 11h2m42 0h2m-1-5h2m131 5h2m-258 6h2m25 0h2m9-5h2m34 5h2m15-2h2m32-3h2m5 0h2m27 3h2m53 0h2m42 0h2m3-3h2m-157 8h2m1 0h2m31-2h2m3 1h2m93 1h2m-145 8h2m71-3h2m39 2h2m12-3h2m-222 10h2m88-2h2m30-2h2m17 2h2m64 3h2m-93 1h2m1 5h2m89-2h2m-156 8h2m58-3h2m7 2h2m-86 7h2m44-3h2m8-2h2m49 1h2m25 4h2m12-5h2m-80 7h2m32 3h2m73 1h2m-107 5h2m13 0h2m-76 4h2m142 1h2m-148 5h2m75 2h2m27-3h2m-98 10h2m18-1h2m18-1h2m44 7h2m-4 2h2m-57 7h2m13 0h2m55 4h2m-48 5h2m-3 8h2" stroke="#5c5cd4" stroke-width="4" fill="none"/>
<path transform="scale(0.2)" d="M2437 3083h2m24-2h2m-1-1h2m40 9h2m-116 4h2m27-3h2m88 3h2m-78 8h2m75-4h2m-123 6h2m53 1h2m60 1h2m-116 7h2m91-3h2m1-1h2m-94 9h2m35-1h2m32-2h2m-68 8h2m21 2h2m16-3h2m12 3h2m-19 4h2m66 0h2m15 5h2m41 2h2m-185 8h2m1-4h2m2 2h2m-1-2h2m19 2h2m29-3h2m24 4h2m12 1h2m27-2h2m33 1h2m-159 4h2m1 3h2m26 0h2m15-2h2m45-3h2m-157 11h2m23-4h2m32 3h2m96 1h2m-91 6h2m44-1h2m15 1h2m112-3h2m-148 5h2m7 2h2m1 1h2m15-2h2m0-2h2m14 3h2m-113 6h2m17-1h2m3-1h2m4-1h2m1 1h2m27 1h2m34 3h2m7-5h2m24 0h2m1 3h2m8-1h2m44-1h2m10 2h2m-251 5h2m52 3h2m59 0h2m-2-2h2m-118 6h2m106-1h2m-1-2h2m-1 4h2m21-4h2m34 3h2m3-2h2m3 1h2m-158 7h2m5-2h2m3 4h2m79-2h2m8 2h2m40-1h2m72 1h2m-232 1h2m58 4h2m38-1h2m62 0h2m39 1h2m6-3h2m18 3h2m31-2h2m-207 4h2m15 3h2m34-1h2m8 0h2m38 2h2m14-4h2m49 4h2m3-2h2m-231 4h2m35 0h2m0 3h2m9-1h2m9 3h2m6 0h2m5-5h2m2 1h2m19 2h2m4 2h2m0-1h2m6-4h2m39 0h2m1 5h2m-158 4h2m55 2h2m17 0h2m-1-3h2m171 1h2m-224 8h2m7-3h2m20 0h2m-82 9h2m63-5h2m24 2h2m5 3h2m4-4h2m-2 0h2m2 0h2m10 4h2m37 0h2m23-3h2m20-1h2m-211 6h2m105 3h2m12-4h2m18 0h2m15 3h2m33-3h2m-188 7h2m11 4h2m52-1h2m14-4h2m6 4h2m0 0h2m-2 1h2m37-5h2m68 4h2m37-2h2m-234 7h2m86 2h2m20-5h2m93 2h2m-211 5h2m50-1h2m5 3h2m11-3h2m2 3h2m33-1h2m4 1h2m11-3h2m27 2h2m-172 4h2m188 0h2m7 3h2m32 0h2m11-2h2m-241 8h2m40-2h2m25 2h2m41 2h2m-51 5h2m133-2h2m12 0h2m9-1h2m-124 8h2m18-2h2m41-1h2m-108 7h2m14 1h2m15 1h2m15 0h2m3-1h2m78 1h2m-166 6h2m28 2h2m1-4h2m40 1h2m94 2h2m-1-3h2m10 4h2m-192 1h2m18 1h2m19 0h2m-26 7h2m35 2h2m91-3h2m-150 5h2m10 1h2m40 3h2m156-3h2m5-1h2m-223 8h2m2 3h2m17-2h2m-18 5h2m63-1h2m26 2h2m48-3h2m-133 8h2m61 3h2m-26 3h2m9 6h2m-4 5h2m1 2h2m26-3h2m50 0h2m6 0h2m-92 7h2m43 0h2m-45 5h2m38 2h2m10 8h2" stroke="#3030b8" stroke-width="6.25" fill="none"/>
<path transform="scale(0.2)" d="M2468 3076h3m-61 7h3m22-4h3m11 4h3m-40 2h3m3 0h3m90 2h3m-32 3h3m34 1h3m-67 9h3m-84 8h3m49 1h3m0 0h3m40 1h3m38 1h3m5-2h3m-153 7h3m11 3h3m16-5h3m31 4h3m53-2h3m30-2h3m-178 11h3m37-3h3m5 1h3m9 2h3m136-4h3m-191 7h3m2 1h3m31 1h3m34-1h3m34 2h3m56-4h3m24-1h3m-196 6h3m53 3h3m37-3h3m21 0h3m11 0h3m25 4h3m-189 3h3m15 3h3m74-2h3m53 2h3m-154 7h3m51 0h3m12 0h3m35-4h3m0 1h3m41 3h3m34-5h3m-132 11h3m12-3h3m17-1h3m3 0h3m10 1h3m3-1h3m29 4h3m16-3h3m16 2h3m-199 3h3m53 3h3m27-1h3m15-3h3m64 5h3m47-2h3m15 2h3m-83 5h3m16-4h3m54 2h3m-176 8h3m19 0h3m12-2h3m3 0h3m2 0h3m29-2h3m4 0h3m93 4h3m-250 6h3m35-1h3m36-1h3m19 0h3m35 3h3m0-1h3m39-3h3m-2 2h3m37 0h3m-141 8h3m11-1h3m18 1h3m10 0h3m2-2h3m24 1h3m-187 3h3m91 2h3m-3-3h3m8 1h3m-2 2h3m5 2h3m140 0h3m-212 4h3m2-1h3m16-2h3m5 0h3m2 3h3m-1-3h3m152 4h3m19-1h3m-243 7h3m56 1h3m33 0h3m80-3h3m-167 4h3m14 0h3m25 1h3m25 4h3m16-3h3m15 1h3m82 0h3m38-2h3m-211 9h3m2-3h3m9 2h3m2 0h3m5 1h3m70 1h3m3-5h3m11 5h3m1-4h3m-128 6h3m23 2h3m5 1h3m26-3h3m2 0h3m38 1h3m64 0h3m-148 4h3m0 4h3m37 1h3m17-2h3m3 0h3m13-2h3m21 4h3m-200 2h3m11 4h3m37 0h3m46-1h3m29 0h3m42-1h3m33-2h3m4 4h3m1-3h3m-244 4h3m25 4h3m47-1h3m100-3h3m90 2h3m-241 6h3m38-2h3m7 4h3m26-1h3m17-3h3m56 2h3m-150 9h3m32-5h3m9 3h3m181 2h3m-262 2h3m77 3h3m10-1h3m-1 0h3m4 2h3m86-5h3m62 2h3m-270 7h3m11-1h3m10-2h3m18 4h3m24-4h3m80 2h3m21 2h3m24-2h3m-178 4h3m16 0h3m24 1h3m3 2h3m21-1h3m73 3h3m-58 2h3m-1 4h3m82 0h3m23-5h3m-236 11h3m33-5h3m64 1h3m45 3h3m47-2h3m-78 8h3m-2 1h3m28-2h3m-88 3h3m28 1h3m7-1h3m99 0h3m6 2h3m-63 6h3m-66 5h3m131 3h3m-124 3h3m3 1h3m99-1h3m-115 8h3m42-1h3m60 2h3m-59 3h3m30-1h3m-168 9h3m89-2h3m19 3h3m15-4h3m-11 10h3m-7 2h3m3 2h3m-84 9h3m40 10h3m38-1h3" stroke="#20209a" stroke-width="6.25" fill="none"/>
<text x="427.4" y="583.6" font-size="10.6" text-anchor="middle" fill="#111" stroke="#111" stroke-width="0.22">A2780</text>
<line x1="327" y1="585.7" x2="525.5" y2="585.7" stroke="#222" stroke-width="1.1"/>
<text x="357.9" y="608.6" font-size="10.6" text-anchor="middle" fill="#111" stroke="#111" stroke-width="0.22">shCtrl</text>
<text x="427.6" y="608.6" font-size="10.6" text-anchor="middle" fill="#111" stroke="#111" stroke-width="0.22">shLOXL1#2</text>
<text x="493" y="595.8" font-size="10.6" text-anchor="middle" fill="#111" stroke="#111" stroke-width="0.22">shLOXL1#2</text>
<text x="493" y="608.6" font-size="10.6" text-anchor="middle" fill="#111" stroke="#111" stroke-width="0.22">+BRIP1 cDNA</text>
<rect x="569.4" y="459.3" width="15.9" height="61.6" fill="#ff0000"/>
<line x1="577.3" y1="454.8" x2="577.3" y2="459.3" stroke="#222" stroke-width="1"/>
<line x1="573" y1="454.8" x2="581.6" y2="454.8" stroke="#222" stroke-width="1.1"/>
<rect x="607.9" y="506" width="16.4" height="14.9" fill="#0000ff"/>
<line x1="616.1" y1="503.2" x2="616.1" y2="506" stroke="#222" stroke-width="1"/>
<line x1="611.8" y1="503.2" x2="620.4" y2="503.2" stroke="#222" stroke-width="1.1"/>
<rect x="646.9" y="473.3" width="16.4" height="47.6" fill="#c000c0"/>
<line x1="655.1" y1="469.7" x2="655.1" y2="473.3" stroke="#222" stroke-width="1"/>
<line x1="650.8" y1="469.7" x2="659.4" y2="469.7" stroke="#222" stroke-width="1.1"/>
<line x1="557.2" y1="436.4" x2="557.2" y2="521.4" stroke="#222" stroke-width="1.1"/>
<line x1="556.7" y1="520.9" x2="674.5" y2="520.9" stroke="#222" stroke-width="1.1"/>
<line x1="554.6" y1="520.9" x2="557.2" y2="520.9" stroke="#222" stroke-width="1"/>
<text x="554.4" y="524.3" font-size="9.6" text-anchor="end" fill="#111" stroke="#111" stroke-width="0.22">0</text>
<line x1="554.6" y1="492.9" x2="557.2" y2="492.9" stroke="#222" stroke-width="1"/>
<text x="554.4" y="496.3" font-size="9.6" text-anchor="end" fill="#111" stroke="#111" stroke-width="0.22">50</text>
<line x1="554.6" y1="464.9" x2="557.2" y2="464.9" stroke="#222" stroke-width="1"/>
<text x="554.4" y="468.3" font-size="9.6" text-anchor="end" fill="#111" stroke="#111" stroke-width="0.22">100</text>
<line x1="554.6" y1="436.9" x2="557.2" y2="436.9" stroke="#222" stroke-width="1"/>
<text x="554.4" y="440.3" font-size="9.6" text-anchor="end" fill="#111" stroke="#111" stroke-width="0.22">150</text>
<line x1="577.3" y1="520.9" x2="577.3" y2="523.3" stroke="#222" stroke-width="1"/>
<line x1="616.1" y1="520.9" x2="616.1" y2="523.3" stroke="#222" stroke-width="1"/>
<line x1="655.1" y1="520.9" x2="655.1" y2="523.3" stroke="#222" stroke-width="1"/>
<text x="616.8" y="435.8" font-size="9.8" text-anchor="middle" fill="#111" stroke="#111" stroke-width="0.22">SKOV3</text>
<text x="616.1" y="505.9" font-size="15.6" text-anchor="middle" fill="#111" stroke="#111" stroke-width="0.22">*</text>
<text x="539.8" y="479.9" font-size="10.8" text-anchor="middle" fill="#111" stroke="#111" stroke-width="0.22" transform="rotate(-90 539.8 479.9)">Clone Counts</text>
<text x="579.8" y="526.1" font-size="9.2" text-anchor="end" fill="#111" stroke="#111" stroke-width="0.22" transform="rotate(-27 579.8 526.1)">shCtrl</text>
<text x="620.9" y="526.3" font-size="9.2" text-anchor="end" fill="#111" stroke="#111" stroke-width="0.22" transform="rotate(-27 620.9 526.3)">shLOXL1#2</text>
<text x="655.9" y="531.4" font-size="9.2" text-anchor="middle" fill="#111" stroke="#111" stroke-width="0.22">shLOXL1#2</text>
<text x="655.9" y="542.1" font-size="9.2" text-anchor="middle" fill="#111" stroke="#111" stroke-width="0.22">+BRIP1 cDNA</text>
<rect x="568.2" y="603.2" width="16.4" height="56.8" fill="#ff0000"/>
<line x1="576.4" y1="599.8" x2="576.4" y2="603.2" stroke="#222" stroke-width="1"/>
<line x1="572.1" y1="599.8" x2="580.7" y2="599.8" stroke="#222" stroke-width="1.1"/>
<rect x="607.2" y="645.8" width="16.4" height="14.2" fill="#0000ff"/>
<line x1="615.4" y1="643.3" x2="615.4" y2="645.8" stroke="#222" stroke-width="1"/>
<line x1="611.1" y1="643.3" x2="619.7" y2="643.3" stroke="#222" stroke-width="1.1"/>
<rect x="646.5" y="611.1" width="16.3" height="48.9" fill="#c000c0"/>
<line x1="654.6" y1="608.2" x2="654.6" y2="611.1" stroke="#222" stroke-width="1"/>
<line x1="650.4" y1="608.2" x2="658.9" y2="608.2" stroke="#222" stroke-width="1.1"/>
<line x1="556.1" y1="575.9" x2="556.1" y2="660.5" stroke="#222" stroke-width="1.1"/>
<line x1="555.6" y1="660" x2="674" y2="660" stroke="#222" stroke-width="1.1"/>
<line x1="553.5" y1="660" x2="556.1" y2="660" stroke="#222" stroke-width="1"/>
<text x="553.3" y="663.4" font-size="9.6" text-anchor="end" fill="#111" stroke="#111" stroke-width="0.22">0</text>
<line x1="553.5" y1="639.1" x2="556.1" y2="639.1" stroke="#222" stroke-width="1"/>
<text x="553.3" y="642.5" font-size="9.6" text-anchor="end" fill="#111" stroke="#111" stroke-width="0.22">50</text>
<line x1="553.5" y1="618.2" x2="556.1" y2="618.2" stroke="#222" stroke-width="1"/>
<text x="553.3" y="621.6" font-size="9.6" text-anchor="end" fill="#111" stroke="#111" stroke-width="0.22">100</text>
<line x1="553.5" y1="597.3" x2="556.1" y2="597.3" stroke="#222" stroke-width="1"/>
<text x="553.3" y="600.7" font-size="9.6" text-anchor="end" fill="#111" stroke="#111" stroke-width="0.22">150</text>
<line x1="553.5" y1="576.4" x2="556.1" y2="576.4" stroke="#222" stroke-width="1"/>
<text x="553.3" y="579.8" font-size="9.6" text-anchor="end" fill="#111" stroke="#111" stroke-width="0.22">200</text>
<line x1="576.4" y1="660" x2="576.4" y2="662.4" stroke="#222" stroke-width="1"/>
<line x1="615.4" y1="660" x2="615.4" y2="662.4" stroke="#222" stroke-width="1"/>
<line x1="654.6" y1="660" x2="654.6" y2="662.4" stroke="#222" stroke-width="1"/>
<text x="616.1" y="574" font-size="9.8" text-anchor="middle" fill="#111" stroke="#111" stroke-width="0.22">A2780</text>
<text x="615.4" y="646" font-size="15.6" text-anchor="middle" fill="#111" stroke="#111" stroke-width="0.22">*</text>
<text x="537" y="619.2" font-size="10.8" text-anchor="middle" fill="#111" stroke="#111" stroke-width="0.22" transform="rotate(-90 537 619.2)">Clone Counts</text>
<text x="578.9" y="665.2" font-size="9.2" text-anchor="end" fill="#111" stroke="#111" stroke-width="0.22" transform="rotate(-27 578.9 665.2)">shCtrl</text>
<text x="620.2" y="665.4" font-size="9.2" text-anchor="end" fill="#111" stroke="#111" stroke-width="0.22" transform="rotate(-27 620.2 665.4)">shLOXL1#2</text>
<text x="655.4" y="670.5" font-size="9.2" text-anchor="middle" fill="#111" stroke="#111" stroke-width="0.22">shLOXL1#2</text>
<text x="655.4" y="681.2" font-size="9.2" text-anchor="middle" fill="#111" stroke="#111" stroke-width="0.22">+BRIP1 cDNA</text>
<text x="14.9" y="735.2" font-size="14.5" font-weight="bold" fill="#111">G</text>
<text x="152.4" y="728.9" font-size="12.8" text-anchor="middle" fill="#111" stroke="#111" stroke-width="0.22">SKOV3</text>
<line x1="98.4" y1="738.3" x2="98.4" y2="843.1" stroke="#222" stroke-width="1.3"/>
<line x1="97.8" y1="842.6" x2="226.8" y2="842.6" stroke="#222" stroke-width="1.3"/>
<line x1="95.6" y1="842.6" x2="98.4" y2="842.6" stroke="#222" stroke-width="1.2"/>
<text x="95.2" y="847" font-size="12.9" text-anchor="end" fill="#111" stroke="#111" stroke-width="0.22">0</text>
<line x1="95.6" y1="808" x2="98.4" y2="808" stroke="#222" stroke-width="1.2"/>
<text x="95.2" y="812.4" font-size="12.9" text-anchor="end" fill="#111" stroke="#111" stroke-width="0.22">0.5</text>
<line x1="95.6" y1="773.4" x2="98.4" y2="773.4" stroke="#222" stroke-width="1.2"/>
<text x="95.2" y="777.8" font-size="12.9" text-anchor="end" fill="#111" stroke="#111" stroke-width="0.22">1.0</text>
<line x1="95.6" y1="738.8" x2="98.4" y2="738.8" stroke="#222" stroke-width="1.2"/>
<text x="95.2" y="743.2" font-size="12.9" text-anchor="end" fill="#111" stroke="#111" stroke-width="0.22">1.5</text>
<line x1="99.3" y1="842.6" x2="99.3" y2="845.4" stroke="#222" stroke-width="1.2"/>
<text x="99.3" y="856.6" font-size="12" text-anchor="middle" fill="#111" stroke="#111" stroke-width="0.22">0</text>
<line x1="135.8" y1="842.6" x2="135.8" y2="845.4" stroke="#222" stroke-width="1.2"/>
<text x="135.8" y="856.6" font-size="12" text-anchor="middle" fill="#111" stroke="#111" stroke-width="0.22">3</text>
<line x1="172.3" y1="842.6" x2="172.3" y2="845.4" stroke="#222" stroke-width="1.2"/>
<text x="172.3" y="856.6" font-size="12" text-anchor="middle" fill="#111" stroke="#111" stroke-width="0.22">6</text>
<line x1="208.8" y1="842.6" x2="208.8" y2="845.4" stroke="#222" stroke-width="1.2"/>
<text x="208.8" y="856.6" font-size="12" text-anchor="middle" fill="#111" stroke="#111" stroke-width="0.22">9</text>
<text x="224.3" y="856.6" font-size="12" text-anchor="middle" fill="#111" stroke="#111" stroke-width="0.22">(h)</text>
<text x="158.6" y="867.8" font-size="13" text-anchor="middle" fill="#111" stroke="#111" stroke-width="0.22">Actinomycin D</text>
<text x="58.8" y="789" font-size="12.8" text-anchor="middle" fill="#111" stroke="#111" stroke-width="0.22" transform="rotate(-90 58.8 789)">Relative expression of</text>
<text x="76.4" y="789" font-size="12.8" text-anchor="middle" fill="#111" stroke="#111" stroke-width="0.22" transform="rotate(-90 76.4 789)">BRIP1</text>
<polyline points="99.3,773.4 135.8,784.5 172.3,792.1 208.8,810.1" fill="none" stroke="#f01818" stroke-width="1.4"/>
<circle cx="99.3" cy="773.4" r="2.9" fill="#f01818"/>
<line x1="135.8" y1="778.9" x2="135.8" y2="790" stroke="#f01818" stroke-width="1.3"/>
<line x1="132.8" y1="778.9" x2="138.8" y2="778.9" stroke="#f01818" stroke-width="1.3"/>
<line x1="132.8" y1="790" x2="138.8" y2="790" stroke="#f01818" stroke-width="1.3"/>
<circle cx="135.8" cy="784.5" r="2.9" fill="#f01818"/>
<line x1="172.3" y1="788.6" x2="172.3" y2="795.5" stroke="#f01818" stroke-width="1.3"/>
<line x1="169.3" y1="788.6" x2="175.3" y2="788.6" stroke="#f01818" stroke-width="1.3"/>
<line x1="169.3" y1="795.5" x2="175.3" y2="795.5" stroke="#f01818" stroke-width="1.3"/>
<circle cx="172.3" cy="792.1" r="2.9" fill="#f01818"/>
<line x1="208.8" y1="806.6" x2="208.8" y2="813.5" stroke="#f01818" stroke-width="1.3"/>
<line x1="205.8" y1="806.6" x2="211.8" y2="806.6" stroke="#f01818" stroke-width="1.3"/>
<line x1="205.8" y1="813.5" x2="211.8" y2="813.5" stroke="#f01818" stroke-width="1.3"/>
<circle cx="208.8" cy="810.1" r="2.9" fill="#f01818"/>
<polyline points="99.3,773.4 135.8,792.8 172.3,808.7 208.8,827.4" fill="none" stroke="#1818f0" stroke-width="1.4"/>
<line x1="99.3" y1="772" x2="99.3" y2="774.8" stroke="#1818f0" stroke-width="1.3"/>
<line x1="96.3" y1="772" x2="102.3" y2="772" stroke="#1818f0" stroke-width="1.3"/>
<line x1="96.3" y1="774.8" x2="102.3" y2="774.8" stroke="#1818f0" stroke-width="1.3"/>
<rect x="96.4" y="770.5" width="5.8" height="5.8" fill="#1818f0"/>
<line x1="135.8" y1="787.9" x2="135.8" y2="797.6" stroke="#1818f0" stroke-width="1.3"/>
<line x1="132.8" y1="787.9" x2="138.8" y2="787.9" stroke="#1818f0" stroke-width="1.3"/>
<line x1="132.8" y1="797.6" x2="138.8" y2="797.6" stroke="#1818f0" stroke-width="1.3"/>
<rect x="132.9" y="789.9" width="5.8" height="5.8" fill="#1818f0"/>
<line x1="172.3" y1="806.6" x2="172.3" y2="810.8" stroke="#1818f0" stroke-width="1.3"/>
<line x1="169.3" y1="806.6" x2="175.3" y2="806.6" stroke="#1818f0" stroke-width="1.3"/>
<line x1="169.3" y1="810.8" x2="175.3" y2="810.8" stroke="#1818f0" stroke-width="1.3"/>
<rect x="169.4" y="805.8" width="5.8" height="5.8" fill="#1818f0"/>
<line x1="208.8" y1="826.3" x2="208.8" y2="828.4" stroke="#1818f0" stroke-width="1.3"/>
<line x1="205.8" y1="826.3" x2="211.8" y2="826.3" stroke="#1818f0" stroke-width="1.3"/>
<line x1="205.8" y1="828.4" x2="211.8" y2="828.4" stroke="#1818f0" stroke-width="1.3"/>
<rect x="205.9" y="824.5" width="5.8" height="5.8" fill="#1818f0"/>
<text x="219" y="835.9" font-size="18.5" text-anchor="middle" fill="#111" stroke="#111" stroke-width="0.22">*</text>
<line x1="100.4" y1="743.1" x2="115.9" y2="743.1" stroke="#f01818" stroke-width="1.2"/>
<circle cx="108.2" cy="743.1" r="2.4" fill="#f01818"/>
<text x="117" y="747" font-size="13" fill="#111" stroke="#111" stroke-width="0.22">shCtrl</text>
<line x1="100.4" y1="754.8" x2="115.9" y2="754.8" stroke="#1818f0" stroke-width="1.2"/>
<rect x="105.8" y="752.5" width="4.8" height="4.6" fill="#1818f0"/>
<text x="117" y="758.7" font-size="13" fill="#111" stroke="#111" stroke-width="0.22">shLOXL1#2</text>
<text x="155.3" y="890.6" font-size="12.8" text-anchor="middle" fill="#111" stroke="#111" stroke-width="0.22">A2780</text>
<line x1="101.3" y1="902.1" x2="101.3" y2="1006.6" stroke="#222" stroke-width="1.3"/>
<line x1="100.7" y1="1006.1" x2="229.4" y2="1006.1" stroke="#222" stroke-width="1.3"/>
<line x1="98.5" y1="1006.1" x2="101.3" y2="1006.1" stroke="#222" stroke-width="1.2"/>
<text x="98.1" y="1010.5" font-size="12.9" text-anchor="end" fill="#111" stroke="#111" stroke-width="0.22">0</text>
<line x1="98.5" y1="971.6" x2="101.3" y2="971.6" stroke="#222" stroke-width="1.2"/>
<text x="98.1" y="976" font-size="12.9" text-anchor="end" fill="#111" stroke="#111" stroke-width="0.22">0.5</text>
<line x1="98.5" y1="937.1" x2="101.3" y2="937.1" stroke="#222" stroke-width="1.2"/>
<text x="98.1" y="941.5" font-size="12.9" text-anchor="end" fill="#111" stroke="#111" stroke-width="0.22">1.0</text>
<line x1="98.5" y1="902.6" x2="101.3" y2="902.6" stroke="#222" stroke-width="1.2"/>
<text x="98.1" y="907" font-size="12.9" text-anchor="end" fill="#111" stroke="#111" stroke-width="0.22">1.5</text>
<line x1="101.9" y1="1006.1" x2="101.9" y2="1008.9" stroke="#222" stroke-width="1.2"/>
<text x="101.9" y="1020.1" font-size="12" text-anchor="middle" fill="#111" stroke="#111" stroke-width="0.22">0</text>
<line x1="138.7" y1="1006.1" x2="138.7" y2="1008.9" stroke="#222" stroke-width="1.2"/>
<text x="138.7" y="1020.1" font-size="12" text-anchor="middle" fill="#111" stroke="#111" stroke-width="0.22">3</text>
<line x1="174.9" y1="1006.1" x2="174.9" y2="1008.9" stroke="#222" stroke-width="1.2"/>
<text x="174.9" y="1020.1" font-size="12" text-anchor="middle" fill="#111" stroke="#111" stroke-width="0.22">6</text>
<line x1="211.4" y1="1006.1" x2="211.4" y2="1008.9" stroke="#222" stroke-width="1.2"/>
<text x="211.4" y="1020.1" font-size="12" text-anchor="middle" fill="#111" stroke="#111" stroke-width="0.22">9</text>
<text x="226.9" y="1020.1" font-size="12" text-anchor="middle" fill="#111" stroke="#111" stroke-width="0.22">(h)</text>
<text x="161.2" y="1031.3" font-size="13" text-anchor="middle" fill="#111" stroke="#111" stroke-width="0.22">Actinomycin D</text>
<text x="61.7" y="952.6" font-size="12.8" text-anchor="middle" fill="#111" stroke="#111" stroke-width="0.22" transform="rotate(-90 61.7 952.6)">Relative expression of</text>
<text x="79.3" y="952.6" font-size="12.8" text-anchor="middle" fill="#111" stroke="#111" stroke-width="0.22" transform="rotate(-90 79.3 952.6)">BRIP1</text>
<polyline points="101.9,937.1 138.7,946.8 174.9,957.8 211.4,977.1" fill="none" stroke="#f01818" stroke-width="1.4"/>
<circle cx="101.9" cy="937.1" r="2.9" fill="#f01818"/>
<line x1="138.7" y1="943.3" x2="138.7" y2="950.2" stroke="#f01818" stroke-width="1.3"/>
<line x1="135.7" y1="943.3" x2="141.7" y2="943.3" stroke="#f01818" stroke-width="1.3"/>
<line x1="135.7" y1="950.2" x2="141.7" y2="950.2" stroke="#f01818" stroke-width="1.3"/>
<circle cx="138.7" cy="946.8" r="2.9" fill="#f01818"/>
<line x1="174.9" y1="953" x2="174.9" y2="962.6" stroke="#f01818" stroke-width="1.3"/>
<line x1="171.9" y1="953" x2="177.9" y2="953" stroke="#f01818" stroke-width="1.3"/>
<line x1="171.9" y1="962.6" x2="177.9" y2="962.6" stroke="#f01818" stroke-width="1.3"/>
<circle cx="174.9" cy="957.8" r="2.9" fill="#f01818"/>
<line x1="211.4" y1="973.7" x2="211.4" y2="980.6" stroke="#f01818" stroke-width="1.3"/>
<line x1="208.4" y1="973.7" x2="214.4" y2="973.7" stroke="#f01818" stroke-width="1.3"/>
<line x1="208.4" y1="980.6" x2="214.4" y2="980.6" stroke="#f01818" stroke-width="1.3"/>
<circle cx="211.4" cy="977.1" r="2.9" fill="#f01818"/>
<polyline points="101.9,937.1 138.7,958.5 174.9,977.8 211.4,991.6" fill="none" stroke="#1818f0" stroke-width="1.4"/>
<line x1="101.9" y1="935.7" x2="101.9" y2="938.5" stroke="#1818f0" stroke-width="1.3"/>
<line x1="98.9" y1="935.7" x2="104.9" y2="935.7" stroke="#1818f0" stroke-width="1.3"/>
<line x1="98.9" y1="938.5" x2="104.9" y2="938.5" stroke="#1818f0" stroke-width="1.3"/>
<rect x="99" y="934.2" width="5.8" height="5.8" fill="#1818f0"/>
<line x1="138.7" y1="954.4" x2="138.7" y2="962.6" stroke="#1818f0" stroke-width="1.3"/>
<line x1="135.7" y1="954.4" x2="141.7" y2="954.4" stroke="#1818f0" stroke-width="1.3"/>
<line x1="135.7" y1="962.6" x2="141.7" y2="962.6" stroke="#1818f0" stroke-width="1.3"/>
<rect x="135.8" y="955.6" width="5.8" height="5.8" fill="#1818f0"/>
<line x1="174.9" y1="974.4" x2="174.9" y2="981.3" stroke="#1818f0" stroke-width="1.3"/>
<line x1="171.9" y1="974.4" x2="177.9" y2="974.4" stroke="#1818f0" stroke-width="1.3"/>
<line x1="171.9" y1="981.3" x2="177.9" y2="981.3" stroke="#1818f0" stroke-width="1.3"/>
<rect x="172" y="974.9" width="5.8" height="5.8" fill="#1818f0"/>
<line x1="211.4" y1="990.2" x2="211.4" y2="993" stroke="#1818f0" stroke-width="1.3"/>
<line x1="208.4" y1="990.2" x2="214.4" y2="990.2" stroke="#1818f0" stroke-width="1.3"/>
<line x1="208.4" y1="993" x2="214.4" y2="993" stroke="#1818f0" stroke-width="1.3"/>
<rect x="208.5" y="988.7" width="5.8" height="5.8" fill="#1818f0"/>
<text x="221.6" y="1000.1" font-size="18.5" text-anchor="middle" fill="#111" stroke="#111" stroke-width="0.22">*</text>
<line x1="103.3" y1="906.3" x2="118.8" y2="906.3" stroke="#f01818" stroke-width="1.2"/>
<circle cx="111.1" cy="906.3" r="2.4" fill="#f01818"/>
<text x="119.9" y="910.2" font-size="13" fill="#111" stroke="#111" stroke-width="0.22">shCtrl</text>
<line x1="103.3" y1="918" x2="118.8" y2="918" stroke="#1818f0" stroke-width="1.2"/>
<rect x="108.7" y="915.7" width="4.8" height="4.6" fill="#1818f0"/>
<text x="119.9" y="921.9" font-size="13" fill="#111" stroke="#111" stroke-width="0.22">shLOXL1#2</text>
<text x="283.4" y="734.6" font-size="15.6" font-weight="bold" fill="#111" textLength="10.4" lengthAdjust="spacingAndGlyphs">H</text>
<text x="386" y="729.9" font-size="10.4" text-anchor="middle" fill="#111" stroke="#111" stroke-width="0.22">SKOV3</text>
<line x1="336.7" y1="731.3" x2="433.7" y2="731.3" stroke="#222" stroke-width="1"/>
<text x="342.9" y="780.8" font-size="10.3" fill="#111" stroke="#111" stroke-width="0.22" transform="rotate(-40.5 342.9 780.8)">shCtrl</text>
<text x="367.4" y="780" font-size="10.3" fill="#111" stroke="#111" stroke-width="0.22" transform="rotate(-40.5 367.4 780)">shLOXL1#2</text>
<text x="392" y="774.7" font-size="10.3" fill="#111" stroke="#111" stroke-width="0.22" transform="rotate(-40.5 392 774.7)">shLOXL1#2</text>
<text x="401.6" y="781.7" font-size="10.3" fill="#111" stroke="#111" stroke-width="0.22" transform="rotate(-40.5 401.6 781.7)">+BRIP1 cDNA</text>
<rect x="332.3" y="782.1" width="80.8" height="16.6" fill="#bdc1d2"/>
<g filter="url(#bblur)">
<rect x="338" y="788.8" width="18" height="3.8" rx="1.9" fill="#0a0a0a"/>
<rect x="364.2" y="789.9" width="2.5" height="1.5" rx="0.8" fill="#0a0a0a" fill-opacity="0.35"/>
<rect x="377.8" y="789.9" width="2.5" height="1.5" rx="0.8" fill="#0a0a0a" fill-opacity="0.30"/>
<rect x="388.2" y="788.4" width="19.5" height="4.6" rx="2.3" fill="#0a0a0a"/>
</g>
<rect x="332.3" y="782.1" width="80.8" height="16.6" fill="none" stroke="#1e1e1e" stroke-width="1.1"/>
<text x="330.9" y="794" font-size="10.6" text-anchor="end" fill="#111" stroke="#111" stroke-width="0.22">BRIP1</text>
<text x="346.3" y="806.1" font-size="7.7" text-anchor="middle" fill="#111" stroke="#111" letter-spacing="0.45" stroke-width="0.12">1.00</text>
<text x="371.9" y="806.1" font-size="7.7" text-anchor="middle" fill="#111" stroke="#111" letter-spacing="0.45" stroke-width="0.12">0.07</text>
<text x="397.9" y="806.1" font-size="7.7" text-anchor="middle" fill="#111" stroke="#111" letter-spacing="0.45" stroke-width="0.12">1.34</text>
<rect x="332.3" y="807.6" width="80.8" height="16.6" fill="#bdc1d2"/>
<g filter="url(#bblur)">
<rect x="336.5" y="813" width="21" height="6.4" rx="3.2" fill="#0a0a0a"/>
<rect x="362.5" y="814" width="19" height="4.4" rx="2.2" fill="#0a0a0a"/>
<rect x="388.2" y="813.5" width="19.5" height="5.4" rx="2.7" fill="#0a0a0a"/>
</g>
<rect x="332.3" y="807.6" width="80.8" height="16.6" fill="none" stroke="#1e1e1e" stroke-width="1.1"/>
<text x="330.9" y="819.5" font-size="10.6" text-anchor="end" fill="#111" stroke="#111" stroke-width="0.22">MMP9</text>
<text x="346.3" y="831.6" font-size="7.7" text-anchor="middle" fill="#111" stroke="#111" letter-spacing="0.45" stroke-width="0.12">1.00</text>
<text x="371.9" y="831.6" font-size="7.7" text-anchor="middle" fill="#111" stroke="#111" letter-spacing="0.45" stroke-width="0.12">0.41</text>
<text x="397.9" y="831.6" font-size="7.7" text-anchor="middle" fill="#111" stroke="#111" letter-spacing="0.45" stroke-width="0.12">0.87</text>
<rect x="332.3" y="833" width="80.8" height="16.6" fill="#bdc1d2"/>
<g filter="url(#bblur)">
<rect x="338.5" y="838.1" width="17" height="7" rx="3.5" fill="#0a0a0a"/>
<rect x="364.5" y="840.6" width="3" height="2" rx="1" fill="#0a0a0a" fill-opacity="0.12"/>
<rect x="376.5" y="840.6" width="3" height="2" rx="1" fill="#0a0a0a" fill-opacity="0.12"/>
<rect x="389.5" y="838.6" width="17" height="6" rx="3" fill="#0a0a0a"/>
</g>
<rect x="332.3" y="833" width="80.8" height="16.6" fill="none" stroke="#1e1e1e" stroke-width="1.1"/>
<text x="330.9" y="844.9" font-size="10.6" text-anchor="end" fill="#111" stroke="#111" stroke-width="0.22">N-cadherin</text>
<text x="346.3" y="857" font-size="7.7" text-anchor="middle" fill="#111" stroke="#111" letter-spacing="0.45" stroke-width="0.12">1.00</text>
<text x="371.9" y="857" font-size="7.7" text-anchor="middle" fill="#111" stroke="#111" letter-spacing="0.45" stroke-width="0.12">0.04</text>
<text x="397.9" y="857" font-size="7.7" text-anchor="middle" fill="#111" stroke="#111" letter-spacing="0.45" stroke-width="0.12">0.88</text>
<rect x="332.3" y="858.5" width="80.8" height="16.6" fill="#bdc1d2"/>
<g filter="url(#bblur)">
<rect x="338.8" y="865.8" width="3.5" height="2.6" rx="1.3" fill="#0a0a0a" fill-opacity="0.55"/>
<rect x="350.8" y="865.8" width="3.5" height="2.6" rx="1.3" fill="#0a0a0a" fill-opacity="0.60"/>
<rect x="362.5" y="863.3" width="19" height="7.5" rx="3.8" fill="#0a0a0a"/>
<rect x="391.5" y="866.1" width="3" height="2" rx="1" fill="#0a0a0a" fill-opacity="0.22"/>
<rect x="402.5" y="866.1" width="3" height="2" rx="1" fill="#0a0a0a" fill-opacity="0.35"/>
</g>
<rect x="332.3" y="858.5" width="80.8" height="16.6" fill="none" stroke="#1e1e1e" stroke-width="1.1"/>
<text x="330.9" y="870.4" font-size="10.6" text-anchor="end" fill="#111" stroke="#111" stroke-width="0.22">E-cadherin</text>
<text x="346.3" y="882.5" font-size="7.7" text-anchor="middle" fill="#111" stroke="#111" letter-spacing="0.45" stroke-width="0.12">1.00</text>
<text x="371.9" y="882.5" font-size="7.7" text-anchor="middle" fill="#111" stroke="#111" letter-spacing="0.45" stroke-width="0.12">23.26</text>
<text x="397.9" y="882.5" font-size="7.7" text-anchor="middle" fill="#111" stroke="#111" letter-spacing="0.45" stroke-width="0.12">0.78</text>
<rect x="332.3" y="883.9" width="80.8" height="16.6" fill="#bdc1d2"/>
<g filter="url(#bblur)">
<rect x="337.5" y="889.9" width="19" height="5.2" rx="2.6" fill="#0a0a0a"/>
<rect x="364.2" y="891.4" width="4.5" height="2.2" rx="1.1" fill="#0a0a0a" fill-opacity="0.95"/>
<rect x="376" y="891.5" width="4" height="2" rx="1" fill="#0a0a0a" fill-opacity="0.90"/>
<rect x="388.5" y="890" width="19" height="5" rx="2.5" fill="#0a0a0a"/>
</g>
<rect x="332.3" y="883.9" width="80.8" height="16.6" fill="none" stroke="#1e1e1e" stroke-width="1.1"/>
<text x="330.9" y="895.8" font-size="10.6" text-anchor="end" fill="#111" stroke="#111" stroke-width="0.22">Vimentin</text>
<text x="346.3" y="907.9" font-size="7.7" text-anchor="middle" fill="#111" stroke="#111" letter-spacing="0.45" stroke-width="0.12">1.00</text>
<text x="371.9" y="907.9" font-size="7.7" text-anchor="middle" fill="#111" stroke="#111" letter-spacing="0.45" stroke-width="0.12">0.14</text>
<text x="397.9" y="907.9" font-size="7.7" text-anchor="middle" fill="#111" stroke="#111" letter-spacing="0.45" stroke-width="0.12">0.82</text>
<rect x="332.3" y="909.4" width="80.8" height="16.6" fill="#bdc1d2"/>
<g filter="url(#bblur)">
<rect x="337.5" y="915.5" width="19" height="5" rx="2.5" fill="#0a0a0a"/>
<rect x="365" y="916.2" width="14" height="3.5" rx="1.8" fill="#0a0a0a" fill-opacity="0.95"/>
<rect x="388.5" y="915.2" width="19" height="5.5" rx="2.8" fill="#0a0a0a"/>
</g>
<rect x="332.3" y="909.4" width="80.8" height="16.6" fill="none" stroke="#1e1e1e" stroke-width="1.1"/>
<text x="330.9" y="921.3" font-size="10.6" text-anchor="end" fill="#111" stroke="#111" stroke-width="0.22">Bcl-2</text>
<text x="346.3" y="933.4" font-size="7.7" text-anchor="middle" fill="#111" stroke="#111" letter-spacing="0.45" stroke-width="0.12">1.00</text>
<text x="371.9" y="933.4" font-size="7.7" text-anchor="middle" fill="#111" stroke="#111" letter-spacing="0.45" stroke-width="0.12">0.21</text>
<text x="397.9" y="933.4" font-size="7.7" text-anchor="middle" fill="#111" stroke="#111" letter-spacing="0.45" stroke-width="0.12">0.91</text>
<rect x="332.3" y="934.9" width="80.8" height="16.6" fill="#bdc1d2"/>
<g filter="url(#bblur)">
<rect x="338.2" y="941.9" width="3.5" height="3.2" rx="1.6" fill="#0a0a0a" fill-opacity="0.95"/>
<rect x="351" y="942.2" width="3" height="2.6" rx="1.3" fill="#0a0a0a" fill-opacity="0.60"/>
<rect x="362.5" y="938" width="19" height="11" rx="5.5" fill="#0a0a0a"/>
<rect x="390.5" y="941.8" width="5" height="3.4" rx="1.7" fill="#0a0a0a" fill-opacity="0.85"/>
<rect x="402.5" y="942.3" width="3" height="2.4" rx="1.2" fill="#0a0a0a" fill-opacity="0.60"/>
</g>
<rect x="332.3" y="934.9" width="80.8" height="16.6" fill="none" stroke="#1e1e1e" stroke-width="1.1"/>
<text x="330.9" y="946.8" font-size="10.6" text-anchor="end" fill="#111" stroke="#111" stroke-width="0.22">BAX</text>
<text x="346.3" y="958.9" font-size="7.7" text-anchor="middle" fill="#111" stroke="#111" letter-spacing="0.45" stroke-width="0.12">1.00</text>
<text x="371.9" y="958.9" font-size="7.7" text-anchor="middle" fill="#111" stroke="#111" letter-spacing="0.45" stroke-width="0.12">28.45</text>
<text x="397.9" y="958.9" font-size="7.7" text-anchor="middle" fill="#111" stroke="#111" letter-spacing="0.45" stroke-width="0.12">1.14</text>
<rect x="332.3" y="960.3" width="80.8" height="16.6" fill="#bdc1d2"/>
<g filter="url(#bblur)">
<rect x="337.5" y="965.3" width="19" height="7.2" rx="3.6" fill="#0a0a0a"/>
<rect x="365" y="966.8" width="14" height="4.2" rx="2.1" fill="#0a0a0a"/>
<rect x="386.5" y="965.9" width="23" height="6" rx="3" fill="#0a0a0a"/>
</g>
<rect x="332.3" y="960.3" width="80.8" height="16.6" fill="none" stroke="#1e1e1e" stroke-width="1.1"/>
<text x="330.9" y="972.2" font-size="10.6" text-anchor="end" fill="#111" stroke="#111" stroke-width="0.22">Bcl-xl</text>
<text x="346.3" y="984.3" font-size="7.7" text-anchor="middle" fill="#111" stroke="#111" letter-spacing="0.45" stroke-width="0.12">1.00</text>
<text x="371.9" y="984.3" font-size="7.7" text-anchor="middle" fill="#111" stroke="#111" letter-spacing="0.45" stroke-width="0.12">0.43</text>
<text x="397.9" y="984.3" font-size="7.7" text-anchor="middle" fill="#111" stroke="#111" letter-spacing="0.45" stroke-width="0.12">1.23</text>
<rect x="332.3" y="985.8" width="80.8" height="16.6" fill="#bdc1d2"/>
<g filter="url(#bblur)">
<rect x="337.8" y="991.3" width="18.5" height="6.2" rx="3.1" fill="#0a0a0a"/>
<rect x="363.2" y="991.6" width="17.5" height="5.6" rx="2.8" fill="#0a0a0a"/>
<rect x="389.5" y="991.6" width="17" height="5.6" rx="2.8" fill="#0a0a0a"/>
</g>
<rect x="332.3" y="985.8" width="80.8" height="16.6" fill="none" stroke="#1e1e1e" stroke-width="1.1"/>
<text x="330.9" y="997.7" font-size="10.6" text-anchor="end" fill="#111" stroke="#111" stroke-width="0.22">β-actin</text>
<text x="346.3" y="1009.8" font-size="7.7" text-anchor="middle" fill="#111" stroke="#111" letter-spacing="0.45" stroke-width="0.12">1.00</text>
<text x="371.9" y="1009.8" font-size="7.7" text-anchor="middle" fill="#111" stroke="#111" letter-spacing="0.45" stroke-width="0.12">0.83</text>
<text x="397.9" y="1009.8" font-size="7.7" text-anchor="middle" fill="#111" stroke="#111" letter-spacing="0.45" stroke-width="0.12">0.72</text>
<text x="596.2" y="728.3" font-size="10.4" text-anchor="middle" fill="#111" stroke="#111" stroke-width="0.22">A2780</text>
<line x1="547.4" y1="729.7" x2="644.2" y2="729.7" stroke="#222" stroke-width="1"/>
<text x="553.2" y="779.4" font-size="10.3" fill="#111" stroke="#111" stroke-width="0.22" transform="rotate(-40.5 553.2 779.4)">shCtrl</text>
<text x="578.6" y="778.5" font-size="10.3" fill="#111" stroke="#111" stroke-width="0.22" transform="rotate(-40.5 578.6 778.5)">shLOXL1#2</text>
<text x="603.1" y="772.3" font-size="10.3" fill="#111" stroke="#111" stroke-width="0.22" transform="rotate(-40.5 603.1 772.3)">shLOXL1#2</text>
<text x="611.8" y="779.4" font-size="10.3" fill="#111" stroke="#111" stroke-width="0.22" transform="rotate(-40.5 611.8 779.4)">+BRIP1 cDNA</text>
<rect x="542.1" y="780.5" width="80.9" height="16.7" fill="#bdc1d2"/>
<g filter="url(#bblur)">
<rect x="548" y="787.1" width="18" height="4" rx="2" fill="#0a0a0a"/>
<rect x="576.2" y="788.4" width="3.5" height="1.5" rx="0.8" fill="#0a0a0a" fill-opacity="0.35"/>
<rect x="586" y="787.9" width="4" height="2.6" rx="1.3" fill="#0a0a0a" fill-opacity="0.90"/>
<rect x="599" y="787.1" width="18" height="4" rx="2" fill="#0a0a0a"/>
</g>
<rect x="542.1" y="780.5" width="80.9" height="16.7" fill="none" stroke="#1e1e1e" stroke-width="1.1"/>
<text x="541.5" y="792.5" font-size="10.6" text-anchor="end" fill="#111" stroke="#111" stroke-width="0.22">BRIP1</text>
<text x="557.1" y="804.6" font-size="7.7" text-anchor="middle" fill="#111" stroke="#111" letter-spacing="0.45" stroke-width="0.12">1.00</text>
<text x="581.8" y="804.6" font-size="7.7" text-anchor="middle" fill="#111" stroke="#111" letter-spacing="0.45" stroke-width="0.12">0.09</text>
<text x="608.4" y="804.6" font-size="7.7" text-anchor="middle" fill="#111" stroke="#111" letter-spacing="0.45" stroke-width="0.12">1.16</text>
<rect x="542.1" y="806" width="80.9" height="16.7" fill="#bdc1d2"/>
<g filter="url(#bblur)">
<rect x="545.5" y="811.4" width="23" height="6.5" rx="3.2" fill="#0a0a0a"/>
<rect x="572.2" y="812.2" width="19.5" height="4.8" rx="2.4" fill="#0a0a0a"/>
<rect x="597.5" y="812.2" width="21" height="4.8" rx="2.4" fill="#0a0a0a"/>
</g>
<rect x="542.1" y="806" width="80.9" height="16.7" fill="none" stroke="#1e1e1e" stroke-width="1.1"/>
<text x="541.5" y="817.9" font-size="10.6" text-anchor="end" fill="#111" stroke="#111" stroke-width="0.22">MMP9</text>
<text x="557.1" y="830.1" font-size="7.7" text-anchor="middle" fill="#111" stroke="#111" letter-spacing="0.45" stroke-width="0.12">1.00</text>
<text x="581.8" y="830.1" font-size="7.7" text-anchor="middle" fill="#111" stroke="#111" letter-spacing="0.45" stroke-width="0.12">0.34</text>
<text x="608.4" y="830.1" font-size="7.7" text-anchor="middle" fill="#111" stroke="#111" letter-spacing="0.45" stroke-width="0.12">0.72</text>
<rect x="542.1" y="831.4" width="80.9" height="16.7" fill="#bdc1d2"/>
<g filter="url(#bblur)">
<rect x="548" y="837.4" width="18" height="5.2" rx="2.6" fill="#0a0a0a"/>
<rect x="575.5" y="838.8" width="5" height="2.5" rx="1.2" fill="#0a0a0a" fill-opacity="0.80"/>
<rect x="586.5" y="839.3" width="3" height="1.5" rx="0.8" fill="#0a0a0a" fill-opacity="0.20"/>
<rect x="599" y="837.5" width="18" height="5" rx="2.5" fill="#0a0a0a"/>
</g>
<rect x="542.1" y="831.4" width="80.9" height="16.7" fill="none" stroke="#1e1e1e" stroke-width="1.1"/>
<text x="541.5" y="843.4" font-size="10.6" text-anchor="end" fill="#111" stroke="#111" stroke-width="0.22">N-cadherin</text>
<text x="557.1" y="855.5" font-size="7.7" text-anchor="middle" fill="#111" stroke="#111" letter-spacing="0.45" stroke-width="0.12">1.00</text>
<text x="581.8" y="855.5" font-size="7.7" text-anchor="middle" fill="#111" stroke="#111" letter-spacing="0.45" stroke-width="0.12">0.08</text>
<text x="608.4" y="855.5" font-size="7.7" text-anchor="middle" fill="#111" stroke="#111" letter-spacing="0.45" stroke-width="0.12">1.06</text>
<rect x="542.1" y="856.9" width="80.9" height="16.7" fill="#bdc1d2"/>
<g filter="url(#bblur)">
<rect x="549.5" y="864.6" width="3" height="1.8" rx="0.9" fill="#0a0a0a" fill-opacity="0.50"/>
<rect x="561.5" y="864.5" width="3" height="2" rx="1" fill="#0a0a0a" fill-opacity="0.60"/>
<rect x="572" y="861.5" width="20" height="8" rx="4" fill="#0a0a0a"/>
<rect x="601.5" y="864.8" width="3" height="1.5" rx="0.8" fill="#0a0a0a" fill-opacity="0.30"/>
<rect x="612.5" y="864.6" width="3" height="1.8" rx="0.9" fill="#0a0a0a" fill-opacity="0.35"/>
</g>
<rect x="542.1" y="856.9" width="80.9" height="16.7" fill="none" stroke="#1e1e1e" stroke-width="1.1"/>
<text x="541.5" y="868.8" font-size="10.6" text-anchor="end" fill="#111" stroke="#111" stroke-width="0.22">E-cadherin</text>
<text x="557.1" y="881" font-size="7.7" text-anchor="middle" fill="#111" stroke="#111" letter-spacing="0.45" stroke-width="0.12">1.00</text>
<text x="581.8" y="881" font-size="7.7" text-anchor="middle" fill="#111" stroke="#111" letter-spacing="0.45" stroke-width="0.12">25.23</text>
<text x="608.4" y="881" font-size="7.7" text-anchor="middle" fill="#111" stroke="#111" letter-spacing="0.45" stroke-width="0.12">0.84</text>
<rect x="542.1" y="882.3" width="80.9" height="16.7" fill="#bdc1d2"/>
<g filter="url(#bblur)">
<rect x="548" y="887.9" width="18" height="6" rx="3" fill="#0a0a0a"/>
<rect x="576" y="889.7" width="5" height="2.5" rx="1.2" fill="#0a0a0a" fill-opacity="0.75"/>
<rect x="586" y="889.7" width="4" height="2.5" rx="1.2" fill="#0a0a0a" fill-opacity="0.90"/>
<rect x="598.5" y="888.2" width="19" height="5.5" rx="2.8" fill="#0a0a0a"/>
</g>
<rect x="542.1" y="882.3" width="80.9" height="16.7" fill="none" stroke="#1e1e1e" stroke-width="1.1"/>
<text x="541.5" y="894.2" font-size="10.6" text-anchor="end" fill="#111" stroke="#111" stroke-width="0.22">Vimentin</text>
<text x="557.1" y="906.4" font-size="7.7" text-anchor="middle" fill="#111" stroke="#111" letter-spacing="0.45" stroke-width="0.12">1.00</text>
<text x="581.8" y="906.4" font-size="7.7" text-anchor="middle" fill="#111" stroke="#111" letter-spacing="0.45" stroke-width="0.12">0.17</text>
<text x="608.4" y="906.4" font-size="7.7" text-anchor="middle" fill="#111" stroke="#111" letter-spacing="0.45" stroke-width="0.12">0.84</text>
<rect x="542.1" y="907.8" width="80.9" height="16.7" fill="#bdc1d2"/>
<g filter="url(#bblur)">
<rect x="547.5" y="913.9" width="19" height="5" rx="2.5" fill="#0a0a0a"/>
<rect x="575" y="914.4" width="14" height="4" rx="2" fill="#0a0a0a"/>
<rect x="599" y="913.6" width="18" height="5.5" rx="2.8" fill="#0a0a0a"/>
</g>
<rect x="542.1" y="907.8" width="80.9" height="16.7" fill="none" stroke="#1e1e1e" stroke-width="1.1"/>
<text x="541.5" y="919.7" font-size="10.6" text-anchor="end" fill="#111" stroke="#111" stroke-width="0.22">Bcl-2</text>
<text x="557.1" y="931.9" font-size="7.7" text-anchor="middle" fill="#111" stroke="#111" letter-spacing="0.45" stroke-width="0.12">1.00</text>
<text x="581.8" y="931.9" font-size="7.7" text-anchor="middle" fill="#111" stroke="#111" letter-spacing="0.45" stroke-width="0.12">0.41</text>
<text x="608.4" y="931.9" font-size="7.7" text-anchor="middle" fill="#111" stroke="#111" letter-spacing="0.45" stroke-width="0.12">0.87</text>
<rect x="542.1" y="933.2" width="80.9" height="16.7" fill="#bdc1d2"/>
<g filter="url(#bblur)">
<rect x="550" y="941.1" width="2" height="1.5" rx="0.8" fill="#0a0a0a" fill-opacity="0.15"/>
<rect x="560.8" y="940.9" width="2.5" height="2" rx="1" fill="#0a0a0a" fill-opacity="0.60"/>
<rect x="572.5" y="938.9" width="19" height="6" rx="3" fill="#0a0a0a"/>
<rect x="601" y="940.2" width="4" height="3.2" rx="1.6" fill="#0a0a0a"/>
<rect x="613.2" y="940.4" width="3.5" height="3" rx="1.5" fill="#0a0a0a"/>
</g>
<rect x="542.1" y="933.2" width="80.9" height="16.7" fill="none" stroke="#1e1e1e" stroke-width="1.1"/>
<text x="541.5" y="945.2" font-size="10.6" text-anchor="end" fill="#111" stroke="#111" stroke-width="0.22">BAX</text>
<text x="557.1" y="957.3" font-size="7.7" text-anchor="middle" fill="#111" stroke="#111" letter-spacing="0.45" stroke-width="0.12">1.00</text>
<text x="581.8" y="957.3" font-size="7.7" text-anchor="middle" fill="#111" stroke="#111" letter-spacing="0.45" stroke-width="0.12">21.32</text>
<text x="608.4" y="957.3" font-size="7.7" text-anchor="middle" fill="#111" stroke="#111" letter-spacing="0.45" stroke-width="0.12">1.87</text>
<rect x="542.1" y="958.6" width="80.9" height="16.7" fill="#bdc1d2"/>
<g filter="url(#bblur)">
<rect x="546" y="963.5" width="22" height="7.5" rx="3.8" fill="#0a0a0a"/>
<rect x="572.5" y="964.3" width="19" height="6" rx="3" fill="#0a0a0a"/>
<rect x="598.5" y="964.3" width="19" height="6" rx="3" fill="#0a0a0a"/>
</g>
<rect x="542.1" y="958.6" width="80.9" height="16.7" fill="none" stroke="#1e1e1e" stroke-width="1.1"/>
<text x="541.5" y="970.6" font-size="10.6" text-anchor="end" fill="#111" stroke="#111" stroke-width="0.22">Bcl-xl</text>
<text x="557.1" y="982.8" font-size="7.7" text-anchor="middle" fill="#111" stroke="#111" letter-spacing="0.45" stroke-width="0.12">1.00</text>
<text x="581.8" y="982.8" font-size="7.7" text-anchor="middle" fill="#111" stroke="#111" letter-spacing="0.45" stroke-width="0.12">0.37</text>
<text x="608.4" y="982.8" font-size="7.7" text-anchor="middle" fill="#111" stroke="#111" letter-spacing="0.45" stroke-width="0.12">0.76</text>
<rect x="542.1" y="984.1" width="80.9" height="16.7" fill="#bdc1d2"/>
<g filter="url(#bblur)">
<rect x="548.5" y="989" width="17" height="7.5" rx="3.8" fill="#0a0a0a"/>
<rect x="573.5" y="989" width="17" height="7.5" rx="3.8" fill="#0a0a0a"/>
<rect x="599" y="989" width="18" height="7.5" rx="3.8" fill="#0a0a0a"/>
</g>
<rect x="542.1" y="984.1" width="80.9" height="16.7" fill="none" stroke="#1e1e1e" stroke-width="1.1"/>
<text x="541.5" y="996.1" font-size="10.6" text-anchor="end" fill="#111" stroke="#111" stroke-width="0.22">β-actin</text>
<text x="557.1" y="1008.2" font-size="7.7" text-anchor="middle" fill="#111" stroke="#111" letter-spacing="0.45" stroke-width="0.12">1.00</text>
<text x="581.8" y="1008.2" font-size="7.7" text-anchor="middle" fill="#111" stroke="#111" letter-spacing="0.45" stroke-width="0.12">1.14</text>
<text x="608.4" y="1008.2" font-size="7.7" text-anchor="middle" fill="#111" stroke="#111" letter-spacing="0.45" stroke-width="0.12">1.42</text>
</svg></body></html>
